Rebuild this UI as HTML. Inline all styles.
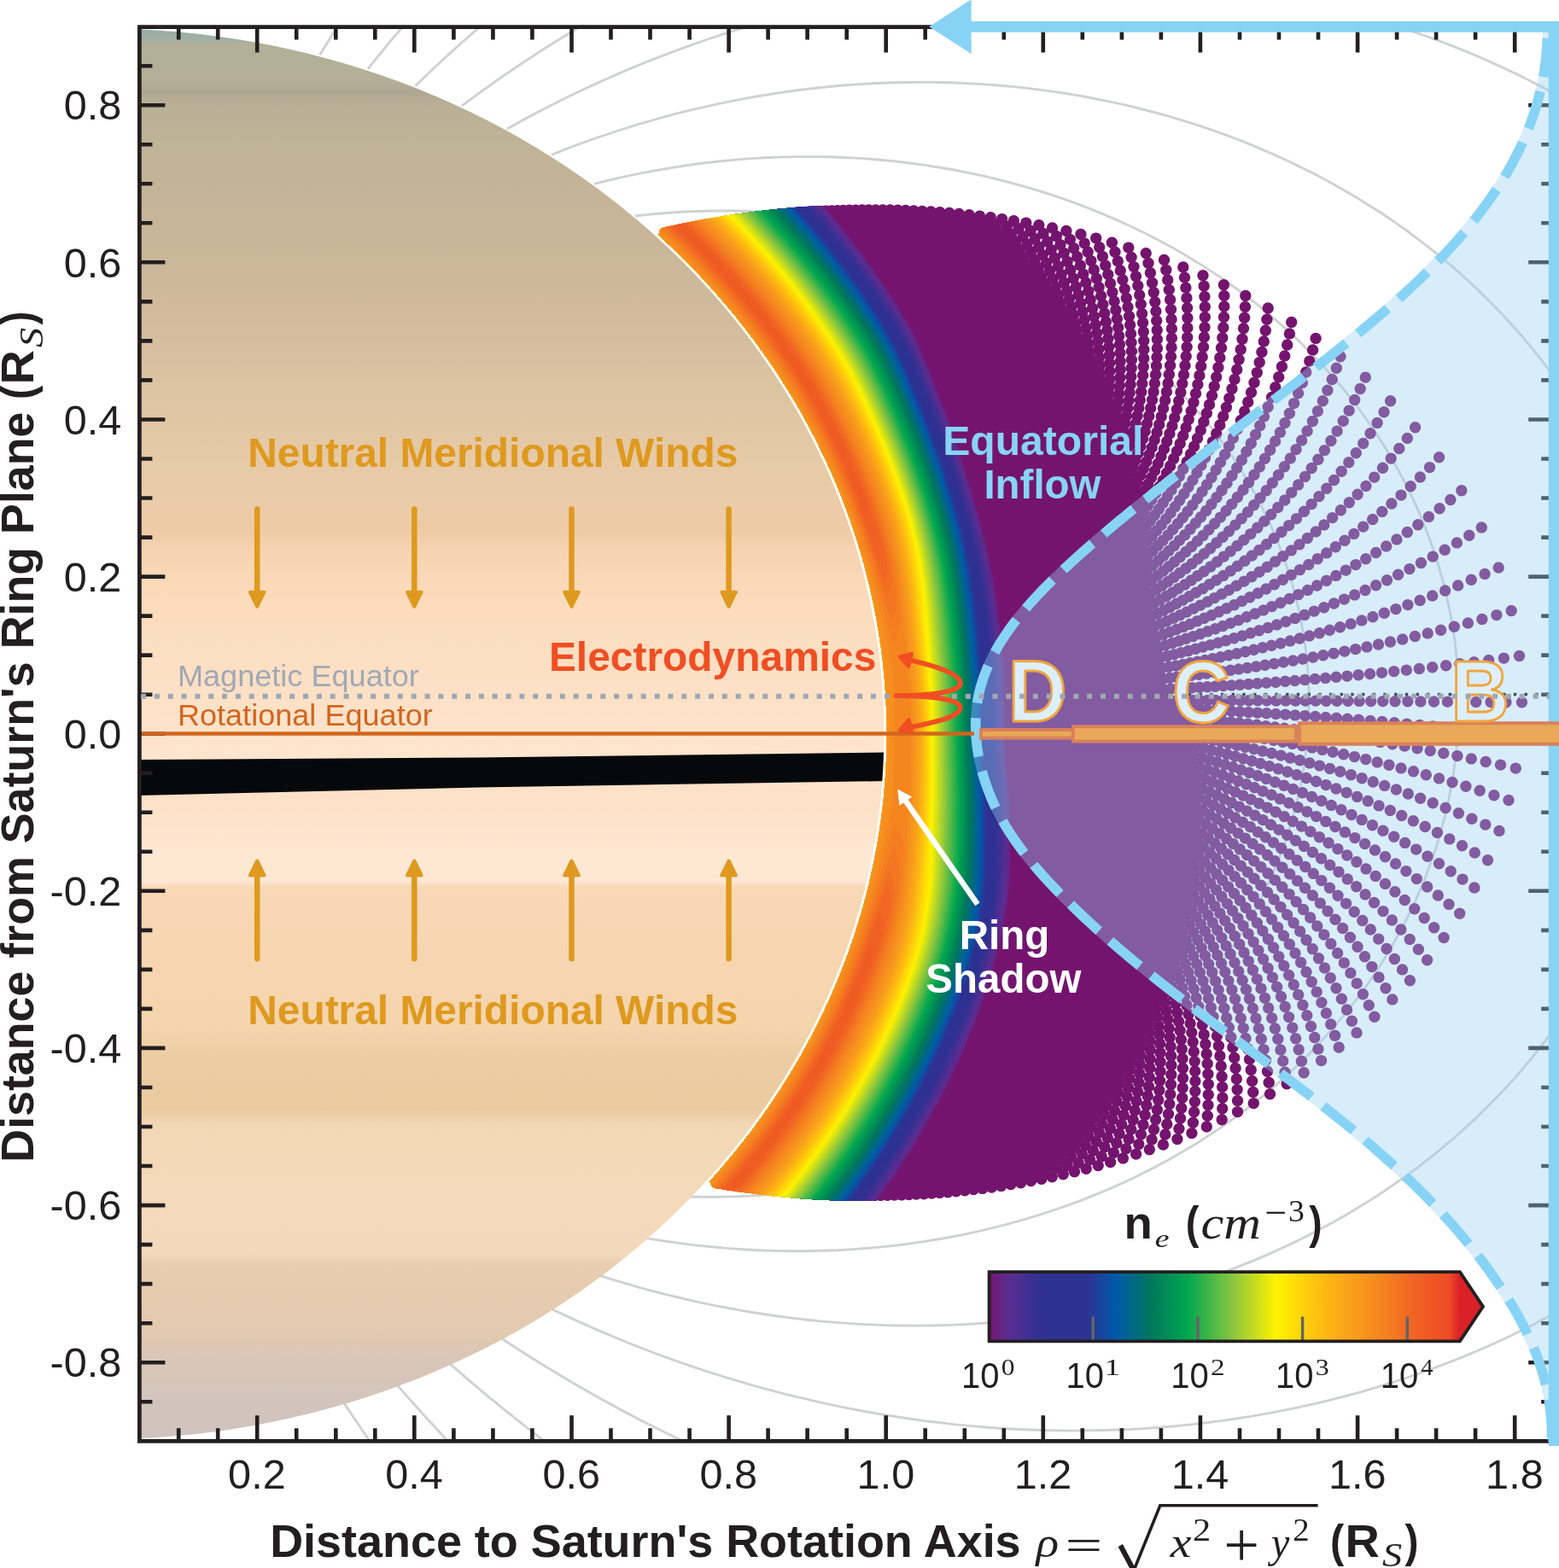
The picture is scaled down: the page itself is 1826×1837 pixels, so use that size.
<!DOCTYPE html>
<html lang="en"><head><meta charset="utf-8"><title>Saturn ionosphere schematic</title>
<style>html,body{margin:0;padding:0;background:#fff}svg{display:block}</style></head>
<body>
<svg xmlns="http://www.w3.org/2000/svg" width="1826" height="1837" viewBox="0 0 1826 1837">
<defs><clipPath id="plot"><rect x="161.1" y="29.2" width="1664.9" height="1661.4"/></clipPath>
<linearGradient id="sat" gradientUnits="userSpaceOnUse" x1="0" y1="0" x2="0" y2="1837"><stop offset="0.0169" stop-color="#96aaa8"/><stop offset="0.0250" stop-color="#a0b0a8"/><stop offset="0.0283" stop-color="#b2b098"/><stop offset="0.0517" stop-color="#b4af96"/><stop offset="0.0588" stop-color="#aea790"/><stop offset="0.0664" stop-color="#b8b096"/><stop offset="0.0898" stop-color="#bfb398"/><stop offset="0.1394" stop-color="#c7b597"/><stop offset="0.1884" stop-color="#ceb99a"/><stop offset="0.2379" stop-color="#dac2a1"/><stop offset="0.2869" stop-color="#e5c9a6"/><stop offset="0.3266" stop-color="#eccca8"/><stop offset="0.3386" stop-color="#eecaa6"/><stop offset="0.3511" stop-color="#f6d4b1"/><stop offset="0.3811" stop-color="#fbdbbb"/><stop offset="0.4355" stop-color="#fde0c5"/><stop offset="0.4682" stop-color="#fee3ca"/><stop offset="0.4818" stop-color="#fee5ce"/><stop offset="0.5090" stop-color="#fce1c6"/><stop offset="0.5297" stop-color="#fde4cd"/><stop offset="0.5444" stop-color="#fee8d4"/><stop offset="0.5618" stop-color="#fee8d4"/><stop offset="0.5661" stop-color="#f8d8b5"/><stop offset="0.5988" stop-color="#f7d6b2"/><stop offset="0.6532" stop-color="#f4d5ad"/><stop offset="0.6750" stop-color="#eccda3"/><stop offset="0.7077" stop-color="#eacba0"/><stop offset="0.7175" stop-color="#f3d8b6"/><stop offset="0.7621" stop-color="#f4daba"/><stop offset="0.8002" stop-color="#f3d9bb"/><stop offset="0.8068" stop-color="#e8cdaf"/><stop offset="0.8492" stop-color="#e3c9af"/><stop offset="0.8710" stop-color="#d8c6b8"/><stop offset="0.9200" stop-color="#cdc3be"/></linearGradient>
<clipPath id="satc"><ellipse cx="117.1" cy="859.7" rx="918.3" ry="826.5"/></clipPath>
<clipPath id="reg"><path d="M780.1,279.7 778.7,279.9 777.3,279.8 776,279.3 774.7,278.6 773.7,277.7 772.9,276.6 772.3,275.3 772,273.9 772,272.5 772.3,271.2 772.8,269.9 773.6,268.8 774.7,267.8 775.9,267.1 777.2,266.7 777.2,266.7 783.5,265.3 789.9,263.9 796.2,262.6 802.6,261.3 809,260 815.5,258.8 821.9,257.6 828.4,256.4 834.9,255.3 841.4,254.2 847.9,253.1 854.5,252.1 861,251.1 867.6,250.2 874.2,249.3 880.8,248.4 887.5,247.6 894.1,246.8 900.8,246 907.4,245.3 914.1,244.6 920.8,244 927.6,243.3 934.3,242.8 941,242.3 947.8,241.8 954.5,241.3 961.3,240.9 968.1,240.6 974.9,240.2 981.7,240 988.5,239.7 995.3,239.5 1002.2,239.4 1009,239.3 1015.9,239.2 1022.7,239.2 1029.6,239.2 1036.4,239.2 1043.3,239.3 1050.2,239.5 1057,239.7 1063.9,239.9 1070.8,240.2 1077.7,240.5 1084.5,240.9 1091.4,241.3 1098.3,241.8 1105.2,242.3 1112.1,242.8 1118.9,243.4 1125.8,244.1 1132.7,244.7 1139.6,245.5 1146.4,246.3 1153.3,247.1 1160.1,247.9 1167,248.9 1173.8,249.8 1180.7,250.8 1187.5,251.9 1194.3,253 1201.1,254.2 1207.9,255.4 1214.7,256.6 1221.5,257.9 1228.3,259.2 1235,260.6 1241.8,262.1 1248.5,263.5 1255.2,265.1 1261.9,266.7 1268.6,268.3 1275.3,270 1281.9,271.7 1288.6,273.5 1295.2,275.3 1301.8,277.1 1308.4,279 1315,281 1321.5,283 1328,285.1 1334.5,287.2 1341,289.3 1347.5,291.5 1353.9,293.8 1360.3,296.1 1366.7,298.4 1373.1,300.8 1379.4,303.2 1385.7,305.7 1392,308.2 1398.3,310.8 1404.5,313.4 1410.7,316.1 1416.8,318.8 1423,321.6 1429.1,324.4 1435.2,327.3 1441.2,330.2 1447.2,333.1 1453.2,336.1 1459.1,339.2 1465,342.2 1470.9,345.4 1476.7,348.5 1482.5,351.8 1488.3,355 1494,358.3 1499.7,361.7 1505.3,365.1 1511,368.5 1516.5,372 1522,375.6 1527.5,379.1 1533,382.7 1538.4,386.4 1543.7,390.1 1549,393.8 1554.3,397.6 1559.5,401.5 1564.7,405.3 1569.8,409.2 1574.9,413.2 1579.9,417.2 1584.9,421.2 1589.9,425.3 1594.8,429.4 1599.6,433.5 1604.4,437.7 1609.1,441.9 1613.8,446.2 1618.5,450.5 1623.1,454.8 1627.6,459.2 1632.1,463.6 1636.5,468.1 1640.9,472.6 1645.2,477.1 1649.4,481.6 1653.6,486.2 1657.8,490.8 1661.9,495.5 1665.9,500.2 1669.9,504.9 1673.8,509.7 1677.7,514.4 1681.5,519.3 1685.2,524.1 1688.9,529 1692.5,533.9 1696.1,538.8 1699.6,543.8 1703,548.8 1706.4,553.8 1709.7,558.9 1713,564 1716.2,569.1 1719.3,574.2 1722.3,579.4 1725.3,584.6 1728.3,589.8 1731.1,595 1733.9,600.3 1736.7,605.6 1739.3,610.9 1741.9,616.2 1744.5,621.5 1746.9,626.9 1749.3,632.3 1751.7,637.7 1753.9,643.2 1756.1,648.6 1758.3,654.1 1760.3,659.6 1762.3,665.1 1764.2,670.6 1766.1,676.1 1767.8,681.7 1769.6,687.2 1771.2,692.8 1772.8,698.4 1774.3,704 1775.7,709.6 1777,715.3 1778.3,720.9 1779.5,726.6 1780.7,732.2 1781.8,737.9 1782.8,743.6 1783.7,749.3 1784.5,755 1785.3,760.7 1786,766.4 1786.7,772.1 1787.2,777.8 1787.7,783.5 1788.2,789.3 1788.5,795 1788.8,800.7 1789,806.5 1789.1,812.2 1789.2,818 1789.1,823.7 1789.1,829.4 1788.9,835.2 1788.7,840.9 1788.4,846.6 1788,852.4 1787.6,858.1 1787,863.8 1786.5,869.5 1785.8,875.3 1785.1,881 1784.3,886.7 1783.4,892.4 1782.5,898 1781.5,903.7 1780.4,909.4 1779.2,915 1778,920.7 1776.7,926.3 1775.4,932 1773.9,937.6 1772.4,943.2 1770.9,948.8 1769.2,954.3 1767.5,959.9 1765.7,965.5 1763.9,971 1762,976.5 1760,982 1758,987.5 1755.8,993 1753.7,998.4 1751.4,1003.8 1749.1,1009.2 1746.7,1014.6 1744.3,1020 1741.8,1025.3 1739.2,1030.7 1736.5,1036 1733.8,1041.3 1731.1,1046.5 1728.2,1051.8 1725.3,1057 1722.4,1062.2 1719.3,1067.3 1716.2,1072.5 1713.1,1077.6 1709.9,1082.7 1706.6,1087.7 1703.2,1092.7 1699.8,1097.7 1696.4,1102.7 1692.9,1107.7 1689.3,1112.6 1685.7,1117.5 1682,1122.3 1678.2,1127.2 1674.4,1132 1670.5,1136.7 1666.6,1141.4 1662.6,1146.1 1658.6,1150.8 1654.5,1155.4 1650.3,1160 1646.1,1164.6 1641.8,1169.1 1637.5,1173.6 1633.2,1178.1 1628.7,1182.5 1624.3,1186.9 1619.7,1191.3 1615.2,1195.6 1610.5,1199.9 1605.8,1204.1 1601.1,1208.3 1596.3,1212.5 1591.5,1216.6 1586.6,1220.7 1581.7,1224.7 1576.7,1228.8 1571.7,1232.7 1566.7,1236.7 1561.6,1240.5 1556.4,1244.4 1551.2,1248.2 1546,1252 1540.7,1255.7 1535.4,1259.4 1530,1263 1524.6,1266.6 1519.1,1270.2 1513.6,1273.7 1508.1,1277.2 1502.5,1280.6 1496.9,1284 1491.3,1287.3 1485.6,1290.6 1479.9,1293.9 1474.1,1297.1 1468.3,1300.3 1462.5,1303.4 1456.6,1306.5 1450.7,1309.5 1444.8,1312.5 1438.9,1315.4 1432.9,1318.3 1426.8,1321.2 1420.8,1324 1414.7,1326.7 1408.6,1329.4 1402.4,1332.1 1396.3,1334.7 1390.1,1337.3 1383.8,1339.8 1377.6,1342.3 1371.3,1344.7 1365,1347.1 1358.7,1349.5 1352.3,1351.8 1345.9,1354 1339.5,1356.2 1333.1,1358.4 1326.7,1360.5 1320.2,1362.5 1313.7,1364.6 1307.2,1366.5 1300.7,1368.4 1294.1,1370.3 1287.6,1372.1 1281,1373.9 1274.4,1375.6 1267.8,1377.3 1261.2,1379 1254.5,1380.6 1247.9,1382.1 1241.2,1383.6 1234.5,1385 1227.8,1386.4 1221.1,1387.8 1214.4,1389.1 1207.7,1390.4 1200.9,1391.6 1194.2,1392.7 1187.4,1393.9 1180.7,1394.9 1173.9,1396 1167.1,1397 1160.3,1397.9 1153.6,1398.8 1146.8,1399.6 1140,1400.4 1133.2,1401.2 1126.3,1401.9 1119.5,1402.5 1112.7,1403.2 1105.9,1403.7 1099.1,1404.3 1092.3,1404.7 1085.5,1405.2 1078.6,1405.6 1071.8,1405.9 1065,1406.2 1058.2,1406.5 1051.4,1406.7 1044.6,1406.9 1037.8,1407 1031,1407.1 1024.2,1407.1 1017.4,1407.1 1010.6,1407.1 1003.9,1407 997.1,1406.9 990.3,1406.7 983.6,1406.5 976.8,1406.3 970.1,1406 963.4,1405.6 956.7,1405.3 950,1404.9 943.3,1404.4 936.6,1403.9 929.9,1403.4 923.2,1402.8 916.6,1402.2 910,1401.5 903.3,1400.9 896.7,1400.1 890.1,1399.4 883.6,1398.6 877,1397.7 870.5,1396.8 863.9,1395.9 857.4,1395 850.9,1394 844.4,1393 838,1391.9 838,1391.9 836.6,1391.6 835.4,1390.9 834.3,1390 833.4,1388.9 832.8,1387.7 832.5,1386.3 832.4,1384.9 832.6,1383.5 833.1,1382.2 833.9,1381.1 834.9,1380.1 836.1,1379.3 837.4,1378.8 838.8,1378.6 840.2,1378.7 830.1,1385.2 833,1382 835.8,1378.9 838.7,1375.7 841.5,1372.5 844.3,1369.3 847.1,1366 849.8,1362.8 852.6,1359.6 855.3,1356.3 858,1353 860.7,1349.7 863.3,1346.5 866,1343.1 868.6,1339.8 871.2,1336.5 873.8,1333.2 876.4,1329.8 879,1326.4 881.5,1323.1 884,1319.7 886.5,1316.3 889,1312.9 891.5,1309.4 893.9,1306 896.4,1302.6 898.8,1299.1 901.2,1295.6 903.5,1292.2 905.9,1288.7 908.2,1285.2 910.5,1281.7 912.8,1278.2 915.1,1274.6 917.4,1271.1 919.6,1267.6 921.8,1264 924,1260.4 926.2,1256.9 928.3,1253.3 930.5,1249.7 932.6,1246.1 934.7,1242.5 936.8,1238.8 938.9,1235.2 940.9,1231.6 942.9,1227.9 944.9,1224.3 946.9,1220.6 948.9,1216.9 950.8,1213.2 952.7,1209.5 954.6,1205.8 956.5,1202.1 958.4,1198.4 960.2,1194.7 962,1191 963.8,1187.2 965.6,1183.5 967.4,1179.7 969.1,1175.9 970.8,1172.2 972.5,1168.4 974.2,1164.6 975.8,1160.8 977.5,1157 979.1,1153.2 980.7,1149.4 982.3,1145.5 983.8,1141.7 985.3,1137.9 986.8,1134 988.3,1130.2 989.8,1126.3 991.2,1122.4 992.7,1118.6 994.1,1114.7 995.5,1110.8 996.8,1106.9 998.2,1103 999.5,1099.1 1000.8,1095.2 1002.1,1091.3 1003.3,1087.4 1004.5,1083.5 1005.8,1079.5 1006.9,1075.6 1008.1,1071.7 1009.3,1067.7 1010.4,1063.8 1011.5,1059.8 1012.6,1055.9 1013.6,1051.9 1014.7,1047.9 1015.7,1043.9 1016.7,1040 1017.7,1036 1018.6,1032 1019.5,1028 1020.4,1024 1021.3,1020 1022.2,1016 1023,1012 1023.9,1008 1024.7,1004 1025.4,1000 1026.2,995.9 1026.9,991.9 1027.6,987.9 1028.3,983.9 1029,979.8 1029.6,975.8 1030.3,971.7 1030.9,967.7 1031.4,963.7 1032,959.6 1032.5,955.6 1033,951.5 1033.5,947.5 1034,943.4 1034.5,939.3 1034.9,935.3 1035.3,931.2 1035.7,927.2 1036,923.1 1036.3,919 1036.7,915 1037,910.9 1037.2,906.8 1037.5,902.7 1037.7,898.7 1037.9,894.6 1038.1,890.5 1038.2,886.4 1038.4,882.4 1038.5,878.3 1038.6,874.2 1038.6,870.1 1038.7,866.1 1038.7,862 1038.7,857.9 1038.7,853.8 1038.6,849.8 1038.6,845.7 1038.5,841.6 1038.4,837.5 1038.2,833.4 1038.1,829.4 1037.9,825.3 1037.7,821.2 1037.5,817.1 1037.3,813.1 1037,809 1036.7,804.9 1036.4,800.9 1036.1,796.8 1035.7,792.7 1035.3,788.7 1034.9,784.6 1034.5,780.5 1034.1,776.5 1033.6,772.4 1033.1,768.4 1032.6,764.3 1032.1,760.3 1031.5,756.2 1030.9,752.2 1030.3,748.1 1029.7,744.1 1029.1,740.1 1028.4,736 1027.7,732 1027,728 1026.3,723.9 1025.5,719.9 1024.8,715.9 1024,711.9 1023.1,707.9 1022.3,703.9 1021.4,699.9 1020.6,695.9 1019.6,691.9 1018.7,687.9 1017.8,683.9 1016.8,679.9 1015.8,675.9 1014.8,672 1013.8,668 1012.7,664 1011.6,660.1 1010.5,656.1 1009.4,652.2 1008.2,648.2 1007.1,644.3 1005.9,640.3 1004.7,636.4 1003.5,632.5 1002.2,628.6 1000.9,624.7 999.6,620.7 998.3,616.8 997,612.9 995.6,609.1 994.2,605.2 992.8,601.3 991.4,597.4 990,593.6 988.5,589.7 987,585.8 985.5,582 984,578.2 982.4,574.3 980.9,570.5 979.3,566.7 977.7,562.9 976,559.1 974.4,555.3 972.7,551.5 971,547.7 969.3,543.9 967.6,540.2 965.8,536.4 964,532.6 962.2,528.9 960.4,525.2 958.6,521.4 956.7,517.7 954.9,514 953,510.3 951,506.6 949.1,502.9 947.1,499.2 945.2,495.6 943.2,491.9 941.1,488.3 939.1,484.6 937,481 935,477.4 932.9,473.8 930.7,470.1 928.6,466.6 926.5,463 924.3,459.4 922.1,455.8 919.9,452.3 917.6,448.7 915.4,445.2 913.1,441.7 910.8,438.1 908.5,434.6 906.2,431.1 903.8,427.6 901.4,424.2 899,420.7 896.6,417.3 894.2,413.8 891.8,410.4 889.3,407 886.8,403.5 884.3,400.1 881.8,396.8 879.3,393.4 876.7,390 874.1,386.7 871.5,383.3 868.9,380 866.3,376.7 863.7,373.3 861,370 858.3,366.8 855.6,363.5 852.9,360.2 850.1,357 847.4,353.7 844.6,350.5 841.8,347.3 839,344.1 836.2,340.9 833.3,337.7 830.5,334.6 827.6,331.4 824.7,328.3 821.8,325.2 818.9,322.1 815.9,319 813,315.9 810,312.8 807,309.7 804,306.7 801,303.7 797.9,300.6 794.8,297.6 791.8,294.6 788.7,291.7 785.6,288.7 782.4,285.7 779.3,282.8 776.1,279.9 773,277 769.8,274.1Z"/></clipPath>
<linearGradient id="cb" gradientUnits="userSpaceOnUse" x1="1157.5" y1="0" x2="1709.5" y2="0"><stop offset="0.0000" stop-color="#74146e"/><stop offset="0.0422" stop-color="#5c2d91"/><stop offset="0.1111" stop-color="#2e3192"/><stop offset="0.2067" stop-color="#2e3192"/><stop offset="0.2711" stop-color="#005aaa"/><stop offset="0.3467" stop-color="#00785a"/><stop offset="0.4222" stop-color="#00a650"/><stop offset="0.5200" stop-color="#8cc63f"/><stop offset="0.6111" stop-color="#fff200"/><stop offset="0.7111" stop-color="#fdb913"/><stop offset="0.8000" stop-color="#f7941e"/><stop offset="0.9022" stop-color="#f16423"/><stop offset="0.9778" stop-color="#ef4b26"/><stop offset="1.0000" stop-color="#da2128"/></linearGradient></defs>
<rect width="1826" height="1837" fill="#fff"/>
<g fill="none" stroke="#cfd1d2" stroke-width="2.9" clip-path="url(#plot)">
<path d="M744,253 762.4,251 780.7,249.5 799.1,248.3 817.5,247.5 835.9,247 854.3,247 872.7,247.3 891.1,248.1 909.5,249.2 927.8,250.8 946.1,252.7 964.4,255 982.6,257.8 1000.7,260.9 1018.8,264.5 1036.8,268.5 1054.7,272.9 1072.4,277.7 1090.1,282.9 1107.6,288.5 1125,294.6 1142.2,301.1 1159.3,308 1176.2,315.3 1192.9,323.1 1209.4,331.3 1225.6,339.9 1241.6,349 1257.4,358.5 1272.9,368.4 1288.2,378.7 1303.1,389.5 1317.8,400.6 1332.1,412.2 1346,424.2 1359.6,436.7 1372.8,449.5 1385.6,462.7 1398,476.3 1410,490.3 1421.5,504.7 1432.6,519.4 1443.1,534.5 1453.2,549.9 1462.7,565.7 1471.7,581.7 1480.1,598.1 1488,614.7 1495.3,631.7 1501.9,648.8 1508,666.2 1513.4,683.8 1518.2,701.6 1522.3,719.5 1525.8,737.6 1528.6,755.8 1530.8,774.1 1532.2,792.4 1533,810.8 1533.1,829.2 1532.5,847.6 1531.2,866 1529.2,884.3 1526.6,902.5 1523.2,920.6 1519.3,938.6 1514.6,956.4 1509.4,974.1 1503.5,991.5 1496.9,1008.7 1489.8,1025.7 1482.1,1042.4 1473.8,1058.9 1465,1075 1455.6,1090.8 1445.7,1106.4 1435.2,1121.5 1424.3,1136.4 1412.9,1150.8 1401.1,1164.9 1388.8,1178.6 1376.1,1192 1363,1204.9 1349.5,1217.5 1335.7,1229.6 1321.5,1241.3 1307,1252.7 1292.2,1263.6 1277,1274 1261.6,1284.1 1245.9,1293.8 1230,1303 1213.8,1311.8 1197.4,1320.2 1180.8,1328.1 1164,1335.7 1147.1,1342.8 1129.9,1349.5 1112.6,1355.8 1095.2,1361.7 1077.6,1367.2 1059.9,1372.2 1042.1,1376.9 1024.2,1381.1 1006.2,1385 988.1,1388.5 969.9,1391.5 951.7,1394.2 933.4,1396.5 915.1,1398.4 896.8,1399.9 878.4,1401.1 860,1401.9 841.6,1402.3 823.2,1402.3 804.8,1402 786.4,1401.3 777.2,1400.8"/>
<path d="M696,215.4 713.8,211 731.8,206.9 749.8,203.1 767.9,199.7 786,196.6 804.2,193.8 822.5,191.3 840.8,189.2 859.1,187.4 877.4,185.9 895.8,184.8 914.2,184.1 932.6,183.6 951,183.6 969.5,183.8 987.9,184.5 1006.2,185.4 1024.6,186.8 1042.9,188.5 1061.2,190.5 1079.5,192.9 1097.7,195.7 1115.8,198.8 1133.9,202.3 1151.9,206.2 1169.8,210.5 1187.6,215.1 1205.4,220.1 1223,225.5 1240.5,231.2 1257.8,237.4 1275,243.9 1292.1,250.8 1309,258.1 1325.7,265.8 1342.3,273.8 1358.6,282.3 1374.8,291.1 1390.7,300.3 1406.4,309.9 1421.9,319.9 1437.1,330.3 1452.1,341 1466.7,352.2 1481.1,363.7 1495.2,375.6 1508.9,387.8 1522.3,400.4 1535.4,413.4 1548.1,426.7 1560.4,440.4 1572.3,454.5 1583.9,468.8 1595,483.5 1605.6,498.5 1615.8,513.8 1625.6,529.5 1634.8,545.4 1643.6,561.5 1651.9,578 1659.6,594.7 1666.9,611.6 1673.5,628.8 1679.7,646.1 1685.2,663.7 1690.2,681.4 1694.6,699.3 1698.4,717.3 1701.7,735.4 1704.3,753.7 1706.3,772 1707.7,790.3 1708.5,808.7 1708.6,827.1 1708.2,845.5 1707.1,863.9 1705.4,882.2 1703.2,900.5 1700.3,918.7 1696.8,936.8 1692.7,954.7 1688,972.5 1682.8,990.2 1676.9,1007.6 1670.6,1024.9 1663.6,1042 1656.2,1058.8 1648.2,1075.4 1639.7,1091.7 1630.7,1107.8 1621.2,1123.6 1611.3,1139.1 1600.9,1154.3 1590,1169.1 1578.7,1183.7 1567,1197.9 1554.9,1211.8 1542.5,1225.3 1529.6,1238.5 1516.4,1251.3 1502.9,1263.8 1489,1275.9 1474.8,1287.6 1460.3,1299 1445.5,1310 1430.5,1320.6 1415.2,1330.8 1399.6,1340.7 1383.8,1350.1 1367.8,1359.2 1351.6,1367.9 1335.2,1376.3 1318.6,1384.2 1301.8,1391.8 1284.8,1398.9 1267.7,1405.8 1250.5,1412.2 1233.1,1418.2 1215.6,1423.9 1197.9,1429.2 1180.2,1434.1 1162.4,1438.7 1144.4,1442.9 1126.4,1446.8 1108.3,1450.2 1090.2,1453.3 1072,1456.1 1053.7,1458.5 1035.4,1460.6 1017.1,1462.3 998.7,1463.6 980.4,1464.7 962,1465.3 943.6,1465.7 925.1,1465.7 906.7,1465.4 888.3,1464.7 869.9,1463.7 851.6,1462.4 833.2,1460.8 814.9,1458.9 796.7,1456.6 778.4,1454 760.2,1451.1 742.1,1447.9 724,1444.4 724,1444.4"/>
<path d="M645.9,181.5 663,174.7 680.2,168.2 697.5,162 715,156 732.5,150.3 750.1,144.9 767.8,139.8 785.5,134.9 803.3,130.4 821.3,126.1 839.2,122.1 857.3,118.3 875.3,114.9 893.5,111.7 911.7,108.9 929.9,106.3 948.2,104 966.5,102 984.8,100.3 1003.2,98.9 1021.5,97.8 1039.9,97 1058.3,96.5 1076.8,96.3 1095.2,96.4 1113.6,96.8 1132,97.6 1150.4,98.6 1168.7,100 1187.1,101.6 1205.4,103.6 1223.6,105.9 1241.8,108.5 1260,111.4 1278.1,114.7 1296.2,118.3 1314.2,122.2 1332.1,126.5 1349.9,131 1367.7,135.9 1385.3,141.2 1402.9,146.7 1420.3,152.6 1437.7,158.9 1454.9,165.4 1471.9,172.4 1488.8,179.6 1505.6,187.2 1522.2,195.1 1538.7,203.4 1555,212 1571,221 1586.9,230.3 1602.6,239.9 1618.1,249.8 1633.4,260.1 1648.4,270.8 1663.2,281.8 1677.7,293.1 1692,304.7 1706,316.7 1719.7,329 1733.1,341.6 1746.2,354.5 1759,367.7 1771.5,381.3 1783.6,395.1 1795.4,409.3 1806.8,423.7 1817.8,438.5 1828.5,453.5 1838.7,468.8 1848.6,484.3 1858,500.2 1867,516.2 1875.6,532.5 1883.7,549 1891.4,565.8 1898.6,582.7 1898.6,582.7"/>
<path d="M1897.4,1067.2 1890.2,1084.1 1882.4,1100.8 1874.2,1117.3 1865.6,1133.5 1856.5,1149.6 1847,1165.3 1837.1,1180.8 1826.8,1196.1 1816.1,1211.1 1805,1225.8 1793.5,1240.2 1781.7,1254.3 1769.5,1268.1 1757,1281.6 1744.2,1294.8 1731,1307.7 1717.5,1320.2 1703.8,1332.5 1689.8,1344.4 1675.5,1356 1660.9,1367.3 1646.1,1378.2 1631,1388.8 1615.8,1399.1 1600.3,1409 1584.5,1418.6 1568.6,1427.9 1552.5,1436.8 1536.2,1445.4 1519.8,1453.6 1503.1,1461.5 1486.4,1469.1 1469.4,1476.3 1452.4,1483.2 1435.2,1489.8 1417.8,1496 1400.4,1501.9 1382.8,1507.5 1365.2,1512.7 1347.5,1517.7 1329.6,1522.2 1311.7,1526.5 1293.7,1530.4 1275.7,1534 1257.6,1537.3 1239.4,1540.3 1221.2,1543 1202.9,1545.3 1184.6,1547.3 1166.3,1549.1 1147.9,1550.5 1129.5,1551.6 1111.1,1552.4 1092.7,1552.9 1074.3,1553.1 1055.9,1553 1037.5,1552.6 1019.1,1551.9 1000.7,1550.9 982.4,1549.6 964,1548.1 945.7,1546.2 927.4,1544.1 909.1,1541.7 890.9,1539 872.8,1536.1 854.6,1532.8 836.6,1529.3 818.5,1525.6 800.6,1521.5 782.7,1517.2 764.8,1512.6 747.1,1507.8 729.4,1502.7 711.8,1497.3 694.2,1491.7 676.8,1485.8 676.8,1485.8"/>
<path d="M594,151 610.1,142.1 626.3,133.3 642.7,124.8 659.1,116.5 675.6,108.5 692.3,100.6 709.1,93 725.9,85.6 742.9,78.4 759.9,71.5 777.1,64.8 794.3,58.3 811.6,52.1 829,46 846.5,40.2 864.1,34.7 881.7,29.3 899.4,24.2 917.1,19.4 935,14.8 952.8,10.4 970.8,6.2 988.8,2.3 1006.8,-1.3 1024.9,-4.7 1043,-7.9 1061.2,-10.9 1079.4,-13.5 1097.7,-16 1116,-18.2 1134.3,-20.1 1152.6,-21.8 1171,-23.2 1189.3,-24.4 1207.7,-25.3 1226.1,-26 1244.5,-26.4 1263,-26.5 1281.4,-26.4 1299.8,-26 1318.2,-25.4 1336.6,-24.4 1354.9,-23.3 1373.3,-21.8 1391.6,-20.1 1409.9,-18.1 1428.2,-15.8 1446.4,-13.3 1464.6,-10.5 1482.8,-7.4 1500.9,-4 1518.9,-0.4 1536.9,3.5 1554.8,7.8 1572.7,12.2 1590.5,17 1608.2,22.1 1625.8,27.4 1643.3,33 1660.8,39 1678.1,45.2 1695.3,51.7 1712.5,58.4 1729.5,65.5 1746.3,72.9 1763.1,80.5 1779.7,88.5 1796.2,96.7 1812.5,105.2 1828.6,114 1844.6,123.1 1860.5,132.5 1876.1,142.2 1891.6,152.2 1899.3,157.3"/>
<path d="M1894.2,1494.4 1878.8,1504.4 1863.2,1514.1 1847.4,1523.6 1831.4,1532.8 1815.3,1541.6 1799,1550.2 1782.6,1558.5 1766,1566.5 1749.3,1574.3 1732.4,1581.7 1715.5,1588.8 1698.4,1595.7 1681.2,1602.2 1663.9,1608.5 1646.5,1614.5 1628.9,1620.2 1611.4,1625.6 1593.7,1630.8 1575.9,1635.6 1558.1,1640.2 1540.2,1644.5 1522.2,1648.5 1504.2,1652.2 1486.1,1655.7 1468,1658.9 1449.8,1661.8 1431.5,1664.4 1413.3,1666.8 1395,1668.9 1376.7,1670.7 1358.3,1672.3 1340,1673.6 1321.6,1674.6 1303.2,1675.3 1284.8,1675.8 1266.4,1676.1 1248,1676.1 1229.5,1675.8 1211.1,1675.3 1192.7,1674.5 1174.4,1673.5 1156,1672.2 1137.7,1670.6 1119.3,1668.9 1101,1666.8 1082.8,1664.6 1064.5,1662 1046.3,1659.3 1028.1,1656.3 1010,1653 991.9,1649.6 973.9,1645.9 955.9,1641.9 938,1637.7 920.1,1633.3 902.3,1628.7 884.5,1623.8 866.8,1618.7 849.2,1613.4 831.7,1607.9 814.2,1602.1 796.8,1596.1 779.4,1589.9 762.2,1583.5 745,1576.9 727.9,1570 710.9,1562.9 694,1555.6 677.2,1548.1 660.5,1540.4 643.9,1532.5 627.3,1524.4 619.1,1520.2"/>
<path d="M540.8,124.1 555.6,113.2 570.5,102.4 585.5,91.8 600.7,81.3 616,71.1 631.4,61 646.9,51.1 662.6,41.4 678.3,31.9 694.2,22.5 710.1,13.3 726.2,4.3 742.3,-4.5 758.6,-13.2 774.9,-21.7 791.4,-30 807.9,-38.1 807.9,-38.1"/>
<path d="M965.6,1757.1 948.3,1750.8 931,1744.4 913.8,1737.7 896.7,1730.9 879.7,1723.9 862.7,1716.8 845.9,1709.4 829.1,1701.9 812.3,1694.2 795.7,1686.3 779.1,1678.3 762.7,1670 746.3,1661.7 730,1653.1 713.8,1644.3 697.7,1635.4 681.6,1626.3 665.7,1617.1 649.9,1607.6 634.2,1598 618.6,1588.3 603.1,1578.3 587.7,1568.2 572.4,1558 564.8,1552.8"/>
<path d="M486.3,100.7 499.6,88 513,75.3 526.5,62.9 540.2,50.5 554,38.3 567.9,26.2 581.9,14.3 596,2.5 610.2,-9.2 624.6,-20.8 639,-32.2 646.3,-37.8"/>
<path d="M734,1757.5 718.8,1747.2 703.7,1736.6 688.6,1726 673.7,1715.2 658.9,1704.3 644.2,1693.3 629.5,1682.1 615,1670.8 600.5,1659.4 586.2,1647.8 572,1636.1 557.8,1624.3 543.8,1612.4 529.9,1600.3 516.1,1588.1 502.5,1575.8 502.5,1575.8"/>
<path d="M430.9,80.8 442.4,66.4 454.1,52.2 465.9,38.1 477.9,24.1 489.9,10.1 502,-3.7 514.3,-17.4 526.7,-31.1 532.9,-37.9"/>
<path d="M587.9,1753.7 574.9,1740.7 562,1727.5 549.1,1714.3 536.4,1701 523.8,1687.6 511.3,1674.1 498.9,1660.5 486.5,1646.8 474.3,1633.1 462.2,1619.2 450.2,1605.2 450.2,1605.2"/>
<path d="M374.6,64.2 384.3,48.6 394.1,33 404,17.5 414,2 424.1,-13.4 434.3,-28.7 439.5,-36.3"/>
<path d="M478.6,1752.8 467.8,1737.9 457.1,1722.9 446.5,1707.8 436.1,1692.7 425.6,1677.5 415.3,1662.2 405.1,1646.9 395,1631.5 390,1623.8"/>
</g>
<g clip-path="url(#plot)"><g clip-path="url(#satc)"><rect x="100" y="0" width="960" height="1700" fill="url(#sat)"/><path d="M160,890 L560,887.5 L1040,881.5 L1040,915 L560,922.5 L160,932Z" fill="#07080a"/></g></g>
<g stroke="#231f20" stroke-width="4.7" fill="none" stroke-linecap="butt">
<path d="M163.4,29.2V1690.6M161.1,1688.3H1822M161.1,31.6H1100M1820.2,29.2V1690"/>
<path stroke-width="4.6" d="M209.2,1688.3v-15M209.2,31.6v15M255.2,1688.3v-15M255.2,31.6v15M301.2,1688.3v-30M301.2,31.6v30M347.2,1688.3v-15M347.2,31.6v15M393.3,1688.3v-15M393.3,31.6v15M439.3,1688.3v-15M439.3,31.6v15M485.3,1688.3v-30M485.3,31.6v30M531.4,1688.3v-15M531.4,31.6v15M577.4,1688.3v-15M577.4,31.6v15M623.4,1688.3v-15M623.4,31.6v15M669.5,1688.3v-30M669.5,31.6v30M715.5,1688.3v-15M715.5,31.6v15M761.5,1688.3v-15M761.5,31.6v15M807.6,1688.3v-15M807.6,31.6v15M853.6,1688.3v-30M853.6,31.6v30M899.6,1688.3v-15M899.6,31.6v15M945.6,1688.3v-15M945.6,31.6v15M991.7,1688.3v-15M991.7,31.6v15M1037.7,1688.3v-30M1037.7,31.6v30M1083.7,1688.3v-15M1083.7,31.6v15M1129.8,1688.3v-15M1129.8,31.6v15M1175.8,1688.3v-15M1175.8,31.6v15M1221.8,1688.3v-30M1221.8,31.6v30M1267.8,1688.3v-15M1267.8,31.6v15M1313.9,1688.3v-15M1313.9,31.6v15M1359.9,1688.3v-15M1359.9,31.6v15M1405.9,1688.3v-30M1405.9,31.6v30M1452,1688.3v-15M1452,31.6v15M1498,1688.3v-15M1498,31.6v15M1544,1688.3v-15M1544,31.6v15M1590.1,1688.3v-30M1590.1,31.6v30M1636.1,1688.3v-15M1636.1,31.6v15M1682.1,1688.3v-15M1682.1,31.6v15M1728.1,1688.3v-15M1728.1,31.6v15M1774.2,1688.3v-30M1774.2,31.6v30M1820.2,1688.3v-15M1820.2,31.6v15M163.4,1642.2h15M1820.2,1642.2h-15M163.4,1596.2h30M1820.2,1596.2h-30M163.4,1550.2h15M1820.2,1550.2h-15M163.4,1504.1h15M1820.2,1504.1h-15M163.4,1458.1h15M1820.2,1458.1h-15M163.4,1412.1h30M1820.2,1412.1h-30M163.4,1366h15M1820.2,1366h-15M163.4,1320h15M1820.2,1320h-15M163.4,1274h15M1820.2,1274h-15M163.4,1227.9h30M1820.2,1227.9h-30M163.4,1181.9h15M1820.2,1181.9h-15M163.4,1135.9h15M1820.2,1135.9h-15M163.4,1089.9h15M1820.2,1089.9h-15M163.4,1043.8h30M1820.2,1043.8h-30M163.4,997.8h15M1820.2,997.8h-15M163.4,951.8h15M1820.2,951.8h-15M163.4,905.7h15M1820.2,905.7h-15M163.4,859.7h30M1820.2,859.7h-30M163.4,813.7h15M1820.2,813.7h-15M163.4,767.6h15M1820.2,767.6h-15M163.4,721.6h15M1820.2,721.6h-15M163.4,675.6h30M1820.2,675.6h-30M163.4,629.6h15M1820.2,629.6h-15M163.4,583.5h15M1820.2,583.5h-15M163.4,537.5h15M1820.2,537.5h-15M163.4,491.5h30M1820.2,491.5h-30M163.4,445.4h15M1820.2,445.4h-15M163.4,399.4h15M1820.2,399.4h-15M163.4,353.4h15M1820.2,353.4h-15M163.4,307.3h30M1820.2,307.3h-30M163.4,261.3h15M1820.2,261.3h-15M163.4,215.3h15M1820.2,215.3h-15M163.4,169.2h15M1820.2,169.2h-15M163.4,123.2h30M1820.2,123.2h-30M163.4,77.2h15M1820.2,77.2h-15"/>
</g>
<path d="M1150.5,813.5H1815" stroke="#000" stroke-width="3.4" stroke-dasharray="3.4 9.3" fill="none"/>
<path d="M891.4,406.2 888.8,405.3 886.8,403.4 885.7,400.8 885.8,398 887,395.5 889.1,393.7 891.8,392.9 893.2,393 900.4,393.9 907.6,395 914.9,396.1 922.1,397.3 929.3,398.6 936.4,399.9 943.6,401.3 950.7,402.8 957.8,404.3 964.9,406 972,407.7 979.1,409.4 986.1,411.3 993.1,413.2 1000.1,415.1 1007,417.2 1014,419.3 1020.8,421.5 1027.7,423.8 1034.5,426.1 1041.3,428.5 1048.1,431 1054.8,433.5 1061.4,436.2 1068.1,438.9 1074.7,441.6 1081.2,444.5 1087.7,447.4 1094.2,450.3 1100.6,453.4 1106.9,456.5 1113.2,459.7 1119.5,462.9 1125.7,466.2 1131.8,469.6 1137.9,473 1144,476.6 1150,480.1 1155.9,483.8 1161.7,487.5 1167.5,491.3 1173.3,495.1 1179,499 1184.6,503 1190.1,507 1195.6,511.1 1201,515.3 1206.3,519.5 1211.6,523.8 1216.7,528.1 1221.9,532.5 1226.9,537 1231.9,541.5 1236.7,546.1 1241.5,550.7 1246.3,555.4 1250.9,560.1 1255.5,564.9 1259.9,569.7 1264.3,574.6 1268.7,579.6 1272.9,584.6 1277,589.6 1281.1,594.7 1285,599.8 1288.9,605 1292.7,610.2 1296.3,615.5 1299.9,620.8 1303.4,626.2 1306.8,631.6 1310.2,637 1313.4,642.5 1316.5,648 1319.5,653.6 1322.4,659.1 1325.2,664.8 1328,670.4 1330.6,676.1 1333.1,681.8 1335.5,687.6 1337.8,693.4 1340,699.2 1342.1,705 1344.1,710.8 1346,716.7 1347.8,722.6 1349.5,728.5 1351.1,734.5 1352.6,740.4 1353.9,746.4 1355.2,752.4 1356.4,758.4 1357.4,764.4 1358.3,770.5 1359.2,776.5 1359.9,782.6 1360.5,788.6 1361,794.7 1361.4,800.8 1361.7,806.9 1361.8,812.9 1361.9,819 1361.9,825.1 1361.7,831.2 1361.5,837.3 1361.1,843.3 1360.6,849.4 1360,855.5 1359.4,861.5 1358.6,867.6 1357.7,873.6 1356.7,879.6 1355.5,885.6 1354.3,891.6 1353,897.6 1351.6,903.6 1350.1,909.5 1348.4,915.4 1346.7,921.4 1344.8,927.2 1342.9,933.1 1340.8,938.9 1338.7,944.8 1336.4,950.5 1334.1,956.3 1331.6,962 1329.1,967.7 1326.4,973.4 1323.7,979 1320.9,984.6 1317.9,990.2 1314.9,995.7 1311.7,1001.2 1308.5,1006.7 1305.2,1012.1 1301.8,1017.5 1298.3,1022.8 1294.7,1028.1 1291,1033.4 1287.2,1038.6 1283.3,1043.8 1279.4,1048.9 1275.3,1054 1271.2,1059 1267,1064 1262.7,1068.9 1258.3,1073.8 1253.8,1078.6 1249.3,1083.4 1244.7,1088.1 1240,1092.7 1235.2,1097.4 1230.3,1101.9 1225.4,1106.4 1220.4,1110.9 1215.3,1115.2 1210.2,1119.6 1204.9,1123.8 1199.6,1128.1 1194.3,1132.2 1188.8,1136.3 1183.3,1140.3 1177.8,1144.3 1172.1,1148.2 1166.5,1152 1160.7,1155.8 1154.9,1159.5 1149,1163.2 1143.1,1166.7 1137.1,1170.3 1131.1,1173.7 1125,1177.1 1118.8,1180.4 1112.6,1183.7 1106.4,1186.9 1100.1,1190 1093.7,1193 1087.3,1196 1080.9,1198.9 1074.4,1201.7 1067.9,1204.5 1061.3,1207.2 1054.7,1209.9 1048,1212.4 1041.4,1214.9 1034.6,1217.3 1027.9,1219.7 1021.1,1222 1014.3,1224.2 1007.4,1226.3 1000.6,1228.4 993.6,1230.4 986.7,1232.3 979.8,1234.2 972.8,1236 965.8,1237.7 958.7,1239.3 951.7,1240.9 948.2,1241.7 945.4,1241.7 942.8,1240.5 941,1238.5 940.1,1235.8 940.4,1233 941.8,1230.6 944,1229 938,1236.7 941,1231.5 943.9,1226.2 946.7,1220.9 949.6,1215.6 952.3,1210.3 955.1,1204.9 957.8,1199.6 960.5,1194.2 963.1,1188.8 965.6,1183.4 968.2,1178 970.7,1172.5 973.1,1167.1 975.5,1161.6 977.9,1156.1 980.2,1150.6 982.4,1145.1 984.7,1139.5 986.9,1134 989,1128.4 991.1,1122.8 993.2,1117.3 995.2,1111.7 997.1,1106 999,1100.4 1000.9,1094.8 1002.8,1089.1 1004.5,1083.5 1006.3,1077.8 1008,1072.1 1009.6,1066.4 1011.2,1060.7 1012.8,1055 1014.3,1049.3 1015.8,1043.5 1017.2,1037.8 1018.6,1032 1019.9,1026.3 1021.2,1020.5 1022.5,1014.7 1023.7,1008.9 1024.8,1003.1 1025.9,997.3 1027,991.5 1028,985.7 1029,979.9 1029.9,974.1 1030.8,968.2 1031.6,962.4 1032.4,956.6 1033.1,950.7 1033.8,944.9 1034.5,939 1035.1,933.1 1035.6,927.3 1036.2,921.4 1036.6,915.5 1037,909.7 1037.4,903.8 1037.7,897.9 1038,892 1038.2,886.2 1038.4,880.3 1038.6,874.4 1038.7,868.5 1038.7,862.6 1038.7,856.7 1038.7,850.8 1038.6,845 1038.4,839.1 1038.2,833.2 1038,827.3 1037.7,821.4 1037.4,815.5 1037,809.7 1036.6,803.8 1036.1,797.9 1035.6,792.1 1035.1,786.2 1034.5,780.3 1033.8,774.5 1033.1,768.6 1032.4,762.8 1031.6,756.9 1030.8,751.1 1029.9,745.3 1029,739.4 1028,733.6 1027,727.8 1025.9,722 1024.8,716.2 1023.7,710.4 1022.5,704.6 1021.2,698.8 1019.9,693.1 1018.6,687.3 1017.2,681.6 1015.8,675.8 1014.3,670.1 1012.8,664.3 1011.2,658.6 1009.6,652.9 1008,647.2 1006.3,641.5 1004.5,635.9 1002.7,630.2 1000.9,624.6 999,618.9 997.1,613.3 995.1,607.7 993.1,602.1 991.1,596.5 989,590.9 986.8,585.4 984.7,579.8 982.4,574.3 980.2,568.8 977.8,563.3 975.5,557.8 973.1,552.3 970.6,546.8 968.1,541.4 965.6,536 963,530.6 960.4,525.2 957.8,519.8 955.1,514.4 952.3,509.1 949.5,503.8 946.7,498.4 943.8,493.2 940.9,487.9 938,482.6 935,477.4 931.9,472.2 928.9,467 925.8,461.8 922.6,456.7 919.4,451.5 916.2,446.4 912.9,441.3 909.6,436.3 906.2,431.2 902.8,426.2 899.4,421.2 895.9,416.2 892.4,411.2 888.8,406.3 885.2,401.4Z" fill="#74146e"/>
<path d="M1782.5,822.8h0M1764,822.7h0M1746.1,822.5h0M1728.8,822.4h0M1711.9,822.2h0M1695.4,822.1h0M1679.5,822h0M1663.9,821.9h0M1648.8,821.8h0M1634,821.7h0M1619.7,821.6h0M1605.7,821.5h0M1592.1,821.4h0M1578.8,821.3h0M1565.9,821.2h0M1553.3,821.2h0M1541,821.1h0M1529,821h0M1517.3,821h0M1505.9,820.9h0M1494.7,820.9h0M1483.8,820.8h0M1473.2,820.8h0M1462.8,820.7h0M1452.7,820.7h0M1442.8,820.6h0M1433.1,820.6h0M1423.7,820.5h0M1414.4,820.5h0M1405.4,820.5h0M1396.5,820.4h0M1387.9,820.4h0M1379.5,820.4h0M1371.2,820.3h0M1363.1,820.3h0M1355.2,820.3h0M1779.5,768.5h0M1761.4,771.1h0M1743.7,773.5h0M1726.5,775.7h0M1709.8,777.8h0M1693.6,779.8h0M1677.7,781.7h0M1662.3,783.4h0M1647.3,785.1h0M1632.7,786.6h0M1618.5,788.1h0M1604.6,789.5h0M1591.1,790.8h0M1577.9,792.1h0M1565,793.3h0M1552.5,794.4h0M1540.2,795.4h0M1528.3,796.4h0M1516.6,797.4h0M1505.3,798.3h0M1494.2,799.2h0M1483.3,800h0M1472.7,800.8h0M1462.4,801.5h0M1452.3,802.2h0M1442.4,802.9h0M1432.8,803.5h0M1423.3,804.2h0M1414.1,804.7h0M1405.1,805.3h0M1396.3,805.8h0M1387.7,806.3h0M1379.2,806.8h0M1371,807.3h0M1362.9,807.7h0M1355,808.2h0M1770.2,715.5h0M1752.9,720.6h0M1735.9,725.4h0M1719.4,729.9h0M1703.3,734.2h0M1687.6,738.2h0M1672.2,741.9h0M1657.3,745.5h0M1642.7,748.9h0M1628.4,752h0M1614.5,755h0M1600.9,757.9h0M1587.7,760.6h0M1574.8,763.1h0M1562.1,765.5h0M1549.8,767.8h0M1537.8,770h0M1526,772h0M1514.5,774h0M1503.3,775.8h0M1492.3,777.6h0M1481.6,779.3h0M1471.2,780.9h0M1460.9,782.4h0M1450.9,783.9h0M1441.1,785.3h0M1431.6,786.6h0M1422.2,787.8h0M1413.1,789h0M1404.1,790.2h0M1395.4,791.3h0M1386.8,792.3h0M1378.4,793.3h0M1370.2,794.3h0M1362.2,795.2h0M1354.4,796.1h0M1755.2,665h0M1739.1,672.4h0M1723.2,679.3h0M1707.7,685.9h0M1692.6,692h0M1677.7,697.9h0M1663.1,703.4h0M1648.9,708.6h0M1634.9,713.6h0M1621.3,718.3h0M1607.9,722.7h0M1594.9,726.9h0M1582.1,730.9h0M1569.6,734.7h0M1557.3,738.3h0M1545.4,741.7h0M1533.6,744.9h0M1522.2,748h0M1511,750.9h0M1500,753.7h0M1489.3,756.3h0M1478.8,758.8h0M1468.5,761.2h0M1458.5,763.5h0M1448.6,765.7h0M1439,767.8h0M1429.6,769.7h0M1420.4,771.6h0M1411.4,773.4h0M1402.5,775.2h0M1393.9,776.8h0M1385.4,778.4h0M1377.1,779.9h0M1369,781.3h0M1361.1,782.7h0M1353.3,784h0M1735.3,617.9h0M1720.8,627.2h0M1706.4,635.9h0M1692.2,644.2h0M1678.2,652.1h0M1664.4,659.5h0M1650.9,666.6h0M1637.6,673.3h0M1624.5,679.7h0M1611.6,685.7h0M1599,691.5h0M1586.6,696.9h0M1574.4,702.1h0M1562.4,707h0M1550.7,711.7h0M1539.2,716.1h0M1528,720.4h0M1516.9,724.4h0M1506.1,728.2h0M1495.4,731.9h0M1485,735.4h0M1474.8,738.7h0M1464.8,741.8h0M1455,744.9h0M1445.4,747.7h0M1436,750.5h0M1426.8,753.1h0M1417.8,755.6h0M1408.9,758h0M1400.3,760.3h0M1391.8,762.5h0M1383.5,764.6h0M1375.3,766.6h0M1367.3,768.5h0M1359.5,770.3h0M1351.8,772.1h0M1711.8,574.8h0M1698.9,585.5h0M1686.1,595.7h0M1673.4,605.4h0M1660.8,614.7h0M1648.3,623.5h0M1635.9,631.9h0M1623.7,639.9h0M1611.6,647.5h0M1599.7,654.7h0M1587.9,661.6h0M1576.3,668.1h0M1564.8,674.4h0M1553.6,680.3h0M1542.5,686h0M1531.6,691.4h0M1520.8,696.6h0M1510.3,701.5h0M1499.9,706.2h0M1489.7,710.6h0M1479.7,714.9h0M1469.9,719h0M1460.2,722.8h0M1450.7,726.6h0M1441.4,730.1h0M1432.3,733.5h0M1423.3,736.7h0M1414.5,739.8h0M1405.9,742.8h0M1397.4,745.6h0M1389.1,748.3h0M1380.9,750.9h0M1373,753.4h0M1365.1,755.8h0M1357.4,758.1h0M1349.9,760.2h0M1685.6,535.7h0M1674.5,547.6h0M1663.4,558.9h0M1652.2,569.7h0M1641,580.1h0M1629.9,590h0M1618.8,599.4h0M1607.7,608.5h0M1596.7,617.1h0M1585.8,625.4h0M1575,633.2h0M1564.3,640.8h0M1553.7,647.9h0M1543.2,654.8h0M1532.8,661.4h0M1522.5,667.6h0M1512.4,673.6h0M1502.4,679.3h0M1492.6,684.8h0M1482.9,690h0M1473.3,695h0M1463.9,699.8h0M1454.6,704.3h0M1445.5,708.7h0M1436.6,712.8h0M1427.7,716.8h0M1419.1,720.7h0M1410.5,724.3h0M1402.2,727.8h0M1393.9,731.2h0M1385.9,734.4h0M1377.9,737.4h0M1370.1,740.4h0M1362.5,743.2h0M1354.9,745.9h0M1347.5,748.5h0M1657.6,500.8h0M1648.3,513.4h0M1638.8,525.5h0M1629.2,537.1h0M1619.5,548.3h0M1609.7,559.1h0M1599.9,569.4h0M1590.1,579.3h0M1580.3,588.8h0M1570.4,597.8h0M1560.6,606.6h0M1550.8,614.9h0M1541.1,622.9h0M1531.4,630.5h0M1521.8,637.9h0M1512.3,644.9h0M1502.8,651.6h0M1493.5,658h0M1484.2,664.2h0M1475,670.1h0M1466,675.7h0M1457.1,681.1h0M1448.2,686.3h0M1439.5,691.3h0M1431,696h0M1422.5,700.6h0M1414.2,705h0M1406,709.1h0M1397.9,713.1h0M1389.9,717h0M1382.1,720.7h0M1374.4,724.2h0M1366.8,727.6h0M1359.4,730.9h0M1352,734h0M1344.8,737h0M1628.6,469.7h0M1621,482.8h0M1613.1,495.4h0M1605,507.7h0M1596.7,519.5h0M1588.3,530.8h0M1579.8,541.8h0M1571.2,552.3h0M1562.5,562.5h0M1553.8,572.2h0M1545,581.6h0M1536.2,590.6h0M1527.4,599.3h0M1518.5,607.6h0M1509.7,615.6h0M1501,623.2h0M1492.2,630.6h0M1483.5,637.7h0M1474.9,644.4h0M1466.3,651h0M1457.8,657.2h0M1449.4,663.2h0M1441.1,668.9h0M1432.8,674.4h0M1424.7,679.7h0M1416.6,684.8h0M1408.7,689.7h0M1400.8,694.3h0M1393,698.8h0M1385.4,703.1h0M1377.8,707.3h0M1370.4,711.2h0M1363.1,715h0M1355.8,718.7h0M1348.7,722.2h0M1341.7,725.6h0M1599.3,442.1h0M1593.2,455.5h0M1586.7,468.5h0M1580.1,481.1h0M1573.2,493.3h0M1566.1,505.1h0M1558.9,516.5h0M1551.4,527.6h0M1543.9,538.2h0M1536.2,548.5h0M1528.5,558.4h0M1520.6,567.9h0M1512.7,577.1h0M1504.8,586h0M1496.8,594.5h0M1488.8,602.8h0M1480.8,610.7h0M1472.8,618.3h0M1464.8,625.6h0M1456.9,632.6h0M1449,639.4h0M1441.1,645.9h0M1433.3,652.1h0M1425.5,658.2h0M1417.8,663.9h0M1410.1,669.5h0M1402.6,674.8h0M1395.1,679.9h0M1387.7,684.9h0M1380.3,689.6h0M1373.1,694.2h0M1366,698.5h0M1358.9,702.7h0M1351.9,706.8h0M1345.1,710.7h0M1338.3,714.4h0M1570,417.8h0M1565.3,431.3h0M1560.2,444.5h0M1554.9,457.3h0M1549.3,469.7h0M1543.4,481.8h0M1537.4,493.5h0M1531.1,504.9h0M1524.6,515.9h0M1518,526.6h0M1511.3,536.9h0M1504.4,546.8h0M1497.4,556.5h0M1490.3,565.8h0M1483.2,574.8h0M1475.9,583.4h0M1468.7,591.8h0M1461.4,599.9h0M1454.1,607.6h0M1446.8,615.1h0M1439.4,622.4h0M1432.1,629.3h0M1424.8,636h0M1417.6,642.5h0M1410.3,648.7h0M1403.1,654.7h0M1396,660.4h0M1388.9,666h0M1381.8,671.3h0M1374.9,676.4h0M1367.9,681.4h0M1361.1,686.1h0M1354.3,690.7h0M1347.6,695.1h0M1341,699.4h0M1334.5,703.5h0M1541.1,396.4h0M1537.6,409.9h0M1533.8,423.1h0M1529.7,436h0M1525.3,448.5h0M1520.6,460.7h0M1515.6,472.6h0M1510.4,484.2h0M1505,495.5h0M1499.4,506.4h0M1493.6,517h0M1487.6,527.3h0M1481.5,537.2h0M1475.3,546.9h0M1469,556.2h0M1462.5,565.3h0M1456,574h0M1449.4,582.5h0M1442.8,590.6h0M1436.1,598.5h0M1429.4,606.1h0M1422.6,613.5h0M1415.9,620.6h0M1409.1,627.4h0M1402.4,634h0M1395.6,640.4h0M1388.9,646.5h0M1382.2,652.5h0M1375.6,658.2h0M1369,663.7h0M1362.4,669h0M1355.9,674.1h0M1349.4,679h0M1343,683.7h0M1336.7,688.3h0M1330.4,692.7h0M1512.7,377.5h0M1510.4,390.9h0M1507.7,404h0M1504.7,416.9h0M1501.4,429.4h0M1497.7,441.7h0M1493.8,453.7h0M1489.6,465.4h0M1485.2,476.8h0M1480.5,487.9h0M1475.7,498.7h0M1470.6,509.2h0M1465.3,519.4h0M1459.9,529.3h0M1454.4,538.9h0M1448.7,548.2h0M1442.9,557.3h0M1437,566h0M1431,574.5h0M1425,582.7h0M1418.9,590.7h0M1412.7,598.4h0M1406.5,605.8h0M1400.2,613h0M1394,619.9h0M1387.7,626.7h0M1381.4,633.1h0M1375.2,639.4h0M1368.9,645.4h0M1362.7,651.3h0M1356.5,656.9h0M1350.3,662.3h0M1344.1,667.6h0M1338,672.6h0M1332,677.5h0M1326,682.2h0M1485.2,361h0M1483.9,374.2h0M1482.3,387.2h0M1480.3,399.9h0M1477.9,412.4h0M1475.2,424.6h0M1472.3,436.6h0M1469,448.3h0M1465.5,459.8h0M1461.7,471h0M1457.7,481.9h0M1453.4,492.5h0M1449,502.9h0M1444.4,513h0M1439.6,522.8h0M1434.6,532.4h0M1429.5,541.6h0M1424.3,550.6h0M1419,559.4h0M1413.5,567.9h0M1408,576.1h0M1402.4,584.1h0M1396.8,591.8h0M1391,599.3h0M1385.3,606.5h0M1379.5,613.5h0M1373.7,620.3h0M1367.8,626.9h0M1362,633.2h0M1356.1,639.3h0M1350.3,645.3h0M1344.4,651h0M1338.6,656.5h0M1332.8,661.9h0M1327,667h0M1321.3,672h0M1458.8,346.5h0M1458.4,359.5h0M1457.6,372.3h0M1456.5,384.8h0M1455,397.2h0M1453.2,409.4h0M1451.1,421.3h0M1448.7,433h0M1446,444.4h0M1443,455.6h0M1439.8,466.6h0M1436.4,477.3h0M1432.7,487.8h0M1428.8,498h0M1424.7,507.9h0M1420.5,517.6h0M1416,527.1h0M1411.5,536.3h0M1406.8,545.2h0M1401.9,553.9h0M1397,562.4h0M1391.9,570.6h0M1386.8,578.5h0M1381.6,586.3h0M1376.3,593.8h0M1371,601h0M1365.6,608.1h0M1360.2,614.9h0M1354.8,621.5h0M1349.3,627.9h0M1343.8,634.1h0M1338.3,640.1h0M1332.8,645.9h0M1327.4,651.5h0M1321.9,656.9h0M1316.4,662.2h0M1433.4,333.8h0M1433.8,346.5h0M1433.8,359.1h0M1433.5,371.5h0M1432.8,383.7h0M1431.8,395.7h0M1430.5,407.5h0M1428.8,419.1h0M1426.9,430.5h0M1424.7,441.7h0M1422.2,452.6h0M1419.5,463.4h0M1416.5,473.9h0M1413.3,484.2h0M1409.9,494.2h0M1406.3,504h0M1402.5,513.6h0M1398.6,522.9h0M1394.5,532h0M1390.2,540.9h0M1385.8,549.5h0M1381.3,557.9h0M1376.7,566.1h0M1372,574h0M1367.2,581.7h0M1362.3,589.2h0M1357.4,596.4h0M1352.4,603.5h0M1347.4,610.3h0M1342.3,617h0M1337.2,623.4h0M1332,629.6h0M1326.9,635.6h0M1321.7,641.5h0M1316.5,647.2h0M1311.4,652.6h0M1409,322.7h0M1410.2,335.1h0M1410.9,347.4h0M1411.3,359.6h0M1411.3,371.6h0M1411,383.4h0M1410.4,395.1h0M1409.5,406.6h0M1408.2,417.9h0M1406.7,429h0M1404.9,439.9h0M1402.9,450.6h0M1400.5,461.1h0M1398,471.4h0M1395.2,481.5h0M1392.2,491.4h0M1389.1,501h0M1385.7,510.5h0M1382.2,519.7h0M1378.5,528.6h0M1374.6,537.4h0M1370.6,545.9h0M1366.5,554.3h0M1362.3,562.4h0M1358,570.3h0M1353.5,577.9h0M1349,585.4h0M1344.5,592.6h0M1339.8,599.7h0M1335.1,606.5h0M1330.4,613.1h0M1325.6,619.6h0M1320.8,625.8h0M1315.9,631.9h0M1311,637.7h0M1306.2,643.4h0M1385.8,312.9h0M1387.5,325.1h0M1388.9,337.1h0M1389.9,349h0M1390.6,360.8h0M1390.9,372.4h0M1390.9,383.9h0M1390.7,395.3h0M1390.1,406.4h0M1389.2,417.5h0M1388,428.3h0M1386.5,439h0M1384.8,449.4h0M1382.9,459.7h0M1380.7,469.8h0M1378.3,479.7h0M1375.7,489.4h0M1372.9,498.9h0M1369.9,508.1h0M1366.7,517.2h0M1363.4,526.1h0M1359.9,534.7h0M1356.3,543.2h0M1352.5,551.4h0M1348.6,559.4h0M1344.7,567.3h0M1340.6,574.9h0M1336.4,582.3h0M1332.1,589.5h0M1327.8,596.5h0M1323.4,603.3h0M1319,609.9h0M1314.5,616.4h0M1310,622.6h0M1305.4,628.7h0M1300.8,634.6h0M1363.5,304.4h0M1365.8,316.2h0M1367.7,327.9h0M1369.3,339.6h0M1370.6,351.1h0M1371.5,362.6h0M1372.1,373.9h0M1372.4,385h0M1372.4,396.1h0M1372.1,407h0M1371.5,417.7h0M1370.6,428.3h0M1369.4,438.7h0M1368.1,448.9h0M1366.4,459h0M1364.6,468.9h0M1362.5,478.6h0M1360.2,488.1h0M1357.7,497.4h0M1355.1,506.5h0M1352.2,515.5h0M1349.2,524.2h0M1346,532.7h0M1342.7,541.1h0M1339.3,549.2h0M1335.7,557.1h0M1332,564.9h0M1328.3,572.4h0M1324.4,579.8h0M1320.4,587h0M1316.4,593.9h0M1312.3,600.7h0M1308.1,607.3h0M1303.9,613.7h0M1299.7,620h0M1295.4,626h0M1342.2,296.8h0M1345,308.3h0M1347.4,319.8h0M1349.5,331.2h0M1351.3,342.5h0M1352.8,353.7h0M1353.9,364.8h0M1354.7,375.8h0M1355.2,386.7h0M1355.4,397.4h0M1355.4,408h0M1355,418.5h0M1354.4,428.8h0M1353.5,439h0M1352.4,449h0M1351.1,458.9h0M1349.5,468.5h0M1347.7,478h0M1345.7,487.4h0M1343.5,496.5h0M1341.1,505.5h0M1338.5,514.3h0M1335.8,522.9h0M1332.9,531.3h0M1329.9,539.5h0M1326.8,547.6h0M1323.5,555.4h0M1320.1,563.1h0M1316.6,570.6h0M1313,577.9h0M1309.3,585h0M1305.5,591.9h0M1301.7,598.6h0M1297.8,605.2h0M1293.8,611.6h0M1289.8,617.8h0M1321.8,290.1h0M1325.1,301.4h0M1328,312.6h0M1330.5,323.7h0M1332.8,334.7h0M1334.7,345.7h0M1336.3,356.6h0M1337.6,367.4h0M1338.6,378.1h0M1339.3,388.7h0M1339.7,399.2h0M1339.8,409.5h0M1339.7,419.8h0M1339.3,429.8h0M1338.7,439.8h0M1337.8,449.6h0M1336.7,459.2h0M1335.3,468.7h0M1333.8,478h0M1332,487.2h0M1330.1,496.2h0M1328,505h0M1325.7,513.6h0M1323.2,522.1h0M1320.6,530.4h0M1317.8,538.5h0M1314.9,546.5h0M1311.9,554.2h0M1308.8,561.8h0M1305.5,569.2h0M1302.1,576.4h0M1298.7,583.5h0M1295.2,590.3h0M1291.6,597h0M1287.9,603.6h0M1284.2,609.9h0M1302.4,284.3h0M1306,295.2h0M1309.3,306.1h0M1312.3,317h0M1314.9,327.8h0M1317.3,338.5h0M1319.3,349.2h0M1321,359.8h0M1322.5,370.4h0M1323.6,380.8h0M1324.5,391.1h0M1325,401.3h0M1325.4,411.4h0M1325.4,421.4h0M1325.2,431.3h0M1324.8,441h0M1324.1,450.6h0M1323.2,460h0M1322.1,469.3h0M1320.7,478.5h0M1319.2,487.4h0M1317.5,496.3h0M1315.6,504.9h0M1313.5,513.4h0M1311.3,521.8h0M1308.9,530h0M1306.4,538h0M1303.7,545.8h0M1300.9,553.4h0M1298,560.9h0M1295,568.2h0M1291.8,575.4h0M1288.6,582.4h0M1285.3,589.2h0M1281.9,595.8h0M1278.5,602.3h0M1283.7,279.1h0M1287.7,289.7h0M1291.4,300.4h0M1294.7,311h0M1297.8,321.6h0M1300.5,332.1h0M1302.9,342.5h0M1305.1,353h0M1306.9,363.3h0M1308.4,373.5h0M1309.7,383.7h0M1310.7,393.8h0M1311.4,403.8h0M1311.9,413.6h0M1312.1,423.4h0M1312.1,433h0M1311.8,442.5h0M1311.3,451.9h0M1310.6,461.2h0M1309.6,470.3h0M1308.5,479.3h0M1307.2,488.1h0M1305.6,496.8h0M1304,505.3h0M1302.1,513.6h0M1300.1,521.8h0M1297.9,529.9h0M1295.6,537.8h0M1293.1,545.5h0M1290.5,553.1h0M1287.8,560.5h0M1285,567.7h0M1282.1,574.8h0M1279,581.7h0M1275.9,588.4h0M1272.8,595h0M1265.9,274.5h0M1270.2,284.9h0M1274.2,295.3h0M1277.9,305.6h0M1281.3,316h0M1284.4,326.2h0M1287.1,336.5h0M1289.6,346.7h0M1291.8,356.8h0M1293.7,366.9h0M1295.4,376.9h0M1296.7,386.9h0M1297.8,396.7h0M1298.7,406.4h0M1299.3,416.1h0M1299.6,425.6h0M1299.7,435.1h0M1299.6,444.4h0M1299.3,453.6h0M1298.7,462.6h0M1297.9,471.6h0M1297,480.4h0M1295.8,489h0M1294.5,497.6h0M1293,505.9h0M1291.3,514.2h0M1289.4,522.2h0M1287.4,530.2h0M1285.3,537.9h0M1283,545.6h0M1280.6,553h0M1278.1,560.3h0M1275.5,567.5h0M1272.7,574.5h0M1269.9,581.3h0M1267,588h0M1248.9,270.5h0M1253.4,280.6h0M1257.7,290.7h0M1261.7,300.8h0M1265.4,310.9h0M1268.8,321h0M1271.9,331h0M1274.7,341h0M1277.2,351h0M1279.5,360.9h0M1281.5,370.7h0M1283.2,380.5h0M1284.6,390.2h0M1285.8,399.8h0M1286.8,409.3h0M1287.5,418.8h0M1288,428.1h0M1288.2,437.4h0M1288.2,446.5h0M1288,455.5h0M1287.6,464.4h0M1287,473.2h0M1286.1,481.8h0M1285.1,490.3h0M1283.9,498.7h0M1282.6,506.9h0M1281.1,515h0M1279.4,523h0M1277.6,530.8h0M1275.6,538.4h0M1273.5,545.9h0M1271.3,553.3h0M1268.9,560.5h0M1266.5,567.6h0M1263.9,574.5h0M1261.2,581.2h0M1232.5,266.9h0M1237.4,276.8h0M1241.9,286.7h0M1246.2,296.5h0M1250.1,306.4h0M1253.8,316.2h0M1257.2,326.1h0M1260.3,335.9h0M1263.2,345.6h0M1265.7,355.3h0M1268,365h0M1270.1,374.6h0M1271.8,384.2h0M1273.4,393.7h0M1274.6,403.1h0M1275.7,412.4h0M1276.5,421.7h0M1277,430.8h0M1277.4,439.9h0M1277.5,448.8h0M1277.4,457.6h0M1277.1,466.4h0M1276.6,475h0M1275.9,483.5h0M1275.1,491.8h0M1274,500h0M1272.8,508.1h0M1271.4,516.1h0M1269.9,523.9h0M1268.2,531.6h0M1266.4,539.2h0M1264.4,546.6h0M1262.4,553.8h0M1260.2,561h0M1257.9,567.9h0M1255.5,574.8h0M1216.8,263.8h0M1221.9,273.4h0M1226.7,283h0M1231.2,292.7h0M1235.4,302.3h0M1239.4,311.9h0M1243,321.6h0M1246.4,331.2h0M1249.6,340.7h0M1252.4,350.3h0M1255,359.8h0M1257.3,369.2h0M1259.4,378.7h0M1261.2,388h0M1262.8,397.3h0M1264.1,406.5h0M1265.2,415.6h0M1266.1,424.7h0M1266.8,433.7h0M1267.2,442.5h0M1267.4,451.3h0M1267.4,460h0M1267.2,468.5h0M1266.9,477h0M1266.3,485.3h0M1265.5,493.5h0M1264.6,501.6h0M1263.5,509.6h0M1262.3,517.4h0M1260.9,525.2h0M1259.3,532.7h0M1257.7,540.2h0M1255.9,547.5h0M1253.9,554.6h0M1251.9,561.7h0M1249.7,568.5h0M1201.8,261.1h0M1207.1,270.4h0M1212.1,279.8h0M1216.8,289.2h0M1221.3,298.6h0M1225.5,308.1h0M1229.4,317.5h0M1233,326.9h0M1236.4,336.3h0M1239.5,345.6h0M1242.4,355h0M1245,364.3h0M1247.3,373.5h0M1249.4,382.7h0M1251.3,391.9h0M1252.9,401h0M1254.3,410h0M1255.5,419h0M1256.4,427.9h0M1257.1,436.7h0M1257.6,445.4h0M1257.9,454h0M1258,462.5h0M1257.9,470.9h0M1257.7,479.2h0M1257.2,487.4h0M1256.6,495.5h0M1255.7,503.4h0M1254.8,511.3h0M1253.6,519h0M1252.4,526.6h0M1250.9,534h0M1249.4,541.4h0M1247.7,548.6h0M1245.9,555.6h0M1244,562.6h0M1187.4,258.7h0M1192.9,267.8h0M1198.1,276.9h0M1203,286.1h0M1207.7,295.3h0M1212.1,304.5h0M1216.2,313.8h0M1220.1,323h0M1223.7,332.2h0M1227,341.4h0M1230.1,350.6h0M1233,359.7h0M1235.6,368.8h0M1238,377.9h0M1240.1,386.9h0M1242,395.9h0M1243.6,404.8h0M1245.1,413.7h0M1246.3,422.4h0M1247.3,431.2h0M1248.1,439.8h0M1248.6,448.3h0M1249,456.8h0M1249.2,465.1h0M1249.2,473.4h0M1249,481.6h0M1248.6,489.6h0M1248.1,497.6h0M1247.3,505.4h0M1246.5,513.1h0M1245.4,520.7h0M1244.3,528.2h0M1243,535.5h0M1241.5,542.8h0M1239.9,549.9h0M1238.2,556.8h0M1173.6,256.6h0M1179.2,265.5h0M1184.6,274.4h0M1189.7,283.4h0M1194.5,292.4h0M1199.1,301.4h0M1203.5,310.4h0M1207.6,319.4h0M1211.4,328.5h0M1215,337.5h0M1218.3,346.5h0M1221.4,355.5h0M1224.2,364.4h0M1226.8,373.4h0M1229.2,382.3h0M1231.3,391.1h0M1233.3,399.9h0M1234.9,408.7h0M1236.4,417.4h0M1237.7,426h0M1238.7,434.5h0M1239.5,443h0M1240.2,451.4h0M1240.6,459.7h0M1240.8,467.9h0M1240.9,476h0M1240.8,484.1h0M1240.5,492h0M1240,499.8h0M1239.4,507.5h0M1238.6,515.1h0M1237.7,522.6h0M1236.6,530h0M1235.4,537.2h0M1234,544.3h0M1232.6,551.3h0M1160.3,254.7h0M1166,263.4h0M1171.6,272.1h0M1176.9,280.9h0M1181.9,289.7h0M1186.7,298.5h0M1191.2,307.3h0M1195.5,316.2h0M1199.5,325h0M1203.3,333.9h0M1206.8,342.8h0M1210.1,351.6h0M1213.2,360.4h0M1216,369.2h0M1218.6,378h0M1221,386.7h0M1223.1,395.4h0M1225.1,404h0M1226.8,412.6h0M1228.3,421.1h0M1229.5,429.6h0M1230.6,438h0M1231.5,446.3h0M1232.2,454.6h0M1232.7,462.7h0M1233,470.8h0M1233.1,478.8h0M1233,486.7h0M1232.8,494.5h0M1232.4,502.2h0M1231.8,509.8h0M1231.1,517.3h0M1230.3,524.6h0M1229.3,531.9h0M1228.2,539h0M1226.9,546.1h0M1147.5,253.1h0M1153.4,261.6h0M1159.1,270.1h0M1164.5,278.7h0M1169.7,287.3h0M1174.6,295.9h0M1179.3,304.6h0M1183.8,313.2h0M1188,321.9h0M1192,330.6h0M1195.7,339.3h0M1199.2,348h0M1202.5,356.7h0M1205.5,365.3h0M1208.3,374h0M1210.9,382.6h0M1213.3,391.1h0M1215.4,399.7h0M1217.4,408.2h0M1219.1,416.6h0M1220.6,425h0M1221.9,433.3h0M1223,441.5h0M1223.9,449.7h0M1224.6,457.8h0M1225.2,465.9h0M1225.5,473.8h0M1225.7,481.7h0M1225.7,489.4h0M1225.5,497.1h0M1225.2,504.7h0M1224.7,512.2h0M1224.1,519.5h0M1223.3,526.8h0M1222.4,534h0M1221.3,541h0M1135.2,251.7h0M1141.2,260h0M1147,268.3h0M1152.6,276.7h0M1157.9,285.1h0M1163,293.6h0M1167.9,302h0M1172.5,310.5h0M1176.9,319.1h0M1181,327.6h0M1185,336.1h0M1188.7,344.7h0M1192.1,353.2h0M1195.3,361.7h0M1198.4,370.2h0M1201.1,378.7h0M1203.7,387.2h0M1206.1,395.6h0M1208.2,404h0M1210.1,412.3h0M1211.8,420.6h0M1213.4,428.8h0M1214.7,437h0M1215.8,445.1h0M1216.7,453.2h0M1217.5,461.2h0M1218.1,469.1h0M1218.4,476.9h0M1218.7,484.6h0M1218.7,492.3h0M1218.6,499.8h0M1218.3,507.3h0M1217.9,514.7h0M1217.3,521.9h0M1216.6,529.1h0M1215.8,536.1h0M1123.3,250.5h0M1129.5,258.6h0M1135.4,266.8h0M1141.1,274.9h0M1146.6,283.2h0M1151.8,291.5h0M1156.8,299.8h0M1161.6,308.1h0M1166.1,316.5h0M1170.4,324.8h0M1174.5,333.2h0M1178.4,341.6h0M1182,350h0M1185.4,358.4h0M1188.6,366.8h0M1191.6,375.1h0M1194.4,383.5h0M1196.9,391.8h0M1199.3,400.1h0M1201.4,408.3h0M1203.3,416.5h0M1205,424.7h0M1206.6,432.8h0M1207.9,440.8h0M1209,448.8h0M1210,456.7h0M1210.8,464.6h0M1211.4,472.3h0M1211.8,480h0M1212,487.7h0M1212.1,495.2h0M1212.1,502.6h0M1211.8,510h0M1211.5,517.2h0M1210.9,524.4h0M1210.3,531.5h0M1111.9,249.5h0M1118.2,257.4h0M1124.2,265.4h0M1130,273.4h0M1135.6,281.4h0M1141,289.5h0M1146.1,297.7h0M1151,305.9h0M1155.7,314.1h0M1160.2,322.3h0M1164.4,330.5h0M1168.4,338.8h0M1172.2,347h0M1175.8,355.3h0M1179.2,363.5h0M1182.3,371.8h0M1185.3,380h0M1188,388.2h0M1190.5,396.4h0M1192.8,404.5h0M1195,412.6h0M1196.9,420.7h0M1198.6,428.7h0M1200.1,436.7h0M1201.5,444.6h0M1202.6,452.5h0M1203.6,460.3h0M1204.4,468h0M1205,475.7h0M1205.5,483.3h0M1205.7,490.8h0M1205.9,498.2h0M1205.8,505.5h0M1205.7,512.8h0M1205.3,519.9h0M1204.9,527h0M1100.9,248.7h0M1107.3,256.4h0M1113.4,264.2h0M1119.3,272h0M1125.1,279.9h0M1130.5,287.8h0M1135.8,295.8h0M1140.8,303.8h0M1145.6,311.9h0M1150.2,319.9h0M1154.6,328h0M1158.8,336.1h0M1162.8,344.3h0M1166.5,352.4h0M1170,360.5h0M1173.3,368.6h0M1176.4,376.8h0M1179.3,384.8h0M1182,392.9h0M1184.5,401h0M1186.8,409h0M1188.9,417h0M1190.8,424.9h0M1192.5,432.8h0M1194.1,440.7h0M1195.4,448.5h0M1196.6,456.2h0M1197.5,463.9h0M1198.3,471.5h0M1199,479.1h0M1199.5,486.5h0M1199.8,493.9h0M1199.9,501.3h0M1199.9,508.5h0M1199.8,515.6h0M1199.5,522.7h0M1090.3,247.9h0M1096.8,255.5h0M1103,263.1h0M1109,270.8h0M1114.8,278.5h0M1120.4,286.3h0M1125.8,294.1h0M1130.9,302h0M1135.9,309.9h0M1140.6,317.8h0M1145.1,325.7h0M1149.4,333.7h0M1153.5,341.7h0M1157.4,349.7h0M1161.1,357.7h0M1164.6,365.7h0M1167.8,373.7h0M1170.9,381.7h0M1173.7,389.7h0M1176.4,397.6h0M1178.9,405.6h0M1181.1,413.5h0M1183.2,421.3h0M1185.1,429.2h0M1186.8,436.9h0M1188.3,444.7h0M1189.7,452.4h0M1190.8,460h0M1191.8,467.6h0M1192.6,475.1h0M1193.3,482.5h0M1193.8,489.9h0M1194.1,497.2h0M1194.3,504.4h0M1194.3,511.5h0M1194.2,518.5h0M1080.1,247.4h0M1086.6,254.7h0M1092.9,262.2h0M1099,269.7h0M1104.9,277.3h0M1110.6,284.9h0M1116.1,292.6h0M1121.4,300.3h0M1126.4,308h0M1131.3,315.8h0M1135.9,323.6h0M1140.4,331.5h0M1144.6,339.3h0M1148.6,347.2h0M1152.4,355.1h0M1156,363h0M1159.4,370.9h0M1162.7,378.8h0M1165.7,386.6h0M1168.5,394.5h0M1171.1,402.3h0M1173.5,410.1h0M1175.8,417.9h0M1177.8,425.7h0M1179.7,433.4h0M1181.4,441.1h0M1182.9,448.7h0M1184.2,456.3h0M1185.4,463.8h0M1186.4,471.3h0M1187.2,478.6h0M1187.9,486h0M1188.4,493.2h0M1188.7,500.4h0M1188.9,507.5h0M1189,514.6h0M1070.2,246.9h0M1076.8,254.1h0M1083.2,261.4h0M1089.4,268.8h0M1095.4,276.2h0M1101.2,283.6h0M1106.7,291.2h0M1112.1,298.7h0M1117.3,306.4h0M1122.2,314h0M1127,321.7h0M1131.5,329.4h0M1135.9,337.1h0M1140,344.9h0M1144,352.7h0M1147.7,360.4h0M1151.3,368.2h0M1154.6,376h0M1157.8,383.8h0M1160.8,391.5h0M1163.5,399.3h0M1166.1,407h0M1168.5,414.7h0M1170.7,422.4h0M1172.8,430h0M1174.6,437.6h0M1176.3,445.2h0M1177.8,452.7h0M1179.1,460.2h0M1180.2,467.6h0M1181.2,475h0M1182.1,482.3h0M1182.7,489.5h0M1183.2,496.7h0M1183.6,503.7h0M1183.8,510.8h0M1060.7,246.5h0M1067.3,253.6h0M1073.8,260.7h0M1080.1,267.9h0M1086.1,275.2h0M1092,282.5h0M1097.7,289.9h0M1103.1,297.3h0M1108.4,304.8h0M1113.5,312.3h0M1118.3,319.9h0M1123,327.5h0M1127.4,335.1h0M1131.7,342.7h0M1135.8,350.4h0M1139.7,358h0M1143.3,365.7h0M1146.8,373.4h0M1150.1,381.1h0M1153.2,388.7h0M1156.2,396.4h0M1158.9,404h0M1161.4,411.7h0M1163.8,419.3h0M1166,426.8h0M1168,434.4h0M1169.8,441.9h0M1171.4,449.3h0M1172.9,456.8h0M1174.2,464.1h0M1175.4,471.4h0M1176.4,478.7h0M1177.2,485.9h0M1177.9,493h0M1178.4,500.1h0M1178.7,507.1h0M1051.5,246.2h0M1058.2,253.1h0M1064.7,260.1h0M1071.1,267.2h0M1077.2,274.3h0M1083.1,281.5h0M1088.9,288.8h0M1094.4,296.1h0M1099.8,303.4h0M1104.9,310.8h0M1109.9,318.2h0M1114.7,325.7h0M1119.2,333.2h0M1123.6,340.7h0M1127.8,348.3h0M1131.8,355.8h0M1135.6,363.4h0M1139.2,371h0M1142.7,378.5h0M1145.9,386.1h0M1148.9,393.7h0M1151.8,401.2h0M1154.5,408.8h0M1157,416.3h0M1159.3,423.8h0M1161.5,431.3h0M1163.4,438.7h0M1165.2,446.1h0M1166.8,453.5h0M1168.3,460.8h0M1169.6,468.1h0M1170.7,475.3h0M1171.7,482.5h0M1172.5,489.6h0M1173.2,496.6h0M1173.7,503.6h0M1042.6,246h0M1049.3,252.8h0M1055.9,259.7h0M1062.3,266.6h0M1068.5,273.6h0M1074.5,280.6h0M1080.4,287.8h0M1086,294.9h0M1091.4,302.2h0M1096.7,309.4h0M1101.7,316.7h0M1106.6,324.1h0M1111.3,331.4h0M1115.8,338.8h0M1120.1,346.3h0M1124.2,353.7h0M1128.1,361.2h0M1131.8,368.7h0M1135.4,376.1h0M1138.7,383.6h0M1141.9,391.1h0M1144.9,398.6h0M1147.7,406h0M1150.3,413.5h0M1152.8,420.9h0M1155.1,428.3h0M1157.2,435.7h0M1159.1,443h0M1160.9,450.4h0M1162.5,457.6h0M1163.9,464.9h0M1165.2,472h0M1166.3,479.2h0M1167.3,486.2h0M1168.1,493.2h0M1168.8,500.2h0M1034,245.9h0M1040.8,252.6h0M1047.4,259.3h0M1053.9,266.1h0M1060.1,272.9h0M1066.2,279.9h0M1072.1,286.8h0M1077.8,293.9h0M1083.3,301h0M1088.7,308.1h0M1093.8,315.3h0M1098.8,322.5h0M1103.5,329.8h0M1108.1,337.1h0M1112.5,344.4h0M1116.7,351.8h0M1120.8,359.1h0M1124.6,366.5h0M1128.3,373.9h0M1131.7,381.3h0M1135,388.7h0M1138.2,396.1h0M1141.1,403.4h0M1143.9,410.8h0M1146.4,418.2h0M1148.9,425.5h0M1151.1,432.8h0M1153.2,440.1h0M1155.1,447.4h0M1156.8,454.6h0M1158.4,461.8h0M1159.8,468.9h0M1161.1,476h0M1162.2,483h0M1163.1,490h0M1163.9,496.9h0M1025.6,245.9h0M1032.5,252.4h0M1039.2,259h0M1045.7,265.6h0M1052,272.4h0M1058.2,279.2h0M1064.1,286h0M1069.9,293h0M1075.5,299.9h0M1080.9,307h0M1086.1,314h0M1091.2,321.1h0M1096,328.3h0M1100.7,335.5h0M1105.2,342.7h0M1109.5,349.9h0M1113.6,357.2h0M1117.6,364.5h0M1121.3,371.8h0M1124.9,379.1h0M1128.3,386.4h0M1131.6,393.7h0M1134.6,401h0M1137.5,408.3h0M1140.2,415.6h0M1142.8,422.8h0M1145.1,430.1h0M1147.3,437.3h0M1149.4,444.5h0M1151.2,451.7h0M1152.9,458.8h0M1154.5,465.9h0M1155.9,473h0M1157.1,480h0M1158.2,486.9h0M1159.2,493.8h0M1017.6,245.9h0M1024.5,252.3h0M1031.2,258.7h0M1037.8,265.3h0M1044.1,271.9h0M1050.3,278.6h0M1056.4,285.3h0M1062.2,292.1h0M1067.9,299h0M1073.3,305.9h0M1078.6,312.8h0M1083.8,319.8h0M1088.7,326.9h0M1093.5,334h0M1098,341.1h0M1102.4,348.2h0M1106.7,355.4h0M1110.7,362.6h0M1114.6,369.8h0M1118.3,377h0M1121.8,384.2h0M1125.1,391.4h0M1128.3,398.7h0M1131.3,405.9h0M1134.1,413.1h0M1136.8,420.3h0M1139.3,427.5h0M1141.6,434.7h0M1143.8,441.8h0M1145.8,448.9h0M1147.6,456h0M1149.3,463h0M1150.8,470.1h0M1152.2,477h0M1153.4,483.9h0M1154.4,490.8h0M1009.8,245.9h0M1016.7,252.2h0M1023.5,258.6h0M1030.1,265h0M1036.5,271.5h0M1042.8,278h0M1048.8,284.7h0M1054.7,291.3h0M1060.4,298.1h0M1066,304.9h0M1071.4,311.7h0M1076.6,318.6h0M1081.6,325.6h0M1086.4,332.6h0M1091.1,339.6h0M1095.6,346.6h0M1099.9,353.7h0M1104,360.8h0M1108,367.9h0M1111.8,375h0M1115.4,382.2h0M1118.9,389.3h0M1122.1,396.5h0M1125.3,403.6h0M1128.2,410.7h0M1131,417.9h0M1133.6,425h0M1136,432.1h0M1138.3,439.2h0M1140.4,446.3h0M1142.4,453.3h0M1144.1,460.3h0M1145.8,467.3h0M1147.3,474.2h0M1148.6,481.1h0M1149.8,487.9h0M1002.2,246.1h0M1009.2,252.2h0M1016,258.4h0M1022.6,264.7h0M1029.1,271.1h0M1035.4,277.6h0M1041.5,284.1h0M1047.5,290.7h0M1053.3,297.3h0M1058.9,304h0M1064.3,310.7h0M1069.6,317.5h0M1074.7,324.4h0M1079.6,331.2h0M1084.3,338.2h0M1088.9,345.1h0M1093.3,352.1h0M1097.5,359.1h0M1101.6,366.1h0M1105.5,373.2h0M1109.2,380.2h0M1112.7,387.3h0M1116.1,394.4h0M1119.3,401.4h0M1122.4,408.5h0M1125.3,415.6h0M1128,422.6h0M1130.5,429.7h0M1132.9,436.7h0M1135.1,443.7h0M1137.2,450.7h0M1139.1,457.7h0M1140.9,464.6h0M1142.5,471.5h0M1144,478.3h0M1145.3,485.1h0M994.9,246.2h0M1001.9,252.3h0M1008.7,258.4h0M1015.4,264.6h0M1021.9,270.8h0M1028.3,277.2h0M1034.4,283.6h0M1040.4,290.1h0M1046.3,296.6h0M1051.9,303.2h0M1057.4,309.8h0M1062.8,316.5h0M1067.9,323.2h0M1072.9,330h0M1077.7,336.8h0M1082.4,343.7h0M1086.9,350.6h0M1091.2,357.5h0M1095.3,364.4h0M1099.3,371.4h0M1103.1,378.4h0M1106.8,385.4h0M1110.2,392.4h0M1113.5,399.4h0M1116.7,406.4h0M1119.7,413.4h0M1122.5,420.4h0M1125.1,427.4h0M1127.6,434.3h0M1130,441.3h0M1132.2,448.2h0M1134.2,455.1h0M1136.1,462h0M1137.8,468.9h0M1139.4,475.7h0M1140.8,482.5h0M987.8,246.4h0M994.8,252.4h0M1001.7,258.4h0M1008.4,264.5h0M1014.9,270.6h0M1021.3,276.8h0M1027.5,283.1h0M1033.6,289.5h0M1039.5,295.9h0M1045.2,302.4h0M1050.8,309h0M1056.2,315.6h0M1061.4,322.2h0M1066.4,328.9h0M1071.3,335.6h0M1076,342.4h0M1080.6,349.2h0M1085,356h0M1089.2,362.9h0M1093.3,369.7h0M1097.2,376.6h0M1100.9,383.6h0M1104.5,390.5h0M1107.9,397.4h0M1111.1,404.3h0M1114.2,411.3h0M1117.1,418.2h0M1119.9,425.1h0M1122.5,432.1h0M1124.9,439h0M1127.2,445.9h0M1129.3,452.7h0M1131.3,459.6h0M1133.2,466.4h0M1134.8,473.1h0M1136.4,479.9h0M980.9,246.7h0M988,252.5h0M994.9,258.4h0M1001.6,264.4h0M1008.2,270.4h0M1014.6,276.6h0M1020.9,282.8h0M1027,289h0M1032.9,295.4h0M1038.7,301.7h0M1044.3,308.2h0M1049.7,314.7h0M1055,321.2h0M1060.1,327.8h0M1065.1,334.5h0M1069.9,341.1h0M1074.5,347.9h0M1079,354.6h0M1083.3,361.4h0M1087.4,368.2h0M1091.4,375h0M1095.2,381.8h0M1098.9,388.7h0M1102.4,395.5h0M1105.7,402.4h0M1108.9,409.3h0M1111.9,416.2h0M1114.7,423h0M1117.4,429.9h0M1120,436.7h0M1122.4,443.6h0M1124.6,450.4h0M1126.7,457.2h0M1128.6,464h0M1130.4,470.7h0M1132.1,477.4h0M974.2,247h0M981.3,252.7h0M988.2,258.5h0M995,264.4h0M1001.6,270.3h0M1008.1,276.3h0M1014.4,282.4h0M1020.5,288.6h0M1026.5,294.8h0M1032.3,301.1h0M1038,307.5h0M1043.5,313.9h0M1048.8,320.3h0M1054,326.8h0M1059,333.4h0M1063.9,340h0M1068.6,346.6h0M1073.1,353.3h0M1077.5,360h0M1081.7,366.7h0M1085.7,373.4h0M1089.6,380.2h0M1093.4,387h0M1097,393.8h0M1100.4,400.6h0M1103.6,407.4h0M1106.7,414.2h0M1109.7,421h0M1112.5,427.8h0M1115.1,434.6h0M1117.6,441.4h0M1119.9,448.2h0M1122.1,454.9h0M1124.2,461.6h0M1126.1,468.3h0M1127.8,475h0M967.7,247.3h0M974.8,252.9h0M981.8,258.6h0M988.6,264.4h0M995.2,270.2h0M1001.7,276.2h0M1008,282.2h0M1014.2,288.2h0M1020.2,294.4h0M1026.1,300.6h0M1031.8,306.8h0M1037.4,313.1h0M1042.8,319.5h0M1048,325.9h0M1053.1,332.4h0M1058,338.9h0M1062.8,345.4h0M1067.4,352h0M1071.8,358.6h0M1076.1,365.3h0M1080.2,372h0M1084.2,378.6h0M1088,385.4h0M1091.7,392.1h0M1095.2,398.8h0M1098.5,405.6h0M1101.7,412.3h0M1104.8,419.1h0M1107.6,425.8h0M1110.4,432.6h0M1113,439.3h0M1115.4,446h0M1117.7,452.7h0M1119.8,459.4h0M1121.8,466.1h0M1123.6,472.7h0M961.4,247.6h0M968.6,253.1h0M975.5,258.7h0M982.4,264.4h0M989,270.2h0M995.5,276h0M1001.9,281.9h0M1008.1,287.9h0M1014.2,294h0M1020.1,300.1h0M1025.8,306.2h0M1031.4,312.5h0M1036.9,318.7h0M1042.2,325.1h0M1047.3,331.5h0M1052.3,337.9h0M1057.1,344.3h0M1061.8,350.9h0M1066.3,357.4h0M1070.6,364h0M1074.8,370.6h0M1078.9,377.2h0M1082.8,383.8h0M1086.5,390.5h0M1090.1,397.1h0M1093.5,403.8h0M1096.8,410.5h0M1099.9,417.2h0M1102.9,423.9h0M1105.7,430.6h0M1108.4,437.3h0M1110.9,444h0M1113.3,450.6h0M1115.5,457.3h0M1117.6,463.9h0M1119.5,470.5h0M955.3,248h0M962.5,253.4h0M969.5,258.9h0M976.3,264.5h0M983,270.2h0M989.6,275.9h0M995.9,281.7h0M1002.2,287.6h0M1008.3,293.6h0M1014.2,299.6h0M1020,305.7h0M1025.7,311.8h0M1031.2,318h0M1036.5,324.3h0M1041.7,330.6h0M1046.7,336.9h0M1051.6,343.3h0M1056.3,349.7h0M1060.9,356.2h0M1065.3,362.7h0M1069.6,369.2h0M1073.7,375.8h0M1077.7,382.4h0M1081.5,388.9h0M1085.1,395.6h0M1088.6,402.2h0M1092,408.8h0M1095.2,415.4h0M1098.3,422.1h0M1101.2,428.7h0M1103.9,435.4h0M1106.5,442h0M1109,448.6h0M1111.3,455.2h0M1113.5,461.8h0M1115.5,468.4h0M949.4,248.4h0M956.6,253.7h0M963.6,259.1h0M970.4,264.6h0M977.2,270.2h0M983.7,275.9h0M990.1,281.6h0M996.4,287.4h0M1002.6,293.3h0M1008.5,299.2h0M1014.4,305.2h0M1020,311.3h0M1025.6,317.4h0M1031,323.6h0M1036.2,329.8h0M1041.3,336h0M1046.2,342.4h0M1051,348.7h0M1055.6,355.1h0M1060.1,361.5h0M1064.5,368h0M1068.6,374.5h0M1072.7,381h0M1076.5,387.5h0M1080.3,394h0M1083.9,400.6h0M1087.3,407.2h0M1090.6,413.8h0M1093.7,420.3h0M1096.7,426.9h0M1099.5,433.5h0M1102.2,440.1h0M1104.8,446.7h0M1107.2,453.2h0M1109.4,459.8h0M1111.5,466.3h0M943.7,248.8h0M950.8,254h0M957.8,259.4h0M964.7,264.8h0M971.5,270.3h0M978.1,275.8h0M984.5,281.5h0M990.8,287.2h0M997,293h0M1003,298.9h0M1008.9,304.8h0M1014.6,310.8h0M1020.2,316.8h0M1025.6,322.9h0M1030.9,329h0M1036,335.2h0M1041,341.4h0M1045.8,347.7h0M1050.5,354h0M1055.1,360.4h0M1059.4,366.8h0M1063.7,373.2h0M1067.8,379.6h0M1071.7,386.1h0M1075.5,392.6h0M1079.2,399.1h0M1082.7,405.6h0M1086,412.1h0M1089.2,418.7h0M1092.3,425.2h0M1095.2,431.7h0M1098,438.3h0M1100.6,444.8h0M1103.1,451.3h0M1105.5,457.8h0M1107.7,464.3h0M938.1,249.2h0M945.2,254.4h0M952.3,259.6h0M959.2,264.9h0M965.9,270.4h0M972.5,275.8h0M979,281.4h0M985.3,287.1h0M991.5,292.8h0M997.6,298.5h0M1003.5,304.4h0M1009.2,310.3h0M1014.9,316.2h0M1020.3,322.2h0M1025.7,328.3h0M1030.8,334.4h0M1035.9,340.6h0M1040.8,346.8h0M1045.5,353h0M1050.1,359.3h0M1054.6,365.6h0M1058.9,372h0M1063,378.4h0M1067,384.8h0M1070.9,391.2h0M1074.6,397.6h0M1078.2,404.1h0M1081.6,410.6h0M1084.9,417.1h0M1088,423.6h0M1091,430h0M1093.9,436.5h0M1096.6,443h0M1099.1,449.5h0M1101.6,456h0M1103.8,462.4h0M932.6,249.6h0M939.8,254.7h0M946.9,259.9h0M953.8,265.1h0M960.5,270.5h0M967.2,275.9h0M973.7,281.4h0M980,286.9h0M986.3,292.6h0M992.3,298.3h0M998.3,304h0M1004.1,309.8h0M1009.7,315.7h0M1015.2,321.7h0M1020.6,327.7h0M1025.8,333.7h0M1030.9,339.8h0M1035.8,345.9h0M1040.6,352.1h0M1045.3,358.3h0M1049.8,364.6h0M1054.1,370.9h0M1058.4,377.2h0M1062.4,383.5h0M1066.4,389.9h0M1070.1,396.3h0M1073.8,402.7h0M1077.3,409.1h0M1080.6,415.5h0M1083.8,422h0M1086.9,428.4h0M1089.8,434.9h0M1092.6,441.3h0M1095.2,447.7h0M1097.7,454.2h0M1100.1,460.6h0M927.3,250.1h0M934.5,255.1h0M941.6,260.2h0M948.5,265.4h0M955.3,270.6h0M962,275.9h0M968.5,281.3h0M974.9,286.8h0M981.1,292.4h0M987.2,298h0M993.2,303.7h0M999,309.4h0M1004.7,315.3h0M1010.2,321.1h0M1015.6,327h0M1020.9,333h0M1026,339h0M1031,345.1h0M1035.9,351.2h0M1040.6,357.4h0M1045.1,363.6h0M1049.5,369.8h0M1053.8,376h0M1057.9,382.3h0M1061.9,388.6h0M1065.8,395h0M1069.5,401.3h0M1073,407.7h0M1076.4,414.1h0M1079.7,420.4h0M1082.9,426.8h0M1085.9,433.2h0M1088.7,439.6h0M1091.4,446h0M1094,452.4h0M1096.4,458.8h0M922.2,250.6h0M929.4,255.5h0M936.5,260.5h0M943.4,265.6h0M950.2,270.8h0M956.9,276h0M963.4,281.4h0M969.8,286.8h0M976.1,292.2h0M982.2,297.8h0M988.2,303.4h0M994.1,309.1h0M999.8,314.8h0M1005.4,320.6h0M1010.8,326.5h0M1016.1,332.4h0M1021.3,338.3h0M1026.3,344.3h0M1031.2,350.4h0M1036,356.5h0M1040.6,362.6h0M1045,368.8h0M1049.4,374.9h0M1053.5,381.2h0M1057.6,387.4h0M1061.5,393.7h0M1065.3,400h0M1068.9,406.3h0M1072.4,412.6h0M1075.7,419h0M1078.9,425.3h0M1082,431.7h0M1084.9,438h0M1087.7,444.4h0M1090.3,450.8h0M1092.8,457.1h0M917.2,251h0M924.4,255.9h0M931.5,260.8h0M938.4,265.8h0M945.3,270.9h0M951.9,276.1h0M958.5,281.4h0M964.9,286.7h0M971.2,292.1h0M977.4,297.6h0M983.4,303.1h0M989.3,308.8h0M995,314.4h0M1000.6,320.2h0M1006.1,325.9h0M1011.5,331.8h0M1016.7,337.7h0M1021.7,343.6h0M1026.7,349.6h0M1031.5,355.6h0M1036.1,361.7h0M1040.6,367.8h0M1045,373.9h0M1049.2,380.1h0M1053.3,386.3h0M1057.3,392.5h0M1061.1,398.7h0M1064.8,405h0M1068.4,411.3h0M1071.8,417.6h0M1075,423.9h0M1078.2,430.2h0M1081.1,436.5h0M1084,442.8h0M1086.7,449.1h0M1089.3,455.5h0M912.4,251.5h0M919.6,256.3h0M926.7,261.2h0M933.6,266.1h0M940.4,271.1h0M947.1,276.2h0M953.7,281.4h0M960.2,286.7h0M966.5,292h0M972.6,297.4h0M978.7,302.9h0M984.6,308.5h0M990.4,314.1h0M996,319.7h0M1001.5,325.4h0M1006.9,331.2h0M1012.2,337h0M1017.3,342.9h0M1022.2,348.8h0M1027.1,354.8h0M1031.8,360.8h0M1036.3,366.8h0M1040.8,372.9h0M1045.1,379h0M1049.2,385.2h0M1053.2,391.3h0M1057.1,397.5h0M1060.8,403.8h0M1064.4,410h0M1067.9,416.2h0M1071.2,422.5h0M1074.4,428.8h0M1077.5,435h0M1080.4,441.3h0M1083.2,447.6h0M1085.8,453.9h0M907.6,252h0M914.8,256.7h0M921.9,261.5h0M928.9,266.4h0M935.7,271.3h0M942.5,276.4h0M949,281.5h0M955.5,286.7h0M961.8,292h0M968,297.3h0M974.1,302.7h0M980,308.2h0M985.8,313.7h0M991.5,319.3h0M997.1,325h0M1002.5,330.7h0M1007.8,336.5h0M1012.9,342.3h0M1017.9,348.1h0M1022.8,354h0M1027.5,360h0M1032.1,366h0M1036.6,372h0M1041,378h0M1045.2,384.1h0M1049.2,390.2h0M1053.2,396.4h0M1056.9,402.6h0M1060.6,408.7h0M1064.1,414.9h0M1067.5,421.2h0M1070.8,427.4h0M1073.9,433.6h0M1076.9,439.8h0M1079.7,446.1h0M1082.4,452.3h0M903,252.5h0M910.3,257.1h0M917.4,261.9h0M924.3,266.7h0M931.2,271.6h0M937.9,276.5h0M944.5,281.6h0M951,286.7h0M957.3,291.9h0M963.5,297.2h0M969.6,302.6h0M975.6,308h0M981.4,313.4h0M987.1,319h0M992.7,324.6h0M998.1,330.2h0M1003.5,335.9h0M1008.6,341.7h0M1013.7,347.5h0M1018.6,353.3h0M1023.4,359.2h0M1028,365.1h0M1032.6,371.1h0M1036.9,377.1h0M1041.2,383.1h0M1045.3,389.2h0M1049.3,395.3h0M1053.1,401.4h0M1056.9,407.5h0M1060.4,413.7h0M1063.9,419.9h0M1067.2,426h0M1070.4,432.2h0M1073.4,438.4h0M1076.3,444.6h0M1079.1,450.8h0M898.6,253h0M905.8,257.6h0M912.9,262.2h0M919.9,267h0M926.7,271.8h0M933.5,276.7h0M940.1,281.7h0M946.6,286.8h0M952.9,291.9h0M959.2,297.1h0M965.3,302.4h0M971.3,307.8h0M977.1,313.2h0M982.8,318.6h0M988.5,324.2h0M993.9,329.8h0M999.3,335.4h0M1004.5,341.1h0M1009.6,346.8h0M1014.5,352.6h0M1019.3,358.5h0M1024,364.3h0M1028.6,370.2h0M1033,376.2h0M1037.3,382.2h0M1041.5,388.2h0M1045.5,394.2h0M1049.4,400.3h0M1053.2,406.4h0M1056.8,412.5h0M1060.3,418.6h0M1063.7,424.8h0M1066.9,430.9h0M1070,437.1h0M1073,443.3h0M1075.8,449.4h0M894.2,253.5h0M901.4,258h0M908.5,262.6h0M915.5,267.3h0M922.4,272.1h0M929.1,276.9h0M935.8,281.8h0M942.3,286.8h0M948.6,291.9h0M954.9,297.1h0M961,302.3h0M967,307.6h0M972.9,312.9h0M978.7,318.3h0M984.3,323.8h0M989.8,329.3h0M995.2,334.9h0M1000.4,340.5h0M1005.5,346.2h0M1010.5,352h0M1015.4,357.7h0M1020.1,363.6h0M1024.7,369.4h0M1029.2,375.3h0M1033.5,381.3h0M1037.8,387.2h0M1041.8,393.2h0M1045.8,399.2h0M1049.6,405.3h0M1053.3,411.4h0M1056.8,417.4h0M1060.3,423.5h0M1063.5,429.7h0M1066.7,435.8h0M1069.7,441.9h0M1072.6,448h0M890,254h0M897.2,258.4h0M904.3,263h0M911.3,267.6h0M918.2,272.3h0M924.9,277.1h0M931.6,282h0M938.1,286.9h0M944.5,291.9h0M950.7,297h0M956.9,302.2h0M962.9,307.4h0M968.8,312.7h0M974.6,318.1h0M980.3,323.5h0M985.8,328.9h0M991.2,334.5h0M996.5,340h0M1001.6,345.7h0M1006.6,351.4h0M1011.5,357.1h0M1016.3,362.8h0M1020.9,368.7h0M1025.5,374.5h0M1029.8,380.4h0M1034.1,386.3h0M1038.2,392.3h0M1042.2,398.2h0M1046.1,404.2h0M1049.8,410.3h0M1053.4,416.3h0M1056.9,422.4h0M1060.2,428.4h0M1063.4,434.5h0M1066.5,440.6h0M1069.5,446.7h0M885.8,254.5h0M893.1,258.9h0M900.2,263.4h0M907.2,267.9h0M914.1,272.6h0M920.8,277.3h0M927.5,282.1h0M934,287h0M940.4,292h0M946.7,297h0M952.9,302.1h0M958.9,307.3h0M964.8,312.5h0M970.6,317.8h0M976.3,323.2h0M981.9,328.6h0M987.3,334h0M992.6,339.6h0M997.8,345.1h0M1002.8,350.8h0M1007.8,356.4h0M1012.6,362.2h0M1017.3,367.9h0M1021.8,373.7h0M1026.2,379.6h0M1030.5,385.4h0M1034.7,391.3h0M1038.7,397.3h0M1042.6,403.2h0M1046.4,409.2h0M1050.1,415.2h0M1053.6,421.2h0M1057,427.2h0M1060.3,433.3h0M1063.4,439.4h0M1066.4,445.4h0M881.8,255h0M889.1,259.4h0M896.2,263.8h0M903.2,268.3h0M910.1,272.9h0M916.8,277.5h0M923.5,282.3h0M930,287.1h0M936.4,292h0M942.7,297h0M948.9,302h0M955,307.1h0M960.9,312.3h0M966.8,317.6h0M972.5,322.9h0M978,328.2h0M983.5,333.6h0M988.8,339.1h0M994,344.6h0M999.1,350.2h0M1004.1,355.8h0M1008.9,361.5h0M1013.6,367.2h0M1018.2,373h0M1022.7,378.8h0M1027,384.6h0M1031.2,390.4h0M1035.3,396.3h0M1039.3,402.2h0M1043.1,408.2h0M1046.8,414.1h0M1050.4,420.1h0M1053.8,426.1h0M1057.1,432.1h0M1060.3,438.1h0M1063.4,444.2h0M877.9,255.5h0M885.2,259.8h0M892.3,264.2h0M899.3,268.6h0M906.2,273.2h0M912.9,277.8h0M919.6,282.5h0M926.2,287.2h0M932.6,292.1h0M938.9,297h0M945.1,302h0M951.2,307h0M957.1,312.2h0M963,317.4h0M968.7,322.6h0M974.3,327.9h0M979.8,333.3h0M985.1,338.7h0M990.4,344.2h0M995.5,349.7h0M1000.5,355.3h0M1005.4,360.9h0M1010.1,366.5h0M1014.7,372.2h0M1019.2,378h0M1023.6,383.8h0M1027.9,389.6h0M1032,395.4h0M1036,401.3h0M1039.9,407.2h0M1043.6,413.1h0M1047.2,419.1h0M1050.7,425h0M1054.1,431h0M1057.3,437h0M1060.4,443h0M874.1,256h0M881.4,260.3h0M888.5,264.6h0M895.5,269h0M902.4,273.4h0M909.2,278h0M915.8,282.6h0M922.4,287.4h0M928.8,292.2h0M935.2,297h0M941.4,302h0M947.5,307h0M953.4,312h0M959.3,317.2h0M965,322.4h0M970.7,327.6h0M976.2,332.9h0M981.6,338.3h0M986.8,343.7h0M992,349.2h0M997,354.7h0M1001.9,360.3h0M1006.7,365.9h0M1011.3,371.6h0M1015.9,377.3h0M1020.3,383h0M1024.6,388.8h0M1028.7,394.6h0M1032.8,400.4h0M1036.7,406.3h0M1040.5,412.1h0M1044.1,418h0M1047.7,424h0M1051.1,429.9h0M1054.4,435.9h0M1057.5,441.8h0M870.4,256.5h0M877.6,260.7h0M884.8,265h0M891.8,269.3h0M898.7,273.7h0M905.5,278.3h0M912.1,282.8h0M918.7,287.5h0M925.2,292.2h0M931.5,297.1h0M937.7,301.9h0M943.8,306.9h0M949.8,311.9h0M955.7,317h0M961.5,322.1h0M967.1,327.3h0M972.6,332.6h0M978,337.9h0M983.3,343.3h0M988.5,348.7h0M993.6,354.2h0M998.5,359.7h0M1003.3,365.3h0M1008,370.9h0M1012.6,376.6h0M1017,382.3h0M1021.3,388h0M1025.5,393.7h0M1029.6,399.5h0M1033.6,405.3h0M1037.4,411.2h0M1041.1,417.1h0M1044.7,422.9h0M1048.1,428.9h0M1051.5,434.8h0M1054.7,440.7h0M866.8,257.1h0M874,261.2h0M881.2,265.4h0M888.2,269.7h0M895.1,274h0M901.9,278.5h0M908.5,283h0M915.1,287.7h0M921.6,292.3h0M927.9,297.1h0M934.2,301.9h0M940.3,306.8h0M946.3,311.8h0M952.2,316.8h0M958,321.9h0M963.6,327.1h0M969.2,332.3h0M974.6,337.6h0M979.9,342.9h0M985.1,348.3h0M990.2,353.7h0M995.2,359.2h0M1000,364.7h0M1004.7,370.3h0M1009.3,375.9h0M1013.8,381.5h0M1018.2,387.2h0M1022.4,392.9h0M1026.5,398.7h0M1030.5,404.5h0M1034.4,410.3h0M1038.1,416.1h0M1041.8,422h0M1045.3,427.8h0M1048.7,433.7h0M1051.9,439.6h0M863.3,257.6h0M870.5,261.6h0M877.6,265.8h0M884.7,270h0M891.6,274.4h0M898.4,278.8h0M905,283.2h0M911.6,287.8h0M918.1,292.4h0M924.5,297.2h0M930.7,301.9h0M936.8,306.8h0M942.9,311.7h0M948.8,316.7h0M954.6,321.7h0M960.3,326.9h0M965.8,332h0M971.3,337.3h0M976.6,342.5h0M981.8,347.9h0M986.9,353.3h0M991.9,358.7h0M996.8,364.2h0M1001.6,369.7h0M1006.2,375.3h0M1010.7,380.9h0M1015.1,386.5h0M1019.4,392.2h0M1023.5,397.9h0M1027.6,403.6h0M1031.5,409.4h0M1035.2,415.2h0M1038.9,421h0M1042.5,426.9h0M1045.9,432.7h0M1049.2,438.6h0M859.9,258.1h0M867.1,262.1h0M874.2,266.2h0M881.2,270.4h0M888.1,274.7h0M894.9,279h0M901.6,283.5h0M908.2,288h0M914.7,292.6h0M921.1,297.2h0M927.3,302h0M933.5,306.8h0M939.5,311.6h0M945.4,316.6h0M951.3,321.6h0M957,326.6h0M962.5,331.8h0M968,336.9h0M973.4,342.2h0M978.6,347.5h0M983.8,352.8h0M988.8,358.2h0M993.7,363.6h0M998.4,369.1h0M1003.1,374.6h0M1007.7,380.2h0M1012.1,385.8h0M1016.4,391.5h0M1020.6,397.1h0M1024.6,402.8h0M1028.6,408.6h0M1032.4,414.3h0M1036.1,420.1h0M1039.7,425.9h0M1043.2,431.7h0M1046.5,437.6h0M856.5,258.6h0M863.8,262.5h0M870.9,266.6h0M877.9,270.7h0M884.8,275h0M891.6,279.3h0M898.3,283.7h0M904.9,288.1h0M911.4,292.7h0M917.8,297.3h0M924,302h0M930.2,306.8h0M936.2,311.6h0M942.2,316.5h0M948,321.4h0M953.7,326.4h0M959.3,331.5h0M964.8,336.7h0M970.2,341.9h0M975.5,347.1h0M980.6,352.4h0M985.7,357.7h0M990.6,363.1h0M995.4,368.6h0M1000.1,374.1h0M1004.7,379.6h0M1009.1,385.2h0M1013.5,390.8h0M1017.7,396.4h0M1021.8,402.1h0M1025.8,407.8h0M1029.6,413.5h0M1033.4,419.2h0M1037,425h0M1040.5,430.8h0M1043.9,436.6h0M853.3,259.1h0M860.5,263h0M867.6,267h0M874.7,271.1h0M881.6,275.3h0M888.4,279.6h0M895.1,283.9h0M901.7,288.3h0M908.2,292.8h0M914.5,297.4h0M920.8,302h0M927,306.7h0M933.1,311.5h0M939,316.4h0M944.9,321.3h0M950.6,326.3h0M956.2,331.3h0M961.7,336.4h0M967.1,341.5h0M972.4,346.7h0M977.6,352h0M982.7,357.3h0M987.6,362.7h0M992.4,368.1h0M997.2,373.5h0M1001.8,379h0M1006.3,384.5h0M1010.6,390.1h0M1014.9,395.7h0M1019,401.3h0M1023,407h0M1026.9,412.7h0M1030.7,418.4h0M1034.4,424.1h0M1037.9,429.9h0M1041.3,435.7h0M850.1,259.6h0M857.4,263.4h0M864.5,267.4h0M871.5,271.5h0M878.4,275.6h0M885.2,279.8h0M891.9,284.1h0M898.5,288.5h0M905,293h0M911.4,297.5h0M917.7,302.1h0M923.9,306.8h0M930,311.5h0M935.9,316.3h0M941.8,321.2h0M947.5,326.1h0M953.2,331.1h0M958.7,336.1h0M964.1,341.2h0M969.4,346.4h0M974.6,351.6h0M979.7,356.9h0M984.7,362.2h0M989.5,367.6h0M994.3,373h0M998.9,378.4h0M1003.4,383.9h0M1007.8,389.4h0M1012.1,395h0M1016.3,400.6h0M1020.3,406.2h0M1024.3,411.9h0M1028.1,417.6h0M1031.8,423.3h0M1035.4,429h0M1038.8,434.8h0M847.1,260h0M854.3,263.9h0M861.4,267.8h0M868.4,271.8h0M875.3,275.9h0M882.1,280.1h0M888.8,284.4h0M895.4,288.7h0M902,293.1h0M908.4,297.6h0M914.6,302.1h0M920.8,306.8h0M926.9,311.5h0M932.9,316.2h0M938.8,321.1h0M944.5,325.9h0M950.2,330.9h0M955.7,335.9h0M961.2,341h0M966.5,346.1h0M971.7,351.3h0M976.8,356.5h0M981.8,361.8h0M986.7,367.1h0M991.5,372.5h0M996.1,377.9h0M1000.7,383.3h0M1005.1,388.8h0M1009.4,394.3h0M1013.6,399.9h0M1017.7,405.5h0M1021.7,411.1h0M1025.5,416.8h0M1029.3,422.5h0M1032.9,428.2h0M1036.4,433.9h0M844.1,260.5h0M851.3,264.3h0M858.4,268.2h0M865.4,272.2h0M872.3,276.2h0M879.1,280.4h0M885.8,284.6h0M892.5,288.9h0M899,293.3h0M905.4,297.7h0M911.7,302.2h0M917.9,306.8h0M924,311.4h0M930,316.2h0M935.8,321h0M941.6,325.8h0M947.3,330.7h0M952.9,335.7h0M958.3,340.7h0M963.7,345.8h0M968.9,350.9h0M974,356.1h0M979,361.4h0M984,366.6h0M988.7,372h0M993.4,377.3h0M998,382.8h0M1002.5,388.2h0M1006.8,393.7h0M1011,399.2h0M1015.1,404.8h0M1019.1,410.4h0M1023,416h0M1026.8,421.7h0M1030.5,427.3h0M1034,433h0M841.1,261h0M848.3,264.8h0M855.5,268.6h0M862.5,272.5h0M869.4,276.6h0M876.2,280.7h0M882.9,284.8h0M889.5,289.1h0M896,293.4h0M902.5,297.8h0M908.8,302.3h0M915,306.8h0M921.1,311.4h0M927.1,316.1h0M933,320.9h0M938.8,325.7h0M944.5,330.5h0M950,335.5h0M955.5,340.5h0M960.9,345.5h0M966.1,350.6h0M971.3,355.8h0M976.3,361h0M981.3,366.2h0M986.1,371.5h0M990.8,376.8h0M995.4,382.2h0M999.9,387.6h0M1004.2,393.1h0M1008.5,398.6h0M1012.6,404.1h0M1016.7,409.7h0M1020.6,415.3h0M1024.4,420.9h0M1028.1,426.5h0M1031.6,432.2h0M838.3,261.5h0M845.5,265.2h0M852.6,269h0M859.6,272.9h0M866.5,276.9h0M873.4,280.9h0M880.1,285.1h0M886.7,289.3h0M893.2,293.6h0M899.6,297.9h0M905.9,302.4h0M912.2,306.9h0M918.3,311.4h0M924.3,316.1h0M930.2,320.8h0M936,325.6h0M941.7,330.4h0M947.3,335.3h0M952.8,340.2h0M958.2,345.2h0M963.4,350.3h0M968.6,355.4h0M973.7,360.6h0M978.6,365.8h0M983.5,371.1h0M988.2,376.4h0M992.8,381.7h0M997.3,387.1h0M1001.7,392.5h0M1006,398h0M1010.2,403.5h0M1014.2,409h0M1018.2,414.6h0M1022,420.2h0M1025.7,425.8h0M1029.4,431.4h0M835.5,262h0M842.7,265.6h0M849.8,269.4h0M856.8,273.3h0M863.8,277.2h0M870.6,281.2h0M877.3,285.3h0M883.9,289.5h0M890.4,293.7h0M896.9,298.1h0M903.2,302.4h0M909.4,306.9h0M915.5,311.4h0M921.6,316.1h0M927.5,320.7h0M933.3,325.5h0M939,330.2h0M944.6,335.1h0M950.1,340h0M955.5,345h0M960.8,350h0M966,355.1h0M971.1,360.2h0M976.1,365.4h0M980.9,370.6h0M985.7,375.9h0M990.3,381.2h0M994.8,386.6h0M999.3,392h0M1003.6,397.4h0M1007.8,402.9h0M1011.9,408.4h0M1015.9,413.9h0M1019.7,419.5h0M1023.5,425h0M1027.1,430.6h0M832.8,262.4h0M840,266.1h0M847.1,269.8h0M854.1,273.6h0M861.1,277.5h0M867.9,281.5h0M874.6,285.5h0M881.2,289.7h0M887.8,293.9h0M894.2,298.2h0M900.5,302.5h0M906.7,307h0M912.9,311.5h0M918.9,316h0M924.8,320.7h0M930.7,325.4h0M936.4,330.1h0M942,334.9h0M947.5,339.8h0M952.9,344.7h0M958.2,349.7h0M963.5,354.8h0M968.6,359.9h0M973.5,365h0M978.4,370.2h0M983.2,375.5h0M987.9,380.7h0M992.4,386.1h0M996.9,391.4h0M1001.2,396.8h0M1005.4,402.3h0M1009.6,407.7h0M1013.6,413.2h0M1017.5,418.8h0M1021.2,424.3h0M1024.9,429.9h0M830.2,262.9h0M837.4,266.5h0M844.5,270.2h0M851.5,274h0M858.4,277.8h0M865.2,281.8h0M872,285.8h0M878.6,289.9h0M885.1,294.1h0M891.6,298.3h0M897.9,302.6h0M904.1,307h0M910.3,311.5h0M916.3,316h0M922.2,320.6h0M928.1,325.3h0M933.8,330h0M939.5,334.8h0M945,339.6h0M950.4,344.5h0M955.7,349.5h0M961,354.5h0M966.1,359.5h0M971.1,364.7h0M976,369.8h0M980.8,375h0M985.5,380.3h0M990.1,385.6h0M994.5,390.9h0M998.9,396.3h0M1003.2,401.7h0M1007.3,407.1h0M1011.3,412.6h0M1015.3,418.1h0M1019.1,423.6h0M1022.8,429.2h0M827.6,263.3h0M834.8,266.9h0M841.9,270.6h0M848.9,274.3h0M855.9,278.1h0M862.7,282h0M869.4,286h0M876,290.1h0M882.6,294.2h0M889,298.4h0M895.3,302.7h0M901.6,307.1h0M907.7,311.5h0M913.8,316h0M919.7,320.6h0M925.6,325.2h0M931.3,329.9h0M937,334.6h0M942.5,339.4h0M948,344.3h0M953.3,349.2h0M958.5,354.2h0M963.7,359.2h0M968.7,364.3h0M973.6,369.4h0M978.4,374.6h0M983.2,379.8h0M987.8,385.1h0M992.3,390.4h0M996.6,395.7h0M1000.9,401.1h0M1005.1,406.5h0M1009.2,412h0M1013.1,417.5h0M1016.9,423h0M1020.7,428.5h0M825.2,263.8h0M832.4,267.3h0M839.4,270.9h0M846.5,274.7h0M853.4,278.4h0M860.2,282.3h0M866.9,286.3h0M873.5,290.3h0M880.1,294.4h0M886.5,298.6h0M892.9,302.8h0M899.1,307.2h0M905.3,311.6h0M911.3,316h0M917.3,320.5h0M923.1,325.1h0M928.9,329.8h0M934.6,334.5h0M940.1,339.3h0M945.6,344.1h0M950.9,349h0M956.2,353.9h0M961.3,358.9h0M966.4,364h0M971.3,369.1h0M976.2,374.2h0M980.9,379.4h0M985.5,384.6h0M990,389.9h0M994.4,395.2h0M998.7,400.6h0M1002.9,406h0M1007,411.4h0M1011,416.8h0M1014.9,422.3h0M1018.6,427.8h0M822.7,264.2h0M829.9,267.7h0M837,271.3h0M844,275h0M850.9,278.8h0M857.8,282.6h0M864.5,286.5h0M871.1,290.5h0M877.7,294.6h0M884.1,298.7h0M890.4,302.9h0M896.7,307.2h0M902.9,311.6h0M908.9,316h0M914.9,320.5h0M920.8,325.1h0M926.5,329.7h0M932.2,334.4h0M937.8,339.1h0M943.2,343.9h0M948.6,348.8h0M953.9,353.7h0M959,358.7h0M964.1,363.7h0M969.1,368.7h0M973.9,373.9h0M978.7,379h0M983.3,384.2h0M987.9,389.5h0M992.3,394.7h0M996.6,400.1h0M1000.8,405.4h0M1004.9,410.8h0M1008.9,416.2h0M1012.8,421.7h0M1016.6,427.2h0M820.4,264.7h0M827.6,268.1h0M834.7,271.7h0M841.7,275.3h0M848.6,279.1h0M855.4,282.9h0M862.1,286.7h0M868.7,290.7h0M875.3,294.7h0M881.7,298.9h0M888.1,303h0M894.4,307.3h0M900.5,311.6h0M906.6,316h0M912.6,320.5h0M918.4,325h0M924.2,329.6h0M929.9,334.3h0M935.5,339h0M941,343.7h0M946.3,348.6h0M951.6,353.5h0M956.8,358.4h0M961.9,363.4h0M966.9,368.4h0M971.7,373.5h0M976.5,378.6h0M981.2,383.8h0M985.7,389h0M990.2,394.3h0M994.5,399.6h0M998.8,404.9h0M1002.9,410.3h0M1006.9,415.7h0M1010.9,421.1h0M1014.7,426.6h0M818.1,265.1h0M825.3,268.5h0M832.4,272.1h0M839.4,275.7h0M846.3,279.4h0M853.1,283.1h0M859.8,287h0M866.4,290.9h0M873,294.9h0M879.4,299h0M885.8,303.2h0M892.1,307.4h0M898.2,311.7h0M904.3,316h0M910.3,320.5h0M916.2,325h0M922,329.5h0M927.7,334.2h0M933.2,338.8h0M938.7,343.6h0M944.1,348.4h0M949.4,353.2h0M954.6,358.1h0M959.7,363.1h0M964.7,368.1h0M969.6,373.2h0M974.4,378.3h0M979.1,383.4h0M983.7,388.6h0M988.1,393.8h0M992.5,399.1h0M996.8,404.4h0M1000.9,409.7h0M1005,415.1h0M1008.9,420.5h0M1012.8,426h0M823,268.9h0M830.1,272.4h0M837.1,276h0M844,279.7h0M850.8,283.4h0M857.6,287.2h0M864.2,291.1h0M870.8,295.1h0M877.2,299.2h0M883.6,303.3h0M889.8,307.5h0M896,311.7h0M902.1,316.1h0M908.1,320.5h0M914,324.9h0M919.8,329.5h0M925.5,334.1h0M931.1,338.7h0M936.6,343.4h0M942,348.2h0M947.3,353h0M952.5,357.9h0M957.6,362.8h0M962.6,367.8h0M967.5,372.8h0M972.3,377.9h0M977,383h0M981.6,388.2h0M986.1,393.4h0M990.5,398.6h0M994.8,403.9h0M999,409.2h0M1003.1,414.6h0M1007,420h0M1010.9,425.4h0M820.9,269.3h0M827.9,272.8h0M834.9,276.3h0M841.8,279.9h0M848.7,283.7h0M855.4,287.5h0M862,291.3h0M868.6,295.3h0M875,299.3h0M881.4,303.4h0M887.7,307.6h0M893.8,311.8h0M899.9,316.1h0M905.9,320.5h0M911.8,324.9h0M917.6,329.4h0M923.3,334h0M929,338.6h0M934.5,343.3h0M939.9,348h0M945.2,352.8h0M950.4,357.7h0M955.6,362.6h0M960.6,367.5h0M965.5,372.5h0M970.3,377.6h0M975.1,382.6h0M979.7,387.8h0M984.2,393h0M988.6,398.2h0M992.9,403.4h0M997.1,408.7h0M1001.2,414.1h0M1005.2,419.4h0M1009.1,424.8h0M825.8,273.1h0M832.8,276.6h0M839.7,280.2h0M846.5,283.9h0M853.3,287.7h0M859.9,291.5h0M866.5,295.4h0M872.9,299.4h0M879.3,303.5h0M885.6,307.6h0M891.7,311.9h0M897.8,316.1h0M903.8,320.5h0M909.7,324.9h0M915.6,329.3h0M921.3,333.9h0M926.9,338.5h0M932.4,343.1h0M937.9,347.8h0M943.2,352.6h0M948.4,357.4h0M953.6,362.3h0M958.6,367.2h0M963.5,372.2h0M968.4,377.2h0M973.1,382.3h0M977.8,387.4h0M982.3,392.6h0M986.7,397.8h0M991,403h0M995.3,408.3h0M999.4,413.6h0M1003.4,418.9h0M1007.3,424.3h0M830.8,276.9h0M837.7,280.5h0M844.5,284.2h0M851.2,287.9h0M857.8,291.7h0M864.4,295.6h0M870.9,299.6h0M877.2,303.6h0M883.5,307.7h0M889.7,311.9h0M895.8,316.2h0M901.8,320.5h0M907.7,324.9h0M913.5,329.3h0M919.3,333.8h0M924.9,338.4h0M930.4,343h0M935.9,347.7h0M941.2,352.4h0M946.5,357.2h0M951.6,362.1h0M956.7,367h0M961.6,371.9h0M966.5,376.9h0M971.2,382h0M975.9,387h0M980.4,392.2h0M984.9,397.3h0M989.2,402.6h0M993.5,407.8h0M997.6,413.1h0M1001.6,418.4h0M1005.6,423.8h0M835.7,280.8h0M842.5,284.4h0M849.2,288.1h0M855.8,291.9h0M862.4,295.8h0M868.9,299.7h0M875.2,303.7h0M881.5,307.8h0M887.7,312h0M893.8,316.2h0M899.8,320.5h0M905.7,324.8h0M911.6,329.3h0M917.3,333.7h0M922.9,338.3h0M928.5,342.9h0M933.9,347.5h0M939.3,352.2h0M944.6,357h0M949.7,361.8h0M954.8,366.7h0M959.8,371.6h0M964.6,376.6h0M969.4,381.6h0M974.1,386.7h0M978.6,391.8h0M983.1,396.9h0M987.5,402.1h0M991.7,407.4h0M995.9,412.6h0M999.9,417.9h0M1003.9,423.2h0M833.7,281.1h0M840.5,284.7h0M847.3,288.4h0M853.9,292.1h0M860.4,296h0M866.9,299.9h0M873.3,303.9h0M879.6,307.9h0M885.8,312h0M891.9,316.2h0M897.9,320.5h0M903.8,324.8h0M909.7,329.2h0M915.4,333.7h0M921,338.2h0M926.6,342.8h0M932.1,347.4h0M937.4,352.1h0M942.7,356.8h0M947.9,361.6h0M953,366.5h0M957.9,371.4h0M962.8,376.3h0M967.6,381.3h0M972.3,386.4h0M976.9,391.4h0M981.4,396.6h0M985.7,401.7h0M990,406.9h0M994.2,412.2h0M998.3,417.4h0M1002.2,422.8h0M838.6,284.9h0M845.4,288.6h0M852,292.3h0M858.5,296.1h0M865,300h0M871.4,304h0M877.7,308h0M883.9,312.1h0M890,316.3h0M896,320.5h0M901.9,324.8h0M907.8,329.2h0M913.5,333.6h0M919.2,338.1h0M924.8,342.6h0M930.2,347.3h0M935.6,351.9h0M940.9,356.6h0M946.1,361.4h0M951.2,366.2h0M956.2,371.1h0M961.1,376h0M965.9,381h0M970.6,386h0M975.2,391.1h0M979.7,396.2h0M984.1,401.3h0M988.4,406.5h0M992.6,411.7h0M996.6,417h0M1000.6,422.3h0M843.5,288.8h0M850.2,292.5h0M856.7,296.3h0M863.2,300.2h0M869.6,304.1h0M875.8,308.1h0M882.1,312.2h0M888.2,316.3h0M894.2,320.5h0M900.1,324.8h0M906,329.2h0M911.7,333.6h0M917.4,338h0M923,342.5h0M928.5,347.1h0M933.8,351.8h0M939.1,356.5h0M944.3,361.2h0M949.4,366h0M954.4,370.9h0M959.4,375.8h0M964.2,380.7h0M968.9,385.7h0M973.5,390.8h0M978,395.8h0M982.4,401h0M986.7,406.1h0M991,411.3h0M995.1,416.6h0M999.1,421.8h0M841.7,289h0M848.4,292.7h0M854.9,296.5h0M861.4,300.3h0M867.8,304.2h0M874.1,308.2h0M880.3,312.3h0M886.4,316.4h0M892.4,320.6h0M898.4,324.8h0M904.2,329.1h0M910,333.5h0M915.7,337.9h0M921.2,342.4h0M926.7,347h0M932.1,351.6h0M937.4,356.3h0M942.6,361h0M947.8,365.8h0M952.8,370.6h0M957.7,375.5h0M962.5,380.4h0M967.2,385.4h0M971.9,390.4h0M976.4,395.5h0M980.8,400.6h0M985.2,405.7h0M989.4,410.9h0M993.5,416.1h0M997.6,421.4h0M846.6,292.9h0M853.2,296.6h0M859.7,300.5h0M866,304.3h0M872.3,308.3h0M878.5,312.3h0M884.7,316.4h0M890.7,320.6h0M896.7,324.8h0M902.5,329.1h0M908.3,333.5h0M914,337.9h0M919.6,342.4h0M925.1,346.9h0M930.5,351.5h0M935.8,356.1h0M941,360.8h0M946.1,365.6h0M951.1,370.4h0M956.1,375.3h0M960.9,380.2h0M965.7,385.1h0M970.3,390.1h0M974.9,395.2h0M979.3,400.3h0M983.6,405.4h0M987.9,410.5h0M992,415.7h0M996.1,421h0M844.9,293.1h0M851.5,296.8h0M858,300.6h0M864.4,304.5h0M870.7,308.4h0M876.9,312.4h0M883,316.5h0M889,320.6h0M895,324.8h0M900.9,329.1h0M906.6,333.4h0M912.3,337.8h0M917.9,342.3h0M923.4,346.8h0M928.8,351.4h0M934.2,356h0M939.4,360.7h0M944.5,365.4h0M949.6,370.2h0M954.5,375h0M959.4,379.9h0M964.1,384.9h0M968.8,389.8h0M973.3,394.9h0M977.8,399.9h0M982.2,405h0M986.4,410.2h0M990.6,415.3h0M994.7,420.6h0M849.9,297h0M856.3,300.7h0M862.7,304.6h0M869,308.5h0M875.2,312.5h0M881.4,316.5h0M887.4,320.6h0M893.4,324.8h0M899.2,329.1h0M905,333.4h0M910.7,337.8h0M916.3,342.2h0M921.8,346.7h0M927.3,351.2h0M932.6,355.9h0M937.8,360.5h0M943,365.2h0M948,370h0M953,374.8h0M957.9,379.7h0M962.6,384.6h0M967.3,389.6h0M971.9,394.6h0M976.3,399.6h0M980.7,404.7h0M985,409.8h0M989.2,415h0M993.3,420.2h0M854.8,300.9h0M861.1,304.7h0M867.5,308.6h0M873.7,312.5h0M879.8,316.6h0M885.9,320.7h0M891.8,324.8h0M897.7,329.1h0M903.5,333.4h0M909.2,337.7h0M914.8,342.1h0M920.3,346.6h0M925.7,351.1h0M931.1,355.7h0M936.3,360.4h0M941.5,365.1h0M946.5,369.8h0M951.5,374.6h0M956.4,379.4h0M961.2,384.3h0M965.8,389.3h0M970.4,394.3h0M974.9,399.3h0M979.3,404.4h0M983.6,409.5h0M987.8,414.6h0M991.9,419.8h0M853.2,301h0M859.6,304.8h0M865.9,308.7h0M872.1,312.6h0M878.3,316.6h0M884.3,320.7h0M890.3,324.8h0M896.2,329.1h0M902,333.3h0M907.7,337.7h0M913.3,342.1h0M918.8,346.5h0M924.3,351h0M929.6,355.6h0M934.9,360.2h0M940,364.9h0M945.1,369.6h0M950.1,374.4h0M955,379.2h0M959.8,384.1h0M964.4,389h0M969,394h0M973.6,399h0M978,404h0M982.3,409.1h0M986.5,414.3h0M990.6,419.4h0M858.1,304.9h0M864.4,308.8h0M870.7,312.7h0M876.8,316.7h0M882.9,320.7h0M888.8,324.9h0M894.7,329.1h0M900.5,333.3h0M906.2,337.6h0M911.8,342h0M917.4,346.4h0M922.8,350.9h0M928.2,355.5h0M933.4,360.1h0M938.6,364.7h0M943.7,369.4h0M948.7,374.2h0M953.6,379h0M958.4,383.9h0M963.1,388.8h0M967.7,393.7h0M972.2,398.7h0M976.6,403.7h0M981,408.8h0M985.2,413.9h0M989.3,419.1h0M856.7,305h0M863,308.9h0M869.2,312.8h0M875.4,316.7h0M881.4,320.8h0M887.4,324.9h0M893.3,329h0M899.1,333.3h0M904.8,337.6h0M910.4,341.9h0M916,346.3h0M921.4,350.8h0M926.8,355.3h0M932.1,359.9h0M937.2,364.6h0M942.3,369.3h0M947.3,374h0M952.2,378.8h0M957.1,383.6h0M961.8,388.5h0M966.4,393.5h0M970.9,398.4h0M975.4,403.4h0M979.7,408.5h0M983.9,413.6h0M988.1,418.7h0M861.6,309h0M867.8,312.8h0M874,316.8h0M880,320.8h0M886,324.9h0M891.9,329h0M897.7,333.3h0M903.4,337.5h0M909.1,341.9h0M914.6,346.3h0M920.1,350.7h0M925.5,355.2h0M930.7,359.8h0M935.9,364.4h0M941,369.1h0M946,373.8h0M950.9,378.6h0M955.8,383.4h0M960.5,388.3h0M965.1,393.2h0M969.7,398.2h0M974.1,403.2h0M978.5,408.2h0M982.7,413.3h0M986.9,418.4h0M860.3,309.1h0M866.5,312.9h0M872.7,316.8h0M878.7,320.8h0M884.7,324.9h0M890.6,329h0M896.4,333.2h0M902.1,337.5h0M907.8,341.8h0M913.3,346.2h0M918.8,350.6h0M924.2,355.1h0M929.4,359.7h0M934.6,364.3h0M939.8,368.9h0M944.8,373.7h0M949.7,378.4h0M954.5,383.2h0M959.3,388.1h0M963.9,393h0M968.5,397.9h0M972.9,402.9h0M977.3,407.9h0M981.5,413h0M985.7,418.1h0M865.2,313h0M871.4,316.9h0M877.4,320.9h0M883.4,324.9h0M889.3,329.1h0M895.1,333.2h0M900.9,337.5h0M906.5,341.8h0M912.1,346.1h0M917.5,350.6h0M922.9,355h0M928.2,359.6h0M933.4,364.2h0M938.5,368.8h0M943.5,373.5h0M948.5,378.2h0M953.3,383h0M958.1,387.9h0M962.7,392.7h0M967.3,397.7h0M971.8,402.6h0M976.1,407.7h0M980.4,412.7h0M984.6,417.8h0M864,313.1h0M870.1,317h0M876.2,320.9h0M882.2,325h0M888.1,329.1h0M893.9,333.2h0M899.6,337.4h0M905.3,341.7h0M910.8,346.1h0M916.3,350.5h0M921.7,354.9h0M927,359.5h0M932.2,364h0M937.3,368.7h0M942.4,373.3h0M947.3,378.1h0M952.2,382.8h0M956.9,387.7h0M961.6,392.5h0M966.2,397.4h0M970.6,402.4h0M975,407.4h0M979.3,412.4h0M983.5,417.5h0M868.9,317h0M875,321h0M881,325h0M886.9,329.1h0M892.7,333.2h0M898.4,337.4h0M904.1,341.7h0M909.7,346h0M915.1,350.4h0M920.5,354.9h0M925.8,359.4h0M931.1,363.9h0M936.2,368.5h0M941.2,373.2h0M946.2,377.9h0M951,382.7h0M955.8,387.5h0M960.5,392.3h0M965.1,397.2h0M969.6,402.2h0M974,407.1h0M978.3,412.2h0M982.5,417.2h0M867.7,317.1h0M873.8,321h0M879.8,325h0M885.7,329.1h0M891.5,333.2h0M897.3,337.4h0M902.9,341.6h0M908.5,346h0M914,350.3h0M919.4,354.8h0M924.7,359.3h0M929.9,363.8h0M935.1,368.4h0M940.1,373h0M945.1,377.7h0M950,382.5h0M954.7,387.3h0M959.4,392.1h0M964,397h0M968.5,401.9h0M972.9,406.9h0M977.2,411.9h0M981.4,417h0M872.7,321h0M878.7,325h0M884.6,329.1h0M890.4,333.2h0M896.2,337.4h0M901.8,341.6h0M907.4,345.9h0M912.9,350.3h0M918.3,354.7h0M923.6,359.2h0M928.9,363.7h0M934,368.3h0M939.1,372.9h0M944,377.6h0M948.9,382.3h0M953.7,387.1h0M958.4,391.9h0M963,396.8h0M967.5,401.7h0M971.9,406.7h0M976.2,411.7h0M980.5,416.7h0M871.6,321.1h0M877.6,325h0M883.5,329.1h0M889.4,333.2h0M895.1,337.4h0M900.8,341.6h0M906.4,345.9h0M911.9,350.2h0M917.3,354.6h0M922.6,359.1h0M927.8,363.6h0M933,368.2h0M938.1,372.8h0M943,377.4h0M947.9,382.2h0M952.7,386.9h0M957.4,391.7h0M962,396.6h0M966.5,401.5h0M971,406.5h0M975.3,411.4h0M979.5,416.5h0M870.6,321.1h0M876.6,325.1h0M882.5,329.1h0M888.4,333.2h0M894.1,337.3h0M899.8,341.5h0M905.4,345.8h0M910.9,350.2h0M916.3,354.5h0M921.6,359h0M926.9,363.5h0M932,368h0M937.1,372.6h0M942.1,377.3h0M947,382h0M951.8,386.8h0M956.5,391.6h0M961.1,396.4h0M965.6,401.3h0M970,406.2h0M974.4,411.2h0M978.6,416.2h0M875.6,325.1h0M881.5,329.1h0M887.4,333.2h0M893.1,337.3h0M898.8,341.5h0M904.4,345.8h0M909.9,350.1h0M915.3,354.5h0M920.7,358.9h0M925.9,363.4h0M931.1,367.9h0M936.1,372.5h0M941.1,377.2h0M946,381.9h0M950.8,386.6h0M955.6,391.4h0M960.2,396.2h0M964.7,401.1h0M969.2,406h0M973.5,411h0M977.8,416h0M874.7,325.1h0M880.6,329.1h0M886.4,333.2h0M892.2,337.3h0M897.9,341.5h0M903.5,345.7h0M909,350h0M914.4,354.4h0M919.7,358.8h0M925,363.3h0M930.2,367.8h0M935.2,372.4h0M940.2,377.1h0M945.1,381.7h0M950,386.5h0M954.7,391.2h0M959.3,396.1h0M963.9,400.9h0M968.3,405.8h0M972.7,410.8h0M976.9,415.8h0M879.7,329.1h0M885.5,333.2h0M891.3,337.3h0M897,341.5h0M902.6,345.7h0M908.1,350h0M913.5,354.3h0M918.9,358.8h0M924.1,363.2h0M929.3,367.7h0M934.4,372.3h0M939.4,376.9h0M944.3,381.6h0M949.1,386.3h0M953.8,391.1h0M958.5,395.9h0M963,400.8h0M967.5,405.7h0M971.9,410.6h0M976.1,415.6h0M878.8,329.1h0M884.7,333.2h0M890.4,337.3h0M896.1,341.4h0M901.7,345.7h0M907.2,350h0M912.7,354.3h0M918,358.7h0M923.3,363.1h0M928.5,367.7h0M933.6,372.2h0M938.6,376.8h0M943.5,381.5h0M948.3,386.2h0M953.1,391h0M957.7,395.8h0M962.3,400.6h0M966.7,405.5h0M971.1,410.4h0M975.4,415.4h0M878,329.2h0M883.9,333.2h0M889.6,337.3h0M895.3,341.4h0M900.9,345.6h0M906.4,349.9h0M911.9,354.2h0M917.2,358.6h0M922.5,363.1h0M927.7,367.6h0M932.8,372.1h0M937.8,376.7h0M942.7,381.4h0M947.5,386.1h0M952.3,390.8h0M956.9,395.6h0M961.5,400.4h0M966,405.3h0M970.4,410.3h0M974.7,415.2h0M883.1,333.2h0M888.9,337.3h0M894.5,341.4h0M900.1,345.6h0M905.7,349.9h0M911.1,354.2h0M916.5,358.6h0M921.7,363h0M926.9,367.5h0M932,372h0M937,376.6h0M942,381.3h0M946.8,386h0M951.6,390.7h0M956.2,395.5h0M960.8,400.3h0M965.3,405.2h0M969.7,410.1h0M974,415h0M882.3,333.2h0M888.1,337.3h0M893.8,341.4h0M899.4,345.6h0M904.9,349.8h0M910.4,354.1h0M915.7,358.5h0M921,362.9h0M926.2,367.4h0M931.3,371.9h0M936.3,376.5h0M941.3,381.2h0M946.1,385.8h0M950.9,390.6h0M955.5,395.3h0M960.1,400.2h0M964.6,405h0M969,409.9h0M973.3,414.9h0M881.6,333.2h0M887.4,337.2h0M893.1,341.4h0M898.7,345.6h0M904.3,349.8h0M909.7,354.1h0M915.1,358.5h0M920.3,362.9h0M925.5,367.3h0M930.7,371.9h0M935.7,376.4h0M940.6,381.1h0M945.5,385.7h0M950.2,390.5h0M954.9,395.2h0M959.5,400h0M964,404.9h0M968.4,409.8h0M972.7,414.7h0M881,333.2h0M886.8,337.2h0M892.5,341.4h0M898.1,345.5h0M903.6,349.8h0M909.1,354.1h0M914.4,358.4h0M919.7,362.8h0M924.9,367.3h0M930,371.8h0M935,376.4h0M940,381h0M944.8,385.6h0M949.6,390.3h0M954.3,395.1h0M958.9,399.9h0M963.4,404.8h0M967.8,409.6h0M972.1,414.6h0M886.1,337.2h0M891.8,341.3h0M897.5,345.5h0M903,349.7h0M908.4,354h0M913.8,358.4h0M919.1,362.8h0M924.3,367.2h0M929.4,371.7h0M934.5,376.3h0M939.4,380.9h0M944.3,385.5h0M949,390.2h0M953.7,395h0M958.3,399.8h0M962.8,404.6h0M967.2,409.5h0M971.5,414.4h0M885.6,337.2h0M891.3,341.3h0M896.9,345.5h0M902.4,349.7h0M907.9,354h0M913.2,358.3h0M918.5,362.7h0M923.7,367.2h0M928.9,371.7h0M933.9,376.2h0M938.8,380.8h0M943.7,385.5h0M948.5,390.2h0M953.2,394.9h0M957.8,399.7h0M962.3,404.5h0M966.7,409.4h0M971,414.3h0M885,337.2h0M890.7,341.3h0M896.3,345.5h0M901.9,349.7h0M907.3,354h0M912.7,358.3h0M918,362.7h0M923.2,367.1h0M928.3,371.6h0M933.4,376.1h0M938.3,380.7h0M943.2,385.4h0M948,390.1h0M952.7,394.8h0M957.3,399.6h0M961.8,404.4h0M966.2,409.3h0M970.5,414.2h0M884.5,337.2h0M890.2,341.3h0M895.8,345.5h0M901.4,349.7h0M906.8,353.9h0M912.2,358.2h0M917.5,362.6h0M922.7,367.1h0M927.8,371.5h0M932.9,376.1h0M937.8,380.7h0M942.7,385.3h0M947.5,390h0M952.2,394.7h0M956.8,399.5h0M961.3,404.3h0M965.7,409.2h0M970.1,414.1h0M889.7,341.3h0M895.4,345.4h0M900.9,349.6h0M906.4,353.9h0M911.8,358.2h0M917.1,362.6h0M922.3,367h0M927.4,371.5h0M932.4,376h0M937.4,380.6h0M942.3,385.2h0M947.1,389.9h0M951.8,394.6h0M956.4,399.4h0M960.9,404.2h0M965.3,409.1h0M969.7,414h0M889.3,341.3h0M894.9,345.4h0M900.5,349.6h0M905.9,353.9h0M911.3,358.2h0M916.6,362.5h0M921.8,367h0M927,371.4h0M932,376h0M937,380.5h0M941.9,385.2h0M946.7,389.8h0M951.4,394.6h0M956,399.3h0M960.5,404.1h0M964.9,409h0M969.3,413.9h0M888.9,341.3h0M894.5,345.4h0M900.1,349.6h0M905.6,353.9h0M910.9,358.2h0M916.2,362.5h0M921.5,366.9h0M926.6,371.4h0M931.7,375.9h0M936.6,380.5h0M941.5,385.1h0M946.3,389.8h0M951,394.5h0M955.6,399.3h0M960.1,404.1h0M964.6,408.9h0M968.9,413.8h0M888.6,341.3h0M894.2,345.4h0M899.7,349.6h0M905.2,353.8h0M910.6,358.1h0M915.9,362.5h0M921.1,366.9h0M926.3,371.4h0M931.3,375.9h0M936.3,380.4h0M941.2,385.1h0M946,389.7h0M950.7,394.4h0M955.3,399.2h0M959.8,404h0M964.3,408.8h0M968.6,413.7h0M888.2,341.3h0M893.9,345.4h0M899.4,349.6h0M904.9,353.8h0M910.3,358.1h0M915.6,362.5h0M920.8,366.9h0M925.9,371.3h0M931,375.8h0M936,380.4h0M940.9,385h0M945.7,389.7h0M950.4,394.4h0M955,399.1h0M959.5,403.9h0M964,408.8h0M968.3,413.7h0M888,341.3h0M893.6,345.4h0M899.1,349.6h0M904.6,353.8h0M910,358.1h0M915.3,362.4h0M920.5,366.8h0M925.7,371.3h0M930.7,375.8h0M935.7,380.4h0M940.6,385h0M945.4,389.6h0M950.1,394.3h0M954.7,399.1h0M959.3,403.9h0M963.7,408.7h0M968.1,413.6h0M887.7,341.3h0M893.4,345.4h0M898.9,349.6h0M904.4,353.8h0M909.8,358.1h0M915.1,362.4h0M920.3,366.8h0M925.4,371.3h0M930.5,375.8h0M935.5,380.3h0M940.4,384.9h0M945.2,389.6h0M949.9,394.3h0M954.5,399h0M959,403.8h0M963.5,408.7h0M967.8,413.5h0M893.1,345.4h0M898.7,349.5h0M904.2,353.8h0M909.6,358.1h0M914.9,362.4h0M920.1,366.8h0M925.2,371.2h0M930.3,375.7h0M935.3,380.3h0M940.2,384.9h0M945,389.6h0M949.7,394.3h0M954.3,399h0M958.9,403.8h0M963.3,408.6h0M967.7,413.5h0M893,345.4h0M898.5,349.5h0M904,353.8h0M909.4,358h0M914.7,362.4h0M919.9,366.8h0M925.1,371.2h0M930.1,375.7h0M935.1,380.3h0M940,384.9h0M944.8,389.5h0M949.5,394.2h0M954.2,399h0M958.7,403.8h0M963.1,408.6h0M967.5,413.5h0M1780.5,861.7h0M1762.3,859.6h0M1744.5,857.7h0M1727.3,855.8h0M1710.5,854.1h0M1694.2,852.4h0M1678.3,850.9h0M1662.9,849.4h0M1647.8,848.1h0M1633.2,846.8h0M1618.9,845.5h0M1605,844.4h0M1591.4,843.3h0M1578.2,842.3h0M1565.3,841.3h0M1552.7,840.4h0M1540.5,839.5h0M1528.5,838.6h0M1516.9,837.9h0M1505.5,837.1h0M1494.3,836.4h0M1483.5,835.7h0M1472.9,835.1h0M1462.5,834.5h0M1452.4,833.9h0M1442.5,833.3h0M1432.9,832.8h0M1423.4,832.3h0M1414.2,831.8h0M1405.2,831.3h0M1396.4,830.9h0M1387.7,830.5h0M1379.3,830.1h0M1371.1,829.7h0M1363,829.3h0M1355.1,829h0M1775.3,900.1h0M1757.5,896.1h0M1740.2,892.4h0M1723.3,888.9h0M1706.9,885.6h0M1690.8,882.5h0M1675.2,879.5h0M1660,876.8h0M1645.2,874.1h0M1630.8,871.7h0M1616.7,869.4h0M1602.9,867.1h0M1589.5,865.1h0M1576.5,863.1h0M1563.7,861.2h0M1551.3,859.5h0M1539.1,857.8h0M1527.3,856.2h0M1515.7,854.7h0M1504.4,853.2h0M1493.3,851.9h0M1482.6,850.6h0M1472,849.3h0M1461.7,848.2h0M1451.7,847h0M1441.8,846h0M1432.2,845h0M1422.8,844h0M1413.6,843.1h0M1404.7,842.2h0M1395.9,841.3h0M1387.3,840.5h0M1378.9,839.8h0M1370.6,839h0M1362.6,838.3h0M1354.7,837.6h0M1767,937.5h0M1749.9,931.7h0M1733.2,926.3h0M1716.9,921.3h0M1701,916.5h0M1685.5,911.9h0M1670.3,907.7h0M1655.5,903.7h0M1641,899.9h0M1626.9,896.3h0M1613.1,892.9h0M1599.7,889.6h0M1586.5,886.6h0M1573.7,883.7h0M1561.1,881h0M1548.9,878.4h0M1536.9,875.9h0M1525.2,873.6h0M1513.8,871.4h0M1502.6,869.3h0M1491.7,867.3h0M1481,865.3h0M1470.6,863.5h0M1460.4,861.8h0M1450.4,860.2h0M1440.7,858.6h0M1431.2,857.1h0M1421.8,855.7h0M1412.7,854.3h0M1403.8,853h0M1395.1,851.7h0M1386.5,850.5h0M1378.2,849.4h0M1370,848.3h0M1362,847.3h0M1354.2,846.3h0M1756,973.4h0M1739.8,966.1h0M1723.9,959.2h0M1708.4,952.7h0M1693.1,946.5h0M1678.2,940.7h0M1663.6,935.2h0M1649.3,930h0M1635.4,925h0M1621.7,920.4h0M1608.3,916h0M1595.2,911.8h0M1582.4,907.8h0M1569.8,904h0M1557.6,900.5h0M1545.6,897.1h0M1533.9,893.9h0M1522.4,890.8h0M1511.2,887.9h0M1500.2,885.1h0M1489.4,882.5h0M1478.9,880h0M1468.7,877.6h0M1458.6,875.3h0M1448.8,873.2h0M1439.1,871.1h0M1429.7,869.1h0M1420.5,867.2h0M1411.4,865.4h0M1402.6,863.7h0M1394,862.1h0M1385.5,860.5h0M1377.2,859h0M1369.1,857.6h0M1361.1,856.2h0M1353.4,854.9h0M1742.5,1007.7h0M1727.3,999h0M1712.5,990.7h0M1697.8,982.9h0M1683.4,975.5h0M1669.2,968.5h0M1655.3,961.8h0M1641.7,955.5h0M1628.3,949.5h0M1615.1,943.9h0M1602.2,938.5h0M1589.6,933.4h0M1577.2,928.6h0M1565,924h0M1553.1,919.6h0M1541.5,915.5h0M1530,911.5h0M1518.8,907.8h0M1507.9,904.2h0M1497.1,900.8h0M1486.6,897.6h0M1476.3,894.5h0M1466.2,891.5h0M1456.3,888.7h0M1446.6,886.1h0M1437.1,883.5h0M1427.8,881.1h0M1418.7,878.7h0M1409.8,876.5h0M1401.1,874.4h0M1392.5,872.4h0M1384.2,870.4h0M1376,868.6h0M1367.9,866.8h0M1360.1,865.1h0M1352.4,863.5h0M1726.9,1040h0M1713,1030.1h0M1699.2,1020.7h0M1685.5,1011.7h0M1672,1003.2h0M1658.7,995.1h0M1645.6,987.4h0M1632.7,980.2h0M1619.9,973.2h0M1607.4,966.7h0M1595.1,960.4h0M1583,954.5h0M1571,948.8h0M1559.3,943.4h0M1547.8,938.3h0M1536.5,933.5h0M1525.5,928.8h0M1514.6,924.4h0M1503.9,920.2h0M1493.4,916.2h0M1483.2,912.4h0M1473.1,908.7h0M1463.2,905.3h0M1453.5,902h0M1444,898.8h0M1434.7,895.8h0M1425.6,892.9h0M1416.6,890.1h0M1407.9,887.5h0M1399.3,885h0M1390.8,882.6h0M1382.6,880.3h0M1374.5,878.1h0M1366.5,876h0M1358.8,873.9h0M1351.1,872h0M1709.7,1070.3h0M1697,1059.4h0M1684.3,1049h0M1671.7,1039h0M1659.3,1029.6h0M1646.9,1020.6h0M1634.6,1012h0M1622.5,1003.8h0M1610.5,996h0M1598.6,988.6h0M1586.9,981.6h0M1575.4,974.9h0M1564,968.5h0M1552.8,962.4h0M1541.7,956.6h0M1530.9,951h0M1520.2,945.7h0M1509.7,940.7h0M1499.3,935.9h0M1489.2,931.3h0M1479.2,927h0M1469.4,922.8h0M1459.8,918.8h0M1450.3,915h0M1441,911.4h0M1431.9,907.9h0M1423,904.6h0M1414.2,901.4h0M1405.6,898.4h0M1397.1,895.5h0M1388.9,892.7h0M1380.7,890h0M1372.7,887.5h0M1364.9,885h0M1357.2,882.7h0M1349.7,880.4h0M1691.1,1098.5h0M1679.7,1086.8h0M1668.2,1075.5h0M1656.8,1064.8h0M1645.3,1054.5h0M1633.9,1044.7h0M1622.5,1035.4h0M1611.2,1026.4h0M1600,1017.9h0M1588.9,1009.8h0M1577.8,1002h0M1566.9,994.6h0M1556.1,987.5h0M1545.4,980.7h0M1534.9,974.3h0M1524.5,968.1h0M1514.3,962.2h0M1504.2,956.6h0M1494.2,951.3h0M1484.4,946.1h0M1474.7,941.2h0M1465.2,936.6h0M1455.9,932.1h0M1446.7,927.8h0M1437.6,923.8h0M1428.7,919.8h0M1420,916.1h0M1411.4,912.5h0M1403,909.1h0M1394.7,905.8h0M1386.6,902.7h0M1378.6,899.7h0M1370.7,896.8h0M1363,894h0M1355.5,891.4h0M1348.1,888.8h0M1671.6,1124.7h0M1661.4,1112.3h0M1651.2,1100.4h0M1640.8,1089h0M1630.4,1078h0M1620,1067.6h0M1609.5,1057.5h0M1599.1,1047.9h0M1588.7,1038.7h0M1578.3,1029.9h0M1568,1021.5h0M1557.7,1013.5h0M1547.5,1005.8h0M1537.4,998.4h0M1527.4,991.4h0M1517.5,984.7h0M1507.7,978.3h0M1498.1,972.1h0M1488.5,966.2h0M1479.1,960.6h0M1469.8,955.2h0M1460.6,950.1h0M1451.5,945.1h0M1442.6,940.4h0M1433.8,935.9h0M1425.2,931.6h0M1416.7,927.4h0M1408.3,923.5h0M1400.1,919.7h0M1392,916.1h0M1384,912.6h0M1376.2,909.2h0M1368.5,906h0M1361,902.9h0M1353.5,900h0M1346.2,897.2h0M1651.4,1148.8h0M1642.5,1135.9h0M1633.4,1123.5h0M1624.1,1111.5h0M1614.7,1100.1h0M1605.3,1089h0M1595.8,1078.5h0M1586.2,1068.3h0M1576.6,1058.6h0M1567,1049.2h0M1557.4,1040.2h0M1547.8,1031.6h0M1538.3,1023.4h0M1528.8,1015.5h0M1519.3,1008h0M1510,1000.7h0M1500.7,993.8h0M1491.5,987.1h0M1482.3,980.8h0M1473.3,974.7h0M1464.4,968.8h0M1455.5,963.2h0M1446.8,957.9h0M1438.2,952.8h0M1429.7,947.8h0M1421.3,943.1h0M1413.1,938.6h0M1404.9,934.3h0M1396.9,930.1h0M1389,926.1h0M1381.2,922.3h0M1373.6,918.6h0M1366.1,915.1h0M1358.7,911.7h0M1351.4,908.5h0M1344.2,905.4h0M1630.8,1170.9h0M1623,1157.7h0M1615,1144.9h0M1606.8,1132.6h0M1598.5,1120.7h0M1590,1109.2h0M1581.4,1098.2h0M1572.7,1087.5h0M1564,1077.3h0M1555.1,1067.5h0M1546.3,1058.1h0M1537.4,1049h0M1528.5,1040.3h0M1519.6,1031.9h0M1510.7,1023.9h0M1501.9,1016.2h0M1493.1,1008.8h0M1484.4,1001.7h0M1475.7,994.9h0M1467.1,988.4h0M1458.5,982.1h0M1450.1,976.1h0M1441.7,970.3h0M1433.4,964.8h0M1425.2,959.5h0M1417.1,954.4h0M1409.1,949.5h0M1401.2,944.9h0M1393.4,940.4h0M1385.8,936h0M1378.2,931.9h0M1370.7,927.9h0M1363.4,924.1h0M1356.1,920.4h0M1349,916.9h0M1342,913.5h0M1609.9,1191.3h0M1603.3,1177.8h0M1596.4,1164.7h0M1589.2,1152.1h0M1581.9,1139.9h0M1574.3,1128.1h0M1566.6,1116.7h0M1558.8,1105.7h0M1550.8,1095.1h0M1542.8,1084.9h0M1534.7,1075h0M1526.5,1065.5h0M1518.2,1056.4h0M1510,1047.6h0M1501.7,1039.2h0M1493.4,1031.1h0M1485.1,1023.3h0M1476.9,1015.8h0M1468.7,1008.6h0M1460.5,1001.6h0M1452.3,995h0M1444.3,988.6h0M1436.2,982.5h0M1428.3,976.6h0M1420.4,970.9h0M1412.6,965.5h0M1404.9,960.3h0M1397.3,955.2h0M1389.7,950.4h0M1382.3,945.8h0M1374.9,941.3h0M1367.7,937.1h0M1360.5,933h0M1353.4,929h0M1346.5,925.2h0M1339.6,921.6h0M1589,1209.9h0M1583.4,1196.3h0M1577.5,1183h0M1571.4,1170.2h0M1565,1157.7h0M1558.3,1145.7h0M1551.5,1134h0M1544.5,1122.7h0M1537.3,1111.8h0M1530.1,1101.3h0M1522.6,1091.1h0M1515.1,1081.3h0M1507.6,1071.8h0M1499.9,1062.6h0M1492.2,1053.8h0M1484.5,1045.4h0M1476.8,1037.2h0M1469,1029.3h0M1461.3,1021.8h0M1453.5,1014.5h0M1445.8,1007.5h0M1438.1,1000.8h0M1430.5,994.3h0M1422.9,988h0M1415.3,982h0M1407.8,976.3h0M1400.4,970.7h0M1393,965.4h0M1385.8,960.3h0M1378.5,955.4h0M1371.4,950.6h0M1364.4,946.1h0M1357.4,941.7h0M1350.5,937.5h0M1343.7,933.4h0M1337,929.5h0M1568.2,1227h0M1563.6,1213.3h0M1558.7,1199.9h0M1553.4,1187h0M1547.9,1174.4h0M1542.2,1162.1h0M1536.2,1150.2h0M1530,1138.7h0M1523.6,1127.6h0M1517,1116.8h0M1510.3,1106.3h0M1503.5,1096.2h0M1496.6,1086.4h0M1489.6,1077h0M1482.5,1067.9h0M1475.3,1059.1h0M1468.1,1050.6h0M1460.8,1042.4h0M1453.5,1034.5h0M1446.3,1026.9h0M1439,1019.6h0M1431.7,1012.5h0M1424.4,1005.7h0M1417.2,999.2h0M1410,992.9h0M1402.8,986.8h0M1395.7,981h0M1388.6,975.4h0M1381.6,970h0M1374.6,964.7h0M1367.7,959.7h0M1360.9,954.9h0M1354.1,950.3h0M1347.4,945.8h0M1340.8,941.5h0M1334.3,937.3h0M1547.6,1242.6h0M1543.9,1228.9h0M1539.8,1215.5h0M1535.5,1202.5h0M1530.8,1189.8h0M1525.9,1177.4h0M1520.7,1165.4h0M1515.3,1153.7h0M1509.6,1142.4h0M1503.8,1131.4h0M1497.8,1120.7h0M1491.6,1110.3h0M1485.4,1100.3h0M1478.9,1090.6h0M1472.4,1081.3h0M1465.8,1072.2h0M1459.1,1063.4h0M1452.4,1055h0M1445.5,1046.8h0M1438.7,1038.9h0M1431.8,1031.3h0M1425,1024h0M1418.1,1016.9h0M1411.2,1010h0M1404.3,1003.5h0M1397.5,997.1h0M1390.7,991h0M1383.9,985.1h0M1377.1,979.4h0M1370.4,973.9h0M1363.8,968.7h0M1357.2,963.6h0M1350.6,958.7h0M1344.2,954h0M1337.8,949.4h0M1331.4,945h0M1527.2,1256.8h0M1524.4,1243.2h0M1521.2,1229.8h0M1517.6,1216.8h0M1513.8,1204.1h0M1509.6,1191.6h0M1505.2,1179.5h0M1500.5,1167.7h0M1495.6,1156.3h0M1490.4,1145.1h0M1485.1,1134.3h0M1479.6,1123.7h0M1473.9,1113.5h0M1468.1,1103.6h0M1462.1,1094h0M1456.1,1084.7h0M1449.9,1075.7h0M1443.6,1067h0M1437.3,1058.6h0M1430.9,1050.5h0M1424.5,1042.6h0M1418,1035h0M1411.5,1027.7h0M1405,1020.6h0M1398.5,1013.7h0M1392,1007.1h0M1385.5,1000.7h0M1379,994.6h0M1372.5,988.7h0M1366.1,982.9h0M1359.7,977.4h0M1353.3,972.1h0M1347,967h0M1340.7,962h0M1334.5,957.2h0M1328.4,952.6h0M1507.2,1269.8h0M1505.1,1256.3h0M1502.7,1243h0M1499.9,1230h0M1496.8,1217.3h0M1493.4,1204.9h0M1489.7,1192.7h0M1485.7,1180.9h0M1481.5,1169.3h0M1477,1158.1h0M1472.3,1147.1h0M1467.4,1136.4h0M1462.3,1126.1h0M1457.1,1116h0M1451.7,1106.2h0M1446.2,1096.7h0M1440.5,1087.5h0M1434.7,1078.6h0M1428.9,1070h0M1422.9,1061.6h0M1416.9,1053.5h0M1410.9,1045.7h0M1404.8,1038.1h0M1398.6,1030.8h0M1392.5,1023.7h0M1386.3,1016.8h0M1380.1,1010.2h0M1373.9,1003.8h0M1367.7,997.7h0M1361.6,991.7h0M1355.4,986h0M1349.3,980.4h0M1343.2,975.1h0M1337.2,969.9h0M1331.1,964.9h0M1325.2,960.1h0M1487.5,1281.8h0M1486.2,1268.3h0M1484.5,1255.2h0M1482.5,1242.3h0M1480.1,1229.6h0M1477.3,1217.2h0M1474.3,1205h0M1471,1193.1h0M1467.4,1181.5h0M1463.5,1170.2h0M1459.5,1159.2h0M1455.2,1148.4h0M1450.7,1137.9h0M1446,1127.7h0M1441.1,1117.8h0M1436.1,1108.1h0M1430.9,1098.8h0M1425.7,1089.7h0M1420.3,1080.9h0M1414.8,1072.3h0M1409.2,1064h0M1403.6,1056h0M1397.8,1048.2h0M1392.1,1040.6h0M1386.3,1033.3h0M1380.4,1026.3h0M1374.5,1019.5h0M1368.7,1012.9h0M1362.8,1006.5h0M1356.9,1000.3h0M1351,994.3h0M1345.1,988.6h0M1339.3,983h0M1333.4,977.6h0M1327.6,972.5h0M1321.9,967.4h0M1468.3,1292.6h0M1467.7,1279.4h0M1466.6,1266.4h0M1465.2,1253.5h0M1463.5,1240.9h0M1461.4,1228.6h0M1459,1216.5h0M1456.3,1204.6h0M1453.3,1193h0M1450.1,1181.6h0M1446.6,1170.5h0M1442.9,1159.7h0M1438.9,1149.1h0M1434.8,1138.8h0M1430.5,1128.8h0M1425.9,1119h0M1421.3,1109.5h0M1416.5,1100.3h0M1411.5,1091.3h0M1406.5,1082.6h0M1401.3,1074.1h0M1396.1,1065.9h0M1390.7,1057.9h0M1385.3,1050.2h0M1379.9,1042.7h0M1374.4,1035.5h0M1368.8,1028.4h0M1363.2,1021.6h0M1357.6,1015.1h0M1352,1008.7h0M1346.4,1002.5h0M1340.8,996.6h0M1335.2,990.8h0M1329.6,985.2h0M1324,979.9h0M1318.4,974.6h0M1449.5,1302.6h0M1449.5,1289.5h0M1449.1,1276.6h0M1448.3,1264h0M1447.1,1251.5h0M1445.7,1239.2h0M1443.9,1227.1h0M1441.8,1215.3h0M1439.4,1203.7h0M1436.7,1192.4h0M1433.8,1181.2h0M1430.6,1170.4h0M1427.2,1159.8h0M1423.6,1149.4h0M1419.7,1139.3h0M1415.7,1129.4h0M1411.5,1119.8h0M1407.2,1110.4h0M1402.7,1101.3h0M1398.1,1092.4h0M1393.3,1083.8h0M1388.5,1075.5h0M1383.5,1067.3h0M1378.5,1059.4h0M1373.4,1051.8h0M1368.2,1044.3h0M1363,1037.1h0M1357.7,1030.2h0M1352.4,1023.4h0M1347,1016.9h0M1341.7,1010.5h0M1336.3,1004.4h0M1330.9,998.4h0M1325.6,992.7h0M1320.2,987.1h0M1314.8,981.7h0M1431.2,1311.7h0M1431.7,1298.8h0M1431.9,1286.1h0M1431.6,1273.6h0M1431.1,1261.2h0M1430.2,1249h0M1428.9,1237.1h0M1427.4,1225.3h0M1425.5,1213.8h0M1423.4,1202.4h0M1421,1191.3h0M1418.4,1180.4h0M1415.5,1169.8h0M1412.3,1159.4h0M1409,1149.2h0M1405.4,1139.3h0M1401.7,1129.6h0M1397.8,1120.1h0M1393.7,1110.9h0M1389.5,1101.9h0M1385.2,1093.2h0M1380.7,1084.7h0M1376.2,1076.4h0M1371.5,1068.4h0M1366.7,1060.5h0M1361.9,1053h0M1357,1045.6h0M1352,1038.5h0M1347,1031.5h0M1341.9,1024.8h0M1336.8,1018.3h0M1331.7,1012h0M1326.6,1005.9h0M1321.4,999.9h0M1316.3,994.2h0M1311.1,988.7h0M1413.3,1320h0M1414.3,1307.3h0M1415,1294.8h0M1415.3,1282.5h0M1415.3,1270.2h0M1414.9,1258.2h0M1414.2,1246.3h0M1413.2,1234.7h0M1411.9,1223.2h0M1410.2,1211.9h0M1408.3,1200.8h0M1406.2,1189.9h0M1403.8,1179.3h0M1401.1,1168.9h0M1398.2,1158.6h0M1395.1,1148.7h0M1391.9,1138.9h0M1388.4,1129.4h0M1384.8,1120.1h0M1381,1111h0M1377,1102.1h0M1372.9,1093.5h0M1368.7,1085.1h0M1364.4,1077h0M1360,1069h0M1355.5,1061.3h0M1350.9,1053.8h0M1346.2,1046.5h0M1341.5,1039.4h0M1336.7,1032.6h0M1331.9,1025.9h0M1327,1019.4h0M1322.1,1013.1h0M1317.2,1007.1h0M1312.3,1001.2h0M1307.3,995.4h0M1395.9,1327.6h0M1397.4,1315.2h0M1398.6,1302.8h0M1399.4,1290.7h0M1399.8,1278.6h0M1399.9,1266.7h0M1399.7,1255h0M1399.2,1243.4h0M1398.3,1232h0M1397.2,1220.8h0M1395.8,1209.7h0M1394.1,1198.9h0M1392.1,1188.3h0M1389.9,1177.8h0M1387.5,1167.6h0M1384.9,1157.6h0M1382,1147.8h0M1379,1138.2h0M1375.7,1128.8h0M1372.3,1119.7h0M1368.8,1110.7h0M1365,1102h0M1361.2,1093.5h0M1357.2,1085.3h0M1353.1,1077.2h0M1349,1069.4h0M1344.7,1061.7h0M1340.3,1054.3h0M1335.9,1047.1h0M1331.4,1040.1h0M1326.8,1033.3h0M1322.2,1026.7h0M1317.6,1020.2h0M1312.9,1014h0M1308.2,1008h0M1303.5,1002.1h0M1378.9,1334.6h0M1380.9,1322.4h0M1382.5,1310.2h0M1383.8,1298.2h0M1384.7,1286.3h0M1385.2,1274.6h0M1385.5,1263h0M1385.4,1251.5h0M1385,1240.2h0M1384.3,1229.1h0M1383.4,1218.1h0M1382.1,1207.3h0M1380.6,1196.7h0M1378.8,1186.3h0M1376.8,1176.1h0M1374.6,1166.1h0M1372.2,1156.2h0M1369.5,1146.6h0M1366.7,1137.2h0M1363.6,1128h0M1360.5,1119h0M1357.1,1110.2h0M1353.6,1101.6h0M1350,1093.3h0M1346.2,1085.1h0M1342.4,1077.2h0M1338.4,1069.4h0M1334.3,1061.9h0M1330.2,1054.6h0M1326,1047.4h0M1321.7,1040.5h0M1317.3,1033.7h0M1312.9,1027.2h0M1308.5,1020.8h0M1304,1014.6h0M1299.5,1008.6h0M1362.4,1341h0M1364.8,1329h0M1366.8,1317h0M1368.5,1305.2h0M1369.8,1293.5h0M1370.8,1281.9h0M1371.5,1270.5h0M1371.8,1259.1h0M1371.9,1247.9h0M1371.6,1236.9h0M1371.1,1226h0M1370.2,1215.3h0M1369.2,1204.7h0M1367.8,1194.3h0M1366.2,1184.1h0M1364.4,1174.1h0M1362.3,1164.3h0M1360.1,1154.7h0M1357.6,1145.2h0M1355,1136h0M1352.1,1126.9h0M1349.1,1118.1h0M1346,1109.4h0M1342.7,1101h0M1339.3,1092.8h0M1335.7,1084.7h0M1332.1,1076.9h0M1328.3,1069.2h0M1324.4,1061.8h0M1320.5,1054.5h0M1316.4,1047.5h0M1312.3,1040.6h0M1308.2,1033.9h0M1304,1027.4h0M1299.7,1021.1h0M1295.4,1015h0M1346.3,1346.8h0M1349.1,1335h0M1351.5,1323.3h0M1353.6,1311.7h0M1355.3,1300.2h0M1356.7,1288.7h0M1357.8,1277.4h0M1358.5,1266.2h0M1359,1255.2h0M1359.1,1244.2h0M1359,1233.4h0M1358.5,1222.8h0M1357.8,1212.3h0M1356.9,1201.9h0M1355.7,1191.8h0M1354.2,1181.8h0M1352.6,1172h0M1350.7,1162.3h0M1348.6,1152.9h0M1346.3,1143.6h0M1343.8,1134.5h0M1341.2,1125.6h0M1338.4,1116.9h0M1335.4,1108.4h0M1332.3,1100.1h0M1329,1092h0M1325.7,1084.1h0M1322.2,1076.3h0M1318.6,1068.8h0M1314.9,1061.5h0M1311.1,1054.3h0M1307.3,1047.3h0M1303.4,1040.5h0M1299.4,1033.9h0M1295.3,1027.5h0M1291.3,1021.2h0M1330.6,1352.1h0M1333.8,1340.6h0M1336.5,1329.1h0M1339,1317.7h0M1341.1,1306.3h0M1342.9,1295.1h0M1344.3,1283.9h0M1345.4,1272.9h0M1346.2,1261.9h0M1346.8,1251.1h0M1347,1240.4h0M1347,1229.8h0M1346.6,1219.4h0M1346.1,1209.1h0M1345.2,1199h0M1344.2,1189.1h0M1342.8,1179.3h0M1341.3,1169.6h0M1339.6,1160.2h0M1337.6,1150.9h0M1335.5,1141.8h0M1333.2,1132.9h0M1330.7,1124.1h0M1328,1115.6h0M1325.2,1107.2h0M1322.3,1099h0M1319.2,1091h0M1316,1083.2h0M1312.7,1075.6h0M1309.3,1068.2h0M1305.8,1060.9h0M1302.2,1053.8h0M1298.5,1047h0M1294.7,1040.2h0M1290.9,1033.7h0M1287,1027.4h0M1315.4,1357h0M1318.9,1345.7h0M1322,1334.4h0M1324.8,1323.2h0M1327.2,1312h0M1329.3,1301h0M1331.1,1290h0M1332.6,1279.1h0M1333.8,1268.2h0M1334.6,1257.5h0M1335.2,1247h0M1335.5,1236.5h0M1335.6,1226.2h0M1335.4,1216h0M1334.9,1205.9h0M1334.2,1196h0M1333.2,1186.2h0M1332,1176.6h0M1330.6,1167.2h0M1329,1157.9h0M1327.2,1148.8h0M1325.2,1139.8h0M1323,1131.1h0M1320.7,1122.5h0M1318.2,1114.1h0M1315.5,1105.8h0M1312.7,1097.8h0M1309.8,1089.9h0M1306.8,1082.2h0M1303.6,1074.7h0M1300.3,1067.4h0M1297,1060.2h0M1293.5,1053.2h0M1290,1046.4h0M1286.4,1039.8h0M1282.8,1033.3h0M1300.6,1361.5h0M1304.4,1350.4h0M1307.8,1339.3h0M1310.9,1328.3h0M1313.6,1317.3h0M1316.1,1306.4h0M1318.2,1295.6h0M1320,1284.8h0M1321.5,1274.2h0M1322.7,1263.6h0M1323.6,1253.1h0M1324.3,1242.8h0M1324.7,1232.5h0M1324.8,1222.4h0M1324.6,1212.4h0M1324.2,1202.6h0M1323.6,1192.8h0M1322.8,1183.3h0M1321.7,1173.8h0M1320.4,1164.6h0M1318.9,1155.5h0M1317.2,1146.5h0M1315.3,1137.7h0M1313.3,1129.1h0M1311.1,1120.7h0M1308.7,1112.4h0M1306.2,1104.3h0M1303.6,1096.4h0M1300.8,1088.6h0M1297.9,1081h0M1294.9,1073.6h0M1291.8,1066.4h0M1288.6,1059.3h0M1285.3,1052.4h0M1281.9,1045.7h0M1278.4,1039.1h0M1286.2,1365.6h0M1290.2,1354.7h0M1293.9,1343.8h0M1297.3,1333h0M1300.4,1322.2h0M1303.1,1311.5h0M1305.5,1300.9h0M1307.6,1290.3h0M1309.5,1279.7h0M1311,1269.3h0M1312.2,1258.9h0M1313.2,1248.7h0M1313.9,1238.5h0M1314.3,1228.5h0M1314.5,1218.6h0M1314.4,1208.8h0M1314.1,1199.1h0M1313.6,1189.6h0M1312.8,1180.2h0M1311.8,1171h0M1310.6,1161.9h0M1309.3,1152.9h0M1307.7,1144.1h0M1305.9,1135.5h0M1304,1127h0M1301.9,1118.7h0M1299.7,1110.6h0M1297.3,1102.6h0M1294.8,1094.8h0M1292.1,1087.2h0M1289.4,1079.7h0M1286.5,1072.4h0M1283.5,1065.2h0M1280.4,1058.3h0M1277.3,1051.5h0M1274,1044.8h0M1272.2,1369.3h0M1276.5,1358.6h0M1280.4,1348h0M1284.1,1337.4h0M1287.4,1326.8h0M1290.4,1316.3h0M1293.1,1305.8h0M1295.5,1295.3h0M1297.7,1284.9h0M1299.5,1274.6h0M1301,1264.4h0M1302.3,1254.3h0M1303.3,1244.2h0M1304,1234.3h0M1304.5,1224.4h0M1304.7,1214.7h0M1304.7,1205.1h0M1304.5,1195.6h0M1304,1186.3h0M1303.3,1177.1h0M1302.4,1168h0M1301.3,1159.1h0M1300.1,1150.3h0M1298.6,1141.6h0M1296.9,1133.2h0M1295.1,1124.8h0M1293.1,1116.7h0M1291,1108.7h0M1288.8,1100.8h0M1286.4,1093.1h0M1283.8,1085.6h0M1281.2,1078.2h0M1278.4,1071h0M1275.6,1064h0M1272.6,1057.1h0M1269.6,1050.4h0M1258.5,1372.7h0M1263.1,1362.3h0M1267.3,1351.8h0M1271.2,1341.4h0M1274.8,1331h0M1278,1320.6h0M1281,1310.3h0M1283.7,1300h0M1286.1,1289.8h0M1288.2,1279.6h0M1290,1269.6h0M1291.6,1259.5h0M1292.9,1249.6h0M1293.9,1239.8h0M1294.6,1230h0M1295.2,1220.4h0M1295.4,1210.8h0M1295.5,1201.4h0M1295.3,1192.1h0M1294.9,1182.9h0M1294.3,1173.9h0M1293.5,1165h0M1292.5,1156.2h0M1291.3,1147.6h0M1289.9,1139.1h0M1288.3,1130.7h0M1286.6,1122.5h0M1284.7,1114.5h0M1282.7,1106.6h0M1280.6,1098.9h0M1278.3,1091.3h0M1275.9,1083.9h0M1273.3,1076.6h0M1270.7,1069.5h0M1268,1062.6h0M1265.1,1055.8h0M1245.3,1375.8h0M1250,1365.6h0M1254.4,1355.4h0M1258.6,1345.1h0M1262.4,1334.9h0M1265.9,1324.7h0M1269.1,1314.6h0M1272.1,1304.5h0M1274.7,1294.4h0M1277.1,1284.4h0M1279.2,1274.4h0M1281,1264.5h0M1282.6,1254.7h0M1283.9,1244.9h0M1284.9,1235.3h0M1285.7,1225.7h0M1286.3,1216.2h0M1286.6,1206.9h0M1286.7,1197.6h0M1286.5,1188.5h0M1286.2,1179.5h0M1285.6,1170.6h0M1284.9,1161.9h0M1284,1153.2h0M1282.8,1144.8h0M1281.5,1136.4h0M1280.1,1128.2h0M1278.4,1120.1h0M1276.7,1112.2h0M1274.7,1104.5h0M1272.7,1096.9h0M1270.5,1089.4h0M1268.2,1082.1h0M1265.8,1074.9h0M1263.2,1067.9h0M1260.6,1061.1h0M1232.3,1378.7h0M1237.3,1368.6h0M1241.9,1358.6h0M1246.3,1348.6h0M1250.3,1338.5h0M1254.1,1328.5h0M1257.5,1318.5h0M1260.7,1308.6h0M1263.6,1298.7h0M1266.2,1288.8h0M1268.6,1278.9h0M1270.6,1269.2h0M1272.4,1259.5h0M1274,1249.8h0M1275.3,1240.3h0M1276.4,1230.8h0M1277.2,1221.4h0M1277.8,1212.1h0M1278.1,1202.9h0M1278.2,1193.9h0M1278.2,1184.9h0M1277.9,1176h0M1277.4,1167.3h0M1276.7,1158.7h0M1275.8,1150.2h0M1274.8,1141.9h0M1273.5,1133.7h0M1272.2,1125.6h0M1270.6,1117.7h0M1268.9,1109.9h0M1267.1,1102.2h0M1265.1,1094.8h0M1263,1087.4h0M1260.8,1080.2h0M1258.5,1073.1h0M1256.1,1066.2h0M1219.8,1381.2h0M1224.9,1371.4h0M1229.7,1361.6h0M1234.3,1351.7h0M1238.5,1341.9h0M1242.5,1332.1h0M1246.2,1322.2h0M1249.6,1312.4h0M1252.7,1302.7h0M1255.5,1292.9h0M1258.1,1283.2h0M1260.4,1273.6h0M1262.5,1264h0M1264.3,1254.5h0M1265.8,1245h0M1267.1,1235.6h0M1268.2,1226.3h0M1269,1217.1h0M1269.6,1208h0M1270,1199h0M1270.2,1190h0M1270.1,1181.2h0M1269.9,1172.5h0M1269.5,1164h0M1268.8,1155.5h0M1268,1147.2h0M1267,1139h0M1265.9,1130.9h0M1264.6,1122.9h0M1263.1,1115.1h0M1261.5,1107.5h0M1259.7,1099.9h0M1257.9,1092.6h0M1255.9,1085.3h0M1253.7,1078.2h0M1251.5,1071.3h0M1207.5,1383.6h0M1212.8,1374h0M1217.8,1364.3h0M1222.5,1354.7h0M1227,1345h0M1231.2,1335.4h0M1235,1325.7h0M1238.7,1316h0M1242,1306.4h0M1245.1,1296.8h0M1247.9,1287.3h0M1250.4,1277.7h0M1252.7,1268.3h0M1254.7,1258.9h0M1256.5,1249.5h0M1258.1,1240.2h0M1259.4,1231h0M1260.4,1221.9h0M1261.3,1212.8h0M1261.9,1203.8h0M1262.3,1195h0M1262.5,1186.2h0M1262.5,1177.6h0M1262.3,1169h0M1261.9,1160.6h0M1261.3,1152.3h0M1260.5,1144.1h0M1259.6,1136h0M1258.5,1128h0M1257.3,1120.2h0M1255.9,1112.5h0M1254.3,1105h0M1252.7,1097.6h0M1250.9,1090.3h0M1248.9,1083.2h0M1246.9,1076.2h0M1195.6,1385.7h0M1201,1376.3h0M1206.2,1366.8h0M1211.1,1357.4h0M1215.7,1347.9h0M1220.1,1338.4h0M1224.2,1328.9h0M1228,1319.4h0M1231.5,1309.9h0M1234.8,1300.5h0M1237.8,1291.1h0M1240.6,1281.7h0M1243.1,1272.3h0M1245.3,1263h0M1247.3,1253.8h0M1249.1,1244.6h0M1250.6,1235.4h0M1251.9,1226.4h0M1253,1217.4h0M1253.8,1208.5h0M1254.5,1199.7h0M1254.9,1191h0M1255.1,1182.4h0M1255.1,1173.9h0M1255,1165.5h0M1254.6,1157.2h0M1254.1,1149h0M1253.4,1140.9h0M1252.5,1133h0M1251.5,1125.2h0M1250.3,1117.5h0M1248.9,1109.9h0M1247.5,1102.5h0M1245.9,1095.2h0M1244.1,1088h0M1242.3,1081h0M1183.9,1387.6h0M1189.5,1378.4h0M1194.9,1369.2h0M1199.9,1359.9h0M1204.7,1350.6h0M1209.3,1341.2h0M1213.5,1331.9h0M1217.5,1322.6h0M1221.2,1313.2h0M1224.7,1303.9h0M1227.9,1294.6h0M1230.9,1285.4h0M1233.6,1276.1h0M1236.1,1267h0M1238.3,1257.8h0M1240.3,1248.7h0M1242,1239.7h0M1243.5,1230.7h0M1244.8,1221.8h0M1245.9,1213h0M1246.7,1204.2h0M1247.4,1195.6h0M1247.8,1187h0M1248.1,1178.5h0M1248.1,1170.2h0M1248,1161.9h0M1247.6,1153.7h0M1247.1,1145.7h0M1246.5,1137.7h0M1245.7,1129.9h0M1244.7,1122.2h0M1243.5,1114.6h0M1242.3,1107.2h0M1240.9,1099.9h0M1239.3,1092.7h0M1237.7,1085.6h0M1172.6,1389.4h0M1178.3,1380.3h0M1183.8,1371.3h0M1189,1362.2h0M1194,1353h0M1198.7,1343.9h0M1203.1,1334.7h0M1207.3,1325.5h0M1211.2,1316.3h0M1214.8,1307.2h0M1218.2,1298h0M1221.4,1288.9h0M1224.3,1279.8h0M1226.9,1270.7h0M1229.4,1261.6h0M1231.5,1252.7h0M1233.5,1243.7h0M1235.2,1234.8h0M1236.7,1226h0M1238,1217.3h0M1239.1,1208.6h0M1239.9,1200h0M1240.6,1191.5h0M1241,1183h0M1241.3,1174.7h0M1241.4,1166.5h0M1241.2,1158.3h0M1241,1150.3h0M1240.5,1142.4h0M1239.9,1134.5h0M1239.1,1126.8h0M1238.2,1119.3h0M1237.1,1111.8h0M1235.9,1104.5h0M1234.5,1097.2h0M1233,1090.1h0M1161.5,1391h0M1167.4,1382.1h0M1173,1373.2h0M1178.4,1364.3h0M1183.5,1355.3h0M1188.3,1346.3h0M1192.9,1337.3h0M1197.2,1328.3h0M1201.3,1319.2h0M1205.1,1310.2h0M1208.7,1301.2h0M1212,1292.2h0M1215.1,1283.2h0M1218,1274.2h0M1220.6,1265.3h0M1223,1256.4h0M1225.1,1247.6h0M1227,1238.8h0M1228.7,1230h0M1230.2,1221.3h0M1231.5,1212.7h0M1232.5,1204.2h0M1233.4,1195.7h0M1234.1,1187.3h0M1234.5,1179.1h0M1234.8,1170.8h0M1234.9,1162.7h0M1234.8,1154.7h0M1234.5,1146.8h0M1234.1,1139h0M1233.5,1131.3h0M1232.8,1123.7h0M1231.9,1116.3h0M1230.9,1108.9h0M1229.7,1101.7h0M1228.4,1094.6h0M1150.7,1392.4h0M1156.7,1383.7h0M1162.5,1375h0M1168,1366.2h0M1173.2,1357.4h0M1178.2,1348.6h0M1182.9,1339.7h0M1187.4,1330.8h0M1191.6,1321.9h0M1195.6,1313h0M1199.4,1304.2h0M1202.9,1295.3h0M1206.1,1286.4h0M1209.2,1277.6h0M1212,1268.7h0M1214.5,1260h0M1216.9,1251.2h0M1219,1242.5h0M1220.9,1233.8h0M1222.5,1225.2h0M1224,1216.7h0M1225.2,1208.2h0M1226.3,1199.8h0M1227.2,1191.5h0M1227.8,1183.3h0M1228.3,1175.1h0M1228.6,1167h0M1228.7,1159h0M1228.6,1151.1h0M1228.4,1143.3h0M1228,1135.7h0M1227.4,1128.1h0M1226.7,1120.6h0M1225.8,1113.3h0M1224.9,1106h0M1223.7,1098.9h0M1140.2,1393.6h0M1146.3,1385.1h0M1152.2,1376.6h0M1157.8,1368h0M1163.2,1359.3h0M1168.3,1350.6h0M1173.2,1341.9h0M1177.8,1333.2h0M1182.2,1324.5h0M1186.3,1315.7h0M1190.2,1307h0M1193.9,1298.2h0M1197.3,1289.5h0M1200.5,1280.7h0M1203.5,1272h0M1206.2,1263.3h0M1208.7,1254.7h0M1211,1246.1h0M1213.1,1237.5h0M1214.9,1229h0M1216.6,1220.5h0M1218,1212.1h0M1219.3,1203.8h0M1220.3,1195.5h0M1221.2,1187.3h0M1221.8,1179.2h0M1222.3,1171.1h0M1222.6,1163.2h0M1222.7,1155.3h0M1222.6,1147.5h0M1222.4,1139.9h0M1222.1,1132.3h0M1221.5,1124.8h0M1220.8,1117.5h0M1220,1110.2h0M1219.1,1103.1h0M1130,1394.8h0M1136.2,1386.4h0M1142.1,1378h0M1147.9,1369.6h0M1153.3,1361.1h0M1158.6,1352.6h0M1163.6,1344h0M1168.3,1335.4h0M1172.9,1326.8h0M1177.2,1318.2h0M1181.2,1309.6h0M1185,1301h0M1188.6,1292.3h0M1192,1283.7h0M1195.1,1275.1h0M1198,1266.6h0M1200.7,1258h0M1203.2,1249.5h0M1205.4,1241h0M1207.4,1232.6h0M1209.3,1224.2h0M1210.9,1215.8h0M1212.3,1207.6h0M1213.5,1199.3h0M1214.6,1191.2h0M1215.4,1183.1h0M1216,1175.1h0M1216.5,1167.2h0M1216.8,1159.4h0M1216.9,1151.6h0M1216.9,1143.9h0M1216.7,1136.4h0M1216.4,1128.9h0M1215.9,1121.6h0M1215.2,1114.3h0M1214.4,1107.2h0M1119.9,1395.8h0M1126.2,1387.6h0M1132.3,1379.4h0M1138.1,1371.1h0M1143.7,1362.7h0M1149.1,1354.4h0M1154.2,1346h0M1159.1,1337.5h0M1163.8,1329.1h0M1168.2,1320.6h0M1172.4,1312.1h0M1176.3,1303.6h0M1180.1,1295.1h0M1183.6,1286.6h0M1186.9,1278.1h0M1189.9,1269.6h0M1192.8,1261.2h0M1195.4,1252.7h0M1197.8,1244.3h0M1200,1236h0M1202,1227.7h0M1203.8,1219.4h0M1205.4,1211.2h0M1206.8,1203h0M1208,1194.9h0M1209,1186.9h0M1209.9,1178.9h0M1210.5,1171.1h0M1211,1163.3h0M1211.3,1155.5h0M1211.4,1147.9h0M1211.4,1140.4h0M1211.2,1132.9h0M1210.9,1125.6h0M1210.4,1118.3h0M1209.8,1111.1h0M1110.1,1396.7h0M1116.5,1388.6h0M1122.7,1380.6h0M1128.6,1372.4h0M1134.3,1364.3h0M1139.8,1356h0M1145,1347.8h0M1150.1,1339.5h0M1154.8,1331.1h0M1159.4,1322.8h0M1163.7,1314.4h0M1167.8,1306h0M1171.7,1297.6h0M1175.3,1289.3h0M1178.8,1280.9h0M1182,1272.5h0M1185,1264.2h0M1187.8,1255.8h0M1190.4,1247.5h0M1192.7,1239.3h0M1194.9,1231h0M1196.8,1222.8h0M1198.6,1214.7h0M1200.2,1206.6h0M1201.5,1198.5h0M1202.7,1190.6h0M1203.7,1182.6h0M1204.5,1174.8h0M1205.2,1167h0M1205.7,1159.3h0M1206,1151.7h0M1206.1,1144.2h0M1206.1,1136.8h0M1205.9,1129.4h0M1205.6,1122.2h0M1205.1,1115h0M1100.6,1397.4h0M1107.1,1389.6h0M1113.3,1381.6h0M1119.3,1373.7h0M1125.1,1365.6h0M1130.7,1357.6h0M1136.1,1349.4h0M1141.2,1341.3h0M1146.1,1333.1h0M1150.8,1324.9h0M1155.2,1316.6h0M1159.4,1308.4h0M1163.4,1300.1h0M1167.2,1291.8h0M1170.8,1283.5h0M1174.2,1275.3h0M1177.3,1267h0M1180.3,1258.8h0M1183,1250.6h0M1185.5,1242.4h0M1187.8,1234.2h0M1189.9,1226.1h0M1191.9,1218h0M1193.6,1210h0M1195.1,1202h0M1196.5,1194.1h0M1197.6,1186.2h0M1198.6,1178.4h0M1199.4,1170.7h0M1200.1,1163h0M1200.5,1155.4h0M1200.8,1147.9h0M1201,1140.5h0M1201,1133.2h0M1200.8,1125.9h0M1200.5,1118.8h0M1091.3,1398.1h0M1097.8,1390.4h0M1104.1,1382.6h0M1110.3,1374.8h0M1116.1,1366.9h0M1121.8,1359h0M1127.3,1351h0M1132.5,1342.9h0M1137.5,1334.9h0M1142.3,1326.8h0M1146.9,1318.7h0M1151.2,1310.5h0M1155.3,1302.4h0M1159.3,1294.2h0M1163,1286.1h0M1166.5,1277.9h0M1169.8,1269.7h0M1172.8,1261.6h0M1175.7,1253.5h0M1178.4,1245.4h0M1180.9,1237.3h0M1183.1,1229.3h0M1185.2,1221.2h0M1187.1,1213.3h0M1188.8,1205.4h0M1190.3,1197.5h0M1191.6,1189.7h0M1192.7,1181.9h0M1193.7,1174.2h0M1194.5,1166.6h0M1195.1,1159h0M1195.6,1151.6h0M1195.9,1144.2h0M1196,1136.8h0M1196,1129.6h0M1195.9,1122.5h0M1082.1,1398.7h0M1088.8,1391.1h0M1095.2,1383.5h0M1101.4,1375.8h0M1107.3,1368h0M1113.1,1360.2h0M1118.6,1352.4h0M1124,1344.5h0M1129.1,1336.6h0M1134,1328.6h0M1138.7,1320.6h0M1143.1,1312.6h0M1147.4,1304.6h0M1151.4,1296.5h0M1155.3,1288.5h0M1158.9,1280.4h0M1162.3,1272.3h0M1165.5,1264.3h0M1168.5,1256.3h0M1171.4,1248.2h0M1174,1240.2h0M1176.4,1232.3h0M1178.6,1224.3h0M1180.6,1216.4h0M1182.5,1208.6h0M1184.1,1200.8h0M1185.6,1193h0M1186.9,1185.3h0M1188,1177.6h0M1189,1170h0M1189.8,1162.5h0M1190.4,1155.1h0M1190.8,1147.7h0M1191.1,1140.4h0M1191.3,1133.2h0M1191.3,1126h0M1073.2,1399.1h0M1079.9,1391.7h0M1086.4,1384.3h0M1092.7,1376.7h0M1098.7,1369.1h0M1104.6,1361.4h0M1110.2,1353.7h0M1115.6,1346h0M1120.8,1338.1h0M1125.8,1330.3h0M1130.6,1322.4h0M1135.2,1314.5h0M1139.6,1306.6h0M1143.7,1298.7h0M1147.7,1290.7h0M1151.4,1282.8h0M1155,1274.8h0M1158.3,1266.9h0M1161.5,1258.9h0M1164.4,1251h0M1167.2,1243.1h0M1169.7,1235.2h0M1172.1,1227.3h0M1174.3,1219.5h0M1176.3,1211.7h0M1178.1,1203.9h0M1179.7,1196.2h0M1181.1,1188.5h0M1182.4,1180.9h0M1183.5,1173.4h0M1184.4,1165.9h0M1185.2,1158.5h0M1185.8,1151.1h0M1186.2,1143.9h0M1186.5,1136.7h0M1186.7,1129.5h0M1064.5,1399.5h0M1071.3,1392.3h0M1077.8,1384.9h0M1084.1,1377.5h0M1090.3,1370h0M1096.2,1362.5h0M1101.9,1354.9h0M1107.4,1347.3h0M1112.7,1339.6h0M1117.8,1331.9h0M1122.7,1324.1h0M1127.4,1316.4h0M1131.9,1308.6h0M1136.1,1300.7h0M1140.2,1292.9h0M1144.1,1285h0M1147.8,1277.2h0M1151.2,1269.3h0M1154.5,1261.4h0M1157.6,1253.6h0M1160.5,1245.8h0M1163.2,1237.9h0M1165.7,1230.2h0M1168,1222.4h0M1170.1,1214.7h0M1172,1207h0M1173.8,1199.3h0M1175.4,1191.7h0M1176.8,1184.1h0M1178.1,1176.6h0M1179.1,1169.2h0M1180,1161.8h0M1180.8,1154.5h0M1181.4,1147.2h0M1181.8,1140h0M1182.1,1132.9h0M1056,1399.9h0M1062.8,1392.7h0M1069.4,1385.5h0M1075.8,1378.2h0M1082,1370.9h0M1088,1363.5h0M1093.8,1356h0M1099.4,1348.5h0M1104.8,1341h0M1110,1333.4h0M1114.9,1325.7h0M1119.7,1318.1h0M1124.3,1310.4h0M1128.7,1302.7h0M1132.9,1294.9h0M1136.9,1287.2h0M1140.7,1279.4h0M1144.2,1271.6h0M1147.6,1263.9h0M1150.8,1256.1h0M1153.9,1248.4h0M1156.7,1240.6h0M1159.3,1232.9h0M1161.7,1225.2h0M1164,1217.5h0M1166.1,1209.9h0M1168,1202.3h0M1169.7,1194.7h0M1171.3,1187.2h0M1172.7,1179.8h0M1173.9,1172.4h0M1174.9,1165h0M1175.8,1157.7h0M1176.5,1150.5h0M1177.1,1143.3h0M1177.6,1136.2h0M1047.6,1400.1h0M1054.5,1393.1h0M1061.2,1386h0M1067.6,1378.9h0M1073.9,1371.7h0M1080,1364.4h0M1085.8,1357.1h0M1091.5,1349.7h0M1097,1342.2h0M1102.2,1334.8h0M1107.3,1327.2h0M1112.2,1319.7h0M1116.9,1312.1h0M1121.4,1304.5h0M1125.7,1296.9h0M1129.7,1289.2h0M1133.6,1281.5h0M1137.3,1273.9h0M1140.9,1266.2h0M1144.2,1258.5h0M1147.3,1250.8h0M1150.3,1243.2h0M1153,1235.5h0M1155.6,1227.9h0M1158,1220.3h0M1160.2,1212.7h0M1162.2,1205.2h0M1164.1,1197.7h0M1165.8,1190.2h0M1167.3,1182.8h0M1168.7,1175.4h0M1169.8,1168.1h0M1170.9,1160.8h0M1171.7,1153.6h0M1172.5,1146.5h0M1173,1139.4h0M1039.5,1400.3h0M1046.4,1393.4h0M1053.1,1386.5h0M1059.6,1379.5h0M1066,1372.4h0M1072.1,1365.2h0M1078,1358h0M1083.8,1350.7h0M1089.3,1343.4h0M1094.7,1336.1h0M1099.8,1328.7h0M1104.8,1321.2h0M1109.6,1313.7h0M1114.2,1306.2h0M1118.5,1298.7h0M1122.7,1291.1h0M1126.7,1283.6h0M1130.6,1276h0M1134.2,1268.4h0M1137.6,1260.8h0M1140.9,1253.2h0M1143.9,1245.6h0M1146.8,1238.1h0M1149.5,1230.5h0M1152,1223h0M1154.4,1215.5h0M1156.5,1208h0M1158.5,1200.5h0M1160.3,1193.1h0M1162,1185.7h0M1163.5,1178.4h0M1164.8,1171.1h0M1165.9,1163.9h0M1167,1156.7h0M1167.8,1149.6h0M1168.5,1142.6h0M1031.5,1400.4h0M1038.4,1393.6h0M1045.2,1386.8h0M1051.8,1379.9h0M1058.2,1373h0M1064.4,1366h0M1070.4,1358.9h0M1076.2,1351.7h0M1081.8,1344.5h0M1087.2,1337.3h0M1092.5,1330h0M1097.5,1322.6h0M1102.4,1315.3h0M1107.1,1307.9h0M1111.5,1300.4h0M1115.8,1293h0M1119.9,1285.5h0M1123.9,1278h0M1127.6,1270.5h0M1131.1,1263h0M1134.5,1255.5h0M1137.7,1248h0M1140.7,1240.5h0M1143.5,1233h0M1146.1,1225.5h0M1148.6,1218.1h0M1150.9,1210.7h0M1153,1203.3h0M1154.9,1195.9h0M1156.7,1188.6h0M1158.3,1181.3h0M1159.8,1174.1h0M1161.1,1166.9h0M1162.2,1159.7h0M1163.2,1152.6h0M1164,1145.6h0M1023.7,1400.4h0M1030.7,1393.8h0M1037.5,1387.1h0M1044.1,1380.4h0M1050.5,1373.5h0M1056.8,1366.6h0M1062.9,1359.7h0M1068.7,1352.6h0M1074.4,1345.5h0M1079.9,1338.4h0M1085.3,1331.2h0M1090.4,1324h0M1095.3,1316.7h0M1100.1,1309.4h0M1104.7,1302.1h0M1109,1294.7h0M1113.2,1287.3h0M1117.3,1279.9h0M1121.1,1272.5h0M1124.7,1265.1h0M1128.2,1257.7h0M1131.5,1250.2h0M1134.6,1242.8h0M1137.5,1235.4h0M1140.3,1228h0M1142.9,1220.6h0M1145.3,1213.3h0M1147.5,1205.9h0M1149.6,1198.6h0M1151.5,1191.3h0M1153.2,1184.1h0M1154.8,1176.9h0M1156.2,1169.7h0M1157.5,1162.6h0M1158.6,1155.6h0M1159.5,1148.6h0M1016,1400.4h0M1023.1,1393.9h0M1029.9,1387.4h0M1036.6,1380.7h0M1043.1,1374h0M1049.4,1367.2h0M1055.5,1360.4h0M1061.4,1353.4h0M1067.2,1346.5h0M1072.8,1339.4h0M1078.2,1332.4h0M1083.4,1325.2h0M1088.4,1318.1h0M1093.2,1310.9h0M1097.9,1303.6h0M1102.4,1296.4h0M1106.7,1289.1h0M1110.8,1281.8h0M1114.7,1274.4h0M1118.4,1267.1h0M1122,1259.8h0M1125.4,1252.4h0M1128.6,1245.1h0M1131.7,1237.7h0M1134.5,1230.4h0M1137.2,1223.1h0M1139.7,1215.8h0M1142.1,1208.5h0M1144.3,1201.2h0M1146.3,1194h0M1148.2,1186.8h0M1149.9,1179.6h0M1151.4,1172.5h0M1152.8,1165.5h0M1154,1158.4h0M1155.1,1151.5h0M1008.5,1400.4h0M1015.6,1394h0M1022.5,1387.6h0M1029.2,1381h0M1035.7,1374.4h0M1042.1,1367.7h0M1048.3,1361h0M1054.3,1354.2h0M1060.1,1347.3h0M1065.7,1340.4h0M1071.2,1333.4h0M1076.5,1326.4h0M1081.6,1319.4h0M1086.5,1312.3h0M1091.2,1305.1h0M1095.8,1297.9h0M1100.2,1290.7h0M1104.4,1283.5h0M1108.4,1276.3h0M1112.2,1269h0M1115.9,1261.8h0M1119.4,1254.5h0M1122.7,1247.2h0M1125.9,1240h0M1128.8,1232.7h0M1131.6,1225.4h0M1134.3,1218.2h0M1136.7,1211h0M1139,1203.8h0M1141.2,1196.6h0M1143.1,1189.4h0M1145,1182.3h0M1146.6,1175.2h0M1148.1,1168.2h0M1149.5,1161.2h0M1150.7,1154.3h0M1001.2,1400.3h0M1008.3,1394h0M1015.2,1387.7h0M1022,1381.3h0M1028.5,1374.8h0M1034.9,1368.2h0M1041.2,1361.6h0M1047.2,1354.9h0M1053.1,1348.1h0M1058.8,1341.3h0M1064.3,1334.4h0M1069.7,1327.5h0M1074.8,1320.6h0M1079.8,1313.6h0M1084.6,1306.5h0M1089.3,1299.4h0M1093.8,1292.3h0M1098,1285.2h0M1102.2,1278h0M1106.1,1270.9h0M1109.9,1263.7h0M1113.5,1256.5h0M1116.9,1249.3h0M1120.1,1242.1h0M1123.2,1234.9h0M1126.1,1227.7h0M1128.8,1220.5h0M1131.4,1213.4h0M1133.8,1206.2h0M1136.1,1199.1h0M1138.2,1192h0M1140.1,1184.9h0M1141.9,1177.9h0M1143.5,1170.9h0M1144.9,1163.9h0M1146.3,1157h0M994,1400.1h0M1001.1,1394h0M1008.1,1387.8h0M1014.9,1381.4h0M1021.5,1375.1h0M1027.9,1368.6h0M1034.2,1362.1h0M1040.3,1355.5h0M1046.2,1348.8h0M1052,1342.1h0M1057.6,1335.4h0M1063,1328.6h0M1068.2,1321.7h0M1073.3,1314.8h0M1078.2,1307.8h0M1082.9,1300.9h0M1087.4,1293.8h0M1091.8,1286.8h0M1096,1279.7h0M1100,1272.6h0M1103.9,1265.5h0M1107.6,1258.4h0M1111.1,1251.3h0M1114.4,1244.2h0M1117.6,1237h0M1120.6,1229.9h0M1123.5,1222.8h0M1126.2,1215.7h0M1128.7,1208.6h0M1131,1201.5h0M1133.2,1194.5h0M1135.3,1187.4h0M1137.1,1180.4h0M1138.9,1173.5h0M1140.5,1166.5h0M1141.9,1159.7h0M986.9,1399.9h0M994.1,1393.9h0M1001.1,1387.8h0M1007.9,1381.6h0M1014.6,1375.3h0M1021,1369h0M1027.4,1362.5h0M1033.5,1356.1h0M1039.5,1349.5h0M1045.3,1342.9h0M1050.9,1336.2h0M1056.4,1329.5h0M1061.7,1322.8h0M1066.9,1315.9h0M1071.8,1309.1h0M1076.6,1302.2h0M1081.2,1295.3h0M1085.7,1288.3h0M1090,1281.3h0M1094.1,1274.3h0M1098,1267.3h0M1101.8,1260.3h0M1105.4,1253.2h0M1108.8,1246.1h0M1112.1,1239.1h0M1115.2,1232h0M1118.2,1225h0M1121,1217.9h0M1123.6,1210.9h0M1126,1203.8h0M1128.3,1196.8h0M1130.5,1189.9h0M1132.5,1182.9h0M1134.3,1176h0M1136,1169.1h0M1137.5,1162.3h0M980,1399.7h0M987.2,1393.8h0M994.2,1387.8h0M1001.1,1381.7h0M1007.8,1375.5h0M1014.3,1369.3h0M1020.6,1362.9h0M1026.8,1356.6h0M1032.9,1350.1h0M1038.7,1343.6h0M1044.4,1337h0M1050,1330.4h0M1055.3,1323.7h0M1060.5,1317h0M1065.6,1310.3h0M1070.4,1303.5h0M1075.1,1296.6h0M1079.6,1289.8h0M1084,1282.9h0M1088.2,1275.9h0M1092.2,1269h0M1096.1,1262h0M1099.8,1255h0M1103.3,1248h0M1106.7,1241.1h0M1109.9,1234.1h0M1112.9,1227.1h0M1115.8,1220.1h0M1118.5,1213.1h0M1121.1,1206.1h0M1123.5,1199.2h0M1125.7,1192.2h0M1127.8,1185.3h0M1129.8,1178.4h0M1131.6,1171.6h0M1133.2,1164.8h0M973.2,1399.4h0M980.4,1393.6h0M987.5,1387.7h0M994.4,1381.7h0M1001.1,1375.6h0M1007.6,1369.5h0M1014,1363.3h0M1020.3,1357h0M1026.4,1350.7h0M1032.3,1344.3h0M1038,1337.8h0M1043.6,1331.3h0M1049,1324.7h0M1054.3,1318.1h0M1059.4,1311.4h0M1064.3,1304.7h0M1069.1,1297.9h0M1073.7,1291.1h0M1078.1,1284.3h0M1082.4,1277.5h0M1086.5,1270.6h0M1090.4,1263.7h0M1094.2,1256.8h0M1097.8,1249.9h0M1101.3,1243h0M1104.6,1236h0M1107.7,1229.1h0M1110.7,1222.2h0M1113.5,1215.2h0M1116.2,1208.3h0M1118.7,1201.4h0M1121,1194.5h0M1123.2,1187.7h0M1125.3,1180.8h0M1127.2,1174h0M1128.9,1167.2h0M966.6,1399.1h0M973.8,1393.4h0M980.9,1387.6h0M987.8,1381.7h0M994.5,1375.7h0M1001.1,1369.7h0M1007.6,1363.6h0M1013.8,1357.4h0M1020,1351.2h0M1025.9,1344.8h0M1031.7,1338.5h0M1037.4,1332h0M1042.8,1325.6h0M1048.2,1319h0M1053.3,1312.4h0M1058.3,1305.8h0M1063.1,1299.1h0M1067.8,1292.4h0M1072.3,1285.7h0M1076.7,1278.9h0M1080.8,1272.1h0M1084.9,1265.3h0M1088.7,1258.5h0M1092.4,1251.6h0M1096,1244.8h0M1099.4,1237.9h0M1102.6,1231h0M1105.6,1224.2h0M1108.6,1217.3h0M1111.3,1210.4h0M1113.9,1203.6h0M1116.4,1196.8h0M1118.7,1189.9h0M1120.8,1183.1h0M1122.8,1176.4h0M1124.7,1169.6h0M960,1398.7h0M967.3,1393.1h0M974.4,1387.4h0M981.3,1381.7h0M988.1,1375.8h0M994.7,1369.9h0M1001.2,1363.8h0M1007.5,1357.8h0M1013.7,1351.6h0M1019.7,1345.4h0M1025.5,1339.1h0M1031.2,1332.8h0M1036.7,1326.4h0M1042.1,1319.9h0M1047.3,1313.4h0M1052.4,1306.9h0M1057.3,1300.3h0M1062,1293.7h0M1066.6,1287h0M1071,1280.3h0M1075.3,1273.6h0M1079.4,1266.9h0M1083.3,1260.1h0M1087.1,1253.3h0M1090.7,1246.6h0M1094.2,1239.8h0M1097.5,1232.9h0M1100.7,1226.1h0M1103.7,1219.3h0M1106.5,1212.5h0M1109.2,1205.7h0M1111.7,1198.9h0M1114.1,1192.1h0M1116.4,1185.4h0M1118.5,1178.7h0M1120.4,1171.9h0M953.6,1398.4h0M960.9,1392.9h0M968,1387.3h0M975,1381.6h0M981.8,1375.8h0M988.4,1370h0M994.9,1364.1h0M1001.3,1358.1h0M1007.5,1352h0M1013.5,1345.9h0M1019.4,1339.7h0M1025.2,1333.4h0M1030.7,1327.1h0M1036.2,1320.8h0M1041.4,1314.4h0M1046.5,1307.9h0M1051.5,1301.4h0M1056.3,1294.9h0M1060.9,1288.3h0M1065.4,1281.7h0M1069.8,1275h0M1073.9,1268.4h0M1077.9,1261.7h0M1081.8,1255h0M1085.5,1248.3h0M1089.1,1241.5h0M1092.5,1234.8h0M1095.7,1228h0M1098.8,1221.3h0M1101.7,1214.5h0M1104.5,1207.8h0M1107.1,1201h0M1109.6,1194.3h0M1112,1187.6h0M1114.2,1180.9h0M1116.2,1174.2h0M947.4,1398h0M954.6,1392.6h0M961.8,1387.1h0M968.7,1381.5h0M975.6,1375.8h0M982.3,1370h0M988.8,1364.2h0M995.2,1358.3h0M1001.4,1352.4h0M1007.5,1346.3h0M1013.4,1340.2h0M1019.2,1334.1h0M1024.8,1327.8h0M1030.3,1321.6h0M1035.6,1315.2h0M1040.8,1308.9h0M1045.8,1302.5h0M1050.7,1296h0M1055.4,1289.5h0M1059.9,1283h0M1064.3,1276.4h0M1068.6,1269.8h0M1072.7,1263.2h0M1076.6,1256.5h0M1080.4,1249.9h0M1084,1243.2h0M1087.5,1236.5h0M1090.8,1229.8h0M1094,1223.1h0M1097,1216.4h0M1099.9,1209.7h0M1102.6,1203.1h0M1105.2,1196.4h0M1107.6,1189.7h0M1109.9,1183.1h0M1112,1176.4h0M941.2,1397.5h0M948.5,1392.2h0M955.6,1386.8h0M962.6,1381.3h0M969.5,1375.7h0M976.2,1370.1h0M982.7,1364.4h0M989.2,1358.5h0M995.4,1352.7h0M1001.5,1346.7h0M1007.5,1340.7h0M1013.3,1334.6h0M1019,1328.5h0M1024.5,1322.3h0M1029.9,1316.1h0M1035.1,1309.8h0M1040.2,1303.5h0M1045.1,1297.1h0M1049.9,1290.7h0M1054.5,1284.2h0M1059,1277.7h0M1063.3,1271.2h0M1067.4,1264.6h0M1071.4,1258.1h0M1075.3,1251.5h0M1079,1244.9h0M1082.6,1238.2h0M1086,1231.6h0M1089.2,1225h0M1092.3,1218.3h0M1095.3,1211.7h0M1098.1,1205h0M1100.8,1198.4h0M1103.3,1191.8h0M1105.7,1185.2h0M1107.9,1178.6h0M935.1,1397.1h0M942.4,1391.8h0M949.6,1386.5h0M956.6,1381.1h0M963.5,1375.6h0M970.2,1370.1h0M976.8,1364.4h0M983.2,1358.7h0M989.5,1352.9h0M995.7,1347.1h0M1001.7,1341.2h0M1007.6,1335.2h0M1013.3,1329.1h0M1018.9,1323h0M1024.3,1316.9h0M1029.5,1310.6h0M1034.7,1304.4h0M1039.6,1298.1h0M1044.5,1291.7h0M1049.1,1285.4h0M1053.7,1278.9h0M1058,1272.5h0M1062.3,1266h0M1066.4,1259.5h0M1070.3,1253h0M1074.1,1246.4h0M1077.7,1239.9h0M1081.2,1233.3h0M1084.5,1226.7h0M1087.7,1220.1h0M1090.7,1213.5h0M1093.6,1206.9h0M1096.4,1200.4h0M1099,1193.8h0M1101.4,1187.2h0M1103.8,1180.7h0M929.2,1396.6h0M936.5,1391.5h0M943.7,1386.2h0M950.7,1380.9h0M957.6,1375.5h0M964.3,1370h0M971,1364.5h0M977.4,1358.9h0M983.8,1353.2h0M989.9,1347.4h0M996,1341.6h0M1001.9,1335.6h0M1007.6,1329.7h0M1013.3,1323.7h0M1018.7,1317.6h0M1024,1311.5h0M1029.2,1305.3h0M1034.2,1299.1h0M1039.1,1292.8h0M1043.9,1286.5h0M1048.4,1280.1h0M1052.9,1273.8h0M1057.2,1267.3h0M1061.3,1260.9h0M1065.3,1254.4h0M1069.2,1248h0M1072.9,1241.5h0M1076.4,1235h0M1079.8,1228.4h0M1083.1,1221.9h0M1086.2,1215.3h0M1089.2,1208.8h0M1092,1202.3h0M1094.7,1195.7h0M1097.3,1189.2h0M1099.7,1182.7h0M923.3,1396.1h0M930.7,1391h0M937.8,1385.9h0M944.9,1380.7h0M951.8,1375.4h0M958.6,1370h0M965.2,1364.5h0M971.7,1359h0M978.1,1353.4h0M984.3,1347.7h0M990.4,1341.9h0M996.3,1336.1h0M1002.1,1330.2h0M1007.7,1324.3h0M1013.2,1318.3h0M1018.6,1312.2h0M1023.8,1306.1h0M1028.9,1300h0M1033.8,1293.8h0M1038.6,1287.5h0M1043.3,1281.3h0M1047.8,1275h0M1052.1,1268.6h0M1056.3,1262.3h0M1060.4,1255.9h0M1064.3,1249.4h0M1068.1,1243h0M1071.7,1236.5h0M1075.2,1230.1h0M1078.6,1223.6h0M1081.8,1217.1h0M1084.8,1210.6h0M1087.7,1204.1h0M1090.5,1197.6h0M1093.1,1191.1h0M1095.6,1184.7h0M917.6,1395.6h0M924.9,1390.6h0M932.1,1385.5h0M939.2,1380.4h0M946.1,1375.2h0M952.9,1369.9h0M959.6,1364.5h0M966.1,1359h0M972.5,1353.5h0M978.7,1347.9h0M984.8,1342.2h0M990.8,1336.5h0M996.6,1330.7h0M1002.3,1324.8h0M1007.9,1318.9h0M1013.3,1312.9h0M1018.5,1306.9h0M1023.7,1300.8h0M1028.6,1294.7h0M1033.5,1288.6h0M1038.2,1282.4h0M1042.7,1276.1h0M1047.2,1269.8h0M1051.4,1263.5h0M1055.6,1257.2h0M1059.5,1250.9h0M1063.4,1244.5h0M1067.1,1238.1h0M1070.7,1231.7h0M1074.1,1225.2h0M1077.3,1218.8h0M1080.5,1212.4h0M1083.5,1205.9h0M1086.3,1199.5h0M1089,1193h0M1091.6,1186.6h0M912,1395h0M919.3,1390.1h0M926.5,1385.2h0M933.6,1380.1h0M940.5,1375h0M947.3,1369.8h0M954,1364.5h0M960.5,1359.1h0M967,1353.6h0M973.2,1348.1h0M979.4,1342.5h0M985.4,1336.9h0M991.2,1331.1h0M997,1325.4h0M1002.5,1319.5h0M1008,1313.6h0M1013.3,1307.7h0M1018.5,1301.7h0M1023.5,1295.6h0M1028.4,1289.5h0M1033.2,1283.4h0M1037.8,1277.2h0M1042.2,1271h0M1046.6,1264.8h0M1050.8,1258.5h0M1054.8,1252.2h0M1058.7,1245.9h0M1062.5,1239.6h0M1066.1,1233.2h0M1069.6,1226.8h0M1073,1220.5h0M1076.2,1214.1h0M1079.2,1207.7h0M1082.2,1201.3h0M1084.9,1194.9h0M1087.6,1188.5h0M906.4,1394.4h0M913.8,1389.6h0M921,1384.8h0M928.1,1379.8h0M935,1374.7h0M941.8,1369.6h0M948.5,1364.4h0M955.1,1359.1h0M961.5,1353.7h0M967.8,1348.3h0M974,1342.8h0M980,1337.2h0M985.9,1331.5h0M991.7,1325.8h0M997.3,1320.1h0M1002.8,1314.3h0M1008.1,1308.4h0M1013.4,1302.5h0M1018.4,1296.5h0M1023.4,1290.5h0M1028.2,1284.4h0M1032.9,1278.3h0M1037.4,1272.2h0M1041.8,1266h0M1046,1259.8h0M1050.1,1253.5h0M1054.1,1247.3h0M1058,1241h0M1061.6,1234.7h0M1065.2,1228.4h0M1068.6,1222.1h0M1071.9,1215.7h0M1075,1209.4h0M1078,1203h0M1080.9,1196.7h0M1083.6,1190.3h0M901,1393.9h0M908.3,1389.1h0M915.5,1384.3h0M922.6,1379.5h0M929.6,1374.5h0M936.4,1369.4h0M943.1,1364.3h0M949.7,1359.1h0M956.2,1353.8h0M962.5,1348.4h0M968.7,1343h0M974.8,1337.5h0M980.7,1331.9h0M986.5,1326.3h0M992.1,1320.6h0M997.7,1314.8h0M1003.1,1309h0M1008.3,1303.2h0M1013.5,1297.3h0M1018.4,1291.3h0M1023.3,1285.3h0M1028,1279.3h0M1032.6,1273.2h0M1037,1267.1h0M1041.3,1261h0M1045.5,1254.8h0M1049.6,1248.6h0M1053.5,1242.4h0M1057.2,1236.1h0M1060.8,1229.9h0M1064.3,1223.6h0M1067.7,1217.3h0M1070.9,1211h0M1074,1204.7h0M1076.9,1198.4h0M1079.7,1192.1h0M895.6,1393.3h0M903,1388.6h0M910.2,1383.9h0M917.3,1379.1h0M924.3,1374.2h0M931.1,1369.2h0M937.9,1364.2h0M944.4,1359h0M950.9,1353.8h0M957.3,1348.5h0M963.5,1343.2h0M969.6,1337.7h0M975.5,1332.2h0M981.4,1326.7h0M987,1321.1h0M992.6,1315.4h0M998,1309.7h0M1003.3,1303.9h0M1008.5,1298.1h0M1013.6,1292.2h0M1018.5,1286.3h0M1023.2,1280.3h0M1027.9,1274.3h0M1032.4,1268.2h0M1036.7,1262.1h0M1040.9,1256h0M1045,1249.9h0M1049,1243.7h0M1052.8,1237.5h0M1056.5,1231.3h0M1060.1,1225.1h0M1063.5,1218.9h0M1066.8,1212.6h0M1069.9,1206.4h0M1072.9,1200.1h0M1075.8,1193.8h0M890.3,1392.6h0M897.7,1388.1h0M904.9,1383.4h0M912,1378.7h0M919,1373.9h0M925.9,1369h0M932.6,1364h0M939.3,1358.9h0M945.7,1353.8h0M952.1,1348.6h0M958.3,1343.3h0M964.5,1338h0M970.4,1332.5h0M976.3,1327.1h0M982,1321.5h0M987.6,1315.9h0M993.1,1310.3h0M998.4,1304.6h0M1003.6,1298.8h0M1008.7,1293h0M1013.7,1287.1h0M1018.5,1281.2h0M1023.2,1275.3h0M1027.7,1269.3h0M1032.1,1263.3h0M1036.4,1257.2h0M1040.6,1251.1h0M1044.6,1245h0M1048.5,1238.9h0M1052.2,1232.7h0M1055.8,1226.6h0M1059.3,1220.4h0M1062.7,1214.2h0M1065.9,1208h0M1069,1201.7h0M1071.9,1195.5h0M885.2,1392h0M892.5,1387.5h0M899.8,1383h0M906.9,1378.3h0M913.9,1373.6h0M920.7,1368.7h0M927.5,1363.8h0M934.1,1358.8h0M940.6,1353.8h0M947,1348.6h0M953.3,1343.4h0M959.4,1338.2h0M965.4,1332.8h0M971.3,1327.4h0M977.1,1321.9h0M982.7,1316.4h0M988.2,1310.8h0M993.6,1305.2h0M998.8,1299.5h0M1004,1293.7h0M1009,1287.9h0M1013.8,1282.1h0M1018.5,1276.2h0M1023.1,1270.3h0M1027.6,1264.3h0M1032,1258.4h0M1036.2,1252.3h0M1040.2,1246.3h0M1044.2,1240.2h0M1048,1234.1h0M1051.7,1228h0M1055.2,1221.8h0M1058.6,1215.7h0M1061.9,1209.5h0M1065.1,1203.3h0M1068.1,1197.2h0M880.1,1391.4h0M887.4,1387h0M894.7,1382.5h0M901.8,1377.9h0M908.8,1373.2h0M915.7,1368.5h0M922.4,1363.6h0M929.1,1358.7h0M935.6,1353.7h0M942,1348.7h0M948.3,1343.5h0M954.5,1338.3h0M960.5,1333.1h0M966.4,1327.7h0M972.2,1322.3h0M977.9,1316.9h0M983.4,1311.3h0M988.8,1305.8h0M994.1,1300.1h0M999.3,1294.5h0M1004.3,1288.7h0M1009.2,1283h0M1014,1277.1h0M1018.6,1271.3h0M1023.1,1265.4h0M1027.5,1259.4h0M1031.8,1253.5h0M1035.9,1247.5h0M1039.9,1241.5h0M1043.8,1235.4h0M1047.5,1229.3h0M1051.1,1223.3h0M1054.6,1217.1h0M1058,1211h0M1061.2,1204.9h0M1064.3,1198.8h0M882.4,1386.4h0M889.7,1382h0M896.8,1377.4h0M903.8,1372.9h0M910.7,1368.2h0M917.5,1363.4h0M924.1,1358.6h0M930.7,1353.7h0M937.1,1348.7h0M943.4,1343.6h0M949.6,1338.5h0M955.6,1333.3h0M961.6,1328h0M967.4,1322.7h0M973.1,1317.3h0M978.6,1311.8h0M984.1,1306.3h0M989.4,1300.8h0M994.6,1295.1h0M999.7,1289.5h0M1004.6,1283.8h0M1009.5,1278h0M1014.2,1272.2h0M1018.7,1266.4h0M1023.2,1260.5h0M1027.5,1254.6h0M1031.7,1248.7h0M1035.7,1242.7h0M1039.6,1236.7h0M1043.4,1230.7h0M1047.1,1224.6h0M1050.6,1218.6h0M1054,1212.5h0M1057.3,1206.4h0M1060.5,1200.3h0M891.9,1377h0M898.9,1372.5h0M905.8,1367.9h0M912.6,1363.2h0M919.2,1358.4h0M925.8,1353.6h0M932.2,1348.6h0M938.5,1343.6h0M944.7,1338.6h0M950.8,1333.5h0M956.8,1328.3h0M962.6,1323h0M968.4,1317.7h0M974,1312.3h0M979.4,1306.8h0M984.8,1301.3h0M990,1295.8h0M995.1,1290.2h0M1000.1,1284.5h0M1005,1278.9h0M1009.7,1273.1h0M1014.3,1267.3h0M1018.8,1261.5h0M1023.2,1255.7h0M1027.4,1249.8h0M1031.5,1243.9h0M1035.5,1237.9h0M1039.4,1232h0M1043.1,1226h0M1046.7,1220h0M1050.2,1213.9h0M1053.5,1207.9h0M1056.7,1201.8h0M894,1372.1h0M900.9,1367.5h0M907.7,1362.9h0M914.4,1358.2h0M921,1353.4h0M927.4,1348.6h0M933.8,1343.7h0M940,1338.7h0M946.1,1333.6h0M952.1,1328.5h0M957.9,1323.3h0M963.7,1318h0M969.3,1312.7h0M974.8,1307.3h0M980.2,1301.9h0M985.5,1296.4h0M990.6,1290.9h0M995.7,1285.3h0M1000.6,1279.7h0M1005.4,1274h0M1010,1268.3h0M1014.6,1262.5h0M1019,1256.7h0M1023.2,1250.9h0M1027.4,1245h0M1031.4,1239.1h0M1035.3,1233.2h0M1039.1,1227.3h0M1042.8,1221.3h0M1046.3,1215.3h0M1049.7,1209.3h0M1053,1203.3h0M903,1362.6h0M909.7,1358h0M916.2,1353.3h0M922.7,1348.5h0M929.1,1343.7h0M935.3,1338.7h0M941.4,1333.7h0M947.4,1328.7h0M953.3,1323.5h0M959.1,1318.4h0M964.8,1313.1h0M970.3,1307.8h0M975.7,1302.4h0M981,1297h0M986.2,1291.5h0M991.3,1286h0M996.2,1280.4h0M1001,1274.8h0M1005.7,1269.1h0M1010.3,1263.4h0M1014.8,1257.7h0M1019.1,1251.9h0M1023.3,1246.1h0M1027.4,1240.3h0M1031.4,1234.4h0M1035.2,1228.5h0M1038.9,1222.6h0M1042.5,1216.7h0M1046,1210.7h0M1049.3,1204.8h0M905,1357.8h0M911.6,1353.1h0M918.1,1348.4h0M924.4,1343.6h0M930.7,1338.8h0M936.8,1333.8h0M942.8,1328.8h0M948.8,1323.8h0M954.6,1318.7h0M960.2,1313.5h0M965.8,1308.2h0M971.3,1302.9h0M976.6,1297.5h0M981.8,1292.1h0M986.9,1286.7h0M991.9,1281.2h0M996.8,1275.6h0M1001.5,1270h0M1006.1,1264.4h0M1010.6,1258.7h0M1015,1252.9h0M1019.3,1247.2h0M1023.4,1241.4h0M1027.4,1235.6h0M1031.3,1229.7h0M1035.1,1223.9h0M1038.7,1218h0M1042.3,1212.1h0M1045.7,1206.2h0M913.5,1348.3h0M919.8,1343.6h0M926.1,1338.8h0M932.3,1333.9h0M938.3,1329h0M944.3,1324h0M950.1,1318.9h0M955.8,1313.8h0M961.4,1308.6h0M966.9,1303.4h0M972.2,1298.1h0M977.5,1292.7h0M982.6,1287.3h0M987.6,1281.9h0M992.5,1276.4h0M997.3,1270.8h0M1002,1265.2h0M1006.5,1259.6h0M1011,1253.9h0M1015.3,1248.2h0M1019.5,1242.5h0M1023.5,1236.7h0M1027.5,1230.9h0M1031.3,1225.1h0M1035,1219.3h0M1038.6,1213.4h0M1042,1207.5h0M915.3,1343.5h0M921.6,1338.8h0M927.8,1334h0M933.9,1329.1h0M939.8,1324.2h0M945.7,1319.2h0M951.4,1314.1h0M957,1309h0M962.5,1303.8h0M967.9,1298.6h0M973.2,1293.3h0M978.4,1287.9h0M983.4,1282.5h0M988.4,1277.1h0M993.2,1271.6h0M997.9,1266.1h0M1002.5,1260.5h0M1007,1254.9h0M1011.3,1249.2h0M1015.5,1243.5h0M1019.6,1237.8h0M1023.6,1232.1h0M1027.5,1226.3h0M1031.3,1220.5h0M1034.9,1214.7h0M1038.4,1208.8h0M923.4,1334h0M929.5,1329.2h0M935.4,1324.3h0M941.3,1319.4h0M947.1,1314.4h0M952.7,1309.3h0M958.2,1304.2h0M963.7,1299h0M969,1293.8h0M974.2,1288.5h0M979.3,1283.2h0M984.2,1277.8h0M989.1,1272.4h0M993.8,1266.9h0M998.5,1261.4h0M1003,1255.8h0M1007.4,1250.2h0M1011.7,1244.6h0M1015.8,1238.9h0M1019.9,1233.2h0M1023.8,1227.5h0M1027.6,1221.7h0M1031.3,1215.9h0M1034.8,1210.1h0M931.1,1324.5h0M937,1319.6h0M942.8,1314.7h0M948.4,1309.7h0M954,1304.6h0M959.5,1299.5h0M964.8,1294.3h0M970,1289.1h0M975.2,1283.8h0M980.2,1278.5h0M985.1,1273.1h0M989.8,1267.7h0M994.5,1262.2h0M999.1,1256.7h0M1003.5,1251.1h0M1007.8,1245.5h0M1012,1239.9h0M1016.1,1234.3h0M1020.1,1228.6h0M1023.9,1222.9h0M1027.7,1217.2h0M1031.3,1211.4h0M932.7,1319.8h0M938.5,1314.9h0M944.2,1310h0M949.8,1305h0M955.3,1299.9h0M960.7,1294.8h0M965.9,1289.6h0M971.1,1284.4h0M976.1,1279.1h0M981.1,1273.8h0M985.9,1268.4h0M990.6,1263h0M995.2,1257.5h0M999.6,1252h0M1004,1246.5h0M1008.3,1240.9h0M1012.4,1235.3h0M1016.4,1229.7h0M1020.3,1224h0M1024.1,1218.3h0M1027.8,1212.6h0M940.1,1310.2h0M945.7,1305.3h0M951.2,1300.3h0M956.6,1295.2h0M961.9,1290.1h0M967.1,1284.9h0M972.1,1279.7h0M977.1,1274.4h0M981.9,1269.1h0M986.7,1263.8h0M991.3,1258.4h0M995.8,1252.9h0M1000.2,1247.4h0M1004.5,1241.9h0M1008.7,1236.3h0M1012.8,1230.8h0M1016.7,1225.1h0M1020.6,1219.5h0M1024.3,1213.8h0M947.1,1300.6h0M952.6,1295.6h0M957.9,1290.6h0M963.1,1285.5h0M968.2,1280.3h0M973.2,1275.1h0M978.1,1269.8h0M982.8,1264.5h0M987.5,1259.1h0M992.1,1253.8h0M996.5,1248.3h0M1000.8,1242.8h0M1005.1,1237.3h0M1009.2,1231.8h0M1013.2,1226.2h0M1017.1,1220.6h0M1020.8,1215h0M948.6,1296h0M953.9,1291h0M959.1,1286h0M964.3,1280.9h0M969.3,1275.7h0M974.2,1270.5h0M979,1265.2h0M983.7,1259.9h0M988.3,1254.6h0M992.8,1249.2h0M997.2,1243.8h0M1001.5,1238.3h0M1005.6,1232.8h0M1009.7,1227.3h0M1013.6,1221.7h0M1017.4,1216.1h0M955.3,1286.4h0M960.4,1281.4h0M965.5,1276.3h0M970.4,1271.1h0M975.3,1265.9h0M980,1260.7h0M984.6,1255.4h0M989.2,1250h0M993.6,1244.6h0M997.9,1239.2h0M1002.1,1233.8h0M1006.2,1228.3h0M1010.1,1222.8h0M1014,1217.2h0M961.7,1276.8h0M966.7,1271.7h0M971.5,1266.6h0M976.3,1261.4h0M981,1256.1h0M985.5,1250.8h0M990,1245.5h0M994.3,1240.1h0M998.6,1234.7h0M1002.7,1229.3h0M1006.7,1223.8h0M1010.6,1218.3h0M962.9,1272.3h0M967.8,1267.2h0M972.7,1262h0M977.4,1256.8h0M981.9,1251.6h0M986.4,1246.3h0M990.8,1241h0M995.1,1235.6h0M999.3,1230.2h0M1003.3,1224.8h0M1007.3,1219.3h0M969,1262.7h0M973.8,1257.6h0M978.4,1252.4h0M982.9,1247.1h0M987.3,1241.8h0M991.7,1236.5h0M995.9,1231.2h0M1000,1225.8h0M1004,1220.4h0M974.9,1253.1h0M979.4,1247.9h0M983.9,1242.7h0M988.2,1237.4h0M992.5,1232.1h0M996.6,1226.7h0M1000.7,1221.4h0M980.5,1243.5h0M984.9,1238.2h0M989.1,1233h0M993.3,1227.7h0M997.4,1222.3h0M985.8,1233.8h0M990.1,1228.6h0M994.2,1223.3h0M991,1224.2h0" stroke="#74146e" stroke-width="13.4" stroke-linecap="round" fill="none"/>
<g clip-path="url(#reg)">
<path d="M849.6,1591.9 863.7,1580.2 877.5,1568.4 891.2,1556.4 904.6,1544.1 917.7,1531.6 930.6,1518.9 943.3,1506.1 955.7,1493 967.8,1479.7 979.7,1466.3 991.3,1452.6 1002.7,1438.8 1013.7,1424.7 1024.4,1410.5 1034.8,1396.1 1044.9,1381.5 1054.7,1366.8 1064.3,1351.9 1073.5,1336.8 1082.4,1321.6 1091,1306.3 1099.4,1290.9 1107.4,1275.3 1115.1,1259.6 1122.5,1243.8 1129.6,1227.9 1136.3,1211.8 1142.7,1195.6 1148.7,1179.4 1154.3,1163 1159.5,1146.5 1164.2,1129.9 1168.6,1113.3 1172.4,1096.5 1175.9,1079.7 1178.8,1062.8 1181.1,1045.8 1182.4,1028.8 1183.1,1011.6 1183.2,994.5 1183.1,977.5 1182.9,960.5 1182.3,943.6 1181.2,926.7 1179.7,909.8 1178.3,893.1 1177.3,876.4 1176.8,859.7 1176.8,843.1 1176.7,826.4 1176.4,809.7 1175.9,793.1 1175,776.4 1173.8,759.7 1172.2,743.1 1170.3,726.5 1168.1,709.9 1165.6,693.3 1162.7,676.8 1159.5,660.3 1156,643.8 1152.1,627.4 1147.8,611.1 1143.3,594.9 1138.5,578.6 1133.6,562.4 1128.6,546.2 1123.4,530.1 1118.1,513.9 1112.4,497.8 1106.6,481.7 1100.4,465.7 1094.2,449.6 1088,433.5 1081.5,417.4 1074.6,401.5 1066.9,385.9 1058.3,370.6 1049.2,355.6 1039.7,340.8 1029.9,326.2 1019.7,311.8 1009.3,297.4 998.6,283.3 987.7,269.3 976.5,255.4 965,241.8 953.3,228.2 941.3,214.9 929.1,201.7 916.7,188.6 904,175.8 891.2,163 878.1,150.5 864.8,138.1 851.3,125.8 723.9,253.2 811.7,335.1 886.1,427.2 945.5,527.8 988.8,634.7 1015.1,746.1 1023.9,859.7 1015.1,973.3 988.8,1084.7 945.5,1191.6 886.1,1292.2 811.7,1384.3 723.9,1466.2Z" fill="#632687"/>
<path d="M847.5,1589.8 861.6,1578.2 875.4,1566.4 889,1554.4 902.3,1542.2 915.4,1529.7 928.3,1517.1 940.9,1504.2 953.3,1491.2 965.4,1478 977.3,1464.5 988.9,1450.9 1000.1,1437.1 1011.1,1423.1 1021.8,1408.9 1032.2,1394.6 1042.3,1380 1052.1,1365.3 1061.6,1350.5 1070.8,1335.5 1079.7,1320.3 1088.3,1305.1 1096.6,1289.7 1104.6,1274.1 1112.3,1258.5 1119.7,1242.7 1126.7,1226.8 1133.5,1210.8 1139.8,1194.7 1145.8,1178.5 1151.4,1162.2 1156.6,1145.7 1161.3,1129.2 1165.6,1112.5 1169.4,1095.8 1172.8,1079.1 1175.7,1062.2 1177.9,1045.3 1179.2,1028.3 1179.9,1011.2 1180,994.1 1179.9,977.1 1179.7,960.2 1179.1,943.3 1178.1,926.5 1176.7,909.7 1175.3,893 1174.3,876.3 1173.9,859.7 1173.8,843.1 1173.7,826.5 1173.4,809.9 1172.9,793.3 1172,776.6 1170.8,760 1169.2,743.4 1167.3,726.9 1165.2,710.3 1162.7,693.8 1159.9,677.3 1156.8,660.8 1153.3,644.4 1149.5,628 1145.3,611.8 1140.8,595.5 1136,579.3 1131.1,563.2 1126.1,547 1120.9,530.9 1115.5,514.8 1109.9,498.7 1104,482.7 1097.9,466.7 1091.6,450.7 1085.4,434.6 1079,418.6 1072,402.7 1064.3,387.2 1055.7,372 1046.7,357 1037.2,342.3 1027.4,327.7 1017.2,313.3 1006.9,299 996.2,284.9 985.3,270.9 974.1,257.1 962.6,243.5 950.9,230 939,216.7 926.9,203.5 914.4,190.5 901.8,177.7 889,165 875.9,152.5 862.7,140.1 849.2,127.9 723.9,253.2 811.7,335.1 886.1,427.2 945.5,527.8 988.8,634.7 1015.1,746.1 1023.9,859.7 1015.1,973.3 988.8,1084.7 945.5,1191.6 886.1,1292.2 811.7,1384.3 723.9,1466.2Z" fill="#592d91"/>
<path d="M845.4,1587.7 859.4,1576.2 873.2,1564.4 886.8,1552.4 900.1,1540.2 913.2,1527.8 926,1515.2 938.6,1502.4 950.9,1489.4 963,1476.2 974.8,1462.8 986.4,1449.3 997.6,1435.5 1008.6,1421.5 1019.3,1407.4 1029.6,1393 1039.7,1378.5 1049.4,1363.9 1058.9,1349.1 1068.1,1334.1 1077,1319 1085.5,1303.8 1093.8,1288.4 1101.8,1273 1109.5,1257.4 1116.9,1241.6 1123.9,1225.8 1130.6,1209.8 1137,1193.8 1142.9,1177.6 1148.5,1161.3 1153.7,1144.9 1158.4,1128.4 1162.6,1111.8 1166.4,1095.2 1169.8,1078.4 1172.6,1061.6 1174.8,1044.7 1176.1,1027.8 1176.7,1010.7 1176.8,993.7 1176.6,976.8 1176.5,959.9 1176,943.1 1174.9,926.3 1173.6,909.5 1172.3,892.9 1171.3,876.3 1170.9,859.7 1170.9,843.1 1170.7,826.6 1170.4,810 1169.9,793.4 1169,776.9 1167.8,760.3 1166.2,743.8 1164.4,727.2 1162.3,710.7 1159.9,694.2 1157.2,677.8 1154.1,661.3 1150.7,644.9 1146.9,628.6 1142.7,612.4 1138.2,596.2 1133.5,580 1128.6,563.9 1123.6,547.8 1118.4,531.7 1113,515.6 1107.4,499.6 1101.5,483.6 1095.3,467.7 1089.1,451.8 1082.9,435.8 1076.4,419.8 1069.4,404 1061.7,388.4 1053.2,373.3 1044.1,358.4 1034.7,343.7 1024.9,329.1 1014.7,314.8 1004.4,300.5 993.8,286.5 982.9,272.5 971.7,258.8 960.3,245.2 948.6,231.7 936.7,218.5 924.6,205.4 912.2,192.4 899.6,179.6 886.8,167 873.7,154.5 860.5,142.2 847.1,130 723.9,253.2 811.7,335.1 886.1,427.2 945.5,527.8 988.8,634.7 1015.1,746.1 1023.9,859.7 1015.1,973.3 988.8,1084.7 945.5,1191.6 886.1,1292.2 811.7,1384.3 723.9,1466.2Z" fill="#4e2e91"/>
<path d="M843.4,1585.6 857.3,1574.1 871.1,1562.4 884.6,1550.4 897.9,1538.3 910.9,1525.9 923.7,1513.3 936.3,1500.6 948.6,1487.6 960.6,1474.5 972.4,1461.1 983.9,1447.6 995.1,1433.8 1006.1,1419.9 1016.7,1405.8 1027,1391.5 1037.1,1377.1 1046.8,1362.5 1056.2,1347.7 1065.4,1332.8 1074.3,1317.7 1082.8,1302.5 1091.1,1287.2 1099.1,1271.8 1106.7,1256.2 1114.1,1240.6 1121.1,1224.8 1127.8,1208.9 1134.1,1192.8 1140.1,1176.7 1145.7,1160.5 1150.8,1144.1 1155.5,1127.7 1159.7,1111.1 1163.4,1094.5 1166.7,1077.8 1169.5,1061 1171.6,1044.2 1172.9,1027.2 1173.5,1010.3 1173.6,993.3 1173.4,976.4 1173.3,959.6 1172.8,942.8 1171.8,926.1 1170.6,909.4 1169.3,892.8 1168.3,876.2 1167.9,859.7 1167.9,843.2 1167.8,826.7 1167.4,810.2 1166.9,793.6 1166,777.1 1164.8,760.6 1163.2,744.1 1161.5,727.6 1159.4,711.1 1157,694.7 1154.4,678.2 1151.4,661.8 1148,645.5 1144.3,629.2 1140.1,613 1135.7,596.8 1131,580.7 1126.1,564.6 1121.1,548.6 1115.9,532.5 1110.5,516.5 1104.9,500.5 1099,484.6 1092.8,468.7 1086.6,452.8 1080.3,436.9 1073.8,421 1066.9,405.2 1059.2,389.7 1050.6,374.6 1041.6,359.8 1032.1,345.1 1022.3,330.6 1012.3,316.3 1001.9,302.1 991.3,288 980.5,274.2 969.3,260.5 957.9,246.9 946.3,233.5 934.4,220.3 922.3,207.2 910,194.3 897.4,181.5 884.6,169 871.6,156.5 858.4,144.3 845,132.1 723.9,253.2 811.7,335.1 886.1,427.2 945.5,527.8 988.8,634.7 1015.1,746.1 1023.9,859.7 1015.1,973.3 988.8,1084.7 945.5,1191.6 886.1,1292.2 811.7,1384.3 723.9,1466.2Z" fill="#422f92"/>
<path d="M841.3,1583.6 855.2,1572.1 868.9,1560.4 882.4,1548.5 895.6,1536.3 908.6,1524 921.4,1511.5 933.9,1498.7 946.2,1485.8 958.2,1472.7 970,1459.4 981.4,1445.9 992.6,1432.2 1003.5,1418.3 1014.1,1404.2 1024.4,1390 1034.4,1375.6 1044.2,1361 1053.6,1346.3 1062.7,1331.4 1071.5,1316.4 1080.1,1301.3 1088.3,1286 1096.3,1270.6 1103.9,1255.1 1111.2,1239.5 1118.3,1223.7 1124.9,1207.9 1131.2,1191.9 1137.2,1175.8 1142.8,1159.6 1147.9,1143.3 1152.6,1126.9 1156.7,1110.4 1160.4,1093.8 1163.7,1077.2 1166.4,1060.4 1168.5,1043.6 1169.7,1026.7 1170.2,1009.8 1170.4,992.9 1170.2,976.1 1170.1,959.3 1169.7,942.6 1168.7,925.9 1167.5,909.2 1166.3,892.7 1165.3,876.2 1165,859.7 1164.9,843.2 1164.8,826.8 1164.4,810.3 1163.9,793.8 1163,777.3 1161.8,760.9 1160.3,744.4 1158.5,728 1156.5,711.5 1154.2,695.1 1151.6,678.7 1148.6,662.4 1145.3,646.1 1141.6,629.8 1137.6,613.6 1133.1,597.5 1128.5,581.4 1123.6,565.4 1118.6,549.3 1113.4,533.3 1108,517.4 1102.4,501.4 1096.5,485.6 1090.3,469.7 1084,453.9 1077.8,438 1071.3,422.1 1064.3,406.4 1056.6,391 1048.1,376 1039,361.1 1029.6,346.5 1019.8,332.1 1009.8,317.8 999.5,303.6 988.9,289.6 978,275.8 966.9,262.1 955.6,248.6 944,235.3 932.1,222.1 920,209 907.7,196.2 895.2,183.5 882.4,170.9 869.4,158.6 856.3,146.3 842.9,134.2 723.9,253.2 811.7,335.1 886.1,427.2 945.5,527.8 988.8,634.7 1015.1,746.1 1023.9,859.7 1015.1,973.3 988.8,1084.7 945.5,1191.6 886.1,1292.2 811.7,1384.3 723.9,1466.2Z" fill="#373092"/>
<path d="M839.2,1581.5 853.1,1570 866.8,1558.4 880.2,1546.5 893.4,1534.4 906.4,1522.1 919.1,1509.6 931.6,1496.9 943.8,1484 955.8,1470.9 967.5,1457.7 979,1444.2 990.1,1430.6 1001,1416.7 1011.6,1402.7 1021.8,1388.5 1031.8,1374.1 1041.5,1359.6 1050.9,1344.9 1060,1330.1 1068.8,1315.1 1077.3,1300 1085.6,1284.8 1093.5,1269.5 1101.1,1254 1108.4,1238.4 1115.4,1222.7 1122.1,1206.9 1128.4,1191 1134.3,1174.9 1139.9,1158.8 1145,1142.5 1149.6,1126.2 1153.8,1109.7 1157.4,1093.1 1160.6,1076.5 1163.4,1059.9 1165.5,1043.1 1166.7,1026.3 1167.2,1009.4 1167.3,992.5 1167.1,975.7 1166.9,959 1166.5,942.3 1165.6,925.7 1164.4,909.1 1163.3,892.6 1162.4,876.1 1162,859.7 1161.9,843.3 1161.8,826.9 1161.5,810.4 1160.9,794 1160,777.6 1158.8,761.2 1157.4,744.7 1155.7,728.3 1153.8,711.9 1151.5,695.5 1148.9,679.2 1146,662.9 1142.7,646.6 1139,630.4 1135,614.2 1130.6,598.1 1126,582.1 1121.1,566.1 1116.1,550.1 1110.9,534.2 1105.5,518.2 1099.8,502.4 1093.9,486.5 1087.7,470.8 1081.5,455 1075.2,439.1 1068.7,423.3 1061.7,407.7 1054,392.3 1045.5,377.3 1036.5,362.5 1027.1,347.9 1017.3,333.5 1007.3,319.3 997,305.2 986.5,291.2 975.6,277.4 964.5,263.8 953.2,250.4 941.6,237 929.8,223.9 917.7,210.9 905.5,198.1 892.9,185.4 880.2,172.9 867.3,160.6 854.1,148.4 840.8,136.3 723.9,253.2 811.7,335.1 886.1,427.2 945.5,527.8 988.8,634.7 1015.1,746.1 1023.9,859.7 1015.1,973.3 988.8,1084.7 945.5,1191.6 886.1,1292.2 811.7,1384.3 723.9,1466.2Z" fill="#2e3192"/>
<path d="M837.7,1580 851.6,1568.6 865.2,1556.9 878.6,1545.1 891.8,1533 904.7,1520.7 917.4,1508.3 929.9,1495.6 942.1,1482.7 954,1469.7 965.7,1456.4 977.2,1443 988.3,1429.4 999.2,1415.6 1009.7,1401.6 1020,1387.4 1029.9,1373.1 1039.6,1358.6 1049,1343.9 1058.1,1329.1 1066.9,1314.2 1075.4,1299.1 1083.6,1283.9 1091.5,1268.6 1099.1,1253.2 1106.4,1237.6 1113.4,1222 1120,1206.2 1126.3,1190.3 1132.3,1174.3 1137.8,1158.2 1142.9,1142 1147.6,1125.6 1151.7,1109.2 1155.4,1092.7 1158.6,1076.1 1161.2,1059.4 1163.2,1042.7 1164.2,1025.9 1164.7,1009 1164.8,992.2 1164.7,975.5 1164.6,958.8 1164.2,942.1 1163.4,925.5 1162.2,909 1161.1,892.5 1160.2,876.1 1159.8,859.7 1159.8,843.3 1159.6,826.9 1159.3,810.5 1158.7,794.1 1157.8,777.8 1156.6,761.4 1155.1,745 1153.4,728.6 1151.5,712.2 1149.3,695.9 1146.9,679.5 1144.1,663.2 1140.9,647 1137.2,630.8 1133.2,614.7 1128.8,598.6 1124.2,582.6 1119.3,566.6 1114.3,550.7 1109.1,534.8 1103.7,518.9 1098,503 1092.1,487.2 1085.9,471.5 1079.7,455.7 1073.4,439.9 1066.8,424.2 1059.8,408.6 1052.2,393.2 1043.6,378.3 1034.6,363.5 1025.3,349 1015.5,334.6 1005.5,320.4 995.2,306.3 984.7,292.4 973.9,278.6 962.8,265 951.5,251.6 939.9,238.3 928.1,225.2 916.1,212.2 903.8,199.4 891.3,186.8 878.6,174.3 865.7,162 852.6,149.9 839.3,137.9 723.9,253.2 811.7,335.1 886.1,427.2 945.5,527.8 988.8,634.7 1015.1,746.1 1023.9,859.7 1015.1,973.3 988.8,1084.7 945.5,1191.6 886.1,1292.2 811.7,1384.3 723.9,1466.2Z" fill="#2e3192"/>
<path d="M836.5,1578.8 850.3,1567.4 864,1555.8 877.3,1543.9 890.5,1531.9 903.4,1519.6 916.1,1507.2 928.5,1494.5 940.7,1481.7 952.6,1468.6 964.3,1455.4 975.7,1442 986.8,1428.4 997.7,1414.6 1008.2,1400.7 1018.5,1386.5 1028.4,1372.2 1038.1,1357.7 1047.4,1343.1 1056.5,1328.3 1065.3,1313.4 1073.8,1298.4 1082,1283.2 1089.9,1268 1097.5,1252.5 1104.8,1237 1111.7,1221.4 1118.4,1205.6 1124.7,1189.7 1130.6,1173.8 1136.1,1157.7 1141.2,1141.5 1145.8,1125.2 1149.9,1108.8 1153.5,1092.3 1156.6,1075.7 1159.3,1059.1 1161.2,1042.4 1162.4,1025.6 1162.9,1008.8 1162.9,992 1162.8,975.3 1162.7,958.6 1162.4,942 1161.5,925.4 1160.4,908.9 1159.3,892.5 1158.5,876.1 1158.1,859.7 1158.1,843.3 1157.9,827 1157.6,810.6 1157,794.3 1156,777.9 1154.8,761.5 1153.4,745.2 1151.7,728.8 1149.8,712.5 1147.7,696.2 1145.2,679.8 1142.4,663.6 1139.2,647.3 1135.6,631.2 1131.6,615 1127.3,599 1122.7,583 1117.8,567.1 1112.8,551.1 1107.6,535.2 1102.2,519.4 1096.5,503.6 1090.6,487.8 1084.4,472.1 1078.2,456.4 1071.9,440.6 1065.3,424.9 1058.3,409.3 1050.7,394 1042.1,379 1033.2,364.3 1023.8,349.8 1014.1,335.5 1004.1,321.3 993.8,307.2 983.3,293.3 972.5,279.6 961.4,266 950.1,252.6 938.6,239.3 926.8,226.2 914.8,213.3 902.5,200.5 890,187.9 877.3,175.5 864.4,163.2 851.3,151.1 838,139.1 723.9,253.2 811.7,335.1 886.1,427.2 945.5,527.8 988.8,634.7 1015.1,746.1 1023.9,859.7 1015.1,973.3 988.8,1084.7 945.5,1191.6 886.1,1292.2 811.7,1384.3 723.9,1466.2Z" fill="#2e3192"/>
<path d="M835.3,1577.6 849.1,1566.2 862.7,1554.6 876.1,1542.8 889.2,1530.7 902.1,1518.5 914.7,1506.1 927.2,1493.5 939.3,1480.6 951.2,1467.6 962.9,1454.4 974.3,1441 985.4,1427.5 996.2,1413.7 1006.7,1399.7 1016.9,1385.6 1026.9,1371.3 1036.5,1356.9 1045.9,1342.3 1054.9,1327.6 1063.7,1312.7 1072.2,1297.7 1080.4,1282.5 1088.3,1267.3 1095.8,1251.9 1103.1,1236.4 1110.1,1220.8 1116.7,1205 1123,1189.2 1128.9,1173.3 1134.5,1157.2 1139.6,1141 1144.1,1124.7 1148.2,1108.4 1151.8,1091.9 1154.9,1075.3 1157.5,1058.7 1159.4,1042 1160.5,1025.3 1161,1008.5 1161.1,991.7 1160.9,975.1 1160.8,958.4 1160.5,941.9 1159.7,925.3 1158.7,908.8 1157.6,892.4 1156.7,876 1156.4,859.7 1156.3,843.4 1156.2,827 1155.8,810.7 1155.2,794.4 1154.3,778 1153.1,761.7 1151.6,745.4 1150,729.1 1148.1,712.7 1146,696.4 1143.5,680.1 1140.8,663.9 1137.6,647.7 1134.1,631.5 1130.1,615.4 1125.8,599.4 1121.2,583.4 1116.4,567.5 1111.3,551.6 1106.1,535.7 1100.7,519.9 1095.1,504.1 1089.2,488.3 1083,472.7 1076.7,457 1070.4,441.2 1063.9,425.5 1056.8,410 1049.2,394.7 1040.7,379.8 1031.7,365.1 1022.3,350.6 1012.6,336.3 1002.6,322.1 992.4,308.1 981.9,294.2 971.1,280.5 960,267 948.7,253.6 937.2,240.4 925.4,227.3 913.4,214.4 901.2,201.6 888.7,189.1 876.1,176.6 863.2,164.4 850.1,152.3 836.8,140.3 723.9,253.2 811.7,335.1 886.1,427.2 945.5,527.8 988.8,634.7 1015.1,746.1 1023.9,859.7 1015.1,973.3 988.8,1084.7 945.5,1191.6 886.1,1292.2 811.7,1384.3 723.9,1466.2Z" fill="#2e3192"/>
<path d="M834.1,1576.4 847.9,1565 861.4,1553.4 874.8,1541.6 887.9,1529.6 900.8,1517.4 913.4,1505 925.8,1492.4 937.9,1479.6 949.8,1466.6 961.5,1453.4 972.8,1440.1 983.9,1426.5 994.7,1412.8 1005.2,1398.8 1015.4,1384.7 1025.3,1370.5 1035,1356.1 1044.3,1341.5 1053.4,1326.8 1062.1,1311.9 1070.6,1296.9 1078.8,1281.8 1086.6,1266.6 1094.2,1251.2 1101.5,1235.8 1108.4,1220.2 1115,1204.5 1121.3,1188.7 1127.2,1172.7 1132.8,1156.7 1137.9,1140.6 1142.4,1124.3 1146.5,1107.9 1150,1091.5 1153.1,1075 1155.7,1058.4 1157.6,1041.7 1158.7,1025 1159.1,1008.2 1159.2,991.5 1159.1,974.8 1159,958.3 1158.7,941.7 1157.9,925.2 1156.9,908.7 1155.8,892.3 1155,876 1154.6,859.7 1154.6,843.4 1154.4,827.1 1154.1,810.8 1153.5,794.5 1152.5,778.2 1151.3,761.9 1149.9,745.6 1148.3,729.3 1146.5,713 1144.3,696.7 1141.9,680.4 1139.2,664.2 1136.1,648 1132.5,631.8 1128.6,615.8 1124.3,599.8 1119.7,583.8 1114.9,567.9 1109.9,552 1104.7,536.2 1099.2,520.4 1093.6,504.6 1087.7,488.9 1081.5,473.3 1075.2,457.6 1068.9,441.9 1062.4,426.2 1055.3,410.7 1047.7,395.5 1039.2,380.6 1030.2,365.9 1020.8,351.5 1011.1,337.2 1001.2,323 990.9,309 980.4,295.2 969.7,281.5 958.6,268 947.4,254.6 935.9,241.4 924.1,228.3 912.1,215.5 899.9,202.7 887.4,190.2 874.8,177.8 861.9,165.6 848.8,153.5 835.6,141.5 723.9,253.2 811.7,335.1 886.1,427.2 945.5,527.8 988.8,634.7 1015.1,746.1 1023.9,859.7 1015.1,973.3 988.8,1084.7 945.5,1191.6 886.1,1292.2 811.7,1384.3 723.9,1466.2Z" fill="#2e3192"/>
<path d="M832.9,1575.2 846.6,1563.8 860.2,1552.2 873.5,1540.5 886.6,1528.5 899.4,1516.3 912.1,1503.9 924.4,1491.3 936.5,1478.5 948.4,1465.6 960,1452.4 971.4,1439.1 982.5,1425.5 993.2,1411.8 1003.7,1397.9 1013.9,1383.9 1023.8,1369.6 1033.4,1355.2 1042.8,1340.7 1051.8,1326 1060.5,1311.2 1069,1296.2 1077.1,1281.1 1085,1265.9 1092.6,1250.6 1099.8,1235.1 1106.8,1219.6 1113.4,1203.9 1119.7,1188.1 1125.6,1172.2 1131.1,1156.2 1136.2,1140.1 1140.7,1123.9 1144.7,1107.5 1148.3,1091.1 1151.3,1074.6 1153.9,1058 1155.7,1041.4 1156.8,1024.7 1157.3,1008 1157.3,991.3 1157.2,974.6 1157.1,958.1 1156.8,941.6 1156.1,925.1 1155.1,908.7 1154,892.3 1153.2,876 1152.9,859.7 1152.9,843.4 1152.7,827.2 1152.3,810.9 1151.7,794.6 1150.8,778.3 1149.6,762 1148.2,745.8 1146.6,729.5 1144.8,713.2 1142.7,696.9 1140.3,680.7 1137.6,664.5 1134.5,648.3 1131,632.2 1127.1,616.1 1122.8,600.1 1118.3,584.2 1113.4,568.3 1108.4,552.5 1103.2,536.7 1097.8,520.9 1092.1,505.2 1086.2,489.5 1080,473.9 1073.7,458.2 1067.4,442.6 1060.9,426.9 1053.8,411.4 1046.1,396.2 1037.7,381.4 1028.7,366.7 1019.4,352.3 1009.7,338 999.7,323.9 989.5,309.9 979,296.1 968.3,282.4 957.2,268.9 946,255.6 934.5,242.4 922.8,229.4 910.8,216.5 898.6,203.8 886.2,191.3 873.5,178.9 860.6,166.7 847.6,154.7 834.3,142.8 723.9,253.2 811.7,335.1 886.1,427.2 945.5,527.8 988.8,634.7 1015.1,746.1 1023.9,859.7 1015.1,973.3 988.8,1084.7 945.5,1191.6 886.1,1292.2 811.7,1384.3 723.9,1466.2Z" fill="#2e3192"/>
<path d="M831.7,1573.9 845.4,1562.6 858.9,1551.1 872.2,1539.3 885.3,1527.3 898.1,1515.2 910.7,1502.8 923.1,1490.2 935.2,1477.5 947,1464.5 958.6,1451.4 970,1438.1 981,1424.6 991.8,1410.9 1002.2,1397 1012.4,1383 1022.3,1368.8 1031.9,1354.4 1041.2,1339.9 1050.2,1325.2 1058.9,1310.4 1067.4,1295.5 1075.5,1280.4 1083.4,1265.2 1091,1249.9 1098.2,1234.5 1105.1,1219 1111.7,1203.3 1118,1187.6 1123.9,1171.7 1129.4,1155.7 1134.5,1139.6 1139,1123.4 1143,1107.1 1146.5,1090.7 1149.5,1074.2 1152.1,1057.7 1153.9,1041.1 1154.9,1024.4 1155.4,1007.7 1155.4,991 1155.3,974.4 1155.2,957.9 1155,941.4 1154.3,925 1153.3,908.6 1152.3,892.2 1151.5,875.9 1151.2,859.7 1151.1,843.5 1151,827.2 1150.6,811 1150,794.7 1149,778.4 1147.8,762.2 1146.4,746 1144.9,729.7 1143.1,713.5 1141,697.2 1138.7,681 1136,664.8 1132.9,648.6 1129.5,632.5 1125.6,616.5 1121.4,600.5 1116.8,584.6 1112,568.8 1106.9,553 1101.7,537.2 1096.3,521.4 1090.7,505.7 1084.7,490 1078.5,474.4 1072.2,458.8 1065.9,443.2 1059.4,427.6 1052.3,412.2 1044.6,397 1036.2,382.1 1027.2,367.5 1017.9,353.1 1008.2,338.9 998.3,324.8 988.1,310.8 977.6,297 966.9,283.4 955.9,269.9 944.6,256.6 933.1,243.4 921.4,230.4 909.5,217.6 897.3,204.9 884.9,192.4 872.2,180.1 859.4,167.9 846.4,155.9 833.1,144 723.9,253.2 811.7,335.1 886.1,427.2 945.5,527.8 988.8,634.7 1015.1,746.1 1023.9,859.7 1015.1,973.3 988.8,1084.7 945.5,1191.6 886.1,1292.2 811.7,1384.3 723.9,1466.2Z" fill="#293695"/>
<path d="M830.5,1572.7 844.2,1561.4 857.7,1549.9 870.9,1538.2 884,1526.2 896.8,1514.1 909.4,1501.7 921.7,1489.2 933.8,1476.4 945.6,1463.5 957.2,1450.4 968.5,1437.1 979.5,1423.6 990.3,1410 1000.7,1396.1 1010.9,1382.1 1020.8,1367.9 1030.3,1353.6 1039.6,1339.1 1048.6,1324.4 1057.4,1309.7 1065.8,1294.7 1073.9,1279.7 1081.8,1264.6 1089.3,1249.3 1096.6,1233.9 1103.5,1218.4 1110.1,1202.7 1116.3,1187 1122.2,1171.2 1127.8,1155.2 1132.8,1139.2 1137.3,1123 1141.3,1106.7 1144.8,1090.3 1147.7,1073.8 1150.3,1057.3 1152.1,1040.8 1153.1,1024.1 1153.5,1007.4 1153.6,990.8 1153.4,974.2 1153.4,957.7 1153.1,941.3 1152.5,924.9 1151.5,908.5 1150.5,892.2 1149.8,875.9 1149.4,859.7 1149.4,843.5 1149.2,827.3 1148.8,811 1148.2,794.8 1147.3,778.6 1146.1,762.4 1144.7,746.1 1143.1,729.9 1141.4,713.7 1139.4,697.5 1137.1,681.3 1134.4,665.1 1131.4,649 1128,632.9 1124.1,616.9 1119.9,600.9 1115.3,585 1110.5,569.2 1105.5,553.4 1100.3,537.6 1094.8,521.9 1089.2,506.2 1083.3,490.6 1077.1,475 1070.8,459.5 1064.4,443.9 1057.9,428.3 1050.8,412.9 1043.1,397.7 1034.7,382.9 1025.7,368.3 1016.4,353.9 1006.8,339.7 996.8,325.7 986.6,311.7 976.2,298 965.5,284.3 954.5,270.9 943.2,257.6 931.8,244.5 920.1,231.5 908.1,218.7 896,206 883.6,193.6 870.9,181.2 858.1,169.1 845.1,157.1 831.9,145.2 723.9,253.2 811.7,335.1 886.1,427.2 945.5,527.8 988.8,634.7 1015.1,746.1 1023.9,859.7 1015.1,973.3 988.8,1084.7 945.5,1191.6 886.1,1292.2 811.7,1384.3 723.9,1466.2Z" fill="#1d409b"/>
<path d="M829.2,1571.5 842.9,1560.2 856.4,1548.7 869.7,1537 882.7,1525.1 895.5,1513 908,1500.6 920.3,1488.1 932.4,1475.4 944.2,1462.5 955.8,1449.4 967.1,1436.1 978.1,1422.7 988.8,1409 999.2,1395.2 1009.4,1381.2 1019.2,1367 1028.8,1352.7 1038.1,1338.3 1047.1,1323.6 1055.8,1308.9 1064.2,1294 1072.3,1279 1080.2,1263.9 1087.7,1248.6 1094.9,1233.3 1101.8,1217.8 1108.4,1202.2 1114.7,1186.5 1120.5,1170.7 1126.1,1154.8 1131.1,1138.7 1135.6,1122.5 1139.6,1106.3 1143,1089.9 1146,1073.5 1148.4,1057 1150.2,1040.4 1151.2,1023.8 1151.5,1007.2 1151.6,990.5 1151.5,974 1151.5,957.5 1151.3,941.1 1150.7,924.7 1149.7,908.4 1148.8,892.1 1148,875.9 1147.7,859.7 1147.7,843.5 1147.5,827.3 1147.1,811.1 1146.5,794.9 1145.5,778.7 1144.3,762.5 1142.9,746.3 1141.3,730.1 1139.6,713.9 1137.6,697.7 1135.4,681.6 1132.8,665.4 1129.8,649.3 1126.4,633.2 1122.6,617.2 1118.4,601.3 1113.9,585.4 1109.1,569.6 1104,553.9 1098.8,538.1 1093.4,522.4 1087.7,506.8 1081.8,491.2 1075.6,475.6 1069.3,460.1 1062.9,444.5 1056.4,429 1049.3,413.6 1041.6,398.5 1033.2,383.7 1024.2,369.1 1014.9,354.8 1005.3,340.6 995.4,326.5 985.2,312.6 974.8,298.9 964.1,285.3 953.1,271.9 941.9,258.6 930.4,245.5 918.7,232.5 906.8,219.8 894.6,207.1 882.3,194.7 869.7,182.4 856.9,170.3 843.9,158.3 830.7,146.5 723.9,253.2 811.7,335.1 886.1,427.2 945.5,527.8 988.8,634.7 1015.1,746.1 1023.9,859.7 1015.1,973.3 988.8,1084.7 945.5,1191.6 886.1,1292.2 811.7,1384.3 723.9,1466.2Z" fill="#114ba1"/>
<path d="M828,1570.3 841.7,1559 855.2,1547.6 868.4,1535.9 881.4,1524 894.1,1511.8 906.7,1499.5 919,1487 931,1474.4 942.8,1461.5 954.3,1448.4 965.6,1435.2 976.6,1421.7 987.3,1408.1 997.7,1394.3 1007.9,1380.3 1017.7,1366.2 1027.3,1351.9 1036.5,1337.4 1045.5,1322.9 1054.2,1308.1 1062.6,1293.3 1070.7,1278.3 1078.5,1263.2 1086.1,1248 1093.3,1232.6 1100.2,1217.2 1106.7,1201.6 1113,1185.9 1118.9,1170.1 1124.4,1154.3 1129.4,1138.3 1133.9,1122.1 1137.9,1105.9 1141.3,1089.5 1144.1,1073.1 1146.4,1056.6 1148,1040 1149,1023.5 1149.4,1006.9 1149.6,990.3 1149.6,973.8 1149.6,957.4 1149.4,941 1148.8,924.6 1147.9,908.3 1147,892.1 1146.3,875.9 1146,859.7 1145.9,843.5 1145.7,827.4 1145.3,811.2 1144.7,795 1143.8,778.9 1142.5,762.7 1141.1,746.5 1139.5,730.4 1137.7,714.2 1135.7,698.1 1133.5,681.9 1131,665.7 1128.2,649.6 1124.9,633.6 1121.1,617.6 1116.9,601.7 1112.4,585.8 1107.6,570.1 1102.6,554.3 1097.3,538.6 1091.9,522.9 1086.2,507.3 1080.3,491.7 1074.1,476.2 1067.8,460.7 1061.5,445.2 1054.9,429.7 1047.8,414.3 1040.1,399.2 1031.7,384.5 1022.8,369.9 1013.5,355.6 1003.8,341.4 993.9,327.4 983.8,313.5 973.3,299.8 962.6,286.3 951.7,272.9 940.5,259.6 929.1,246.5 917.4,233.6 905.5,220.8 893.3,208.2 881,195.8 868.4,183.5 855.6,171.4 842.6,159.5 829.4,147.7 723.9,253.2 811.7,335.1 886.1,427.2 945.5,527.8 988.8,634.7 1015.1,746.1 1023.9,859.7 1015.1,973.3 988.8,1084.7 945.5,1191.6 886.1,1292.2 811.7,1384.3 723.9,1466.2Z" fill="#0555a7"/>
<path d="M826.8,1569.1 840.4,1557.8 853.8,1546.3 867,1534.7 880,1522.8 892.8,1510.7 905.3,1498.4 917.5,1485.9 929.6,1473.3 941.3,1460.4 952.9,1447.4 964.1,1434.1 975.1,1420.7 985.8,1407.1 996.2,1393.3 1006.3,1379.4 1016.1,1365.3 1025.6,1351 1034.9,1336.6 1043.9,1322 1052.5,1307.3 1060.9,1292.5 1069,1277.6 1076.8,1262.5 1084.4,1247.3 1091.6,1232 1098.4,1216.5 1105,1201 1111.2,1185.4 1117.1,1169.6 1122.6,1153.7 1127.6,1137.7 1131.9,1121.6 1135.6,1105.3 1138.8,1089 1141.6,1072.6 1143.9,1056.1 1145.7,1039.6 1146.8,1023.1 1147.3,1006.6 1147.6,990 1147.6,973.6 1147.7,957.2 1147.5,940.8 1147,924.5 1146.1,908.2 1145.2,892 1144.5,875.8 1144.2,859.7 1144.1,843.6 1144,827.4 1143.6,811.3 1142.9,795.1 1142,779 1140.8,762.9 1139.3,746.7 1137.7,730.6 1135.8,714.5 1133.7,698.4 1131.4,682.3 1128.9,666.1 1126,650.1 1122.8,634 1119.2,618 1115.2,602.1 1110.8,586.3 1106.1,570.5 1101,554.8 1095.8,539.1 1090.4,523.5 1084.7,507.9 1078.8,492.3 1072.6,476.8 1066.2,461.4 1059.9,445.8 1053.3,430.4 1046.3,415.1 1038.6,400 1030.1,385.3 1021.2,370.8 1011.9,356.5 1002.3,342.3 992.4,328.3 982.3,314.5 971.9,300.8 961.2,287.3 950.2,273.9 939,260.7 927.6,247.6 916,234.7 904.1,222 892,209.4 879.6,197 867,184.7 854.3,172.7 841.3,160.7 828.1,149 723.9,253.2 811.7,335.1 886.1,427.2 945.5,527.8 988.8,634.7 1015.1,746.1 1023.9,859.7 1015.1,973.3 988.8,1084.7 945.5,1191.6 886.1,1292.2 811.7,1384.3 723.9,1466.2Z" fill="#005ea0"/>
<path d="M824.7,1567 838.3,1555.8 851.7,1544.3 864.9,1532.7 877.8,1520.9 890.5,1508.8 903,1496.6 915.2,1484.1 927.2,1471.5 939,1458.7 950.4,1445.7 961.7,1432.5 972.6,1419.1 983.3,1405.5 993.6,1391.8 1003.7,1377.9 1013.5,1363.8 1023,1349.6 1032.3,1335.2 1041.2,1320.7 1049.9,1306.1 1058.2,1291.3 1066.3,1276.4 1074.1,1261.3 1081.6,1246.2 1088.8,1230.9 1095.7,1215.5 1102.2,1200 1108.4,1184.4 1114.3,1168.7 1119.8,1152.9 1124.8,1137 1129.1,1120.9 1132.9,1104.7 1136.2,1088.4 1139.1,1072.1 1141.5,1055.7 1143.4,1039.2 1144.4,1022.7 1144.9,1006.2 1145,989.7 1145,973.3 1145.1,956.9 1144.9,940.6 1144.4,924.4 1143.6,908.1 1142.7,891.9 1142,875.8 1141.8,859.7 1141.7,843.6 1141.5,827.5 1141.1,811.4 1140.4,795.3 1139.5,779.2 1138.3,763.1 1136.9,747 1135.3,730.9 1133.6,714.8 1131.6,698.7 1129.4,682.6 1126.7,666.6 1123.8,650.5 1120.5,634.5 1116.8,618.6 1112.8,602.7 1108.4,586.9 1103.6,571.2 1098.5,555.6 1093.3,539.9 1087.9,524.3 1082.2,508.8 1076.3,493.3 1070.1,477.8 1063.7,462.4 1057.4,447 1050.8,431.5 1043.7,416.3 1036,401.3 1027.6,386.6 1018.7,372.1 1009.4,357.9 999.8,343.8 990,329.8 979.8,316 969.5,302.4 958.8,288.9 947.9,275.5 936.7,262.4 925.3,249.3 913.7,236.5 901.8,223.8 889.7,211.3 877.4,198.9 864.9,186.7 852.1,174.7 839.2,162.8 826.1,151 723.9,253.2 811.7,335.1 886.1,427.2 945.5,527.8 988.8,634.7 1015.1,746.1 1023.9,859.7 1015.1,973.3 988.8,1084.7 945.5,1191.6 886.1,1292.2 811.7,1384.3 723.9,1466.2Z" fill="#00648e"/>
<path d="M822.7,1565 836.2,1553.8 849.6,1542.4 862.7,1530.8 875.6,1518.9 888.3,1506.9 900.7,1494.7 912.9,1482.3 924.9,1469.7 936.6,1456.9 948,1444 959.2,1430.8 970.1,1417.5 980.8,1404 991.1,1390.3 1001.2,1376.4 1010.9,1362.4 1020.4,1348.2 1029.6,1333.9 1038.5,1319.4 1047.2,1304.8 1055.5,1290 1063.6,1275.2 1071.4,1260.2 1078.8,1245.1 1086,1229.8 1092.9,1214.5 1099.4,1199.1 1105.6,1183.5 1111.5,1167.8 1117,1152.1 1121.9,1136.2 1126.4,1120.2 1130.2,1104 1133.6,1087.8 1136.4,1071.5 1138.8,1055.2 1140.6,1038.7 1141.6,1022.3 1142.1,1005.8 1142.3,989.4 1142.3,973 1142.4,956.7 1142.3,940.4 1141.8,924.2 1141.1,908 1140.2,891.9 1139.6,875.8 1139.3,859.7 1139.2,843.6 1139,827.6 1138.6,811.5 1138,795.5 1137,779.4 1135.8,763.3 1134.4,747.3 1132.8,731.2 1131.1,715.2 1129.1,699.1 1126.9,683 1124.3,667 1121.4,651 1118.1,635.1 1114.4,619.2 1110.3,603.4 1105.9,587.6 1101.1,571.9 1096.1,556.3 1090.8,540.7 1085.4,525.2 1079.7,509.7 1073.8,494.2 1067.6,478.8 1061.2,463.5 1054.9,448.1 1048.2,432.7 1041.2,417.5 1033.5,402.5 1025.1,387.9 1016.2,373.5 1006.9,359.3 997.4,345.2 987.5,331.3 977.4,317.5 967,303.9 956.4,290.5 945.5,277.2 934.4,264.1 923,251.1 911.4,238.3 899.6,225.6 887.5,213.1 875.2,200.8 862.7,188.6 850,176.6 837.1,164.8 824,153.1 723.9,253.2 811.7,335.1 886.1,427.2 945.5,527.8 988.8,634.7 1015.1,746.1 1023.9,859.7 1015.1,973.3 988.8,1084.7 945.5,1191.6 886.1,1292.2 811.7,1384.3 723.9,1466.2Z" fill="#006b7d"/>
<path d="M820.6,1562.9 834.2,1551.7 847.5,1540.4 860.6,1528.8 873.4,1517 886,1505 898.4,1492.9 910.6,1480.5 922.5,1467.9 934.2,1455.2 945.6,1442.3 956.8,1429.2 967.6,1415.9 978.2,1402.4 988.6,1388.7 998.6,1374.9 1008.3,1360.9 1017.8,1346.8 1027,1332.5 1035.9,1318.1 1044.5,1303.5 1052.8,1288.8 1060.9,1274 1068.6,1259 1076.1,1244 1083.2,1228.8 1090.1,1213.5 1096.6,1198.1 1102.8,1182.6 1108.6,1167 1114.1,1151.3 1119.1,1135.4 1123.5,1119.4 1127.4,1103.3 1130.7,1087.1 1133.6,1070.9 1136,1054.6 1137.7,1038.3 1138.8,1021.8 1139.4,1005.4 1139.6,989 1139.7,972.7 1139.8,956.4 1139.7,940.2 1139.3,924 1138.6,907.9 1137.8,891.8 1137.1,875.7 1136.9,859.7 1136.8,843.7 1136.6,827.7 1136.2,811.6 1135.5,795.6 1134.5,779.6 1133.3,763.6 1131.9,747.6 1130.3,731.5 1128.6,715.5 1126.6,699.5 1124.4,683.5 1121.8,667.5 1118.9,651.5 1115.7,635.6 1112,619.8 1107.9,604 1103.4,588.3 1098.6,572.7 1093.6,557.1 1088.4,541.5 1082.9,526 1077.2,510.6 1071.3,495.2 1065.1,479.8 1058.7,464.5 1052.3,449.2 1045.7,433.9 1038.6,418.7 1030.9,403.8 1022.5,389.2 1013.7,374.9 1004.4,360.7 994.9,346.7 985.1,332.8 975,319.1 964.6,305.5 954,292.1 943.2,278.9 932.1,265.8 920.7,252.8 909.1,240 897.3,227.4 885.3,215 873,202.7 860.6,190.6 847.9,178.6 835,166.8 821.9,155.2 723.9,253.2 811.7,335.1 886.1,427.2 945.5,527.8 988.8,634.7 1015.1,746.1 1023.9,859.7 1015.1,973.3 988.8,1084.7 945.5,1191.6 886.1,1292.2 811.7,1384.3 723.9,1466.2Z" fill="#00726b"/>
<path d="M818.6,1560.9 832.1,1549.7 845.3,1538.4 858.4,1526.9 871.2,1515.1 883.8,1503.2 896.2,1491 908.3,1478.7 920.2,1466.2 931.8,1453.5 943.2,1440.6 954.3,1427.5 965.2,1414.2 975.7,1400.8 986,1387.2 996,1373.4 1005.8,1359.5 1015.2,1345.4 1024.3,1331.1 1033.2,1316.7 1041.8,1302.2 1050.1,1287.6 1058.1,1272.8 1065.9,1257.9 1073.3,1242.9 1080.4,1227.7 1087.3,1212.5 1093.8,1197.1 1099.9,1181.7 1105.8,1166.1 1111.3,1150.4 1116.2,1134.6 1120.7,1118.7 1124.5,1102.6 1127.8,1086.5 1130.7,1070.3 1133.1,1054.1 1134.9,1037.8 1136,1021.4 1136.6,1005 1136.9,988.7 1137,972.4 1137.1,956.2 1137.1,940 1136.7,923.9 1136,907.8 1135.3,891.7 1134.7,875.7 1134.4,859.7 1134.4,843.7 1134.1,827.7 1133.7,811.7 1133,795.8 1132.1,779.8 1130.8,763.8 1129.4,747.8 1127.9,731.9 1126.1,715.9 1124.1,699.9 1121.9,683.9 1119.3,668 1116.4,652.1 1113.2,636.2 1109.5,620.4 1105.4,604.7 1100.9,589 1096.2,573.4 1091.1,557.9 1085.9,542.4 1080.4,526.9 1074.7,511.5 1068.8,496.1 1062.6,480.9 1056.2,465.6 1049.8,450.3 1043.2,435 1036.1,419.9 1028.4,405.1 1020,390.5 1011.1,376.2 1001.9,362.1 992.4,348.1 982.6,334.3 972.6,320.6 962.2,307.1 951.6,293.7 940.8,280.5 929.7,267.5 918.4,254.6 906.9,241.8 895.1,229.3 883.1,216.9 870.8,204.6 858.4,192.5 845.7,180.6 832.9,168.9 819.8,157.3 723.9,253.2 811.7,335.1 886.1,427.2 945.5,527.8 988.8,634.7 1015.1,746.1 1023.9,859.7 1015.1,973.3 988.8,1084.7 945.5,1191.6 886.1,1292.2 811.7,1384.3 723.9,1466.2Z" fill="#00785a"/>
<path d="M816.5,1558.8 830,1547.7 843.2,1536.4 856.2,1524.9 869,1513.2 881.6,1501.3 893.9,1489.2 906,1476.9 917.8,1464.4 929.4,1451.7 940.8,1438.9 951.9,1425.8 962.7,1412.6 973.2,1399.2 983.5,1385.6 993.5,1371.9 1003.2,1358 1012.6,1344 1021.7,1329.7 1030.6,1315.4 1039.1,1300.9 1047.4,1286.3 1055.4,1271.6 1063.1,1256.7 1070.5,1241.8 1077.7,1226.7 1084.5,1211.5 1091,1196.1 1097.1,1180.7 1102.9,1165.2 1108.4,1149.6 1113.4,1133.8 1117.8,1118 1121.7,1102 1125,1085.9 1127.9,1069.7 1130.3,1053.5 1132.1,1037.3 1133.2,1021 1133.9,1004.6 1134.2,988.3 1134.3,972.1 1134.5,955.9 1134.5,939.8 1134.2,923.7 1133.5,907.6 1132.8,891.6 1132.2,875.6 1132,859.7 1131.9,843.8 1131.7,827.8 1131.3,811.9 1130.6,795.9 1129.6,780 1128.3,764 1126.9,748.1 1125.4,732.2 1123.6,716.2 1121.6,700.3 1119.4,684.4 1116.8,668.4 1114,652.6 1110.7,636.7 1107,621 1102.9,605.3 1098.5,589.7 1093.7,574.1 1088.6,558.6 1083.4,543.2 1077.9,527.8 1072.2,512.4 1066.3,497.1 1060.1,481.9 1053.7,466.6 1047.3,451.4 1040.6,436.2 1033.5,421.1 1025.9,406.3 1017.5,391.9 1008.6,377.6 999.4,363.5 989.9,349.6 980.2,335.8 970.1,322.1 959.8,308.6 949.3,295.3 938.4,282.2 927.4,269.2 916.1,256.3 904.6,243.6 892.8,231.1 880.8,218.7 868.6,206.5 856.2,194.5 843.6,182.6 830.8,170.9 817.7,159.4 723.9,253.2 811.7,335.1 886.1,427.2 945.5,527.8 988.8,634.7 1015.1,746.1 1023.9,859.7 1015.1,973.3 988.8,1084.7 945.5,1191.6 886.1,1292.2 811.7,1384.3 723.9,1466.2Z" fill="#008258"/>
<path d="M814.5,1556.8 827.9,1545.7 841.1,1534.4 854.1,1523 866.8,1511.3 879.3,1499.4 891.6,1487.3 903.7,1475.1 915.5,1462.6 927,1450 938.4,1437.2 949.4,1424.2 960.2,1411 970.7,1397.6 981,1384.1 990.9,1370.4 1000.6,1356.6 1010,1342.5 1019.1,1328.4 1027.9,1314.1 1036.4,1299.6 1044.7,1285.1 1052.7,1270.4 1060.4,1255.6 1067.8,1240.6 1074.9,1225.6 1081.7,1210.4 1088.1,1195.2 1094.3,1179.8 1100.1,1164.3 1105.6,1148.8 1110.5,1133.1 1114.9,1117.2 1118.8,1101.3 1122.1,1085.2 1125,1069.1 1127.4,1053 1129.3,1036.8 1130.4,1020.5 1131.1,1004.2 1131.4,988 1131.6,971.8 1131.8,955.7 1131.9,939.6 1131.6,923.5 1131,907.5 1130.3,891.5 1129.8,875.6 1129.5,859.7 1129.5,843.8 1129.2,827.9 1128.8,812 1128.1,796.1 1127.1,780.2 1125.9,764.3 1124.5,748.4 1122.9,732.5 1121.1,716.6 1119.1,700.7 1116.9,684.8 1114.3,668.9 1111.5,653.1 1108.2,637.3 1104.5,621.6 1100.4,605.9 1096,590.4 1091.2,574.8 1086.1,559.4 1080.9,544 1075.4,528.6 1069.7,513.3 1063.8,498 1057.5,482.9 1051.2,467.7 1044.8,452.5 1038.1,437.4 1031,422.4 1023.3,407.6 1014.9,393.2 1006.1,378.9 996.9,364.9 987.5,351 977.7,337.3 967.7,323.7 957.4,310.2 946.9,296.9 936.1,283.8 925.1,270.9 913.8,258 902.3,245.4 890.6,232.9 878.6,220.6 866.4,208.4 854.1,196.4 841.5,184.6 828.7,172.9 815.7,161.4 723.9,253.2 811.7,335.1 886.1,427.2 945.5,527.8 988.8,634.7 1015.1,746.1 1023.9,859.7 1015.1,973.3 988.8,1084.7 945.5,1191.6 886.1,1292.2 811.7,1384.3 723.9,1466.2Z" fill="#008d56"/>
<path d="M812.4,1554.7 825.8,1543.7 838.9,1532.4 851.9,1521 864.6,1509.4 877.1,1497.5 889.3,1485.5 901.4,1473.3 913.1,1460.9 924.7,1448.3 936,1435.5 947,1422.5 957.7,1409.4 968.2,1396.1 978.4,1382.6 988.3,1368.9 998,1355.1 1007.4,1341.1 1016.4,1327 1025.2,1312.7 1033.8,1298.4 1042,1283.8 1050,1269.2 1057.6,1254.4 1065,1239.5 1072.1,1224.5 1078.9,1209.4 1085.3,1194.2 1091.5,1178.9 1097.3,1163.5 1102.7,1147.9 1107.7,1132.3 1112.1,1116.5 1115.9,1100.6 1119.3,1084.6 1122.2,1068.5 1124.6,1052.4 1126.5,1036.3 1127.6,1020.1 1128.3,1003.8 1128.7,987.7 1129,971.5 1129.2,955.4 1129.3,939.4 1129,923.4 1128.5,907.4 1127.8,891.5 1127.3,875.6 1127.1,859.7 1127,843.8 1126.8,828 1126.3,812.1 1125.6,796.2 1124.6,780.4 1123.4,764.5 1122,748.7 1120.4,732.8 1118.6,716.9 1116.6,701.1 1114.4,685.2 1111.9,669.4 1109,653.6 1105.7,637.9 1102,622.2 1097.9,606.6 1093.5,591 1088.7,575.6 1083.7,560.2 1078.4,544.8 1073,529.5 1067.3,514.2 1061.3,499 1055,483.9 1048.7,468.7 1042.2,453.6 1035.6,438.5 1028.5,423.6 1020.8,408.9 1012.4,394.5 1003.6,380.3 994.4,366.3 985,352.4 975.2,338.8 965.3,325.2 955,311.8 944.5,298.6 933.7,285.5 922.7,272.5 911.5,259.8 900,247.2 888.3,234.7 876.4,222.4 864.2,210.3 851.9,198.4 839.3,186.6 826.6,175 813.6,163.5 723.9,253.2 811.7,335.1 886.1,427.2 945.5,527.8 988.8,634.7 1015.1,746.1 1023.9,859.7 1015.1,973.3 988.8,1084.7 945.5,1191.6 886.1,1292.2 811.7,1384.3 723.9,1466.2Z" fill="#009753"/>
<path d="M810.4,1552.7 823.7,1541.7 836.8,1530.5 849.7,1519.1 862.4,1507.4 874.8,1495.6 887.1,1483.6 899,1471.5 910.8,1459.1 922.3,1446.5 933.5,1433.8 944.5,1420.9 955.3,1407.8 965.7,1394.5 975.9,1381 985.8,1367.4 995.4,1353.6 1004.7,1339.7 1013.8,1325.6 1022.6,1311.4 1031.1,1297.1 1039.3,1282.6 1047.2,1268 1054.9,1253.3 1062.3,1238.4 1069.3,1223.5 1076.1,1208.4 1082.5,1193.2 1088.6,1178 1094.4,1162.6 1099.9,1147.1 1104.8,1131.5 1109.2,1115.7 1113.1,1099.9 1116.4,1083.9 1119.3,1067.9 1121.8,1051.9 1123.7,1035.8 1124.9,1019.6 1125.6,1003.5 1126,987.3 1126.3,971.2 1126.6,955.2 1126.7,939.2 1126.5,923.2 1126,907.3 1125.3,891.4 1124.8,875.5 1124.6,859.7 1124.6,843.9 1124.3,828 1123.9,812.2 1123.2,796.4 1122.2,780.6 1120.9,764.7 1119.5,748.9 1117.9,733.1 1116.2,717.3 1114.2,701.5 1111.9,685.7 1109.4,669.9 1106.5,654.1 1103.2,638.4 1099.5,622.8 1095.5,607.2 1091,591.7 1086.2,576.3 1081.2,560.9 1075.9,545.6 1070.5,530.3 1064.8,515.1 1058.8,499.9 1052.5,484.9 1046.2,469.8 1039.7,454.7 1033,439.7 1025.9,424.8 1018.2,410.2 1009.9,395.8 1001.1,381.7 992,367.7 982.5,353.9 972.8,340.2 962.8,326.7 952.6,313.4 942.1,300.2 931.4,287.1 920.4,274.2 909.2,261.5 897.8,249 886.1,236.5 874.2,224.3 862.1,212.2 849.7,200.3 837.2,188.6 824.4,177 811.5,165.6 723.9,253.2 811.7,335.1 886.1,427.2 945.5,527.8 988.8,634.7 1015.1,746.1 1023.9,859.7 1015.1,973.3 988.8,1084.7 945.5,1191.6 886.1,1292.2 811.7,1384.3 723.9,1466.2Z" fill="#00a151"/>
<path d="M808.3,1550.6 821.6,1539.7 834.7,1528.5 847.6,1517.1 860.2,1505.5 872.6,1493.8 884.8,1481.8 896.7,1469.6 908.4,1457.3 919.9,1444.8 931.1,1432.1 942.1,1419.2 952.8,1406.1 963.2,1392.9 973.3,1379.5 983.2,1365.9 992.8,1352.2 1002.1,1338.3 1011.2,1324.3 1019.9,1310.1 1028.4,1295.8 1036.6,1281.4 1044.5,1266.8 1052.1,1252.1 1059.5,1237.3 1066.5,1222.4 1073.3,1207.4 1079.7,1192.3 1085.8,1177 1091.6,1161.7 1097,1146.3 1102,1130.7 1106.4,1115 1110.3,1099.2 1113.7,1083.3 1116.6,1067.4 1119.1,1051.4 1121,1035.3 1122.2,1019.2 1122.9,1003.1 1123.4,987 1123.6,970.9 1123.9,954.9 1124.1,939 1123.9,923.1 1123.4,907.2 1122.9,891.3 1122.4,875.5 1122.2,859.7 1122.1,843.9 1121.9,828.1 1121.4,812.3 1120.7,796.5 1119.7,780.8 1118.4,765 1117,749.2 1115.5,733.4 1113.8,717.6 1111.8,701.8 1109.6,686.1 1107,670.3 1104.1,654.6 1100.8,639 1097.1,623.4 1093,607.8 1088.6,592.4 1083.8,577 1078.7,561.7 1073.5,546.4 1068,531.2 1062.3,516 1056.3,500.9 1050,485.9 1043.7,470.8 1037.2,455.8 1030.5,440.8 1023.4,426 1015.7,411.4 1007.3,397.1 998.6,383 989.5,369.1 980,355.3 970.3,341.7 960.4,328.3 950.2,314.9 939.7,301.8 929,288.8 918.1,275.9 906.9,263.3 895.5,250.7 883.8,238.4 872,226.2 859.9,214.2 847.6,202.3 835,190.6 822.3,179.1 809.4,167.7 723.9,253.2 811.7,335.1 886.1,427.2 945.5,527.8 988.8,634.7 1015.1,746.1 1023.9,859.7 1015.1,973.3 988.8,1084.7 945.5,1191.6 886.1,1292.2 811.7,1384.3 723.9,1466.2Z" fill="#0ca94f"/>
<path d="M806.5,1548.8 819.7,1537.8 832.8,1526.7 845.6,1515.4 858.2,1503.8 870.6,1492.1 882.7,1480.1 894.6,1468 906.3,1455.7 917.8,1443.2 929,1430.6 939.9,1417.7 950.6,1404.7 960.9,1391.5 971.1,1378.1 980.9,1364.6 990.5,1350.9 999.8,1337 1008.8,1323 1017.5,1308.9 1026,1294.6 1034.2,1280.2 1042.1,1265.7 1049.7,1251.1 1057,1236.3 1064,1221.5 1070.8,1206.5 1077.2,1191.4 1083.3,1176.2 1089.1,1160.9 1094.5,1145.5 1099.4,1130 1103.8,1114.3 1107.7,1098.6 1111.1,1082.7 1114,1066.8 1116.4,1050.9 1118.3,1034.9 1119.5,1018.8 1120.2,1002.7 1120.5,986.6 1120.8,970.6 1121,954.7 1121.2,938.8 1121.1,922.9 1120.7,907 1120.1,891.2 1119.7,875.5 1119.5,859.7 1119.4,844 1119.2,828.2 1118.7,812.5 1118,796.7 1117,781 1115.7,765.2 1114.4,749.5 1112.9,733.7 1111.2,718 1109.4,702.2 1107.2,686.5 1104.7,670.8 1101.8,655.1 1098.5,639.5 1094.8,623.9 1090.8,608.4 1086.3,593 1081.5,577.7 1076.5,562.4 1071.2,547.2 1065.7,532 1060,516.8 1054,501.8 1047.8,486.8 1041.4,471.8 1034.9,456.8 1028.2,441.9 1021.1,427.1 1013.4,412.6 1005.1,398.3 996.3,384.3 987.2,370.4 977.8,356.6 968.1,343.1 958.2,329.6 948,316.4 937.6,303.2 926.9,290.3 916,277.5 904.8,264.8 893.4,252.3 881.8,240 870,227.9 857.9,215.9 845.6,204 833.1,192.4 820.4,180.9 807.6,169.6 723.9,253.2 811.7,335.1 886.1,427.2 945.5,527.8 988.8,634.7 1015.1,746.1 1023.9,859.7 1015.1,973.3 988.8,1084.7 945.5,1191.6 886.1,1292.2 811.7,1384.3 723.9,1466.2Z" fill="#24ae4c"/>
<path d="M804.6,1546.9 817.9,1536 830.9,1524.9 843.7,1513.6 856.2,1502.1 868.6,1490.4 880.7,1478.5 892.6,1466.4 904.2,1454.1 915.6,1441.7 926.8,1429 937.7,1416.2 948.3,1403.2 958.7,1390.1 968.8,1376.7 978.6,1363.2 988.1,1349.6 997.4,1335.8 1006.4,1321.8 1015.1,1307.7 1023.6,1293.5 1031.7,1279.1 1039.6,1264.6 1047.2,1250 1054.5,1235.3 1061.5,1220.5 1068.3,1205.6 1074.7,1190.5 1080.7,1175.4 1086.5,1160.1 1091.9,1144.8 1096.9,1129.3 1101.3,1113.7 1105.1,1098 1108.5,1082.2 1111.3,1066.3 1113.7,1050.3 1115.5,1034.4 1116.6,1018.3 1117.3,1002.3 1117.6,986.3 1117.9,970.3 1118.1,954.4 1118.4,938.5 1118.3,922.7 1117.9,906.9 1117.4,891.1 1117,875.4 1116.8,859.7 1116.7,844 1116.5,828.3 1116,812.6 1115.3,796.9 1114.2,781.2 1113,765.5 1111.7,749.8 1110.2,734.1 1108.6,718.4 1106.8,702.6 1104.7,686.9 1102.3,671.2 1099.4,655.6 1096.2,640 1092.6,624.5 1088.5,609 1084.1,593.6 1079.3,578.3 1074.2,563.1 1069,547.9 1063.5,532.7 1057.8,517.6 1051.8,502.6 1045.5,487.7 1039.1,472.7 1032.7,457.8 1025.9,442.9 1018.8,428.2 1011.1,413.7 1002.8,399.5 994,385.5 985,371.6 975.6,357.9 965.9,344.4 956,331 945.9,317.8 935.5,304.7 924.8,291.8 913.9,279 902.7,266.4 891.4,253.9 879.8,241.7 868,229.5 855.9,217.6 843.7,205.8 831.2,194.2 818.5,182.7 805.7,171.4 723.9,253.2 811.7,335.1 886.1,427.2 945.5,527.8 988.8,634.7 1015.1,746.1 1023.9,859.7 1015.1,973.3 988.8,1084.7 945.5,1191.6 886.1,1292.2 811.7,1384.3 723.9,1466.2Z" fill="#3cb449"/>
<path d="M802.8,1545.1 816,1534.2 828.9,1523.1 841.7,1511.8 854.2,1500.4 866.6,1488.7 878.6,1476.8 890.5,1464.8 902.1,1452.5 913.5,1440.1 924.6,1427.5 935.5,1414.7 946.1,1401.8 956.4,1388.6 966.5,1375.3 976.3,1361.9 985.8,1348.3 995.1,1334.5 1004,1320.6 1012.7,1306.5 1021.1,1292.3 1029.3,1278 1037.2,1263.6 1044.7,1249 1052,1234.3 1059,1219.5 1065.7,1204.6 1072.1,1189.6 1078.2,1174.5 1084,1159.3 1089.4,1144 1094.3,1128.6 1098.7,1113 1102.5,1097.3 1105.8,1081.6 1108.6,1065.7 1110.9,1049.8 1112.7,1033.9 1113.8,1017.9 1114.4,1001.9 1114.7,985.9 1115,970 1115.3,954.1 1115.5,938.3 1115.4,922.5 1115.1,906.8 1114.7,891.1 1114.3,875.4 1114.1,859.7 1114,844 1113.8,828.4 1113.3,812.7 1112.6,797.1 1111.5,781.4 1110.3,765.8 1109,750.1 1107.6,734.4 1106,718.7 1104.3,703 1102.2,687.4 1099.8,671.7 1097.1,656.1 1093.9,640.5 1090.3,625 1086.3,609.6 1081.8,594.2 1077.1,579 1072,563.8 1066.8,548.6 1061.3,533.5 1055.5,518.5 1049.6,503.5 1043.3,488.6 1036.9,473.7 1030.4,458.8 1023.6,444 1016.5,429.3 1008.8,414.8 1000.5,400.7 991.8,386.7 982.7,372.9 973.4,359.2 963.7,345.8 953.8,332.4 943.7,319.2 933.3,306.1 922.7,293.3 911.8,280.5 900.7,268 889.3,255.5 877.8,243.3 866,231.2 853.9,219.3 841.7,207.6 829.3,196 816.6,184.6 803.8,173.3 723.9,253.2 811.7,335.1 886.1,427.2 945.5,527.8 988.8,634.7 1015.1,746.1 1023.9,859.7 1015.1,973.3 988.8,1084.7 945.5,1191.6 886.1,1292.2 811.7,1384.3 723.9,1466.2Z" fill="#54b946"/>
<path d="M800.9,1543.2 814.1,1532.4 827,1521.3 839.8,1510.1 852.3,1498.6 864.5,1487 876.6,1475.2 888.4,1463.1 900,1450.9 911.3,1438.5 922.4,1426 933.3,1413.2 943.9,1400.3 954.2,1387.2 964.2,1374 974,1360.5 983.5,1346.9 992.7,1333.2 1001.7,1319.3 1010.3,1305.3 1018.7,1291.2 1026.9,1276.9 1034.7,1262.5 1042.3,1248 1049.5,1233.3 1056.5,1218.6 1063.2,1203.7 1069.6,1188.8 1075.7,1173.7 1081.4,1158.5 1086.8,1143.3 1091.7,1127.9 1096.1,1112.3 1099.8,1096.7 1103.1,1081 1105.9,1065.1 1108.1,1049.3 1109.8,1033.4 1110.9,1017.4 1111.5,1001.4 1111.8,985.5 1112.1,969.6 1112.4,953.8 1112.6,938.1 1112.6,922.4 1112.3,906.6 1111.9,891 1111.6,875.3 1111.4,859.7 1111.3,844.1 1111.1,828.5 1110.6,812.8 1109.8,797.2 1108.8,781.6 1107.6,766 1106.3,750.4 1104.9,734.8 1103.4,719.1 1101.7,703.5 1099.7,687.8 1097.4,672.2 1094.7,656.6 1091.5,641 1088,625.6 1084,610.2 1079.6,594.9 1074.8,579.6 1069.8,564.5 1064.5,549.4 1059,534.3 1053.3,519.3 1047.3,504.3 1041,489.5 1034.6,474.6 1028.1,459.8 1021.4,445 1014.2,430.4 1006.5,416 998.2,401.9 989.5,387.9 980.5,374.2 971.1,360.5 961.5,347.1 951.7,333.8 941.5,320.6 931.2,307.6 920.5,294.8 909.7,282.1 898.6,269.5 887.3,257.1 875.7,244.9 864,232.9 852,221 839.8,209.3 827.3,197.8 814.7,186.4 801.9,175.2 723.9,253.2 811.7,335.1 886.1,427.2 945.5,527.8 988.8,634.7 1015.1,746.1 1023.9,859.7 1015.1,973.3 988.8,1084.7 945.5,1191.6 886.1,1292.2 811.7,1384.3 723.9,1466.2Z" fill="#6bbf43"/>
<path d="M799.1,1541.4 812.2,1530.6 825.1,1519.6 837.8,1508.3 850.3,1496.9 862.5,1485.3 874.5,1473.5 886.3,1461.5 897.9,1449.3 909.2,1437 920.3,1424.5 931.1,1411.7 941.6,1398.9 951.9,1385.8 961.9,1372.6 971.7,1359.2 981.2,1345.6 990.4,1331.9 999.3,1318.1 1007.9,1304.1 1016.3,1290 1024.4,1275.8 1032.3,1261.4 1039.8,1246.9 1047.1,1232.3 1054,1217.6 1060.7,1202.8 1067.1,1187.9 1073.1,1172.9 1078.8,1157.7 1084.2,1142.5 1089.1,1127.2 1093.5,1111.7 1097.2,1096.1 1100.4,1080.4 1103.1,1064.6 1105.4,1048.8 1107,1032.9 1108,1017 1108.6,1001 1108.9,985.2 1109.2,969.3 1109.5,953.6 1109.8,937.9 1109.8,922.2 1109.6,906.5 1109.2,890.9 1108.9,875.3 1108.7,859.7 1108.6,844.1 1108.4,828.5 1107.9,813 1107.1,797.4 1106.1,781.8 1104.8,766.3 1103.6,750.7 1102.3,735.1 1100.8,719.5 1099.1,703.9 1097.2,688.2 1094.9,672.6 1092.3,657.1 1089.2,641.6 1085.7,626.1 1081.7,610.8 1077.4,595.5 1072.6,580.3 1067.6,565.2 1062.3,550.1 1056.8,535.1 1051.1,520.1 1045.1,505.2 1038.8,490.4 1032.4,475.6 1025.8,460.8 1019.1,446.1 1011.9,431.5 1004.2,417.1 995.9,403 987.2,389.1 978.2,375.4 968.9,361.9 959.3,348.4 949.5,335.2 939.4,322 929,309.1 918.4,296.2 907.6,283.6 896.5,271.1 885.2,258.8 873.7,246.6 862,234.6 850,222.7 837.8,211.1 825.4,199.6 812.8,188.2 800.1,177 723.9,253.2 811.7,335.1 886.1,427.2 945.5,527.8 988.8,634.7 1015.1,746.1 1023.9,859.7 1015.1,973.3 988.8,1084.7 945.5,1191.6 886.1,1292.2 811.7,1384.3 723.9,1466.2Z" fill="#83c440"/>
<path d="M797.3,1539.5 810.3,1528.8 823.2,1517.8 835.9,1506.6 848.3,1495.2 860.5,1483.6 872.5,1471.8 884.2,1459.9 895.8,1447.7 907,1435.4 918.1,1422.9 928.9,1410.2 939.4,1397.4 949.7,1384.4 959.7,1371.2 969.4,1357.8 978.8,1344.3 988,1330.7 996.9,1316.9 1005.5,1302.9 1013.9,1288.9 1022,1274.7 1029.8,1260.3 1037.3,1245.9 1044.6,1231.3 1051.5,1216.7 1058.2,1201.9 1064.5,1187 1070.6,1172 1076.3,1157 1081.7,1141.8 1086.6,1126.5 1090.9,1111 1094.6,1095.4 1097.7,1079.8 1100.4,1064 1102.6,1048.2 1104.2,1032.4 1105.2,1016.5 1105.7,1000.6 1106,984.8 1106.2,969 1106.6,953.3 1106.9,937.6 1107,922 1106.8,906.4 1106.5,890.8 1106.2,875.2 1106,859.7 1106,844.2 1105.7,828.6 1105.2,813.1 1104.4,797.6 1103.3,782 1102.1,766.5 1100.9,751 1099.6,735.4 1098.2,719.8 1096.6,704.3 1094.7,688.7 1092.5,673.1 1089.9,657.6 1086.9,642.1 1083.4,626.7 1079.5,611.3 1075.1,596.1 1070.4,580.9 1065.3,565.9 1060,550.8 1054.6,535.8 1048.8,520.9 1042.8,506.1 1036.5,491.3 1030.1,476.5 1023.6,461.8 1016.8,447.1 1009.6,432.6 1001.9,418.3 993.7,404.2 985,390.4 976,376.7 966.7,363.2 957.1,349.8 947.3,336.5 937.2,323.4 926.9,310.5 916.3,297.7 905.5,285.1 894.4,272.7 883.2,260.4 871.7,248.2 860,236.3 848,224.5 835.9,212.8 823.5,201.4 810.9,190 798.2,178.9 723.9,253.2 811.7,335.1 886.1,427.2 945.5,527.8 988.8,634.7 1015.1,746.1 1023.9,859.7 1015.1,973.3 988.8,1084.7 945.5,1191.6 886.1,1292.2 811.7,1384.3 723.9,1466.2Z" fill="#99cb38"/>
<path d="M795.4,1537.7 808.5,1526.9 821.3,1516 833.9,1504.8 846.3,1493.5 858.5,1481.9 870.4,1470.2 882.2,1458.3 893.7,1446.1 904.9,1433.9 915.9,1421.4 926.7,1408.8 937.2,1395.9 947.4,1383 957.4,1369.8 967.1,1356.5 976.5,1343 985.7,1329.4 994.5,1315.6 1003.2,1301.7 1011.5,1287.7 1019.6,1273.5 1027.3,1259.3 1034.9,1244.9 1042.1,1230.3 1049,1215.7 1055.7,1201 1062,1186.1 1068,1171.2 1073.7,1156.2 1079.1,1141 1084,1125.8 1088.3,1110.3 1091.9,1094.8 1095.1,1079.2 1097.7,1063.4 1099.8,1047.7 1101.4,1031.9 1102.3,1016 1102.8,1000.2 1103.1,984.4 1103.3,968.7 1103.7,953 1104,937.4 1104.2,921.8 1104,906.3 1103.7,890.7 1103.5,875.2 1103.3,859.7 1103.3,844.2 1103,828.7 1102.5,813.2 1101.7,797.7 1100.6,782.3 1099.4,766.8 1098.2,751.3 1097,735.8 1095.6,720.2 1094,704.7 1092.2,689.1 1090,673.6 1087.5,658.1 1084.5,642.6 1081.1,627.2 1077.2,611.9 1072.9,596.7 1068.2,581.6 1063.1,566.5 1057.8,551.5 1052.3,536.6 1046.6,521.7 1040.6,506.9 1034.3,492.2 1027.8,477.5 1021.3,462.8 1014.5,448.2 1007.3,433.7 999.7,419.4 991.4,405.4 982.7,391.6 973.7,377.9 964.4,364.5 954.9,351.1 945.1,337.9 935,324.9 924.7,312 914.2,299.2 903.4,286.6 892.4,274.2 881.1,262 869.6,249.9 858,237.9 846,226.2 833.9,214.6 821.6,203.1 809,191.9 796.3,180.8 723.9,253.2 811.7,335.1 886.1,427.2 945.5,527.8 988.8,634.7 1015.1,746.1 1023.9,859.7 1015.1,973.3 988.8,1084.7 945.5,1191.6 886.1,1292.2 811.7,1384.3 723.9,1466.2Z" fill="#aed32c"/>
<path d="M793.6,1535.9 806.6,1525.1 819.4,1514.2 832,1503.1 844.3,1491.7 856.5,1480.2 868.4,1468.5 880.1,1456.6 891.5,1444.5 902.8,1432.3 913.7,1419.9 924.5,1407.3 934.9,1394.5 945.2,1381.5 955.1,1368.4 964.8,1355.1 974.2,1341.7 983.3,1328.1 992.2,1314.4 1000.8,1300.5 1009.1,1286.5 1017.1,1272.4 1024.9,1258.2 1032.4,1243.8 1039.6,1229.4 1046.5,1214.8 1053.2,1200.1 1059.5,1185.3 1065.5,1170.4 1071.2,1155.4 1076.6,1140.3 1081.4,1125 1085.7,1109.7 1089.3,1094.2 1092.4,1078.6 1095,1062.9 1097,1047.2 1098.5,1031.4 1099.4,1015.6 1099.9,999.8 1100.2,984.1 1100.5,968.4 1100.8,952.7 1101.2,937.2 1101.3,921.6 1101.3,906.1 1101,890.6 1100.8,875.2 1100.7,859.7 1100.6,844.3 1100.3,828.8 1099.8,813.4 1099,797.9 1097.9,782.5 1096.7,767 1095.5,751.6 1094.3,736.1 1093,720.6 1091.5,705.1 1089.7,689.6 1087.6,674 1085.1,658.6 1082.2,643.1 1078.8,627.8 1075,612.5 1070.7,597.3 1065.9,582.2 1060.9,567.2 1055.6,552.3 1050.1,537.4 1044.3,522.5 1038.3,507.8 1032,493.1 1025.6,478.4 1019,463.8 1012.2,449.2 1005,434.8 997.4,420.6 989.1,406.6 980.5,392.8 971.5,379.2 962.2,365.8 952.7,352.5 942.9,339.3 932.9,326.3 922.6,313.4 912.1,300.7 901.3,288.2 890.3,275.8 879.1,263.6 867.6,251.5 855.9,239.6 844.1,227.9 832,216.3 819.6,204.9 807.1,193.7 794.4,182.7 723.9,253.2 811.7,335.1 886.1,427.2 945.5,527.8 988.8,634.7 1015.1,746.1 1023.9,859.7 1015.1,973.3 988.8,1084.7 945.5,1191.6 886.1,1292.2 811.7,1384.3 723.9,1466.2Z" fill="#c3db21"/>
<path d="M791.7,1534 804.7,1523.3 817.5,1512.4 830,1501.3 842.3,1490 854.5,1478.5 866.3,1466.9 878,1455 889.4,1443 900.6,1430.7 911.6,1418.3 922.3,1405.8 932.7,1393 942.9,1380.1 952.8,1367 962.5,1353.8 971.8,1340.4 981,1326.8 989.8,1313.2 998.4,1299.3 1006.7,1285.4 1014.7,1271.3 1022.4,1257.1 1029.9,1242.8 1037.1,1228.4 1044,1213.8 1050.6,1199.2 1056.9,1184.4 1063,1169.5 1068.6,1154.6 1074,1139.5 1078.9,1124.3 1083.1,1109 1086.7,1093.5 1089.7,1078 1092.2,1062.3 1094.3,1046.6 1095.7,1030.9 1096.7,1015.2 1097.2,999.4 1097.4,983.7 1097.6,968.1 1097.9,952.5 1098.3,937 1098.5,921.5 1098.5,906 1098.3,890.5 1098.1,875.1 1098,859.7 1097.9,844.3 1097.6,828.9 1097.1,813.5 1096.3,798.1 1095.2,782.7 1094,767.3 1092.9,751.9 1091.8,736.4 1090.5,720.9 1089,705.5 1087.2,690 1085.2,674.5 1082.7,659.1 1079.9,643.7 1076.5,628.3 1072.7,613.1 1068.4,597.9 1063.7,582.9 1058.6,567.9 1053.3,553 1047.8,538.2 1042.1,523.4 1036.1,508.6 1029.8,494 1023.3,479.4 1016.8,464.8 1009.9,450.3 1002.8,435.9 995.1,421.7 986.8,407.8 978.2,394 969.2,380.5 960,367.1 950.5,353.8 940.7,340.7 930.7,327.7 920.4,314.9 909.9,302.2 899.2,289.7 888.2,277.4 877,265.2 865.6,253.1 853.9,241.3 842.1,229.6 830,218.1 817.7,206.7 805.2,195.5 792.6,184.5 723.9,253.2 811.7,335.1 886.1,427.2 945.5,527.8 988.8,634.7 1015.1,746.1 1023.9,859.7 1015.1,973.3 988.8,1084.7 945.5,1191.6 886.1,1292.2 811.7,1384.3 723.9,1466.2Z" fill="#d8e315"/>
<path d="M789.9,1532.2 802.8,1521.5 815.5,1510.6 828.1,1499.6 840.4,1488.3 852.4,1476.8 864.3,1465.2 875.9,1453.4 887.3,1441.4 898.5,1429.2 909.4,1416.8 920.1,1404.3 930.5,1391.6 940.6,1378.7 950.5,1365.6 960.2,1352.4 969.5,1339.1 978.6,1325.6 987.4,1311.9 996,1298.1 1004.2,1284.2 1012.3,1270.2 1020,1256 1027.5,1241.8 1034.6,1227.4 1041.5,1212.9 1048.1,1198.2 1054.4,1183.5 1060.4,1168.7 1066.1,1153.8 1071.4,1138.8 1076.3,1123.6 1080.5,1108.3 1084,1092.9 1087,1077.3 1089.5,1061.7 1091.6,1046.1 1093.1,1030.5 1094,1014.7 1094.5,999 1094.6,983.3 1094.7,967.7 1095,952.2 1095.4,936.7 1095.7,921.3 1095.7,905.9 1095.6,890.5 1095.4,875.1 1095.3,859.7 1095.2,844.3 1094.9,829 1094.3,813.6 1093.5,798.2 1092.4,782.9 1091.3,767.5 1090.2,752.2 1089.2,736.7 1088,721.3 1086.6,705.8 1084.9,690.4 1082.9,675 1080.3,659.6 1077.5,644.2 1074.2,628.9 1070.4,613.7 1066.2,598.6 1061.5,583.5 1056.4,568.6 1051.1,553.7 1045.6,538.9 1039.8,524.2 1033.8,509.5 1027.5,494.9 1021.1,480.3 1014.5,465.8 1007.7,451.3 1000.5,437 992.8,422.8 984.5,409 975.9,395.3 967,381.7 957.8,368.4 948.3,355.1 938.5,342 928.5,329.1 918.3,316.3 907.8,303.7 897.1,291.2 886.2,278.9 875,266.8 863.6,254.8 851.9,243 840.1,231.3 828.1,219.8 815.8,208.5 803.4,197.4 790.7,186.4 723.9,253.2 811.7,335.1 886.1,427.2 945.5,527.8 988.8,634.7 1015.1,746.1 1023.9,859.7 1015.1,973.3 988.8,1084.7 945.5,1191.6 886.1,1292.2 811.7,1384.3 723.9,1466.2Z" fill="#edeb0a"/>
<path d="M788,1530.3 800.9,1519.7 813.6,1508.8 826.1,1497.8 838.4,1486.6 850.4,1475.1 862.2,1463.5 873.8,1451.7 885.2,1439.8 896.3,1427.6 907.2,1415.3 917.9,1402.8 928.3,1390.1 938.4,1377.3 948.2,1364.3 957.8,1351.1 967.2,1337.8 976.2,1324.3 985,1310.7 993.6,1297 1001.8,1283.1 1009.8,1269.1 1017.5,1255 1025,1240.7 1032.1,1226.4 1039,1211.9 1045.6,1197.3 1051.9,1182.6 1057.9,1167.9 1063.5,1153 1068.9,1138 1073.7,1122.9 1077.9,1107.6 1081.5,1092.3 1084.6,1076.8 1087.2,1061.3 1089.2,1045.7 1090.6,1030 1091.4,1014.3 1091.7,998.6 1091.8,983 1091.9,967.4 1092.1,951.9 1092.6,936.5 1092.9,921.1 1092.9,905.7 1092.8,890.4 1092.7,875 1092.6,859.7 1092.5,844.4 1092.2,829.1 1091.6,813.7 1090.8,798.4 1089.7,783.1 1088.6,767.8 1087.6,752.5 1086.6,737.1 1085.6,721.6 1084.3,706.2 1082.7,690.8 1080.7,675.4 1078.3,660 1075.4,644.7 1072,629.4 1068.2,614.3 1063.9,599.2 1059.2,584.2 1054.2,569.3 1048.9,554.5 1043.4,539.7 1037.6,525 1031.6,510.3 1025.3,495.8 1018.8,481.3 1012.2,466.8 1005.4,452.4 998.2,438.1 990.5,424 982.3,410.1 973.7,396.5 964.7,383 955.5,369.7 946.1,356.5 936.3,343.4 926.4,330.5 916.2,317.8 905.7,305.2 895,292.8 884.1,280.5 872.9,268.4 861.5,256.4 849.9,244.6 838.1,233 826.1,221.6 813.9,210.3 801.5,199.2 788.8,188.3 723.9,253.2 811.7,335.1 886.1,427.2 945.5,527.8 988.8,634.7 1015.1,746.1 1023.9,859.7 1015.1,973.3 988.8,1084.7 945.5,1191.6 886.1,1292.2 811.7,1384.3 723.9,1466.2Z" fill="#fff001"/>
<path d="M786.4,1528.7 799.3,1518.1 811.9,1507.3 824.4,1496.3 836.6,1485.1 848.6,1473.7 860.4,1462.1 872,1450.3 883.3,1438.4 894.5,1426.2 905.3,1413.9 915.9,1401.5 926.3,1388.8 936.4,1376 946.2,1363 955.8,1349.9 965.1,1336.6 974.2,1323.2 983,1309.6 991.5,1295.9 999.7,1282.1 1007.7,1268.1 1015.4,1254 1022.8,1239.8 1030,1225.5 1036.8,1211.1 1043.4,1196.5 1049.7,1181.9 1055.6,1167.1 1061.3,1152.3 1066.6,1137.4 1071.5,1122.3 1075.7,1107.1 1079.3,1091.7 1082.3,1076.3 1084.8,1060.8 1086.7,1045.2 1088.1,1029.6 1088.7,1013.9 1089,998.2 1089,982.6 1089.3,967.1 1089.9,951.7 1090.4,936.3 1090.8,921 1090.9,905.6 1090.8,890.3 1090.7,875 1090.6,859.7 1090.5,844.4 1090.2,829.1 1089.6,813.8 1088.8,798.5 1087.7,783.3 1086.5,768 1085.2,752.7 1084.1,737.4 1083.1,722 1081.9,706.6 1080.4,691.2 1078.5,675.8 1076.2,660.4 1073.4,645.1 1070.1,629.9 1066.3,614.7 1062,599.7 1057.3,584.8 1052.2,569.9 1046.9,555.1 1041.4,540.4 1035.6,525.7 1029.6,511.1 1023.3,496.6 1016.8,482.1 1010.2,467.7 1003.4,453.3 996.2,439 988.5,425 980.3,411.2 971.7,397.6 962.8,384.1 953.6,370.8 944.1,357.6 934.4,344.6 924.5,331.8 914.3,319.1 903.8,306.5 893.2,294.1 882.3,281.9 871.1,269.8 859.8,257.9 848.2,246.1 836.4,234.5 824.4,223.1 812.2,211.9 799.8,200.8 787.2,189.9 723.9,253.2 811.7,335.1 886.1,427.2 945.5,527.8 988.8,634.7 1015.1,746.1 1023.9,859.7 1015.1,973.3 988.8,1084.7 945.5,1191.6 886.1,1292.2 811.7,1384.3 723.9,1466.2Z" fill="#ffe704"/>
<path d="M784.9,1527.2 797.7,1516.6 810.4,1505.8 822.8,1494.8 835,1483.6 847,1472.3 858.8,1460.7 870.3,1449 881.6,1437.1 892.7,1425 903.5,1412.7 914.1,1400.2 924.5,1387.6 934.6,1374.8 944.4,1361.9 953.9,1348.8 963.2,1335.5 972.3,1322.1 981,1308.6 989.5,1294.9 997.7,1281.1 1005.7,1267.2 1013.4,1253.1 1020.8,1239 1027.9,1224.7 1034.8,1210.3 1041.3,1195.8 1047.6,1181.2 1053.6,1166.5 1059.2,1151.7 1064.5,1136.8 1069.4,1121.7 1073.5,1106.5 1077.1,1091.2 1080.1,1075.8 1082.5,1060.3 1084.3,1044.7 1085.5,1029.1 1086.1,1013.5 1086.5,997.9 1087,982.4 1087.5,966.9 1088.1,951.6 1088.7,936.2 1089.1,920.9 1089.2,905.6 1089.1,890.3 1089,875 1089,859.7 1088.9,844.4 1088.6,829.2 1088,813.9 1087.2,798.6 1086.1,783.4 1084.8,768.2 1083.5,752.9 1082.2,737.6 1080.8,722.3 1079.6,707 1078.2,691.6 1076.4,676.2 1074.2,660.8 1071.4,645.6 1068.2,630.3 1064.4,615.2 1060.2,600.2 1055.4,585.3 1050.4,570.5 1045.1,555.7 1039.6,541 1033.8,526.4 1027.8,511.8 1021.5,497.3 1015,482.9 1008.4,468.5 1001.5,454.1 994.3,439.9 986.6,425.9 978.4,412.2 969.8,398.6 960.9,385.1 951.8,371.9 942.3,358.7 932.6,345.8 922.7,332.9 912.5,320.2 902.1,307.7 891.4,295.4 880.6,283.1 869.4,271.1 858.1,259.2 846.6,247.5 834.8,236 822.8,224.6 810.6,213.4 798.2,202.3 785.7,191.4 723.9,253.2 811.7,335.1 886.1,427.2 945.5,527.8 988.8,634.7 1015.1,746.1 1023.9,859.7 1015.1,973.3 988.8,1084.7 945.5,1191.6 886.1,1292.2 811.7,1384.3 723.9,1466.2Z" fill="#fedd07"/>
<path d="M783.4,1525.7 796.2,1515.1 808.8,1504.4 821.2,1493.4 833.4,1482.2 845.3,1470.9 857.1,1459.4 868.6,1447.6 879.9,1435.7 890.9,1423.7 901.8,1411.4 912.3,1399 922.6,1386.4 932.7,1373.7 942.5,1360.8 952,1347.7 961.3,1334.5 970.3,1321.1 979.1,1307.6 987.5,1293.9 995.8,1280.2 1003.7,1266.3 1011.4,1252.2 1018.8,1238.1 1025.9,1223.9 1032.7,1209.5 1039.3,1195 1045.5,1180.4 1051.5,1165.8 1057.1,1151 1062.4,1136.1 1067.3,1121.1 1071.4,1106 1074.9,1090.7 1077.8,1075.3 1080.1,1059.8 1081.8,1044.3 1083,1028.7 1083.9,1013.1 1084.6,997.6 1085.2,982.2 1085.7,966.7 1086.3,951.4 1087,936.1 1087.4,920.8 1087.5,905.5 1087.5,890.2 1087.4,874.9 1087.3,859.7 1087.2,844.5 1086.9,829.2 1086.4,814 1085.5,798.8 1084.4,783.5 1083.1,768.3 1081.9,753.1 1080.5,737.8 1079.1,722.6 1077.6,707.3 1075.9,692 1074.2,676.6 1072.1,661.3 1069.4,646 1066.2,630.8 1062.5,615.7 1058.3,600.7 1053.6,585.8 1048.5,571 1043.3,556.3 1037.7,541.6 1032,527 1025.9,512.5 1019.6,498.1 1013.1,483.7 1006.5,469.3 999.6,455 992.4,440.8 984.7,426.9 976.5,413.1 968,399.6 959.1,386.2 949.9,372.9 940.5,359.8 930.8,346.9 920.9,334.1 910.8,321.4 900.4,308.9 889.7,296.6 878.9,284.4 867.8,272.4 856.5,260.6 844.9,248.9 833.2,237.4 821.2,226 809,214.8 796.7,203.8 784.1,193 723.9,253.2 811.7,335.1 886.1,427.2 945.5,527.8 988.8,634.7 1015.1,746.1 1023.9,859.7 1015.1,973.3 988.8,1084.7 945.5,1191.6 886.1,1292.2 811.7,1384.3 723.9,1466.2Z" fill="#fed40a"/>
<path d="M781.9,1524.2 794.7,1513.6 807.2,1502.9 819.6,1492 831.8,1480.8 843.7,1469.5 855.4,1458 866.9,1446.3 878.2,1434.4 889.2,1422.4 900,1410.2 910.5,1397.8 920.8,1385.2 930.9,1372.5 940.6,1359.6 950.2,1346.6 959.4,1333.4 968.4,1320.1 977.1,1306.6 985.6,1293 993.8,1279.2 1001.7,1265.4 1009.4,1251.4 1016.7,1237.3 1023.9,1223 1030.7,1208.7 1037.2,1194.3 1043.5,1179.7 1049.4,1165.1 1055,1150.4 1060.3,1135.5 1065.1,1120.6 1069.2,1105.4 1072.7,1090.1 1075.5,1074.8 1077.7,1059.3 1079.5,1043.8 1081,1028.3 1082,1012.8 1082.8,997.3 1083.4,981.9 1083.9,966.5 1084.6,951.2 1085.2,935.9 1085.7,920.7 1085.8,905.4 1085.8,890.1 1085.7,874.9 1085.7,859.7 1085.6,844.5 1085.3,829.3 1084.7,814.1 1083.9,798.9 1082.8,783.7 1081.5,768.5 1080.2,753.3 1078.9,738.1 1077.4,722.8 1075.9,707.5 1074.2,692.3 1072.2,677 1070,661.7 1067.5,646.4 1064.3,631.3 1060.7,616.2 1056.5,601.2 1051.8,586.4 1046.7,571.6 1041.4,556.9 1035.9,542.3 1030.1,527.7 1024.1,513.2 1017.8,498.8 1011.3,484.4 1004.7,470.1 997.8,455.8 990.5,441.7 982.9,427.8 974.7,414.1 966.1,400.6 957.3,387.2 948.1,374 938.7,360.9 929.1,348 919.2,335.2 909,322.6 898.6,310.2 888,297.9 877.2,285.7 866.1,273.7 854.8,261.9 843.3,250.2 831.5,238.8 819.6,227.4 807.5,216.3 795.1,205.3 782.6,194.5 723.9,253.2 811.7,335.1 886.1,427.2 945.5,527.8 988.8,634.7 1015.1,746.1 1023.9,859.7 1015.1,973.3 988.8,1084.7 945.5,1191.6 886.1,1292.2 811.7,1384.3 723.9,1466.2Z" fill="#feca0d"/>
<path d="M780.4,1522.7 793.1,1512.1 805.7,1501.4 818,1490.5 830.1,1479.4 842,1468.1 853.7,1456.6 865.2,1445 876.4,1433.1 887.4,1421.1 898.2,1408.9 908.7,1396.6 919,1384.1 929,1371.4 938.8,1358.5 948.3,1345.5 957.5,1332.3 966.5,1319 975.2,1305.6 983.6,1292 991.8,1278.3 999.7,1264.4 1007.4,1250.5 1014.7,1236.4 1021.8,1222.2 1028.6,1207.9 1035.2,1193.5 1041.4,1179 1047.3,1164.4 1052.9,1149.7 1058.3,1134.9 1063,1120 1067.1,1104.9 1070.5,1089.6 1073.3,1074.3 1075.6,1058.9 1077.5,1043.4 1079,1028 1080.1,1012.5 1080.9,997.1 1081.5,981.7 1082.1,966.3 1082.8,951 1083.5,935.8 1084,920.5 1084.2,905.3 1084.2,890.1 1084.1,874.9 1084.1,859.7 1084,844.5 1083.6,829.3 1083.1,814.1 1082.2,799 1081.1,783.8 1079.8,768.6 1078.5,753.5 1077.2,738.3 1075.7,723 1074.2,707.8 1072.4,692.6 1070.4,677.3 1068.1,662.1 1065.5,646.9 1062.4,631.7 1058.8,616.7 1054.7,601.7 1050,586.9 1044.9,572.2 1039.6,557.5 1034.1,542.9 1028.3,528.4 1022.2,513.9 1015.9,499.5 1009.4,485.2 1002.8,470.9 995.9,456.7 988.7,442.6 981,428.7 972.8,415.1 964.3,401.6 955.4,388.2 946.3,375.1 936.9,362 927.3,349.1 917.4,336.4 907.3,323.8 896.9,311.4 886.3,299.1 875.5,287 864.4,275 853.1,263.2 841.6,251.6 829.9,240.2 818,228.9 805.9,217.8 793.6,206.8 781.1,196 723.9,253.2 811.7,335.1 886.1,427.2 945.5,527.8 988.8,634.7 1015.1,746.1 1023.9,859.7 1015.1,973.3 988.8,1084.7 945.5,1191.6 886.1,1292.2 811.7,1384.3 723.9,1466.2Z" fill="#fdc110"/>
<path d="M778.9,1521.2 791.6,1510.7 804.1,1500 816.4,1489.1 828.5,1478 840.4,1466.7 852.1,1455.3 863.5,1443.6 874.7,1431.8 885.7,1419.8 896.4,1407.7 906.9,1395.4 917.2,1382.9 927.2,1370.2 936.9,1357.4 946.4,1344.4 955.6,1331.3 964.6,1318 973.2,1304.6 981.7,1291 989.8,1277.3 997.7,1263.5 1005.3,1249.6 1012.7,1235.6 1019.8,1221.4 1026.6,1207.1 1033.1,1192.8 1039.3,1178.3 1045.2,1163.7 1050.9,1149.1 1056.2,1134.3 1060.9,1119.4 1065,1104.3 1068.3,1089.1 1071.2,1073.8 1073.5,1058.4 1075.5,1043 1077,1027.6 1078.1,1012.2 1079,996.8 1079.6,981.4 1080.3,966.1 1081,950.9 1081.7,935.7 1082.3,920.4 1082.5,905.2 1082.5,890 1082.5,874.9 1082.4,859.7 1082.3,844.5 1082,829.4 1081.4,814.2 1080.6,799.1 1079.4,783.9 1078.1,768.8 1076.8,753.6 1075.4,738.5 1074,723.3 1072.5,708.1 1070.7,692.9 1068.7,677.7 1066.3,662.5 1063.7,647.3 1060.5,632.2 1056.9,617.2 1052.8,602.2 1048.1,587.4 1043.1,572.7 1037.8,558.1 1032.2,543.5 1026.4,529 1020.4,514.6 1014.1,500.3 1007.6,486 1000.9,471.7 994,457.6 986.8,443.5 979.1,429.7 970.9,416 962.4,402.6 953.6,389.3 944.5,376.1 935.1,363.1 925.5,350.3 915.6,337.6 905.5,325 895.2,312.6 884.6,300.4 873.8,288.3 862.7,276.3 851.5,264.6 840,253 828.3,241.6 816.4,230.3 804.3,219.2 792,208.3 779.5,197.6 723.9,253.2 811.7,335.1 886.1,427.2 945.5,527.8 988.8,634.7 1015.1,746.1 1023.9,859.7 1015.1,973.3 988.8,1084.7 945.5,1191.6 886.1,1292.2 811.7,1384.3 723.9,1466.2Z" fill="#fdb813"/>
<path d="M777.3,1519.6 790,1509.2 802.5,1498.5 814.8,1487.6 826.9,1476.6 838.7,1465.3 850.4,1453.9 861.8,1442.3 873,1430.5 883.9,1418.6 894.6,1406.4 905.1,1394.1 915.4,1381.7 925.3,1369 935,1356.2 944.5,1343.3 953.7,1330.2 962.6,1316.9 971.3,1303.6 979.7,1290 987.9,1276.4 995.7,1262.6 1003.3,1248.7 1010.7,1234.7 1017.7,1220.6 1024.5,1206.4 1031,1192 1037.2,1177.6 1043.2,1163 1048.8,1148.4 1054.1,1133.7 1058.8,1118.8 1062.9,1103.8 1066.3,1088.6 1069.1,1073.3 1071.5,1058 1073.5,1042.7 1075.1,1027.3 1076.1,1011.9 1076.9,996.5 1077.7,981.2 1078.4,965.9 1079.2,950.7 1080,935.5 1080.5,920.3 1080.8,905.2 1080.9,890 1080.8,874.8 1080.8,859.7 1080.7,844.6 1080.4,829.4 1079.8,814.3 1078.9,799.2 1077.8,784.1 1076.5,768.9 1075.1,753.8 1073.7,738.7 1072.2,723.6 1070.6,708.4 1068.9,693.2 1066.9,678 1064.6,662.8 1061.9,647.7 1058.7,632.6 1055.1,617.6 1051,602.7 1046.3,588 1041.2,573.3 1035.9,558.7 1030.4,544.2 1024.6,529.7 1018.6,515.3 1012.2,501 1005.7,486.8 999.1,472.5 992.2,458.4 984.9,444.4 977.2,430.6 969.1,417 960.6,403.6 951.7,390.3 942.6,377.2 933.3,364.2 923.7,351.4 913.8,338.7 903.8,326.2 893.4,313.8 882.9,301.6 872.1,289.6 861.1,277.7 849.8,265.9 838.4,254.4 826.7,243 814.8,231.8 802.7,220.7 790.5,209.8 778,199.1 723.9,253.2 811.7,335.1 886.1,427.2 945.5,527.8 988.8,634.7 1015.1,746.1 1023.9,859.7 1015.1,973.3 988.8,1084.7 945.5,1191.6 886.1,1292.2 811.7,1384.3 723.9,1466.2Z" fill="#fcb115"/>
<path d="M775.8,1518.1 788.5,1507.7 801,1497 813.2,1486.2 825.3,1475.2 837.1,1464 848.7,1452.6 860.1,1441 871.2,1429.2 882.2,1417.3 892.9,1405.2 903.3,1392.9 913.5,1380.5 923.5,1367.9 933.2,1355.1 942.6,1342.2 951.8,1329.1 960.7,1315.9 969.4,1302.5 977.7,1289.1 985.9,1275.4 993.7,1261.7 1001.3,1247.8 1008.7,1233.9 1015.7,1219.8 1022.5,1205.6 1029,1191.3 1035.2,1176.9 1041.1,1162.4 1046.7,1147.8 1052,1133.1 1056.7,1118.2 1060.8,1103.2 1064.2,1088.1 1067.1,1072.9 1069.5,1057.6 1071.4,1042.3 1072.8,1026.9 1073.9,1011.5 1074.9,996.2 1075.8,981 1076.6,965.7 1077.5,950.5 1078.3,935.4 1078.8,920.2 1079.1,905.1 1079.2,889.9 1079.2,874.8 1079.2,859.7 1079.1,844.6 1078.7,829.5 1078.1,814.4 1077.3,799.3 1076.1,784.2 1074.8,769.1 1073.4,754 1071.9,738.9 1070.4,723.8 1068.7,708.7 1066.9,693.5 1065.1,678.4 1062.8,663.2 1060.1,648.1 1056.9,633.1 1053.3,618.1 1049.2,603.2 1044.5,588.5 1039.4,573.9 1034.1,559.3 1028.6,544.8 1022.8,530.4 1016.7,516 1010.4,501.8 1003.9,487.5 997.2,473.4 990.3,459.3 983,445.3 975.4,431.5 967.2,418 958.7,404.6 949.9,391.4 940.8,378.3 931.5,365.3 921.9,352.5 912.1,339.9 902,327.4 891.7,315 881.1,302.9 870.4,290.8 859.4,279 848.2,267.3 836.7,255.7 825.1,244.4 813.2,233.2 801.2,222.2 788.9,211.3 776.5,200.6 723.9,253.2 811.7,335.1 886.1,427.2 945.5,527.8 988.8,634.7 1015.1,746.1 1023.9,859.7 1015.1,973.3 988.8,1084.7 945.5,1191.6 886.1,1292.2 811.7,1384.3 723.9,1466.2Z" fill="#fbaa17"/>
<path d="M774.3,1516.6 787,1506.2 799.4,1495.6 811.6,1484.8 823.6,1473.8 835.4,1462.6 847,1451.2 858.4,1439.6 869.5,1427.9 880.4,1416 891.1,1403.9 901.5,1391.7 911.7,1379.3 921.6,1366.7 931.3,1354 940.7,1341.1 949.9,1328 958.8,1314.9 967.4,1301.5 975.8,1288.1 983.9,1274.5 991.7,1260.8 999.3,1247 1006.6,1233 1013.7,1219 1020.4,1204.8 1026.9,1190.5 1033.1,1176.2 1039,1161.7 1044.6,1147.1 1049.9,1132.5 1054.6,1117.7 1058.7,1102.7 1062.1,1087.6 1065,1072.4 1067.1,1057.1 1068.9,1041.8 1070.5,1026.5 1071.8,1011.2 1072.9,995.9 1073.9,980.7 1074.8,965.5 1075.7,950.4 1076.5,935.2 1077.1,920.1 1077.4,905 1077.5,889.9 1077.5,874.8 1077.5,859.7 1077.4,844.6 1077.1,829.5 1076.5,814.4 1075.6,799.4 1074.5,784.3 1073.1,769.3 1071.7,754.2 1070.2,739.2 1068.5,724.1 1066.8,709 1064.9,693.9 1062.9,678.8 1060.7,663.6 1058.3,648.5 1055.1,633.5 1051.5,618.6 1047.3,603.7 1042.7,589 1037.6,574.4 1032.3,559.9 1026.7,545.4 1020.9,531 1014.9,516.7 1008.5,502.5 1002,488.3 995.4,474.2 988.4,460.1 981.2,446.2 973.5,432.5 965.3,418.9 956.8,405.6 948.1,392.4 939,379.3 929.7,366.4 920.1,353.7 910.3,341 900.2,328.6 889.9,316.3 879.4,304.1 868.7,292.1 857.7,280.3 846.5,268.6 835.1,257.1 823.5,245.8 811.6,234.6 799.6,223.6 787.4,212.8 774.9,202.2 723.9,253.2 811.7,335.1 886.1,427.2 945.5,527.8 988.8,634.7 1015.1,746.1 1023.9,859.7 1015.1,973.3 988.8,1084.7 945.5,1191.6 886.1,1292.2 811.7,1384.3 723.9,1466.2Z" fill="#f9a31a"/>
<path d="M772.8,1515.1 785.4,1504.7 797.8,1494.1 810,1483.3 822,1472.4 833.8,1461.2 845.3,1449.8 856.7,1438.3 867.8,1426.6 878.7,1414.7 889.3,1402.7 899.7,1390.5 909.9,1378.1 919.8,1365.5 929.4,1352.8 938.8,1340 948,1327 956.8,1313.8 965.5,1300.5 973.8,1287.1 981.9,1273.6 989.8,1259.9 997.3,1246.1 1004.6,1232.2 1011.6,1218.1 1018.4,1204 1024.9,1189.8 1031,1175.4 1036.9,1161 1042.5,1146.5 1047.8,1131.9 1052.5,1117.1 1056.6,1102.1 1059.7,1087 1062.3,1071.8 1064.5,1056.6 1066.5,1041.3 1068.2,1026.1 1069.6,1010.9 1070.9,995.7 1071.9,980.5 1072.8,965.3 1073.5,950.2 1074.3,935.1 1075,920 1075.3,904.9 1075.4,889.8 1075.5,874.8 1075.5,859.7 1075.4,844.6 1075,829.6 1074.4,814.5 1073.6,799.5 1072.4,784.5 1071.1,769.5 1069.9,754.4 1068.4,739.4 1066.7,724.3 1064.8,709.3 1062.9,694.2 1060.7,679.2 1058.4,664.1 1055.9,649 1053,634 1049.6,619 1045.5,604.2 1040.8,589.6 1035.8,575 1030.5,560.5 1024.9,546.1 1019.1,531.7 1013,517.4 1006.7,503.2 1000.2,489.1 993.5,475 986.6,461 979.3,447.1 971.6,433.4 963.5,419.9 955,406.6 946.2,393.4 937.2,380.4 927.9,367.5 918.3,354.8 908.5,342.2 898.5,329.8 888.2,317.5 877.7,305.4 867,293.4 856,281.6 844.8,270 833.5,258.5 821.8,247.2 810,236.1 798,225.1 785.8,214.3 773.4,203.7 723.9,253.2 811.7,335.1 886.1,427.2 945.5,527.8 988.8,634.7 1015.1,746.1 1023.9,859.7 1015.1,973.3 988.8,1084.7 945.5,1191.6 886.1,1292.2 811.7,1384.3 723.9,1466.2Z" fill="#f89c1c"/>
<path d="M770.8,1513.1 783.3,1502.7 795.7,1492.1 807.9,1481.4 819.8,1470.4 831.5,1459.3 843.1,1448 854.4,1436.5 865.4,1424.8 876.3,1413 886.9,1401 897.3,1388.8 907.4,1376.5 917.3,1364 926.9,1351.3 936.3,1338.5 945.4,1325.5 954.2,1312.4 962.8,1299.2 971.2,1285.8 979.2,1272.3 987,1258.6 994.6,1244.9 1001.9,1231 1008.9,1217 1015.6,1203 1022.1,1188.8 1028.2,1174.5 1034.1,1160.1 1039.7,1145.6 1044.9,1131 1049.6,1116.3 1053.5,1101.3 1056.7,1086.3 1059.5,1071.2 1061.9,1056 1064,1040.8 1065.9,1025.7 1067.3,1010.5 1068.2,995.3 1068.9,980.1 1069.6,965 1070.4,949.9 1071.2,934.8 1071.9,919.8 1072.3,904.8 1072.5,889.7 1072.6,874.7 1072.6,859.7 1072.4,844.7 1072.1,829.7 1071.5,814.7 1070.6,799.7 1069.5,784.7 1068.2,769.7 1066.9,754.7 1065.7,739.7 1064.3,724.7 1062.8,709.6 1060.8,694.6 1058.6,679.6 1056.1,664.6 1053.4,649.6 1050.4,634.6 1046.9,619.7 1043,604.9 1038.4,590.3 1033.3,575.8 1028,561.3 1022.4,546.9 1016.6,532.6 1010.5,518.4 1004.2,504.2 997.7,490.1 991,476.1 984,462.2 976.7,448.3 969.1,434.7 960.9,421.2 952.5,408 943.7,394.8 934.7,381.8 925.4,369 915.9,356.3 906.1,343.8 896.1,331.4 885.9,319.1 875.4,307.1 864.7,295.1 853.7,283.4 842.6,271.8 831.2,260.4 819.6,249.1 807.9,238 795.9,227.1 783.7,216.4 771.3,205.8 723.9,253.2 811.7,335.1 886.1,427.2 945.5,527.8 988.8,634.7 1015.1,746.1 1023.9,859.7 1015.1,973.3 988.8,1084.7 945.5,1191.6 886.1,1292.2 811.7,1384.3 723.9,1466.2Z" fill="#f7951e"/>
<path d="M768.4,1510.7 781,1500.4 793.3,1489.9 805.4,1479.2 817.3,1468.3 829,1457.2 840.5,1445.9 851.7,1434.5 862.8,1422.8 873.6,1411 884.2,1399.1 894.5,1386.9 904.6,1374.6 914.4,1362.2 924,1349.5 933.4,1336.8 942.4,1323.9 951.3,1310.8 959.8,1297.6 968.1,1284.3 976.2,1270.8 984,1257.2 991.5,1243.5 998.8,1229.7 1005.7,1215.8 1012.5,1201.8 1018.9,1187.6 1025,1173.4 1030.9,1159 1036.4,1144.6 1041.7,1130.1 1046.4,1115.4 1050.4,1100.5 1053.7,1085.6 1056.7,1070.5 1059.3,1055.5 1061.3,1040.3 1062.9,1025.2 1064.1,1010 1065,994.8 1065.8,979.7 1066.5,964.6 1067.3,949.6 1068.1,934.6 1068.9,919.6 1069.3,904.6 1069.5,889.6 1069.6,874.7 1069.6,859.7 1069.5,844.7 1069.2,829.8 1068.6,814.8 1067.7,799.9 1066.5,784.9 1065.2,770 1064,755.1 1062.8,740.1 1061.4,725.1 1059.9,710.1 1058.2,695.1 1056.2,680 1053.8,665.1 1051,650.1 1047.8,635.3 1044.2,620.4 1040.2,605.7 1035.5,591.1 1030.5,576.7 1025.2,562.2 1019.6,547.9 1013.8,533.6 1007.7,519.5 1001.4,505.4 994.8,491.3 988.1,477.4 981.2,463.5 973.9,449.7 966.2,436.1 958.1,422.7 949.6,409.5 940.9,396.4 931.9,383.5 922.6,370.7 913.1,358.1 903.4,345.6 893.4,333.2 883.2,321 872.7,309 862.1,297.1 851.2,285.4 840,273.9 828.7,262.5 817.2,251.3 805.4,240.2 793.5,229.4 781.3,218.7 769,208.1 734.7,242.4 746.6,252.2 758.2,262.2 769.7,272.3 781,282.7 792.1,293.2 803,303.9 813.6,314.7 824.1,325.8 834.4,337 844.4,348.3 854.2,359.8 863.8,371.5 873.1,383.3 882.2,395.2 891.1,407.3 899.8,419.5 908.2,431.9 916.4,444.4 924.3,457 932,469.8 939.4,482.6 946.6,495.6 953.5,508.7 960.2,521.9 966.6,535.2 972.7,548.6 978.6,562.1 984.3,575.6 989.6,589.3 994.7,603.1 999.6,616.9 1004.2,630.8 1008.5,644.7 1012.6,658.8 1016.5,672.8 1020,687 1023.4,701.2 1026.5,715.4 1029.3,729.7 1031.9,744 1034.2,758.3 1036.2,772.8 1037.8,787.2 1039.1,801.7 1040.1,816.2 1040.8,830.7 1041.2,845.2 1041.3,859.7 1041.2,874.2 1040.8,888.7 1040.1,903.2 1039.2,917.7 1038,932.2 1036.4,946.7 1034.4,961.1 1032.1,975.4 1029.5,989.8 1026.7,1004 1023.6,1018.3 1020.2,1032.5 1016.6,1046.6 1012.8,1060.7 1008.7,1074.7 1004.3,1088.7 999.7,1102.6 994.9,1116.4 989.7,1130.1 984.4,1143.8 978.7,1157.4 972.8,1170.9 966.7,1184.3 960.2,1197.6 953.6,1210.7 946.6,1223.8 939.4,1236.8 932,1249.7 924.3,1262.4 916.4,1275 908.2,1287.5 899.8,1299.9 891.1,1312.1 882.3,1324.2 873.1,1336.1 863.8,1347.9 854.2,1359.6 844.4,1371.1 834.4,1382.4 824.1,1393.6 813.7,1404.7 803,1415.5 792.1,1426.2 781,1436.7 769.7,1447.1 758.2,1457.2 746.6,1467.2 734.7,1477Z" fill="#f68d1f"/>
<path d="M766.1,1508.4 778.6,1498.1 790.9,1487.6 803,1477 814.8,1466.1 826.5,1455 837.9,1443.8 849.1,1432.4 860.1,1420.8 870.9,1409.1 881.4,1397.1 891.7,1385 901.8,1372.8 911.6,1360.4 921.1,1347.8 930.5,1335.1 939.5,1322.2 948.3,1309.2 956.9,1296 965.1,1282.8 973.2,1269.4 980.9,1255.8 988.4,1242.2 995.7,1228.4 1002.6,1214.5 1009.3,1200.5 1015.7,1186.5 1021.8,1172.3 1027.7,1158 1033.2,1143.6 1038.5,1129.1 1043.2,1114.5 1047.3,1099.7 1050.7,1084.9 1053.6,1069.9 1056.1,1054.8 1058.1,1039.7 1059.8,1024.6 1061,1009.5 1061.9,994.4 1062.6,979.3 1063.3,964.3 1064.1,949.3 1065,934.3 1065.8,919.4 1066.3,904.5 1066.6,889.5 1066.7,874.6 1066.7,859.7 1066.6,844.8 1066.3,829.9 1065.6,815 1064.7,800.1 1063.6,785.2 1062.3,770.3 1061.1,755.4 1059.9,740.4 1058.6,725.5 1057.1,710.5 1055.4,695.5 1053.4,680.6 1051,665.6 1048.3,650.7 1045.2,635.9 1041.5,621.1 1037.4,606.5 1032.7,591.9 1027.7,577.5 1022.3,563.2 1016.8,548.9 1011,534.7 1004.9,520.5 998.5,506.5 992,492.5 985.3,478.6 978.3,464.8 971,451.1 963.3,437.5 955.2,424.2 946.8,411 938.1,398 929.1,385.1 919.8,372.4 910.4,359.8 900.7,347.3 890.7,335 880.5,322.9 870.1,310.9 859.4,299.1 848.6,287.4 837.5,275.9 826.2,264.6 814.7,253.4 803,242.4 791,231.6 778.9,221 766.6,210.5 736.8,240.3 748.7,250.1 760.4,260.1 771.9,270.3 783.3,280.7 794.4,291.3 805.3,302 816,312.9 826.5,324 836.7,335.2 846.8,346.6 856.6,358.2 866.2,369.9 875.6,381.7 884.7,393.7 893.6,405.8 902.3,418.1 910.8,430.5 918.9,443.1 926.9,455.7 934.6,468.5 942,481.4 949.1,494.5 956,507.6 962.7,520.9 969.1,534.2 975.3,547.6 981.2,561.2 986.8,574.8 992.2,588.5 997.3,602.3 1002.1,616.2 1006.8,630.1 1011.3,644.1 1015.6,658.1 1019.7,672.2 1023.6,686.3 1027.3,700.5 1030.9,714.7 1034.4,728.9 1037.6,743.3 1040.6,757.7 1043.1,772.1 1044.9,786.6 1046.1,801.2 1047,815.8 1047.7,830.5 1048.1,845.1 1048.3,859.7 1048.1,874.3 1047.8,889 1047.3,903.6 1046.4,918.2 1045.3,932.8 1043.6,947.3 1041.2,961.8 1038.3,976.2 1035.1,990.6 1031.7,1004.8 1028,1019.1 1024.2,1033.2 1020.3,1047.4 1016.2,1061.4 1011.8,1075.5 1007.3,1089.4 1002.6,1103.4 997.8,1117.2 992.6,1131 987.3,1144.7 981.6,1158.4 975.7,1171.9 969.5,1185.3 963.1,1198.7 956.4,1211.9 949.4,1225.1 942.2,1238.1 934.7,1251 927,1263.8 919.1,1276.4 910.9,1289 902.4,1301.4 893.8,1313.6 884.8,1325.8 875.7,1337.8 866.3,1349.6 856.7,1361.3 846.9,1372.8 836.8,1384.2 826.5,1395.4 816,1406.5 805.3,1417.4 794.4,1428.1 783.3,1438.7 771.9,1449.1 760.4,1459.2 748.7,1469.3 736.8,1479.1Z" fill="#f5861f"/>
<path d="M763.8,1506.1 776.2,1495.8 788.5,1485.4 800.5,1474.8 812.3,1463.9 823.9,1452.9 835.3,1441.7 846.5,1430.4 857.5,1418.8 868.2,1407.1 878.7,1395.2 889,1383.2 899,1371 908.7,1358.6 918.3,1346.1 927.6,1333.4 936.6,1320.6 945.3,1307.6 953.9,1294.5 962.1,1281.3 970.1,1267.9 977.9,1254.4 985.3,1240.8 992.5,1227.1 999.5,1213.3 1006.2,1199.3 1012.5,1185.3 1018.7,1171.2 1024.5,1156.9 1030,1142.6 1035.3,1128.2 1040,1113.6 1044,1098.9 1047.6,1084.1 1050.6,1069.2 1053.1,1054.2 1055.1,1039.1 1056.7,1024.1 1057.9,1009 1058.6,993.9 1055.8,978.4 1047.3,962.5 1048.9,947.8 1050.3,933.2 1051.3,918.5 1052,903.8 1052.5,889.1 1052.8,874.4 1052.9,859.7 1052.7,845 1052.4,830.3 1051.7,815.6 1050.8,800.9 1049.5,786.3 1048,771.6 1046.2,757 1053.6,741.2 1055.6,725.9 1054.4,711 1052.7,696 1050.8,681.1 1048.4,666.2 1045.6,651.3 1042.4,636.6 1038.7,621.9 1034.6,607.2 1029.9,592.8 1024.8,578.4 1019.5,564.1 1014,549.9 1008.1,535.7 1002,521.6 995.7,507.6 989.1,493.7 982.4,479.9 975.4,466.1 968.1,452.5 960.4,439 952.3,425.7 943.9,412.6 935.2,399.6 926.3,386.8 917.1,374.1 907.6,361.5 897.9,349.1 888,336.9 877.8,324.8 867.5,312.8 856.8,301.1 846,289.4 834.9,278 823.7,266.7 812.2,255.6 800.5,244.6 788.6,233.9 776.5,223.3 764.2,212.9 738.9,238.2 750.9,248 762.6,258.1 774.1,268.4 785.5,278.8 796.6,289.4 807.6,300.2 818.3,311.1 828.8,322.2 839.1,333.5 849.2,344.9 859,356.5 868.7,368.3 878.1,380.1 887.2,392.2 896.2,404.4 904.9,416.7 913.3,429.1 921.5,441.7 929.5,454.4 937.2,467.3 944.6,480.2 951.7,493.3 958.6,506.5 965.3,519.8 971.7,533.2 977.8,546.7 983.7,560.3 989.3,574 994.7,587.7 999.8,601.6 1004.7,615.5 1009.5,629.4 1014.1,643.4 1018.6,657.4 1022.9,671.5 1027.1,685.6 1031.2,699.8 1035.2,714 1039.1,728.3 1043,742.6 1046.2,757 1048,771.6 1049.5,786.3 1050.8,800.9 1051.7,815.6 1052.4,830.3 1052.7,845 1052.9,859.7 1052.8,874.4 1052.5,889.1 1052,903.8 1051.3,918.5 1050.3,933.2 1048.9,947.8 1047.3,962.5 1044.2,977 1040.4,991.3 1036.4,1005.6 1032.4,1019.8 1028.3,1034 1024,1048.1 1019.6,1062.2 1015,1076.2 1010.4,1090.2 1005.6,1104.2 1000.7,1118.1 995.5,1131.9 990.1,1145.7 984.5,1159.4 978.5,1172.9 972.3,1186.4 965.9,1199.8 959.2,1213.1 952.2,1226.3 945,1239.3 937.5,1252.3 929.8,1265.1 921.8,1277.8 913.6,1290.4 905.1,1302.8 896.4,1315.2 887.4,1327.3 878.3,1339.4 868.8,1351.3 859.2,1363 849.3,1374.6 839.2,1386 828.9,1397.3 818.4,1408.3 807.6,1419.3 796.7,1430 785.5,1440.6 774.1,1451 762.6,1461.3 750.8,1471.3 738.9,1481.2Z" fill="#f47e20"/>
<path d="M761.7,1504 774.1,1493.8 786.3,1483.4 798.3,1472.8 810.1,1462 821.6,1451 833,1439.8 844.1,1428.5 855.1,1417 865.7,1405.3 876.2,1393.5 886.4,1381.5 896.4,1369.3 906.2,1357 915.7,1344.5 924.9,1331.8 933.9,1319.1 942.7,1306.1 951.2,1293.1 959.4,1279.9 967.4,1266.6 975.1,1253.1 982.5,1239.6 989.7,1225.9 996.7,1212.1 1003.3,1198.3 1009.7,1184.3 1015.8,1170.2 1021.6,1156 1027.1,1141.7 1032.3,1127.3 1037.1,1112.8 1041.2,1098.2 1044.7,1083.4 1047.7,1068.5 1050.1,1053.6 1052.1,1038.6 1053.4,1023.5 1052.7,1008.2 1046.4,992.2 1048.5,977.5 1047.3,962.5 1048.9,947.8 1050.3,933.2 1051.3,918.5 1052,903.8 1052.5,889.1 1052.8,874.4 1052.9,859.7 1052.7,845 1052.4,830.3 1051.7,815.6 1050.8,800.9 1049.5,786.3 1048,771.6 1046.2,757 1047,742.1 1044.6,727.5 1049.7,711.7 1049.8,696.5 1048.1,681.6 1045.8,666.7 1043.1,651.9 1039.9,637.2 1036.3,622.5 1032.1,607.9 1027.4,593.5 1022.3,579.2 1017,564.9 1011.4,550.7 1005.6,536.6 999.5,522.6 993.1,508.7 986.6,494.8 979.8,481 972.8,467.3 965.5,453.7 957.8,440.3 949.7,427.1 941.3,414 932.7,401 923.7,388.2 914.6,375.6 905.1,363.1 895.5,350.7 885.6,338.5 875.4,326.5 865.1,314.6 854.5,302.8 843.7,291.3 832.6,279.9 821.4,268.6 809.9,257.5 798.3,246.6 786.4,235.9 774.4,225.4 762.1,215 741.1,236 753,246 764.8,256.1 776.4,266.4 787.7,276.8 798.9,287.5 809.9,298.3 820.6,309.3 831.2,320.5 841.5,331.8 851.6,343.2 861.5,354.9 871.1,366.7 880.5,378.6 889.7,390.7 898.7,402.9 907.4,415.2 915.9,427.7 924.1,440.4 932.1,453.1 939.7,466 947.1,479.1 954.3,492.2 961.2,505.5 967.8,518.8 974.2,532.3 980.4,545.8 986.2,559.4 991.9,573.2 997.2,587 1002.3,600.8 1007.2,614.8 1012,628.7 1016.7,642.8 1021.3,656.8 1025.8,670.9 1030.2,685 1034.7,699.2 1039.2,713.4 1044.6,727.5 1047,742.1 1046.2,757 1048,771.6 1049.5,786.3 1050.8,800.9 1051.7,815.6 1052.4,830.3 1052.7,845 1052.9,859.7 1052.8,874.4 1052.5,889.1 1052,903.8 1051.3,918.5 1050.3,933.2 1048.9,947.8 1047.3,962.5 1048.5,977.5 1046.4,992.2 1041,1006.3 1036.3,1020.5 1031.8,1034.7 1027.3,1048.8 1022.7,1062.9 1018.1,1077 1013.3,1091 1008.5,1105 1003.6,1118.9 998.4,1132.8 993,1146.6 987.3,1160.3 981.4,1174 975.2,1187.5 968.7,1200.9 962,1214.3 955,1227.5 947.7,1240.6 940.2,1253.6 932.5,1266.5 924.5,1279.2 916.2,1291.8 907.7,1304.3 899,1316.7 890,1328.9 880.8,1341 871.4,1352.9 861.7,1364.7 851.8,1376.3 841.7,1387.8 831.3,1399.1 820.7,1410.2 810,1421.2 799,1432 787.8,1442.6 776.4,1453 764.7,1463.3 752.9,1473.4 740.9,1483.3Z" fill="#f37621"/>
<path d="M759.7,1502 772.1,1491.8 784.2,1481.4 796.2,1470.9 807.9,1460.1 819.5,1449.2 830.8,1438 841.9,1426.7 852.8,1415.3 863.4,1403.6 873.9,1391.8 884.1,1379.9 894,1367.7 903.7,1355.4 913.2,1343 922.4,1330.4 931.4,1317.7 940.1,1304.8 948.6,1291.8 956.8,1278.6 964.8,1265.3 972.5,1251.9 979.9,1238.4 987.1,1224.8 994,1211.1 1000.6,1197.2 1007,1183.3 1013,1169.2 1018.8,1155.1 1024.4,1140.9 1029.6,1126.5 1034.3,1112.1 1038.4,1097.5 1041.9,1082.7 1044.8,1067.9 1047,1052.9 1048.2,1037.8 1041.3,1021.4 1044,1006.8 1046.4,992.2 1048.5,977.5 1047.3,962.5 1048.9,947.8 1050.3,933.2 1051.3,918.5 1052,903.8 1052.5,889.1 1052.8,874.4 1052.9,859.7 1052.7,845 1052.4,830.3 1051.7,815.6 1050.8,800.9 1049.5,786.3 1048,771.6 1046.2,757 1047,742.1 1044.6,727.5 1042,712.9 1039,698.4 1044.6,682.3 1043.1,667.3 1040.6,652.5 1037.5,637.8 1033.8,623.1 1029.7,608.6 1025,594.2 1019.9,579.9 1014.6,565.7 1009,551.6 1003.2,537.5 997.1,523.5 990.7,509.6 984.1,495.8 977.4,482.1 970.3,468.4 963,454.9 955.3,441.5 947.3,428.3 938.9,415.3 930.2,402.4 921.3,389.7 912.2,377 902.8,364.6 893.1,352.3 883.3,340.1 873.1,328.1 862.8,316.2 852.2,304.5 841.5,293 830.4,281.6 819.2,270.4 807.8,259.4 796.2,248.5 784.3,237.9 772.3,227.3 760.1,217 742.8,234.3 754.8,244.2 766.6,254.4 778.2,264.7 789.6,275.2 800.8,285.9 811.8,296.8 822.6,307.8 833.1,319 843.5,330.3 853.6,341.8 863.5,353.5 873.2,365.3 882.6,377.3 891.8,389.4 900.8,401.7 909.5,414 918,426.6 926.3,439.2 934.2,452.1 941.9,465 949.3,478.1 956.4,491.3 963.3,504.6 969.9,518 976.3,531.4 982.5,545 988.3,558.7 994,572.5 999.3,586.3 1004.4,600.2 1009.4,614.2 1014.2,628.2 1019.1,642.2 1023.8,656.2 1028.6,670.3 1033.4,684.4 1039,698.4 1042,712.9 1044.6,727.5 1047,742.1 1046.2,757 1048,771.6 1049.5,786.3 1050.8,800.9 1051.7,815.6 1052.4,830.3 1052.7,845 1052.9,859.7 1052.8,874.4 1052.5,889.1 1052,903.8 1051.3,918.5 1050.3,933.2 1048.9,947.8 1047.3,962.5 1048.5,977.5 1046.4,992.2 1044,1006.8 1041.3,1021.4 1035.4,1035.4 1030.4,1049.5 1025.6,1063.6 1020.8,1077.6 1015.9,1091.6 1011,1105.7 1006,1119.6 1000.8,1133.6 995.4,1147.4 989.7,1161.2 983.8,1174.8 977.5,1188.4 971,1201.9 964.3,1215.2 957.3,1228.5 950,1241.7 942.5,1254.7 934.7,1267.6 926.7,1280.4 918.4,1293 909.9,1305.6 901.2,1318 892.2,1330.2 882.9,1342.3 873.5,1354.3 863.8,1366.1 853.8,1377.7 843.7,1389.2 833.3,1400.6 822.7,1411.7 811.9,1422.7 800.9,1433.6 789.6,1444.2 778.2,1454.7 766.6,1465 754.7,1475.1 742.7,1485Z" fill="#f26e22"/>
<path d="M757.7,1500 770,1489.9 782.1,1479.5 794.1,1469 805.8,1458.2 817.3,1447.3 828.6,1436.2 839.6,1425 850.5,1413.5 861.1,1401.9 871.5,1390.2 881.7,1378.2 891.6,1366.1 901.3,1353.9 910.7,1341.5 919.9,1328.9 928.9,1316.2 937.6,1303.4 946,1290.4 954.2,1277.3 962.2,1264.1 969.8,1250.7 977.2,1237.3 984.4,1223.7 991.3,1210 997.9,1196.2 1004.2,1182.3 1010.3,1168.3 1016.1,1154.2 1021.6,1140 1026.8,1125.7 1031.5,1111.3 1035.6,1096.7 1038.9,1082 1041.5,1067.1 1043.1,1052.1 1038.2,1035.9 1041.3,1021.4 1044,1006.8 1046.4,992.2 1048.5,977.5 1047.3,962.5 1048.9,947.8 1050.3,933.2 1051.3,918.5 1052,903.8 1052.5,889.1 1052.8,874.4 1052.9,859.7 1052.7,845 1052.4,830.3 1051.7,815.6 1050.8,800.9 1049.5,786.3 1048,771.6 1046.2,757 1047,742.1 1044.6,727.5 1042,712.9 1039,698.4 1035.8,683.9 1039.7,668 1037.7,653.1 1034.9,638.4 1031.4,623.8 1027.3,609.3 1022.6,594.9 1017.5,580.7 1012.2,566.5 1006.6,552.4 1000.7,538.4 994.6,524.5 988.3,510.6 981.7,496.9 974.9,483.2 967.9,469.6 960.5,456.1 952.9,442.8 944.8,429.6 936.5,416.6 927.8,403.8 918.9,391.1 909.8,378.5 900.4,366.1 890.8,353.8 880.9,341.7 870.8,329.7 860.5,317.9 850,306.2 839.2,294.7 828.3,283.4 817.1,272.2 805.7,261.2 794.1,250.4 782.3,239.8 770.3,229.3 758.1,219 744.6,232.5 756.6,242.5 768.4,252.7 780,263.1 791.5,273.6 802.7,284.3 813.7,295.2 824.5,306.3 835.1,317.5 845.4,328.9 855.6,340.4 865.5,352.1 875.2,364 884.7,376 893.9,388.1 902.9,400.4 911.7,412.9 920.2,425.4 928.4,438.1 936.4,451 944.1,464 951.5,477.1 958.6,490.3 965.4,503.7 972.1,517.1 978.5,530.6 984.6,544.3 990.5,558 996.1,571.8 1001.4,585.7 1006.5,599.6 1011.5,613.6 1016.5,627.6 1021.4,641.6 1026.4,655.7 1031.7,669.7 1035.8,683.9 1039,698.4 1042,712.9 1044.6,727.5 1047,742.1 1046.2,757 1048,771.6 1049.5,786.3 1050.8,800.9 1051.7,815.6 1052.4,830.3 1052.7,845 1052.9,859.7 1052.8,874.4 1052.5,889.1 1052,903.8 1051.3,918.5 1050.3,933.2 1048.9,947.8 1047.3,962.5 1048.5,977.5 1046.4,992.2 1044,1006.8 1041.3,1021.4 1038.2,1035.9 1034,1050.2 1028.5,1064.2 1023.4,1078.3 1018.4,1092.3 1013.4,1106.3 1008.4,1120.3 1003.2,1134.3 997.8,1148.2 992.1,1162 986.1,1175.7 979.9,1189.3 973.4,1202.8 966.6,1216.2 959.6,1229.5 952.3,1242.7 944.8,1255.8 937,1268.7 928.9,1281.5 920.7,1294.2 912.1,1306.8 903.3,1319.2 894.3,1331.5 885.1,1343.7 875.6,1355.7 865.8,1367.5 855.9,1379.2 845.7,1390.7 835.3,1402.1 824.7,1413.3 813.8,1424.3 802.8,1435.2 791.5,1445.8 780,1456.3 768.4,1466.7 756.5,1476.8 744.4,1486.8Z" fill="#f16623"/>
<path d="M755.7,1498 768,1487.9 780.1,1477.6 792,1467.1 803.6,1456.4 815.1,1445.5 826.4,1434.5 837.4,1423.2 848.2,1411.8 858.8,1400.3 869.2,1388.5 879.3,1376.6 889.2,1364.6 898.9,1352.4 908.3,1340 917.5,1327.5 926.4,1314.8 935,1302 943.5,1289.1 951.6,1276 959.5,1262.8 967.2,1249.5 974.6,1236.1 981.7,1222.6 988.6,1208.9 995.2,1195.2 1001.5,1181.3 1007.6,1167.3 1013.4,1153.3 1018.8,1139.1 1024.1,1124.9 1028.7,1110.5 1032.6,1096 1035.8,1081.2 1031,1064.8 1034.7,1050.4 1038.2,1035.9 1041.3,1021.4 1044,1006.8 1046.4,992.2 1048.5,977.5 1047.3,962.5 1048.9,947.8 1050.3,933.2 1051.3,918.5 1052,903.8 1052.5,889.1 1052.8,874.4 1052.9,859.7 1052.7,845 1052.4,830.3 1051.7,815.6 1050.8,800.9 1049.5,786.3 1048,771.6 1046.2,757 1047,742.1 1044.6,727.5 1042,712.9 1039,698.4 1035.8,683.9 1032.3,669.5 1028.6,655.2 1032.1,639 1028.8,624.4 1024.8,609.9 1020.2,595.6 1015.1,581.4 1009.7,567.3 1004.2,553.2 998.3,539.3 992.2,525.4 985.8,511.6 979.3,497.9 972.5,484.2 965.4,470.7 958.1,457.3 950.4,444 942.4,430.9 934,417.9 925.4,405.1 916.5,392.5 907.4,379.9 898.1,367.6 888.5,355.3 878.6,343.2 868.6,331.3 858.3,319.5 847.8,307.9 837,296.5 826.1,285.2 814.9,274.1 803.5,263.1 792,252.3 780.2,241.7 768.2,231.3 756,221 746.4,230.7 758.4,240.8 770.2,251 781.9,261.4 793.3,272 804.6,282.7 815.6,293.7 826.4,304.8 837,316 847.4,327.4 857.6,339 867.5,350.8 877.3,362.6 886.7,374.7 896,386.9 905,399.2 913.8,411.7 922.3,424.3 930.6,437 938.6,449.9 946.2,462.9 953.6,476.1 960.7,489.4 967.6,502.8 974.2,516.3 980.6,529.8 986.7,543.5 992.6,557.2 998.2,571.1 1003.5,585 1008.6,599 1013.6,613 1018.7,627 1023.9,641 1028.6,655.2 1032.3,669.5 1035.8,683.9 1039,698.4 1042,712.9 1044.6,727.5 1047,742.1 1046.2,757 1048,771.6 1049.5,786.3 1050.8,800.9 1051.7,815.6 1052.4,830.3 1052.7,845 1052.9,859.7 1052.8,874.4 1052.5,889.1 1052,903.8 1051.3,918.5 1050.3,933.2 1048.9,947.8 1047.3,962.5 1048.5,977.5 1046.4,992.2 1044,1006.8 1041.3,1021.4 1038.2,1035.9 1034.7,1050.4 1031,1064.8 1026.3,1078.9 1021,1093 1015.9,1107 1010.8,1121 1005.7,1135.1 1000.2,1149 994.5,1162.8 988.5,1176.6 982.3,1190.2 975.7,1203.8 969,1217.2 961.9,1230.5 954.6,1243.8 947.1,1256.9 939.3,1269.9 931.2,1282.7 922.9,1295.4 914.3,1308 905.5,1320.5 896.5,1332.8 887.2,1345 877.7,1357 867.9,1368.9 857.9,1380.6 847.7,1392.2 837.3,1403.6 826.6,1414.8 815.8,1425.9 804.7,1436.8 793.4,1447.5 781.9,1458 770.2,1468.4 758.3,1478.5 746.2,1488.5Z" fill="#f16023"/>
<path d="M753.7,1496 766,1485.9 778,1475.7 789.9,1465.2 801.5,1454.5 812.9,1443.7 824.1,1432.7 835.1,1421.5 845.9,1410.1 856.5,1398.6 866.8,1386.9 876.9,1375 886.8,1363 896.4,1350.8 905.8,1338.5 915,1326 923.9,1313.4 932.5,1300.7 940.9,1287.8 949.1,1274.7 956.9,1261.6 964.6,1248.3 972,1234.9 979.1,1221.4 985.9,1207.8 992.5,1194.1 998.8,1180.3 1004.9,1166.4 1010.6,1152.4 1016.1,1138.3 1021.3,1124.1 1018.1,1107.6 1022.7,1093.4 1027,1079.1 1031,1064.8 1034.7,1050.4 1038.2,1035.9 1041.3,1021.4 1044,1006.8 1046.4,992.2 1048.5,977.5 1047.3,962.5 1048.9,947.8 1050.3,933.2 1051.3,918.5 1052,903.8 1052.5,889.1 1052.8,874.4 1052.9,859.7 1052.7,845 1052.4,830.3 1051.7,815.6 1050.8,800.9 1049.5,786.3 1048,771.6 1046.2,757 1047,742.1 1044.6,727.5 1042,712.9 1039,698.4 1035.8,683.9 1032.3,669.5 1028.6,655.2 1024.5,640.9 1020.2,626.6 1015.6,612.5 1017.8,596.3 1012.7,582.2 1007.3,568.1 1001.7,554.1 995.9,540.2 989.8,526.3 983.4,512.6 976.8,498.9 970,485.3 963,471.8 955.6,458.4 947.9,445.2 939.9,432.2 931.6,419.3 923,406.5 914.1,393.9 905,381.4 895.7,369 886.1,356.8 876.3,344.8 866.3,332.9 856,321.2 845.5,309.6 834.8,298.2 823.9,286.9 812.8,275.9 801.4,265 789.9,254.2 778.1,243.7 766.2,233.3 754,223.1 748.1,229 760.2,239 772,249.3 783.7,259.7 795.2,270.4 806.5,281.1 817.5,292.1 828.4,303.2 839,314.5 849.4,326 859.6,337.6 869.6,349.4 879.3,361.3 888.8,373.4 898.1,385.6 907.1,398 915.9,410.5 924.4,423.1 932.7,435.9 940.7,448.8 948.4,461.9 955.8,475.1 962.9,488.4 969.7,501.9 976.3,515.4 982.7,529 988.8,542.7 994.7,556.5 1000.3,570.4 1005.6,584.3 1010.7,598.4 1015.6,612.5 1020.2,626.6 1024.5,640.9 1028.6,655.2 1032.3,669.5 1035.8,683.9 1039,698.4 1042,712.9 1044.6,727.5 1047,742.1 1046.2,757 1048,771.6 1049.5,786.3 1050.8,800.9 1051.7,815.6 1052.4,830.3 1052.7,845 1052.9,859.7 1052.8,874.4 1052.5,889.1 1052,903.8 1051.3,918.5 1050.3,933.2 1048.9,947.8 1047.3,962.5 1048.5,977.5 1046.4,992.2 1044,1006.8 1041.3,1021.4 1038.2,1035.9 1034.7,1050.4 1031,1064.8 1027,1079.1 1022.7,1093.4 1018.1,1107.6 1013.2,1121.8 1008.1,1135.8 1002.6,1149.8 996.9,1163.6 990.9,1177.4 984.6,1191.1 978.1,1204.7 971.3,1218.2 964.2,1231.6 956.9,1244.8 949.3,1258 941.5,1271 933.4,1283.9 925.1,1296.6 916.5,1309.3 907.7,1321.8 898.6,1334.1 889.3,1346.4 879.8,1358.4 870,1370.3 860,1382.1 849.7,1393.7 839.3,1405.1 828.6,1416.3 817.7,1427.4 806.6,1438.4 795.3,1449.1 783.7,1459.7 772,1470 760,1480.2 747.9,1490.2Z" fill="#f05b24"/>
</g>
<g opacity="0.38"><path d="M1812.5,36.5 1812.4,44.4 1812,52.2 1811.5,59.9 1810.8,67.6 1809.9,75.2 1808.9,82.7 1807.6,90.1 1806.2,97.4 1804.6,104.7 1802.9,111.9 1801,119 1798.9,126.1 1796.7,133 1794.3,139.9 1791.8,146.8 1789.2,153.5 1786.4,160.2 1783.5,166.9 1780.4,173.4 1777.2,180 1773.9,186.4 1770.5,192.8 1766.9,199.1 1763.3,205.3 1759.5,211.5 1755.6,217.7 1751.6,223.7 1747.6,229.8 1743.4,235.7 1739.1,241.6 1734.8,247.5 1730.3,253.3 1725.8,259 1721.2,264.7 1716.5,270.4 1711.7,276 1706.9,281.5 1702,287 1697,292.5 1691.9,297.9 1686.8,303.3 1681.7,308.6 1676.4,313.9 1671.2,319.1 1665.8,324.3 1660.5,329.5 1655,334.6 1649.6,339.7 1644.1,344.7 1638.5,349.7 1633,354.7 1627.4,359.6 1621.7,364.5 1616.1,369.4 1610.4,374.2 1604.7,379 1598.9,383.8 1593.2,388.6 1587.5,393.3 1581.7,398 1575.9,402.7 1570.2,407.3 1564.4,411.9 1558.6,416.5 1552.9,421.1 1547.1,425.7 1541.4,430.2 1535.6,434.7 1529.9,439.2 1524.1,443.7 1518.4,448.2 1512.6,452.7 1506.9,457.1 1501.2,461.5 1495.5,466 1489.7,470.4 1484,474.8 1478.3,479.2 1472.5,483.6 1466.8,488 1461.1,492.4 1455.4,496.8 1449.6,501.2 1443.9,505.6 1438.2,510 1432.5,514.4 1426.7,518.8 1421,523.2 1415.3,527.6 1409.5,532.1 1403.8,536.5 1398,540.9 1392.3,545.4 1386.5,549.9 1380.8,554.4 1375,558.9 1369.2,563.4 1363.5,567.9 1357.7,572.5 1351.9,577.1 1346.1,581.7 1340.3,586.3 1334.5,591 1328.7,595.6 1322.9,600.3 1317.1,605.1 1311.3,609.8 1305.5,614.6 1299.8,619.4 1294,624.3 1288.3,629.2 1282.6,634.1 1276.9,639.1 1271.2,644.1 1265.5,649.1 1259.9,654.2 1254.3,659.3 1248.7,664.4 1243.2,669.7 1237.7,674.9 1232.2,680.2 1226.8,685.5 1221.5,690.9 1216.3,696.4 1211.2,701.9 1206.1,707.5 1201.2,713.1 1196.5,718.8 1191.8,724.5 1187.3,730.3 1182.9,736.2 1178.8,742.1 1174.8,748.2 1170.9,754.2 1167.3,760.4 1163.9,766.6 1160.7,773 1157.7,779.3 1155,785.8 1152.5,792.4 1150.3,799 1148.3,805.7 1146.6,812.6 1145.2,819.5 1144.1,826.5 1143.4,833.6 1142.9,840.7 1142.7,848 1142.8,855.3 1143.2,862.6 1143.9,870 1144.8,877.4 1146,884.7 1147.4,892.1 1149.1,899.4 1151.1,906.6 1153.2,913.8 1155.6,920.9 1158.2,927.8 1160.9,934.7 1163.9,941.5 1167.1,948.1 1170.4,954.6 1173.9,961 1177.6,967.4 1181.4,973.6 1185.4,979.7 1189.5,985.7 1193.8,991.7 1198.1,997.5 1202.6,1003.3 1207.2,1009 1211.9,1014.6 1216.7,1020.2 1221.5,1025.6 1226.4,1031.1 1231.4,1036.4 1236.5,1041.8 1241.6,1047 1246.7,1052.3 1251.9,1057.4 1257.2,1062.6 1262.4,1067.7 1267.7,1072.7 1273.1,1077.8 1278.5,1082.7 1283.9,1087.7 1289.3,1092.6 1294.8,1097.5 1300.3,1102.3 1305.9,1107.1 1311.4,1111.9 1317,1116.6 1322.6,1121.4 1328.3,1126.1 1334,1130.7 1339.7,1135.4 1345.4,1140 1351.1,1144.6 1356.9,1149.2 1362.7,1153.7 1368.5,1158.3 1374.3,1162.8 1380.1,1167.3 1386,1171.8 1391.8,1176.3 1397.7,1180.8 1403.6,1185.3 1409.5,1189.7 1415.4,1194.2 1421.3,1198.6 1427.3,1203.1 1433.2,1207.5 1439.1,1211.9 1445.1,1216.4 1451,1220.8 1457,1225.2 1462.9,1229.7 1468.9,1234.1 1474.8,1238.5 1480.8,1243 1486.7,1247.4 1492.7,1251.9 1498.6,1256.4 1504.5,1260.9 1510.5,1265.4 1516.4,1269.9 1522.3,1274.4 1528.1,1278.9 1534,1283.4 1539.9,1288 1545.7,1292.6 1551.5,1297.2 1557.3,1301.8 1563.1,1306.4 1568.9,1311.1 1574.6,1315.7 1580.4,1320.4 1586.1,1325.1 1591.7,1329.9 1597.4,1334.6 1603,1339.4 1608.6,1344.2 1614.1,1349.1 1619.6,1354 1625.1,1358.9 1630.6,1363.8 1636,1368.7 1641.4,1373.7 1646.7,1378.8 1652,1383.8 1657.3,1388.9 1662.5,1394.1 1667.7,1399.2 1672.8,1404.4 1677.9,1409.7 1682.9,1415 1687.9,1420.3 1692.8,1425.6 1697.7,1431 1702.6,1436.5 1707.3,1442 1712.1,1447.5 1716.7,1453.1 1721.3,1458.8 1725.9,1464.4 1730.4,1470.2 1734.8,1475.9 1739.2,1481.8 1743.5,1487.7 1747.7,1493.6 1751.9,1499.6 1756,1505.6 1760,1511.7 1764,1517.9 1767.9,1524.1 1771.7,1530.4 1775.4,1536.7 1778.9,1543.1 1782.4,1549.5 1785.8,1556.1 1789,1562.6 1792.1,1569.3 1795,1576 1797.8,1582.7 1800.5,1589.6 1803,1596.5 1805.3,1603.5 1807.4,1610.5 1809.4,1617.6 1811.1,1624.8 1812.7,1632.1 1814.1,1639.4 1815.2,1646.8 1816.1,1654.3 1816.8,1661.8 1817.3,1669.5 1817.5,1677.2 1817.5,1685 1830,1685 1830,36.5Z" fill="#9bd0f2" stroke="#9bd0f2" stroke-width="11.5" stroke-linejoin="round"/></g>
<path d="M1812.5,36.5 1812.4,44.4 1812,52.2 1811.5,59.9 1810.8,67.6 1809.9,75.2 1808.9,82.7 1807.6,90.1 1806.2,97.4 1804.6,104.7 1802.9,111.9 1801,119 1798.9,126.1 1796.7,133 1794.3,139.9 1791.8,146.8 1789.2,153.5 1786.4,160.2 1783.5,166.9 1780.4,173.4 1777.2,180 1773.9,186.4 1770.5,192.8 1766.9,199.1 1763.3,205.3 1759.5,211.5 1755.6,217.7 1751.6,223.7 1747.6,229.8 1743.4,235.7 1739.1,241.6 1734.8,247.5 1730.3,253.3 1725.8,259 1721.2,264.7 1716.5,270.4 1711.7,276 1706.9,281.5 1702,287 1697,292.5 1691.9,297.9 1686.8,303.3 1681.7,308.6 1676.4,313.9 1671.2,319.1 1665.8,324.3 1660.5,329.5 1655,334.6 1649.6,339.7 1644.1,344.7 1638.5,349.7 1633,354.7 1627.4,359.6 1621.7,364.5 1616.1,369.4 1610.4,374.2 1604.7,379 1598.9,383.8 1593.2,388.6 1587.5,393.3 1581.7,398 1575.9,402.7 1570.2,407.3 1564.4,411.9 1558.6,416.5 1552.9,421.1 1547.1,425.7 1541.4,430.2 1535.6,434.7 1529.9,439.2 1524.1,443.7 1518.4,448.2 1512.6,452.7 1506.9,457.1 1501.2,461.5 1495.5,466 1489.7,470.4 1484,474.8 1478.3,479.2 1472.5,483.6 1466.8,488 1461.1,492.4 1455.4,496.8 1449.6,501.2 1443.9,505.6 1438.2,510 1432.5,514.4 1426.7,518.8 1421,523.2 1415.3,527.6 1409.5,532.1 1403.8,536.5 1398,540.9 1392.3,545.4 1386.5,549.9 1380.8,554.4 1375,558.9 1369.2,563.4 1363.5,567.9 1357.7,572.5 1351.9,577.1 1346.1,581.7 1340.3,586.3 1334.5,591 1328.7,595.6 1322.9,600.3 1317.1,605.1 1311.3,609.8 1305.5,614.6 1299.8,619.4 1294,624.3 1288.3,629.2 1282.6,634.1 1276.9,639.1 1271.2,644.1 1265.5,649.1 1259.9,654.2 1254.3,659.3 1248.7,664.4 1243.2,669.7 1237.7,674.9 1232.2,680.2 1226.8,685.5 1221.5,690.9 1216.3,696.4 1211.2,701.9 1206.1,707.5 1201.2,713.1 1196.5,718.8 1191.8,724.5 1187.3,730.3 1182.9,736.2 1178.8,742.1 1174.8,748.2 1170.9,754.2 1167.3,760.4 1163.9,766.6 1160.7,773 1157.7,779.3 1155,785.8 1152.5,792.4 1150.3,799 1148.3,805.7 1146.6,812.6 1145.2,819.5 1144.1,826.5 1143.4,833.6 1142.9,840.7 1142.7,848 1142.8,855.3 1143.2,862.6 1143.9,870 1144.8,877.4 1146,884.7 1147.4,892.1 1149.1,899.4 1151.1,906.6 1153.2,913.8 1155.6,920.9 1158.2,927.8 1160.9,934.7 1163.9,941.5 1167.1,948.1 1170.4,954.6 1173.9,961 1177.6,967.4 1181.4,973.6 1185.4,979.7 1189.5,985.7 1193.8,991.7 1198.1,997.5 1202.6,1003.3 1207.2,1009 1211.9,1014.6 1216.7,1020.2 1221.5,1025.6 1226.4,1031.1 1231.4,1036.4 1236.5,1041.8 1241.6,1047 1246.7,1052.3 1251.9,1057.4 1257.2,1062.6 1262.4,1067.7 1267.7,1072.7 1273.1,1077.8 1278.5,1082.7 1283.9,1087.7 1289.3,1092.6 1294.8,1097.5 1300.3,1102.3 1305.9,1107.1 1311.4,1111.9 1317,1116.6 1322.6,1121.4 1328.3,1126.1 1334,1130.7 1339.7,1135.4 1345.4,1140 1351.1,1144.6 1356.9,1149.2 1362.7,1153.7 1368.5,1158.3 1374.3,1162.8 1380.1,1167.3 1386,1171.8 1391.8,1176.3 1397.7,1180.8 1403.6,1185.3 1409.5,1189.7 1415.4,1194.2 1421.3,1198.6 1427.3,1203.1 1433.2,1207.5 1439.1,1211.9 1445.1,1216.4 1451,1220.8 1457,1225.2 1462.9,1229.7 1468.9,1234.1 1474.8,1238.5 1480.8,1243 1486.7,1247.4 1492.7,1251.9 1498.6,1256.4 1504.5,1260.9 1510.5,1265.4 1516.4,1269.9 1522.3,1274.4 1528.1,1278.9 1534,1283.4 1539.9,1288 1545.7,1292.6 1551.5,1297.2 1557.3,1301.8 1563.1,1306.4 1568.9,1311.1 1574.6,1315.7 1580.4,1320.4 1586.1,1325.1 1591.7,1329.9 1597.4,1334.6 1603,1339.4 1608.6,1344.2 1614.1,1349.1 1619.6,1354 1625.1,1358.9 1630.6,1363.8 1636,1368.7 1641.4,1373.7 1646.7,1378.8 1652,1383.8 1657.3,1388.9 1662.5,1394.1 1667.7,1399.2 1672.8,1404.4 1677.9,1409.7 1682.9,1415 1687.9,1420.3 1692.8,1425.6 1697.7,1431 1702.6,1436.5 1707.3,1442 1712.1,1447.5 1716.7,1453.1 1721.3,1458.8 1725.9,1464.4 1730.4,1470.2 1734.8,1475.9 1739.2,1481.8 1743.5,1487.7 1747.7,1493.6 1751.9,1499.6 1756,1505.6 1760,1511.7 1764,1517.9 1767.9,1524.1 1771.7,1530.4 1775.4,1536.7 1778.9,1543.1 1782.4,1549.5 1785.8,1556.1 1789,1562.6 1792.1,1569.3 1795,1576 1797.8,1582.7 1800.5,1589.6 1803,1596.5 1805.3,1603.5 1807.4,1610.5 1809.4,1617.6 1811.1,1624.8 1812.7,1632.1 1814.1,1639.4 1815.2,1646.8 1816.1,1654.3 1816.8,1661.8 1817.3,1669.5 1817.5,1677.2 1817.5,1685" fill="none" stroke="#87d3f6" stroke-width="11.5" stroke-dasharray="45.5 17.68" stroke-dashoffset="55"/>
<path d="M1137,31.4H1820.2V1694" fill="none" stroke="#87d3f6" stroke-width="12.8" stroke-linejoin="miter"/>
<path d="M1088.2,31.2L1137.6,-0.6V63Z" fill="#87d3f6"/>
<g stroke="#d9815c" stroke-width="4" fill="#e9a958"><rect x="1149" y="855" width="109" height="9.6"/><rect x="1256.9" y="851.2" width="261.2" height="17.3"/><rect x="1522" y="847.2" width="320" height="24.6"/></g>
<path d="M165.7,859.5H1141" stroke="#d2651e" stroke-width="4.3" fill="none"/>
<text x="1180.7" y="844.7" font-family="Liberation Sans, Arial, Helvetica, sans-serif" font-size="102.8" font-weight="bold" fill="#ddeffa" textLength="68.8" lengthAdjust="spacingAndGlyphs" stroke="#f0a63e" stroke-width="3" stroke-linejoin="round">D</text>
<text x="1373.3" y="846" font-family="Liberation Sans, Arial, Helvetica, sans-serif" font-size="102.8" font-weight="bold" fill="#ddeffa" textLength="67.4" lengthAdjust="spacingAndGlyphs" stroke="#f0a63e" stroke-width="3" stroke-linejoin="round">C</text>
<text x="1699.3" y="844.7" font-family="Liberation Sans, Arial, Helvetica, sans-serif" font-size="102.8" font-weight="bold" fill="#ddeffa" textLength="68.7" lengthAdjust="spacingAndGlyphs" stroke="#f0a63e" stroke-width="3" stroke-linejoin="round">B</text>
<path d="M165.1,815.8H1815" stroke="#a0a8b1" stroke-width="6" stroke-dasharray="6 9.83" fill="none"/>
<text x="290.2" y="546.5" font-family="Liberation Sans, Arial, Helvetica, sans-serif" font-size="48.3" font-weight="bold" fill="#de991f" textLength="574.1" lengthAdjust="spacingAndGlyphs" >Neutral Meridional Winds</text>
<text x="290.2" y="1200.4" font-family="Liberation Sans, Arial, Helvetica, sans-serif" font-size="48.3" font-weight="bold" fill="#de991f" textLength="574.1" lengthAdjust="spacingAndGlyphs" >Neutral Meridional Winds</text>
<text x="642.9" y="786.3" font-family="Liberation Sans, Arial, Helvetica, sans-serif" font-size="48.3" font-weight="bold" fill="#f04e23" textLength="383.5" lengthAdjust="spacingAndGlyphs" >Electrodynamics</text>
<text x="1104.2" y="532.6" font-family="Liberation Sans, Arial, Helvetica, sans-serif" font-size="48.3" font-weight="bold" fill="#87d3f6" textLength="235.2" lengthAdjust="spacingAndGlyphs" >Equatorial</text>
<text x="1152.4" y="583.9" font-family="Liberation Sans, Arial, Helvetica, sans-serif" font-size="48.3" font-weight="bold" fill="#87d3f6" textLength="137.1" lengthAdjust="spacingAndGlyphs" >Inflow</text>
<text x="1123.7" y="1111.9" font-family="Liberation Sans, Arial, Helvetica, sans-serif" font-size="48.3" font-weight="bold" fill="#fff" textLength="105.7" lengthAdjust="spacingAndGlyphs" >Ring</text>
<text x="1084.3" y="1162.9" font-family="Liberation Sans, Arial, Helvetica, sans-serif" font-size="48.3" font-weight="bold" fill="#fff" textLength="182.1" lengthAdjust="spacingAndGlyphs" >Shadow</text>
<text x="207.9" y="803.8" font-family="Liberation Sans, Arial, Helvetica, sans-serif" font-size="34.9" fill="#a0a8b4" textLength="283" lengthAdjust="spacingAndGlyphs" >Magnetic Equator</text>
<text x="207.9" y="849.8" font-family="Liberation Sans, Arial, Helvetica, sans-serif" font-size="34.9" fill="#d2651e" textLength="298.9" lengthAdjust="spacingAndGlyphs" >Rotational Equator</text>
<g font-family="Liberation Sans, Arial, Helvetica, sans-serif" font-size="48.6" fill="#231f20">
<text x="300.9" y="1744.3" text-anchor="middle">0.2</text>
<text x="485" y="1744.3" text-anchor="middle">0.4</text>
<text x="669.2" y="1744.3" text-anchor="middle">0.6</text>
<text x="853.3" y="1744.3" text-anchor="middle">0.8</text>
<text x="1037.4" y="1744.3" text-anchor="middle">1.0</text>
<text x="1221.5" y="1744.3" text-anchor="middle">1.2</text>
<text x="1405.6" y="1744.3" text-anchor="middle">1.4</text>
<text x="1589.8" y="1744.3" text-anchor="middle">1.6</text>
<text x="1773.9" y="1744.3" text-anchor="middle">1.8</text>
<text x="142.2" y="1613.4" text-anchor="end">-0.8</text>
<text x="142.2" y="1429.3" text-anchor="end">-0.6</text>
<text x="142.2" y="1245.1" text-anchor="end">-0.4</text>
<text x="142.2" y="1061" text-anchor="end">-0.2</text>
<text x="142.2" y="876.9" text-anchor="end">0.0</text>
<text x="142.2" y="692.8" text-anchor="end">0.2</text>
<text x="142.2" y="508.7" text-anchor="end">0.4</text>
<text x="142.2" y="324.5" text-anchor="end">0.6</text>
<text x="142.2" y="140.4" text-anchor="end">0.8</text>
</g>
<text x="316.2" y="1824.3" font-family="Liberation Sans, Arial, Helvetica, sans-serif" font-size="54.3" font-weight="bold" fill="#231f20" textLength="879.4" lengthAdjust="spacingAndGlyphs" >Distance to Saturn's Rotation Axis</text>
<text x="1558.1" y="1824.3" font-family="Liberation Sans, Arial, Helvetica, sans-serif" font-size="54.3" font-weight="bold" fill="#231f20" textLength="16.2" lengthAdjust="spacingAndGlyphs" >(</text><text x="1575.4" y="1824.3" font-family="Liberation Sans, Arial, Helvetica, sans-serif" font-size="54.3" font-weight="bold" fill="#231f20" textLength="40.4" lengthAdjust="spacingAndGlyphs" >R</text><text x="1619.1" y="1835" font-family="Liberation Serif, Times New Roman, serif" font-size="40.6" font-style="italic" fill="#231f20" textLength="23.2" lengthAdjust="spacingAndGlyphs" >S</text><text x="1645.4" y="1824.3" font-family="Liberation Sans, Arial, Helvetica, sans-serif" font-size="54.3" font-weight="bold" fill="#231f20" textLength="16" lengthAdjust="spacingAndGlyphs" >)</text>
<g transform="translate(39.1,1358.2) rotate(-90)">
<text x="-3.5" y="0" font-family="Liberation Sans, Arial, Helvetica, sans-serif" font-size="54.3" font-weight="bold" fill="#231f20" textLength="879.2" lengthAdjust="spacingAndGlyphs" >Distance from Saturn's Ring Plane</text>
<text x="890.3" y="0" font-family="Liberation Sans, Arial, Helvetica, sans-serif" font-size="54.3" font-weight="bold" fill="#231f20" textLength="16.2" lengthAdjust="spacingAndGlyphs" >(</text><text x="907.6" y="0" font-family="Liberation Sans, Arial, Helvetica, sans-serif" font-size="54.3" font-weight="bold" fill="#231f20" textLength="40.4" lengthAdjust="spacingAndGlyphs" >R</text><text x="951.3" y="10.7" font-family="Liberation Serif, Times New Roman, serif" font-size="40.6" font-style="italic" fill="#231f20" textLength="23.2" lengthAdjust="spacingAndGlyphs" >S</text><text x="977.6" y="0" font-family="Liberation Sans, Arial, Helvetica, sans-serif" font-size="54.3" font-weight="bold" fill="#231f20" textLength="16" lengthAdjust="spacingAndGlyphs" >)</text>
</g>
<text x="1213.4" y="1824.4" font-family="Liberation Serif, Times New Roman, serif" font-size="50.2" font-style="italic" fill="#231f20" textLength="26.6" lengthAdjust="spacingAndGlyphs" >ρ</text>
<text x="1247.5" y="1828.4" font-family="Liberation Serif, Times New Roman, serif" font-size="52" fill="#231f20" textLength="43.8" lengthAdjust="spacingAndGlyphs" >=</text>
<text x="1370.8" y="1824.4" font-family="Liberation Serif, Times New Roman, serif" font-size="51.3" font-style="italic" fill="#231f20" textLength="24.7" lengthAdjust="spacingAndGlyphs" >x</text>
<text x="1397.1" y="1805.2" font-family="Liberation Serif, Times New Roman, serif" font-size="38.2" fill="#231f20" textLength="21.2" lengthAdjust="spacingAndGlyphs" >2</text>
<text x="1433.3" y="1835.2" font-family="Liberation Serif, Times New Roman, serif" font-size="73.4" fill="#231f20" textLength="41.8" lengthAdjust="spacingAndGlyphs" >+</text>
<text x="1489.1" y="1824.4" font-family="Liberation Serif, Times New Roman, serif" font-size="51.3" font-style="italic" fill="#231f20" textLength="21.4" lengthAdjust="spacingAndGlyphs" >y</text>
<text x="1514.3" y="1805.2" font-family="Liberation Serif, Times New Roman, serif" font-size="38.2" fill="#231f20" textLength="19.4" lengthAdjust="spacingAndGlyphs" >2</text>
<path d="M1306.3,1814.2l8.6,-5.2l13.4,25.2l29.3,-72.2h186v3.6h-183.6l-31.3,77.3h-2.6l-16.4,-30.6l-5.8,3.6z" fill="#231f20"/>
<path d="M301.2,596.5V694.7" stroke="#de991f" stroke-width="6.5" stroke-linecap="round" fill="none"/><path d="M301.2,710.7L292.9,693.7L309.5,693.7Z" fill="#de991f" stroke="#de991f" stroke-width="4" stroke-linejoin="round"/>
<path d="M301.2,1123.3V1024.5" stroke="#de991f" stroke-width="6.5" stroke-linecap="round" fill="none"/><path d="M301.2,1008.5L292.9,1025.5L309.5,1025.5Z" fill="#de991f" stroke="#de991f" stroke-width="4" stroke-linejoin="round"/>
<path d="M485.3,596.5V694.7" stroke="#de991f" stroke-width="6.5" stroke-linecap="round" fill="none"/><path d="M485.3,710.7L477,693.7L493.6,693.7Z" fill="#de991f" stroke="#de991f" stroke-width="4" stroke-linejoin="round"/>
<path d="M485.3,1123.3V1024.5" stroke="#de991f" stroke-width="6.5" stroke-linecap="round" fill="none"/><path d="M485.3,1008.5L477,1025.5L493.6,1025.5Z" fill="#de991f" stroke="#de991f" stroke-width="4" stroke-linejoin="round"/>
<path d="M669.5,596.5V694.7" stroke="#de991f" stroke-width="6.5" stroke-linecap="round" fill="none"/><path d="M669.5,710.7L661.2,693.7L677.8,693.7Z" fill="#de991f" stroke="#de991f" stroke-width="4" stroke-linejoin="round"/>
<path d="M669.5,1123.3V1024.5" stroke="#de991f" stroke-width="6.5" stroke-linecap="round" fill="none"/><path d="M669.5,1008.5L661.2,1025.5L677.8,1025.5Z" fill="#de991f" stroke="#de991f" stroke-width="4" stroke-linejoin="round"/>
<path d="M853.6,596.5V694.7" stroke="#de991f" stroke-width="6.5" stroke-linecap="round" fill="none"/><path d="M853.6,710.7L845.3,693.7L861.9,693.7Z" fill="#de991f" stroke="#de991f" stroke-width="4" stroke-linejoin="round"/>
<path d="M853.6,1123.3V1024.5" stroke="#de991f" stroke-width="6.5" stroke-linecap="round" fill="none"/><path d="M853.6,1008.5L845.3,1025.5L861.9,1025.5Z" fill="#de991f" stroke="#de991f" stroke-width="4" stroke-linejoin="round"/>
<path d="M1144.9,1059.4L1060.3,937.7" stroke="#fff" stroke-width="6.5" fill="none"/><path d="M1051.2,924.6L1068.3,933.4L1053.5,943.7Z" fill="#fff"/>
<g fill="none" stroke="#f04e23" stroke-width="5.9" stroke-linecap="round">
<path d="M1050,815 C1088,815 1127,811 1124.6,799.4 C1122.5,789 1096,780.5 1067,773.5"/>
<path d="M1050,815 C1088,815 1127,819 1124.6,829.8 C1122.5,840 1096,846 1067,851.8"/>
</g>
<path d="M1053.5,769.2L1068.2,765.6L1064.2,781.4Z M1053.5,855.4L1064.6,842.8L1068.6,858.6Z" fill="#f04e23" stroke="#f04e23" stroke-width="3.6" stroke-linejoin="round"/>
<rect x="1158" y="1490" width="552" height="81.4" fill="url(#cb)"/>
<path d="M1709.5,1490.1H1709.9L1737,1530.7L1709.9,1571.3H1709.5Z" fill="#da2128"/>
<path d="M1280.2,1542.6V1571 M1402.9,1542.6V1571 M1525.6,1542.6V1571 M1648.3,1542.6V1571" stroke="#636466" stroke-width="3.4" fill="none"/>
<path d="M1158.6,1490.1H1709.9L1737,1530.7L1709.9,1571.3H1158.6Z" fill="none" stroke="#231f20" stroke-width="3.8" stroke-linejoin="miter"/>
<text x="1125.9" y="1626.2" font-family="Liberation Sans, Arial, Helvetica, sans-serif" font-size="42.2" fill="#231f20" textLength="44.5" lengthAdjust="spacingAndGlyphs" >10</text>
<text x="1172.8" y="1610.6" font-family="Liberation Serif, Times New Roman, serif" font-size="28.2" fill="#231f20" textLength="15.8" lengthAdjust="spacingAndGlyphs" >0</text>
<text x="1248.6" y="1626.2" font-family="Liberation Sans, Arial, Helvetica, sans-serif" font-size="42.2" fill="#231f20" textLength="44.5" lengthAdjust="spacingAndGlyphs" >10</text>
<text x="1293.6" y="1610.6" font-family="Liberation Serif, Times New Roman, serif" font-size="28.2" fill="#231f20" textLength="18.7" lengthAdjust="spacingAndGlyphs" >1</text>
<text x="1371.3" y="1626.2" font-family="Liberation Sans, Arial, Helvetica, sans-serif" font-size="42.2" fill="#231f20" textLength="44.5" lengthAdjust="spacingAndGlyphs" >10</text>
<text x="1418" y="1610.6" font-family="Liberation Serif, Times New Roman, serif" font-size="28.2" fill="#231f20" textLength="16.6" lengthAdjust="spacingAndGlyphs" >2</text>
<text x="1494" y="1626.2" font-family="Liberation Sans, Arial, Helvetica, sans-serif" font-size="42.2" fill="#231f20" textLength="44.5" lengthAdjust="spacingAndGlyphs" >10</text>
<text x="1540.8" y="1610.6" font-family="Liberation Serif, Times New Roman, serif" font-size="28.2" fill="#231f20" textLength="16" lengthAdjust="spacingAndGlyphs" >3</text>
<text x="1616.7" y="1626.2" font-family="Liberation Sans, Arial, Helvetica, sans-serif" font-size="42.2" fill="#231f20" textLength="44.5" lengthAdjust="spacingAndGlyphs" >10</text>
<text x="1664.3" y="1610.6" font-family="Liberation Serif, Times New Roman, serif" font-size="28.2" fill="#231f20" textLength="14.3" lengthAdjust="spacingAndGlyphs" >4</text>
<text x="1316.4" y="1451.2" font-family="Liberation Sans, Arial, Helvetica, sans-serif" font-size="54.3" font-weight="bold" fill="#231f20" textLength="33.3" lengthAdjust="spacingAndGlyphs" >n</text>
<text x="1352.7" y="1460.6" font-family="Liberation Serif, Times New Roman, serif" font-size="28.7" font-style="italic" fill="#231f20" textLength="16.8" lengthAdjust="spacingAndGlyphs" >e</text>
<text x="1388.7" y="1451.2" font-family="Liberation Sans, Arial, Helvetica, sans-serif" font-size="54.3" font-weight="bold" fill="#231f20" textLength="15.7" lengthAdjust="spacingAndGlyphs" >(</text>
<text x="1406.4" y="1451.2" font-family="Liberation Serif, Times New Roman, serif" font-size="54.5" font-style="italic" fill="#231f20" textLength="70.5" lengthAdjust="spacingAndGlyphs" >cm</text>
<text x="1481.4" y="1436.4" font-family="Liberation Serif, Times New Roman, serif" font-size="45.8" fill="#231f20" textLength="25.8" lengthAdjust="spacingAndGlyphs" >−</text>
<text x="1509" y="1431" font-family="Liberation Serif, Times New Roman, serif" font-size="36.1" fill="#231f20" textLength="18.9" lengthAdjust="spacingAndGlyphs" >3</text>
<text x="1533.2" y="1451.2" font-family="Liberation Sans, Arial, Helvetica, sans-serif" font-size="54.3" font-weight="bold" fill="#231f20" textLength="15.4" lengthAdjust="spacingAndGlyphs" >)</text>
</svg>
</body></html>
